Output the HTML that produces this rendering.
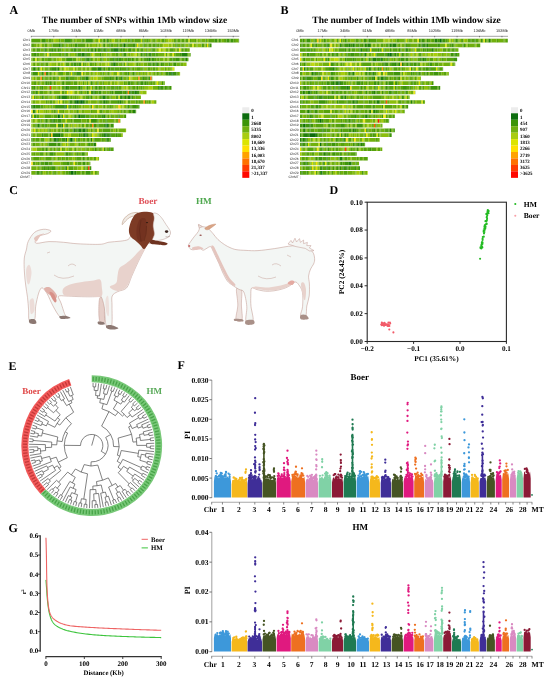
<!DOCTYPE html>
<html><head><meta charset="utf-8"><style>
html,body{margin:0;padding:0;background:#fff;width:550px;height:683px;overflow:hidden}
svg{display:block} text{text-rendering:geometricPrecision}
</style></head><body>
<svg width="550" height="683" viewBox="0 0 550 683">
<defs><filter id="hb" x="-2%" y="-2%" width="104%" height="104%"><feGaussianBlur stdDeviation="0.6 0.35"/></filter></defs>
<rect width="550" height="683" fill="#fff"/>
<text x="9.5" y="13.9" font-family="'Liberation Serif', 'Times New Roman', serif" font-weight="bold" font-size="12">A</text>
<text x="41.8" y="22.9" font-family="'Liberation Serif', 'Times New Roman', serif" font-weight="bold" font-size="9.5">The number of SNPs within 1Mb window size</text>
<line x1="31.3" y1="36.3" x2="239.33" y2="36.3" stroke="#9a9a9a" stroke-width="0.9"/>
<line x1="31.3" y1="35.9" x2="31.3" y2="37.3" stroke="#444" stroke-width="0.6"/>
<text x="31.3" y="31.9" font-family="'Liberation Sans', Arial, sans-serif" font-size="3.9" text-anchor="middle" fill="#222">0Mb</text>
<line x1="53.74" y1="35.9" x2="53.74" y2="37.3" stroke="#444" stroke-width="0.6"/>
<text x="53.74" y="31.9" font-family="'Liberation Sans', Arial, sans-serif" font-size="3.9" text-anchor="middle" fill="#222">17Mb</text>
<line x1="76.18" y1="35.9" x2="76.18" y2="37.3" stroke="#444" stroke-width="0.6"/>
<text x="76.18" y="31.9" font-family="'Liberation Sans', Arial, sans-serif" font-size="3.9" text-anchor="middle" fill="#222">34Mb</text>
<line x1="98.62" y1="35.9" x2="98.62" y2="37.3" stroke="#444" stroke-width="0.6"/>
<text x="98.62" y="31.9" font-family="'Liberation Sans', Arial, sans-serif" font-size="3.9" text-anchor="middle" fill="#222">51Mb</text>
<line x1="121.06" y1="35.9" x2="121.06" y2="37.3" stroke="#444" stroke-width="0.6"/>
<text x="121.06" y="31.9" font-family="'Liberation Sans', Arial, sans-serif" font-size="3.9" text-anchor="middle" fill="#222">68Mb</text>
<line x1="143.5" y1="35.9" x2="143.5" y2="37.3" stroke="#444" stroke-width="0.6"/>
<text x="143.5" y="31.9" font-family="'Liberation Sans', Arial, sans-serif" font-size="3.9" text-anchor="middle" fill="#222">85Mb</text>
<line x1="165.94" y1="35.9" x2="165.94" y2="37.3" stroke="#444" stroke-width="0.6"/>
<text x="165.94" y="31.9" font-family="'Liberation Sans', Arial, sans-serif" font-size="3.9" text-anchor="middle" fill="#222">102Mb</text>
<line x1="188.38" y1="35.9" x2="188.38" y2="37.3" stroke="#444" stroke-width="0.6"/>
<text x="188.38" y="31.9" font-family="'Liberation Sans', Arial, sans-serif" font-size="3.9" text-anchor="middle" fill="#222">119Mb</text>
<line x1="210.82" y1="35.9" x2="210.82" y2="37.3" stroke="#444" stroke-width="0.6"/>
<text x="210.82" y="31.9" font-family="'Liberation Sans', Arial, sans-serif" font-size="3.9" text-anchor="middle" fill="#222">136Mb</text>
<line x1="233.26" y1="35.9" x2="233.26" y2="37.3" stroke="#444" stroke-width="0.6"/>
<text x="233.26" y="31.9" font-family="'Liberation Sans', Arial, sans-serif" font-size="3.9" text-anchor="middle" fill="#222">153Mb</text>
<text x="30" y="41.4" font-family="'Liberation Sans', Arial, sans-serif" font-size="3.3" text-anchor="end" fill="#333">Chr1</text>
<text x="30" y="46.13" font-family="'Liberation Sans', Arial, sans-serif" font-size="3.3" text-anchor="end" fill="#333">Chr2</text>
<text x="30" y="50.85" font-family="'Liberation Sans', Arial, sans-serif" font-size="3.3" text-anchor="end" fill="#333">Chr3</text>
<text x="30" y="55.58" font-family="'Liberation Sans', Arial, sans-serif" font-size="3.3" text-anchor="end" fill="#333">Chr4</text>
<text x="30" y="60.3" font-family="'Liberation Sans', Arial, sans-serif" font-size="3.3" text-anchor="end" fill="#333">Chr5</text>
<text x="30" y="65.03" font-family="'Liberation Sans', Arial, sans-serif" font-size="3.3" text-anchor="end" fill="#333">Chr6</text>
<text x="30" y="69.75" font-family="'Liberation Sans', Arial, sans-serif" font-size="3.3" text-anchor="end" fill="#333">Chr7</text>
<text x="30" y="74.48" font-family="'Liberation Sans', Arial, sans-serif" font-size="3.3" text-anchor="end" fill="#333">Chr8</text>
<text x="30" y="79.2" font-family="'Liberation Sans', Arial, sans-serif" font-size="3.3" text-anchor="end" fill="#333">Chr9</text>
<text x="30" y="83.92" font-family="'Liberation Sans', Arial, sans-serif" font-size="3.3" text-anchor="end" fill="#333">Chr10</text>
<text x="30" y="88.65" font-family="'Liberation Sans', Arial, sans-serif" font-size="3.3" text-anchor="end" fill="#333">Chr11</text>
<text x="30" y="93.38" font-family="'Liberation Sans', Arial, sans-serif" font-size="3.3" text-anchor="end" fill="#333">Chr12</text>
<text x="30" y="98.1" font-family="'Liberation Sans', Arial, sans-serif" font-size="3.3" text-anchor="end" fill="#333">Chr13</text>
<text x="30" y="102.83" font-family="'Liberation Sans', Arial, sans-serif" font-size="3.3" text-anchor="end" fill="#333">Chr14</text>
<text x="30" y="107.55" font-family="'Liberation Sans', Arial, sans-serif" font-size="3.3" text-anchor="end" fill="#333">Chr15</text>
<text x="30" y="112.28" font-family="'Liberation Sans', Arial, sans-serif" font-size="3.3" text-anchor="end" fill="#333">Chr16</text>
<text x="30" y="117" font-family="'Liberation Sans', Arial, sans-serif" font-size="3.3" text-anchor="end" fill="#333">Chr17</text>
<text x="30" y="121.72" font-family="'Liberation Sans', Arial, sans-serif" font-size="3.3" text-anchor="end" fill="#333">Chr18</text>
<text x="30" y="126.45" font-family="'Liberation Sans', Arial, sans-serif" font-size="3.3" text-anchor="end" fill="#333">Chr19</text>
<text x="30" y="131.17" font-family="'Liberation Sans', Arial, sans-serif" font-size="3.3" text-anchor="end" fill="#333">Chr20</text>
<text x="30" y="135.9" font-family="'Liberation Sans', Arial, sans-serif" font-size="3.3" text-anchor="end" fill="#333">Chr21</text>
<text x="30" y="140.62" font-family="'Liberation Sans', Arial, sans-serif" font-size="3.3" text-anchor="end" fill="#333">Chr22</text>
<text x="30" y="145.35" font-family="'Liberation Sans', Arial, sans-serif" font-size="3.3" text-anchor="end" fill="#333">Chr23</text>
<text x="30" y="150.07" font-family="'Liberation Sans', Arial, sans-serif" font-size="3.3" text-anchor="end" fill="#333">Chr24</text>
<text x="30" y="154.8" font-family="'Liberation Sans', Arial, sans-serif" font-size="3.3" text-anchor="end" fill="#333">Chr25</text>
<text x="30" y="159.52" font-family="'Liberation Sans', Arial, sans-serif" font-size="3.3" text-anchor="end" fill="#333">Chr26</text>
<text x="30" y="164.25" font-family="'Liberation Sans', Arial, sans-serif" font-size="3.3" text-anchor="end" fill="#333">Chr27</text>
<text x="30" y="168.97" font-family="'Liberation Sans', Arial, sans-serif" font-size="3.3" text-anchor="end" fill="#333">Chr28</text>
<text x="30" y="173.7" font-family="'Liberation Sans', Arial, sans-serif" font-size="3.3" text-anchor="end" fill="#333">Chr29</text>
<text x="30" y="178.42" font-family="'Liberation Sans', Arial, sans-serif" font-size="3.3" text-anchor="end" fill="#333">ChrMT</text>
<rect x="31.3" y="175.72" width="0.6" height="3.4" fill="#ddd"/>
<g filter="url(#hb)">
<path fill="#0c6c0e" d="M123.7 43.53h1.36v3.6h-1.36zM117.1 48.25h1.36v3.6h-1.36zM171.22 71.88h1.36v3.6h-1.36zM76.18 100.22h2.68v3.6h-2.68zM80.14 100.22h2.68v3.6h-2.68zM64.3 104.95h1.36v3.6h-1.36zM57.7 114.4h1.36v3.6h-1.36zM78.82 114.4h1.36v3.6h-1.36zM106.54 123.85h1.36v3.6h-1.36zM73.54 128.57h1.36v3.6h-1.36zM59.02 133.3h1.36v3.6h-1.36zM84.1 133.3h1.36v3.6h-1.36zM105.22 133.3h1.36v3.6h-1.36zM56.38 138.03h1.36v3.6h-1.36zM65.62 138.03h1.36v3.6h-1.36zM70.9 138.03h1.36v3.6h-1.36zM70.9 171.1h2.68v3.6h-2.68z"/>
<path fill="#24800b" d="M106.54 38.8h1.36v3.6h-1.36zM238.54 38.8h0.57v3.6h-0.57zM59.02 43.53h1.36v3.6h-1.36zM44.5 48.25h1.36v3.6h-1.36zM73.54 48.25h1.36v3.6h-1.36zM94.66 48.25h1.36v3.6h-1.36zM101.26 48.25h1.36v3.6h-1.36zM105.22 48.25h1.36v3.6h-1.36zM113.14 48.25h4v3.6h-4zM121.06 48.25h1.36v3.6h-1.36zM81.46 52.98h2.68v3.6h-2.68zM85.42 52.98h1.36v3.6h-1.36zM146.14 52.98h1.36v3.6h-1.36zM150.1 52.98h1.36v3.6h-1.36zM181.78 52.98h5.32v3.6h-5.32zM85.42 57.7h1.36v3.6h-1.36zM88.06 57.7h1.36v3.6h-1.36zM113.14 57.7h1.36v3.6h-1.36zM117.1 57.7h1.36v3.6h-1.36zM148.78 57.7h1.36v3.6h-1.36zM185.74 57.7h1.36v3.6h-1.36zM113.14 62.43h2.68v3.6h-2.68zM155.38 62.43h1.36v3.6h-1.36zM33.94 67.15h1.36v3.6h-1.36zM55.06 67.15h1.36v3.6h-1.36zM57.7 67.15h1.36v3.6h-1.36zM97.3 67.15h4v3.6h-4zM80.14 71.88h1.36v3.6h-1.36zM168.58 71.88h1.36v3.6h-1.36zM172.54 71.88h1.36v3.6h-1.36zM68.26 76.6h1.36v3.6h-1.36zM85.42 76.6h2.68v3.6h-2.68zM115.78 76.6h1.36v3.6h-1.36zM121.06 76.6h1.36v3.6h-1.36zM65.62 86.05h1.36v3.6h-1.36zM78.82 86.05h1.36v3.6h-1.36zM159.34 86.05h1.36v3.6h-1.36zM93.34 90.77h1.36v3.6h-1.36zM126.34 90.77h1.36v3.6h-1.36zM130.3 90.77h1.36v3.6h-1.36zM134.26 90.77h2.68v3.6h-2.68zM59.02 95.5h1.36v3.6h-1.36zM61.66 95.5h5.32v3.6h-5.32zM102.58 95.5h2.68v3.6h-2.68zM121.06 95.5h1.36v3.6h-1.36zM125.02 95.5h1.36v3.6h-1.36zM127.66 95.5h2.68v3.6h-2.68zM74.86 100.22h1.36v3.6h-1.36zM82.78 100.22h1.36v3.6h-1.36zM103.9 100.22h1.36v3.6h-1.36zM119.74 100.22h1.36v3.6h-1.36zM31.3 104.95h1.36v3.6h-1.36zM33.94 104.95h1.36v3.6h-1.36zM68.26 104.95h1.36v3.6h-1.36zM32.62 109.67h1.36v3.6h-1.36zM132.94 109.67h2.68v3.6h-2.68zM31.3 114.4h1.36v3.6h-1.36zM59.02 114.4h1.36v3.6h-1.36zM77.5 114.4h1.36v3.6h-1.36zM84.1 114.4h1.36v3.6h-1.36zM103.9 114.4h1.36v3.6h-1.36zM118.42 114.4h1.36v3.6h-1.36zM52.42 119.12h1.36v3.6h-1.36zM37.9 123.85h1.36v3.6h-1.36zM61.66 123.85h1.36v3.6h-1.36zM105.22 123.85h1.36v3.6h-1.36zM76.18 128.57h1.36v3.6h-1.36zM78.82 128.57h2.68v3.6h-2.68zM82.78 128.57h2.68v3.6h-2.68zM52.42 133.3h6.64v3.6h-6.64zM85.42 133.3h1.36v3.6h-1.36zM103.9 133.3h1.36v3.6h-1.36zM106.54 133.3h1.36v3.6h-1.36zM109.18 133.3h1.36v3.6h-1.36zM53.74 138.03h2.68v3.6h-2.68zM69.58 138.03h1.36v3.6h-1.36zM90.7 138.03h1.36v3.6h-1.36zM106.54 138.03h1.36v3.6h-1.36zM93.34 142.75h2.68v3.6h-2.68zM109.18 147.47h1.36v3.6h-1.36zM113.14 147.47h0.44v3.6h-0.44zM65.62 166.37h1.36v3.6h-1.36zM74.86 171.1h1.36v3.6h-1.36z"/>
<path fill="#3c9408" d="M41.86 38.8h4v3.6h-4zM64.3 38.8h6.64v3.6h-6.64zM81.46 38.8h1.36v3.6h-1.36zM85.42 38.8h6.64v3.6h-6.64zM103.9 38.8h1.36v3.6h-1.36zM130.3 38.8h1.36v3.6h-1.36zM142.18 38.8h1.36v3.6h-1.36zM175.18 38.8h1.36v3.6h-1.36zM205.54 38.8h1.36v3.6h-1.36zM214.78 38.8h2.68v3.6h-2.68zM218.74 38.8h1.36v3.6h-1.36zM226.66 38.8h2.68v3.6h-2.68zM230.62 38.8h2.68v3.6h-2.68zM60.34 43.53h1.36v3.6h-1.36zM74.86 43.53h2.68v3.6h-2.68zM103.9 43.53h1.36v3.6h-1.36zM109.18 43.53h1.36v3.6h-1.36zM117.1 43.53h1.36v3.6h-1.36zM122.38 43.53h1.36v3.6h-1.36zM126.34 43.53h1.36v3.6h-1.36zM132.94 43.53h2.68v3.6h-2.68zM143.5 43.53h1.36v3.6h-1.36zM155.38 43.53h1.36v3.6h-1.36zM175.18 43.53h1.36v3.6h-1.36zM201.58 43.53h1.36v3.6h-1.36zM205.54 43.53h1.36v3.6h-1.36zM209.5 43.53h2.02v3.6h-2.02zM36.58 48.25h1.36v3.6h-1.36zM51.1 48.25h2.68v3.6h-2.68zM55.06 48.25h1.36v3.6h-1.36zM57.7 48.25h1.36v3.6h-1.36zM74.86 48.25h1.36v3.6h-1.36zM77.5 48.25h1.36v3.6h-1.36zM85.42 48.25h1.36v3.6h-1.36zM88.06 48.25h1.36v3.6h-1.36zM90.7 48.25h2.68v3.6h-2.68zM97.3 48.25h2.68v3.6h-2.68zM103.9 48.25h1.36v3.6h-1.36zM110.5 48.25h2.68v3.6h-2.68zM118.42 48.25h1.36v3.6h-1.36zM122.38 48.25h2.68v3.6h-2.68zM128.98 48.25h2.68v3.6h-2.68zM151.42 48.25h1.36v3.6h-1.36zM33.94 52.98h2.68v3.6h-2.68zM64.3 52.98h1.36v3.6h-1.36zM77.5 52.98h4v3.6h-4zM84.1 52.98h1.36v3.6h-1.36zM99.94 52.98h1.36v3.6h-1.36zM123.7 52.98h2.68v3.6h-2.68zM140.86 52.98h1.36v3.6h-1.36zM143.5 52.98h1.36v3.6h-1.36zM148.78 52.98h1.36v3.6h-1.36zM154.06 52.98h1.36v3.6h-1.36zM179.14 52.98h2.68v3.6h-2.68zM66.94 57.7h5.32v3.6h-5.32zM86.74 57.7h1.36v3.6h-1.36zM89.38 57.7h1.36v3.6h-1.36zM101.26 57.7h1.36v3.6h-1.36zM114.46 57.7h1.36v3.6h-1.36zM118.42 57.7h2.68v3.6h-2.68zM127.66 57.7h1.36v3.6h-1.36zM131.62 57.7h1.36v3.6h-1.36zM143.5 57.7h1.36v3.6h-1.36zM146.14 57.7h2.68v3.6h-2.68zM151.42 57.7h2.68v3.6h-2.68zM172.54 57.7h1.36v3.6h-1.36zM175.18 57.7h4v3.6h-4zM184.42 57.7h1.36v3.6h-1.36zM73.54 62.43h2.68v3.6h-2.68zM78.82 62.43h2.68v3.6h-2.68zM110.5 62.43h1.36v3.6h-1.36zM150.1 62.43h1.36v3.6h-1.36zM152.74 62.43h1.36v3.6h-1.36zM156.7 62.43h1.36v3.6h-1.36zM160.66 62.43h1.36v3.6h-1.36zM168.58 62.43h1.36v3.6h-1.36zM173.86 62.43h2.68v3.6h-2.68zM32.62 67.15h1.36v3.6h-1.36zM35.26 67.15h1.36v3.6h-1.36zM37.9 67.15h1.36v3.6h-1.36zM51.1 67.15h4v3.6h-4zM56.38 67.15h1.36v3.6h-1.36zM92.02 67.15h4v3.6h-4zM101.26 67.15h1.36v3.6h-1.36zM103.9 67.15h1.36v3.6h-1.36zM107.86 67.15h2.68v3.6h-2.68zM113.14 67.15h1.36v3.6h-1.36zM119.74 67.15h1.36v3.6h-1.36zM126.34 67.15h1.36v3.6h-1.36zM32.62 71.88h5.32v3.6h-5.32zM39.22 71.88h1.36v3.6h-1.36zM41.86 71.88h1.36v3.6h-1.36zM45.82 71.88h2.68v3.6h-2.68zM72.22 71.88h1.36v3.6h-1.36zM76.18 71.88h4v3.6h-4zM127.66 71.88h1.36v3.6h-1.36zM132.94 71.88h1.36v3.6h-1.36zM165.94 71.88h2.68v3.6h-2.68zM169.9 71.88h1.36v3.6h-1.36zM173.86 71.88h2.68v3.6h-2.68zM56.38 76.6h1.36v3.6h-1.36zM65.62 76.6h2.68v3.6h-2.68zM80.14 76.6h1.36v3.6h-1.36zM84.1 76.6h1.36v3.6h-1.36zM109.18 76.6h2.68v3.6h-2.68zM113.14 76.6h1.36v3.6h-1.36zM117.1 76.6h1.36v3.6h-1.36zM142.18 76.6h2.68v3.6h-2.68zM146.14 76.6h1.36v3.6h-1.36zM148.78 76.6h1.36v3.6h-1.36zM45.82 81.32h1.36v3.6h-1.36zM49.78 81.32h1.36v3.6h-1.36zM62.98 81.32h1.36v3.6h-1.36zM90.7 81.32h1.36v3.6h-1.36zM97.3 81.32h1.36v3.6h-1.36zM127.66 81.32h2.68v3.6h-2.68zM138.22 81.32h1.36v3.6h-1.36zM140.86 81.32h2.68v3.6h-2.68zM144.82 81.32h1.36v3.6h-1.36zM161.98 81.32h1.36v3.6h-1.36zM33.94 86.05h1.36v3.6h-1.36zM41.86 86.05h1.36v3.6h-1.36zM64.3 86.05h1.36v3.6h-1.36zM66.94 86.05h2.68v3.6h-2.68zM77.5 86.05h1.36v3.6h-1.36zM86.74 86.05h1.36v3.6h-1.36zM95.98 86.05h1.36v3.6h-1.36zM98.62 86.05h1.36v3.6h-1.36zM103.9 86.05h1.36v3.6h-1.36zM110.5 86.05h1.36v3.6h-1.36zM114.46 86.05h1.36v3.6h-1.36zM117.1 86.05h1.36v3.6h-1.36zM136.9 86.05h1.36v3.6h-1.36zM158.02 86.05h1.36v3.6h-1.36zM160.66 86.05h2.68v3.6h-2.68zM164.62 86.05h1.36v3.6h-1.36zM167.26 86.05h1.36v3.6h-1.36zM169.9 86.05h1.36v3.6h-1.36zM31.3 90.77h1.36v3.6h-1.36zM35.26 90.77h2.68v3.6h-2.68zM86.74 90.77h1.36v3.6h-1.36zM90.7 90.77h2.68v3.6h-2.68zM94.66 90.77h1.36v3.6h-1.36zM98.62 90.77h2.68v3.6h-2.68zM111.82 90.77h1.36v3.6h-1.36zM114.46 90.77h7.96v3.6h-7.96zM125.02 90.77h1.36v3.6h-1.36zM128.98 90.77h1.36v3.6h-1.36zM131.62 90.77h2.68v3.6h-2.68zM136.9 90.77h2.68v3.6h-2.68zM41.86 95.5h1.36v3.6h-1.36zM60.34 95.5h1.36v3.6h-1.36zM88.06 95.5h1.36v3.6h-1.36zM90.7 95.5h1.36v3.6h-1.36zM101.26 95.5h1.36v3.6h-1.36zM105.22 95.5h1.36v3.6h-1.36zM117.1 95.5h1.36v3.6h-1.36zM119.74 95.5h1.36v3.6h-1.36zM122.38 95.5h1.36v3.6h-1.36zM126.34 95.5h1.36v3.6h-1.36zM131.62 95.5h1.36v3.6h-1.36zM69.58 100.22h2.68v3.6h-2.68zM73.54 100.22h1.36v3.6h-1.36zM78.82 100.22h1.36v3.6h-1.36zM84.1 100.22h1.36v3.6h-1.36zM102.58 100.22h1.36v3.6h-1.36zM105.22 100.22h2.68v3.6h-2.68zM117.1 100.22h2.68v3.6h-2.68zM135.58 100.22h1.36v3.6h-1.36zM32.62 104.95h1.36v3.6h-1.36zM35.26 104.95h5.32v3.6h-5.32zM55.06 104.95h9.28v3.6h-9.28zM65.62 104.95h1.36v3.6h-1.36zM69.58 104.95h1.36v3.6h-1.36zM74.86 104.95h1.36v3.6h-1.36zM127.66 104.95h1.36v3.6h-1.36zM130.3 104.95h1.36v3.6h-1.36zM132.94 104.95h4v3.6h-4zM138.22 104.95h1.23v3.6h-1.23zM33.94 109.67h1.36v3.6h-1.36zM56.38 109.67h1.36v3.6h-1.36zM128.98 109.67h2.68v3.6h-2.68zM33.94 114.4h2.68v3.6h-2.68zM61.66 114.4h1.36v3.6h-1.36zM64.3 114.4h1.36v3.6h-1.36zM74.86 114.4h1.36v3.6h-1.36zM80.14 114.4h4v3.6h-4zM89.38 114.4h1.36v3.6h-1.36zM101.26 114.4h2.68v3.6h-2.68zM110.5 114.4h1.36v3.6h-1.36zM125.02 114.4h1.1v3.6h-1.1zM45.82 119.12h1.36v3.6h-1.36zM51.1 119.12h1.36v3.6h-1.36zM53.74 119.12h1.36v3.6h-1.36zM57.7 119.12h4v3.6h-4zM90.7 119.12h5.32v3.6h-5.32zM97.3 119.12h1.36v3.6h-1.36zM105.22 119.12h1.36v3.6h-1.36zM35.26 123.85h1.36v3.6h-1.36zM39.22 123.85h1.36v3.6h-1.36zM44.5 123.85h1.36v3.6h-1.36zM55.06 123.85h1.36v3.6h-1.36zM57.7 123.85h4v3.6h-4zM64.3 123.85h1.36v3.6h-1.36zM93.34 123.85h2.68v3.6h-2.68zM97.3 123.85h1.36v3.6h-1.36zM103.9 123.85h1.36v3.6h-1.36zM107.86 123.85h1.36v3.6h-1.36zM110.5 123.85h2.68v3.6h-2.68zM66.94 128.57h1.36v3.6h-1.36zM77.5 128.57h1.36v3.6h-1.36zM81.46 128.57h1.36v3.6h-1.36zM85.42 128.57h1.36v3.6h-1.36zM41.86 133.3h1.36v3.6h-1.36zM49.78 133.3h1.36v3.6h-1.36zM60.34 133.3h2.68v3.6h-2.68zM78.82 133.3h1.36v3.6h-1.36zM82.78 133.3h1.36v3.6h-1.36zM86.74 133.3h1.36v3.6h-1.36zM101.26 133.3h2.68v3.6h-2.68zM107.86 133.3h1.36v3.6h-1.36zM110.5 133.3h1.36v3.6h-1.36zM115.78 133.3h1.36v3.6h-1.36zM31.3 138.03h1.36v3.6h-1.36zM57.7 138.03h1.36v3.6h-1.36zM61.66 138.03h4v3.6h-4zM68.26 138.03h1.36v3.6h-1.36zM72.22 138.03h1.36v3.6h-1.36zM76.18 138.03h1.36v3.6h-1.36zM88.06 138.03h1.36v3.6h-1.36zM93.34 138.03h1.36v3.6h-1.36zM105.22 138.03h1.36v3.6h-1.36zM107.86 138.03h1.36v3.6h-1.36zM110.5 138.03h0.44v3.6h-0.44zM48.46 142.75h7.96v3.6h-7.96zM57.7 142.75h2.68v3.6h-2.68zM88.06 142.75h2.68v3.6h-2.68zM45.82 147.47h1.36v3.6h-1.36zM56.38 147.47h1.36v3.6h-1.36zM94.66 147.47h1.36v3.6h-1.36zM103.9 147.47h1.36v3.6h-1.36zM49.78 152.2h4v3.6h-4zM65.62 152.2h2.68v3.6h-2.68zM81.46 152.2h2.68v3.6h-2.68zM82.78 156.92h1.36v3.6h-1.36zM40.54 161.65h1.36v3.6h-1.36zM44.5 161.65h4v3.6h-4zM51.1 161.65h1.36v3.6h-1.36zM66.94 161.65h2.68v3.6h-2.68zM82.78 161.65h2.68v3.6h-2.68zM43.18 166.37h2.68v3.6h-2.68zM47.14 166.37h2.68v3.6h-2.68zM51.1 166.37h4v3.6h-4zM64.3 166.37h1.36v3.6h-1.36zM89.38 166.37h1.89v3.6h-1.89zM36.58 171.1h2.68v3.6h-2.68zM40.54 171.1h1.36v3.6h-1.36zM52.42 171.1h1.36v3.6h-1.36zM68.26 171.1h2.68v3.6h-2.68zM73.54 171.1h1.36v3.6h-1.36zM85.42 171.1h5.32v3.6h-5.32z"/>
<path fill="#56a20c" d="M31.3 38.8h9.28v3.6h-9.28zM48.46 38.8h2.68v3.6h-2.68zM59.02 38.8h1.36v3.6h-1.36zM70.9 38.8h1.36v3.6h-1.36zM73.54 38.8h1.36v3.6h-1.36zM82.78 38.8h1.36v3.6h-1.36zM92.02 38.8h1.36v3.6h-1.36zM102.58 38.8h1.36v3.6h-1.36zM107.86 38.8h1.36v3.6h-1.36zM117.1 38.8h1.36v3.6h-1.36zM119.74 38.8h1.36v3.6h-1.36zM127.66 38.8h1.36v3.6h-1.36zM131.62 38.8h1.36v3.6h-1.36zM134.26 38.8h6.64v3.6h-6.64zM143.5 38.8h1.36v3.6h-1.36zM146.14 38.8h2.68v3.6h-2.68zM151.42 38.8h1.36v3.6h-1.36zM154.06 38.8h1.36v3.6h-1.36zM161.98 38.8h2.68v3.6h-2.68zM173.86 38.8h1.36v3.6h-1.36zM177.82 38.8h2.68v3.6h-2.68zM181.78 38.8h2.68v3.6h-2.68zM185.74 38.8h2.68v3.6h-2.68zM189.7 38.8h1.36v3.6h-1.36zM194.98 38.8h1.36v3.6h-1.36zM200.26 38.8h1.36v3.6h-1.36zM208.18 38.8h6.64v3.6h-6.64zM220.06 38.8h1.36v3.6h-1.36zM224.02 38.8h2.68v3.6h-2.68zM229.3 38.8h1.36v3.6h-1.36zM233.26 38.8h2.68v3.6h-2.68zM31.3 43.53h2.68v3.6h-2.68zM44.5 43.53h2.68v3.6h-2.68zM52.42 43.53h6.64v3.6h-6.64zM61.66 43.53h1.36v3.6h-1.36zM64.3 43.53h1.36v3.6h-1.36zM70.9 43.53h1.36v3.6h-1.36zM77.5 43.53h7.96v3.6h-7.96zM86.74 43.53h1.36v3.6h-1.36zM102.58 43.53h1.36v3.6h-1.36zM106.54 43.53h1.36v3.6h-1.36zM110.5 43.53h2.68v3.6h-2.68zM119.74 43.53h2.68v3.6h-2.68zM125.02 43.53h1.36v3.6h-1.36zM127.66 43.53h5.32v3.6h-5.32zM146.14 43.53h1.36v3.6h-1.36zM148.78 43.53h2.68v3.6h-2.68zM152.74 43.53h2.68v3.6h-2.68zM158.02 43.53h1.36v3.6h-1.36zM172.54 43.53h1.36v3.6h-1.36zM176.5 43.53h1.36v3.6h-1.36zM180.46 43.53h1.36v3.6h-1.36zM183.1 43.53h1.36v3.6h-1.36zM188.38 43.53h1.36v3.6h-1.36zM202.9 43.53h1.36v3.6h-1.36zM208.18 43.53h1.36v3.6h-1.36zM32.62 48.25h2.68v3.6h-2.68zM37.9 48.25h2.68v3.6h-2.68zM43.18 48.25h1.36v3.6h-1.36zM45.82 48.25h1.36v3.6h-1.36zM48.46 48.25h2.68v3.6h-2.68zM53.74 48.25h1.36v3.6h-1.36zM56.38 48.25h1.36v3.6h-1.36zM59.02 48.25h2.68v3.6h-2.68zM64.3 48.25h1.36v3.6h-1.36zM68.26 48.25h1.36v3.6h-1.36zM70.9 48.25h2.68v3.6h-2.68zM76.18 48.25h1.36v3.6h-1.36zM78.82 48.25h2.68v3.6h-2.68zM84.1 48.25h1.36v3.6h-1.36zM89.38 48.25h1.36v3.6h-1.36zM93.34 48.25h1.36v3.6h-1.36zM99.94 48.25h1.36v3.6h-1.36zM102.58 48.25h1.36v3.6h-1.36zM106.54 48.25h1.36v3.6h-1.36zM109.18 48.25h1.36v3.6h-1.36zM119.74 48.25h1.36v3.6h-1.36zM127.66 48.25h1.36v3.6h-1.36zM132.94 48.25h2.68v3.6h-2.68zM136.9 48.25h2.68v3.6h-2.68zM140.86 48.25h2.68v3.6h-2.68zM146.14 48.25h1.36v3.6h-1.36zM152.74 48.25h2.68v3.6h-2.68zM169.9 48.25h4v3.6h-4zM181.78 48.25h1.36v3.6h-1.36zM184.42 48.25h2.68v3.6h-2.68zM31.3 52.98h2.68v3.6h-2.68zM36.58 52.98h2.68v3.6h-2.68zM43.18 52.98h1.36v3.6h-1.36zM49.78 52.98h1.36v3.6h-1.36zM59.02 52.98h2.68v3.6h-2.68zM65.62 52.98h2.68v3.6h-2.68zM76.18 52.98h1.36v3.6h-1.36zM86.74 52.98h4v3.6h-4zM115.78 52.98h2.68v3.6h-2.68zM122.38 52.98h1.36v3.6h-1.36zM142.18 52.98h1.36v3.6h-1.36zM147.46 52.98h1.36v3.6h-1.36zM151.42 52.98h2.68v3.6h-2.68zM155.38 52.98h2.68v3.6h-2.68zM165.94 52.98h1.36v3.6h-1.36zM175.18 52.98h4v3.6h-4zM187.06 52.98h1.36v3.6h-1.36zM189.7 52.98h0.96v3.6h-0.96zM32.62 57.7h2.68v3.6h-2.68zM36.58 57.7h1.36v3.6h-1.36zM41.86 57.7h2.68v3.6h-2.68zM47.14 57.7h4v3.6h-4zM52.42 57.7h1.36v3.6h-1.36zM65.62 57.7h1.36v3.6h-1.36zM72.22 57.7h4v3.6h-4zM80.14 57.7h1.36v3.6h-1.36zM84.1 57.7h1.36v3.6h-1.36zM90.7 57.7h1.36v3.6h-1.36zM99.94 57.7h1.36v3.6h-1.36zM109.18 57.7h4v3.6h-4zM115.78 57.7h1.36v3.6h-1.36zM121.06 57.7h2.68v3.6h-2.68zM125.02 57.7h2.68v3.6h-2.68zM128.98 57.7h2.68v3.6h-2.68zM132.94 57.7h1.36v3.6h-1.36zM135.58 57.7h2.68v3.6h-2.68zM140.86 57.7h1.36v3.6h-1.36zM144.82 57.7h1.36v3.6h-1.36zM150.1 57.7h1.36v3.6h-1.36zM154.06 57.7h2.68v3.6h-2.68zM158.02 57.7h1.36v3.6h-1.36zM169.9 57.7h2.68v3.6h-2.68zM173.86 57.7h1.36v3.6h-1.36zM179.14 57.7h1.36v3.6h-1.36zM181.78 57.7h2.68v3.6h-2.68zM187.06 57.7h1.36v3.6h-1.36zM33.94 62.43h1.36v3.6h-1.36zM39.22 62.43h1.36v3.6h-1.36zM43.18 62.43h1.36v3.6h-1.36zM45.82 62.43h2.68v3.6h-2.68zM65.62 62.43h4v3.6h-4zM70.9 62.43h2.68v3.6h-2.68zM76.18 62.43h2.68v3.6h-2.68zM82.78 62.43h1.36v3.6h-1.36zM89.38 62.43h2.68v3.6h-2.68zM94.66 62.43h1.36v3.6h-1.36zM111.82 62.43h1.36v3.6h-1.36zM115.78 62.43h2.68v3.6h-2.68zM121.06 62.43h1.36v3.6h-1.36zM123.7 62.43h1.36v3.6h-1.36zM126.34 62.43h1.36v3.6h-1.36zM136.9 62.43h1.36v3.6h-1.36zM147.46 62.43h2.68v3.6h-2.68zM151.42 62.43h1.36v3.6h-1.36zM154.06 62.43h1.36v3.6h-1.36zM158.02 62.43h1.36v3.6h-1.36zM161.98 62.43h2.68v3.6h-2.68zM172.54 62.43h1.36v3.6h-1.36zM179.14 62.43h1.36v3.6h-1.36zM31.3 67.15h1.36v3.6h-1.36zM39.22 67.15h1.36v3.6h-1.36zM47.14 67.15h1.36v3.6h-1.36zM49.78 67.15h1.36v3.6h-1.36zM95.98 67.15h1.36v3.6h-1.36zM102.58 67.15h1.36v3.6h-1.36zM110.5 67.15h2.68v3.6h-2.68zM114.46 67.15h5.32v3.6h-5.32zM121.06 67.15h5.32v3.6h-5.32zM127.66 67.15h1.36v3.6h-1.36zM130.3 67.15h1.36v3.6h-1.36zM132.94 67.15h1.36v3.6h-1.36zM136.9 67.15h4v3.6h-4zM142.18 67.15h1.36v3.6h-1.36zM147.46 67.15h2.68v3.6h-2.68zM152.74 67.15h2.68v3.6h-2.68zM164.62 67.15h1.36v3.6h-1.36zM31.3 71.88h1.36v3.6h-1.36zM43.18 71.88h1.36v3.6h-1.36zM49.78 71.88h1.36v3.6h-1.36zM59.02 71.88h4v3.6h-4zM65.62 71.88h4v3.6h-4zM73.54 71.88h1.36v3.6h-1.36zM102.58 71.88h1.36v3.6h-1.36zM105.22 71.88h1.36v3.6h-1.36zM107.86 71.88h1.36v3.6h-1.36zM122.38 71.88h1.36v3.6h-1.36zM125.02 71.88h2.68v3.6h-2.68zM130.3 71.88h1.36v3.6h-1.36zM134.26 71.88h1.36v3.6h-1.36zM146.14 71.88h1.36v3.6h-1.36zM154.06 71.88h1.36v3.6h-1.36zM156.7 71.88h1.36v3.6h-1.36zM159.34 71.88h1.36v3.6h-1.36zM163.3 71.88h1.36v3.6h-1.36zM176.5 71.88h1.36v3.6h-1.36zM41.86 76.6h1.36v3.6h-1.36zM44.5 76.6h1.36v3.6h-1.36zM47.14 76.6h1.36v3.6h-1.36zM49.78 76.6h1.36v3.6h-1.36zM52.42 76.6h2.68v3.6h-2.68zM69.58 76.6h5.32v3.6h-5.32zM81.46 76.6h2.68v3.6h-2.68zM88.06 76.6h1.36v3.6h-1.36zM103.9 76.6h5.32v3.6h-5.32zM111.82 76.6h1.36v3.6h-1.36zM118.42 76.6h2.68v3.6h-2.68zM122.38 76.6h1.36v3.6h-1.36zM126.34 76.6h1.36v3.6h-1.36zM144.82 76.6h1.36v3.6h-1.36zM147.46 76.6h1.36v3.6h-1.36zM151.42 76.6h0.83v3.6h-0.83zM33.94 81.32h2.68v3.6h-2.68zM39.22 81.32h1.36v3.6h-1.36zM44.5 81.32h1.36v3.6h-1.36zM47.14 81.32h2.68v3.6h-2.68zM51.1 81.32h1.36v3.6h-1.36zM53.74 81.32h1.36v3.6h-1.36zM61.66 81.32h1.36v3.6h-1.36zM65.62 81.32h5.32v3.6h-5.32zM73.54 81.32h4v3.6h-4zM82.78 81.32h1.36v3.6h-1.36zM86.74 81.32h1.36v3.6h-1.36zM93.34 81.32h1.36v3.6h-1.36zM102.58 81.32h1.36v3.6h-1.36zM123.7 81.32h1.36v3.6h-1.36zM130.3 81.32h2.68v3.6h-2.68zM134.26 81.32h1.36v3.6h-1.36zM136.9 81.32h1.36v3.6h-1.36zM139.54 81.32h1.36v3.6h-1.36zM143.5 81.32h1.36v3.6h-1.36zM146.14 81.32h2.68v3.6h-2.68zM150.1 81.32h2.68v3.6h-2.68zM154.06 81.32h1.36v3.6h-1.36zM159.34 81.32h1.36v3.6h-1.36zM31.3 86.05h2.68v3.6h-2.68zM36.58 86.05h1.36v3.6h-1.36zM39.22 86.05h2.68v3.6h-2.68zM48.46 86.05h1.36v3.6h-1.36zM61.66 86.05h2.68v3.6h-2.68zM69.58 86.05h7.96v3.6h-7.96zM80.14 86.05h2.68v3.6h-2.68zM92.02 86.05h1.36v3.6h-1.36zM94.66 86.05h1.36v3.6h-1.36zM97.3 86.05h1.36v3.6h-1.36zM99.94 86.05h2.68v3.6h-2.68zM106.54 86.05h1.36v3.6h-1.36zM111.82 86.05h2.68v3.6h-2.68zM118.42 86.05h2.68v3.6h-2.68zM130.3 86.05h1.36v3.6h-1.36zM132.94 86.05h2.68v3.6h-2.68zM140.86 86.05h1.36v3.6h-1.36zM163.3 86.05h1.36v3.6h-1.36zM165.94 86.05h1.36v3.6h-1.36zM168.58 86.05h1.36v3.6h-1.36zM171.22 86.05h0.3v3.6h-0.3zM32.62 90.77h1.36v3.6h-1.36zM39.22 90.77h4v3.6h-4zM49.78 90.77h1.36v3.6h-1.36zM61.66 90.77h2.68v3.6h-2.68zM80.14 90.77h2.68v3.6h-2.68zM88.06 90.77h1.36v3.6h-1.36zM95.98 90.77h2.68v3.6h-2.68zM102.58 90.77h1.36v3.6h-1.36zM106.54 90.77h1.36v3.6h-1.36zM109.18 90.77h2.68v3.6h-2.68zM122.38 90.77h2.68v3.6h-2.68zM33.94 95.5h1.36v3.6h-1.36zM43.18 95.5h1.36v3.6h-1.36zM47.14 95.5h1.36v3.6h-1.36zM56.38 95.5h2.68v3.6h-2.68zM66.94 95.5h2.68v3.6h-2.68zM70.9 95.5h1.36v3.6h-1.36zM74.86 95.5h1.36v3.6h-1.36zM85.42 95.5h2.68v3.6h-2.68zM89.38 95.5h1.36v3.6h-1.36zM99.94 95.5h1.36v3.6h-1.36zM106.54 95.5h2.68v3.6h-2.68zM110.5 95.5h1.36v3.6h-1.36zM115.78 95.5h1.36v3.6h-1.36zM123.7 95.5h1.36v3.6h-1.36zM130.3 95.5h1.36v3.6h-1.36zM135.58 95.5h1.36v3.6h-1.36zM45.82 100.22h1.36v3.6h-1.36zM49.78 100.22h2.68v3.6h-2.68zM62.98 100.22h1.36v3.6h-1.36zM68.26 100.22h1.36v3.6h-1.36zM72.22 100.22h1.36v3.6h-1.36zM85.42 100.22h2.68v3.6h-2.68zM97.3 100.22h1.36v3.6h-1.36zM99.94 100.22h2.68v3.6h-2.68zM107.86 100.22h1.36v3.6h-1.36zM110.5 100.22h6.64v3.6h-6.64zM121.06 100.22h2.68v3.6h-2.68zM127.66 100.22h2.68v3.6h-2.68zM138.22 100.22h2.68v3.6h-2.68zM144.82 100.22h1.36v3.6h-1.36zM148.78 100.22h1.36v3.6h-1.36zM40.54 104.95h2.68v3.6h-2.68zM51.1 104.95h1.36v3.6h-1.36zM72.22 104.95h2.68v3.6h-2.68zM76.18 104.95h2.68v3.6h-2.68zM90.7 104.95h1.36v3.6h-1.36zM103.9 104.95h1.36v3.6h-1.36zM106.54 104.95h1.36v3.6h-1.36zM109.18 104.95h2.68v3.6h-2.68zM126.34 104.95h1.36v3.6h-1.36zM131.62 104.95h1.36v3.6h-1.36zM136.9 104.95h1.36v3.6h-1.36zM53.74 109.67h1.36v3.6h-1.36zM62.98 109.67h1.36v3.6h-1.36zM76.18 109.67h2.68v3.6h-2.68zM90.7 109.67h1.36v3.6h-1.36zM99.94 109.67h2.68v3.6h-2.68zM121.06 109.67h1.36v3.6h-1.36zM123.7 109.67h1.36v3.6h-1.36zM126.34 109.67h1.36v3.6h-1.36zM131.62 109.67h1.36v3.6h-1.36zM135.58 109.67h0.57v3.6h-0.57zM36.58 114.4h2.68v3.6h-2.68zM44.5 114.4h6.64v3.6h-6.64zM53.74 114.4h4v3.6h-4zM60.34 114.4h1.36v3.6h-1.36zM73.54 114.4h1.36v3.6h-1.36zM76.18 114.4h1.36v3.6h-1.36zM85.42 114.4h4v3.6h-4zM94.66 114.4h1.36v3.6h-1.36zM97.3 114.4h4v3.6h-4zM105.22 114.4h1.36v3.6h-1.36zM107.86 114.4h1.36v3.6h-1.36zM114.46 114.4h1.36v3.6h-1.36zM117.1 114.4h1.36v3.6h-1.36zM123.7 114.4h1.36v3.6h-1.36zM40.54 119.12h1.36v3.6h-1.36zM44.5 119.12h1.36v3.6h-1.36zM47.14 119.12h1.36v3.6h-1.36zM49.78 119.12h1.36v3.6h-1.36zM55.06 119.12h2.68v3.6h-2.68zM70.9 119.12h1.36v3.6h-1.36zM73.54 119.12h7.96v3.6h-7.96zM86.74 119.12h2.68v3.6h-2.68zM95.98 119.12h1.36v3.6h-1.36zM102.58 119.12h1.36v3.6h-1.36zM106.54 119.12h1.36v3.6h-1.36zM113.14 119.12h1.36v3.6h-1.36zM117.1 119.12h1.36v3.6h-1.36zM36.58 123.85h1.36v3.6h-1.36zM41.86 123.85h2.68v3.6h-2.68zM45.82 123.85h1.36v3.6h-1.36zM49.78 123.85h5.32v3.6h-5.32zM65.62 123.85h2.68v3.6h-2.68zM72.22 123.85h1.36v3.6h-1.36zM81.46 123.85h2.68v3.6h-2.68zM85.42 123.85h2.68v3.6h-2.68zM89.38 123.85h2.68v3.6h-2.68zM98.62 123.85h5.32v3.6h-5.32zM113.14 123.85h0.7v3.6h-0.7zM48.46 128.57h1.36v3.6h-1.36zM59.02 128.57h1.36v3.6h-1.36zM61.66 128.57h1.36v3.6h-1.36zM64.3 128.57h2.68v3.6h-2.68zM68.26 128.57h1.36v3.6h-1.36zM72.22 128.57h1.36v3.6h-1.36zM74.86 128.57h1.36v3.6h-1.36zM86.74 128.57h1.36v3.6h-1.36zM90.7 128.57h1.36v3.6h-1.36zM93.34 128.57h1.36v3.6h-1.36zM98.62 128.57h1.36v3.6h-1.36zM102.58 128.57h7.96v3.6h-7.96zM115.78 128.57h1.36v3.6h-1.36zM31.3 133.3h1.36v3.6h-1.36zM36.58 133.3h1.36v3.6h-1.36zM43.18 133.3h5.32v3.6h-5.32zM80.14 133.3h2.68v3.6h-2.68zM89.38 133.3h1.36v3.6h-1.36zM97.3 133.3h1.36v3.6h-1.36zM99.94 133.3h1.36v3.6h-1.36zM111.82 133.3h4v3.6h-4zM117.1 133.3h4v3.6h-4zM32.62 138.03h1.36v3.6h-1.36zM35.26 138.03h4v3.6h-4zM40.54 138.03h4v3.6h-4zM49.78 138.03h1.36v3.6h-1.36zM52.42 138.03h1.36v3.6h-1.36zM59.02 138.03h2.68v3.6h-2.68zM73.54 138.03h1.36v3.6h-1.36zM77.5 138.03h2.68v3.6h-2.68zM82.78 138.03h2.68v3.6h-2.68zM86.74 138.03h1.36v3.6h-1.36zM94.66 138.03h5.32v3.6h-5.32zM101.26 138.03h2.68v3.6h-2.68zM109.18 138.03h1.36v3.6h-1.36zM32.62 142.75h2.68v3.6h-2.68zM39.22 142.75h1.36v3.6h-1.36zM47.14 142.75h1.36v3.6h-1.36zM56.38 142.75h1.36v3.6h-1.36zM60.34 142.75h1.36v3.6h-1.36zM68.26 142.75h1.36v3.6h-1.36zM78.82 142.75h1.36v3.6h-1.36zM90.7 142.75h2.68v3.6h-2.68zM41.86 147.47h2.68v3.6h-2.68zM47.14 147.47h1.36v3.6h-1.36zM51.1 147.47h1.36v3.6h-1.36zM53.74 147.47h1.36v3.6h-1.36zM59.02 147.47h1.36v3.6h-1.36zM61.66 147.47h1.36v3.6h-1.36zM74.86 147.47h1.36v3.6h-1.36zM85.42 147.47h1.36v3.6h-1.36zM97.3 147.47h1.36v3.6h-1.36zM101.26 147.47h1.36v3.6h-1.36zM106.54 147.47h1.36v3.6h-1.36zM110.5 147.47h2.68v3.6h-2.68zM33.94 152.2h1.36v3.6h-1.36zM39.22 152.2h4v3.6h-4zM45.82 152.2h1.36v3.6h-1.36zM48.46 152.2h1.36v3.6h-1.36zM53.74 152.2h1.36v3.6h-1.36zM64.3 152.2h1.36v3.6h-1.36zM68.26 152.2h2.68v3.6h-2.68zM72.22 152.2h1.36v3.6h-1.36zM76.18 152.2h2.68v3.6h-2.68zM80.14 152.2h1.36v3.6h-1.36zM84.1 152.2h1.36v3.6h-1.36zM31.3 156.92h1.36v3.6h-1.36zM33.94 156.92h5.32v3.6h-5.32zM43.18 156.92h1.36v3.6h-1.36zM45.82 156.92h5.32v3.6h-5.32zM52.42 156.92h1.36v3.6h-1.36zM57.7 156.92h1.36v3.6h-1.36zM61.66 156.92h1.36v3.6h-1.36zM65.62 156.92h2.68v3.6h-2.68zM76.18 156.92h5.32v3.6h-5.32zM84.1 156.92h1.36v3.6h-1.36zM86.74 156.92h2.68v3.6h-2.68zM93.34 156.92h2.68v3.6h-2.68zM32.62 161.65h2.68v3.6h-2.68zM37.9 161.65h1.36v3.6h-1.36zM41.86 161.65h2.68v3.6h-2.68zM48.46 161.65h2.68v3.6h-2.68zM62.98 161.65h4v3.6h-4zM72.22 161.65h1.36v3.6h-1.36zM77.5 161.65h4v3.6h-4zM86.74 161.65h1.36v3.6h-1.36zM89.38 161.65h0.96v3.6h-0.96zM39.22 166.37h1.36v3.6h-1.36zM41.86 166.37h1.36v3.6h-1.36zM45.82 166.37h1.36v3.6h-1.36zM49.78 166.37h1.36v3.6h-1.36zM56.38 166.37h1.36v3.6h-1.36zM60.34 166.37h1.36v3.6h-1.36zM68.26 166.37h5.32v3.6h-5.32zM84.1 166.37h1.36v3.6h-1.36zM86.74 166.37h1.36v3.6h-1.36zM35.26 171.1h1.36v3.6h-1.36zM39.22 171.1h1.36v3.6h-1.36zM47.14 171.1h1.36v3.6h-1.36zM55.06 171.1h1.36v3.6h-1.36zM65.62 171.1h2.68v3.6h-2.68zM76.18 171.1h4v3.6h-4zM81.46 171.1h2.68v3.6h-2.68zM94.66 171.1h1.36v3.6h-1.36zM97.3 171.1h1.36v3.6h-1.36z"/>
<path fill="#70b010" d="M40.54 38.8h1.36v3.6h-1.36zM45.82 38.8h2.68v3.6h-2.68zM51.1 38.8h2.68v3.6h-2.68zM60.34 38.8h4v3.6h-4zM72.22 38.8h1.36v3.6h-1.36zM76.18 38.8h5.32v3.6h-5.32zM84.1 38.8h1.36v3.6h-1.36zM93.34 38.8h1.36v3.6h-1.36zM95.98 38.8h2.68v3.6h-2.68zM99.94 38.8h2.68v3.6h-2.68zM105.22 38.8h1.36v3.6h-1.36zM109.18 38.8h2.68v3.6h-2.68zM114.46 38.8h2.68v3.6h-2.68zM118.42 38.8h1.36v3.6h-1.36zM125.02 38.8h2.68v3.6h-2.68zM128.98 38.8h1.36v3.6h-1.36zM132.94 38.8h1.36v3.6h-1.36zM144.82 38.8h1.36v3.6h-1.36zM148.78 38.8h1.36v3.6h-1.36zM152.74 38.8h1.36v3.6h-1.36zM155.38 38.8h1.36v3.6h-1.36zM158.02 38.8h2.68v3.6h-2.68zM164.62 38.8h1.36v3.6h-1.36zM176.5 38.8h1.36v3.6h-1.36zM180.46 38.8h1.36v3.6h-1.36zM184.42 38.8h1.36v3.6h-1.36zM191.02 38.8h4v3.6h-4zM197.62 38.8h1.36v3.6h-1.36zM201.58 38.8h4v3.6h-4zM217.42 38.8h1.36v3.6h-1.36zM221.38 38.8h2.68v3.6h-2.68zM235.9 38.8h2.68v3.6h-2.68zM33.94 43.53h2.68v3.6h-2.68zM37.9 43.53h1.36v3.6h-1.36zM41.86 43.53h2.68v3.6h-2.68zM48.46 43.53h1.36v3.6h-1.36zM51.1 43.53h1.36v3.6h-1.36zM62.98 43.53h1.36v3.6h-1.36zM65.62 43.53h1.36v3.6h-1.36zM68.26 43.53h2.68v3.6h-2.68zM72.22 43.53h2.68v3.6h-2.68zM89.38 43.53h2.68v3.6h-2.68zM95.98 43.53h1.36v3.6h-1.36zM98.62 43.53h1.36v3.6h-1.36zM107.86 43.53h1.36v3.6h-1.36zM113.14 43.53h4v3.6h-4zM118.42 43.53h1.36v3.6h-1.36zM135.58 43.53h1.36v3.6h-1.36zM138.22 43.53h1.36v3.6h-1.36zM142.18 43.53h1.36v3.6h-1.36zM144.82 43.53h1.36v3.6h-1.36zM147.46 43.53h1.36v3.6h-1.36zM151.42 43.53h1.36v3.6h-1.36zM156.7 43.53h1.36v3.6h-1.36zM159.34 43.53h2.68v3.6h-2.68zM177.82 43.53h2.68v3.6h-2.68zM181.78 43.53h1.36v3.6h-1.36zM184.42 43.53h1.36v3.6h-1.36zM189.7 43.53h2.68v3.6h-2.68zM193.66 43.53h1.36v3.6h-1.36zM196.3 43.53h1.36v3.6h-1.36zM31.3 48.25h1.36v3.6h-1.36zM35.26 48.25h1.36v3.6h-1.36zM40.54 48.25h2.68v3.6h-2.68zM47.14 48.25h1.36v3.6h-1.36zM61.66 48.25h1.36v3.6h-1.36zM65.62 48.25h2.68v3.6h-2.68zM69.58 48.25h1.36v3.6h-1.36zM81.46 48.25h2.68v3.6h-2.68zM86.74 48.25h1.36v3.6h-1.36zM95.98 48.25h1.36v3.6h-1.36zM107.86 48.25h1.36v3.6h-1.36zM125.02 48.25h2.68v3.6h-2.68zM131.62 48.25h1.36v3.6h-1.36zM139.54 48.25h1.36v3.6h-1.36zM143.5 48.25h1.36v3.6h-1.36zM147.46 48.25h1.36v3.6h-1.36zM150.1 48.25h1.36v3.6h-1.36zM155.38 48.25h1.36v3.6h-1.36zM165.94 48.25h2.68v3.6h-2.68zM173.86 48.25h1.36v3.6h-1.36zM176.5 48.25h2.68v3.6h-2.68zM180.46 48.25h1.36v3.6h-1.36zM183.1 48.25h1.36v3.6h-1.36zM187.06 48.25h2.68v3.6h-2.68zM39.22 52.98h4v3.6h-4zM45.82 52.98h1.36v3.6h-1.36zM48.46 52.98h1.36v3.6h-1.36zM51.1 52.98h7.96v3.6h-7.96zM61.66 52.98h2.68v3.6h-2.68zM69.58 52.98h1.36v3.6h-1.36zM74.86 52.98h1.36v3.6h-1.36zM94.66 52.98h5.32v3.6h-5.32zM101.26 52.98h2.68v3.6h-2.68zM106.54 52.98h1.36v3.6h-1.36zM109.18 52.98h1.36v3.6h-1.36zM111.82 52.98h4v3.6h-4zM118.42 52.98h1.36v3.6h-1.36zM121.06 52.98h1.36v3.6h-1.36zM126.34 52.98h1.36v3.6h-1.36zM128.98 52.98h1.36v3.6h-1.36zM136.9 52.98h1.36v3.6h-1.36zM139.54 52.98h1.36v3.6h-1.36zM144.82 52.98h1.36v3.6h-1.36zM158.02 52.98h6.64v3.6h-6.64zM169.9 52.98h2.68v3.6h-2.68zM173.86 52.98h1.36v3.6h-1.36zM188.38 52.98h1.36v3.6h-1.36zM31.3 57.7h1.36v3.6h-1.36zM39.22 57.7h1.36v3.6h-1.36zM44.5 57.7h2.68v3.6h-2.68zM51.1 57.7h1.36v3.6h-1.36zM53.74 57.7h2.68v3.6h-2.68zM61.66 57.7h4v3.6h-4zM77.5 57.7h1.36v3.6h-1.36zM81.46 57.7h2.68v3.6h-2.68zM92.02 57.7h1.36v3.6h-1.36zM94.66 57.7h2.68v3.6h-2.68zM102.58 57.7h1.36v3.6h-1.36zM106.54 57.7h2.68v3.6h-2.68zM123.7 57.7h1.36v3.6h-1.36zM134.26 57.7h1.36v3.6h-1.36zM138.22 57.7h1.36v3.6h-1.36zM142.18 57.7h1.36v3.6h-1.36zM156.7 57.7h1.36v3.6h-1.36zM159.34 57.7h4v3.6h-4zM164.62 57.7h2.68v3.6h-2.68zM168.58 57.7h1.36v3.6h-1.36zM180.46 57.7h1.36v3.6h-1.36zM32.62 62.43h1.36v3.6h-1.36zM36.58 62.43h2.68v3.6h-2.68zM40.54 62.43h2.68v3.6h-2.68zM44.5 62.43h1.36v3.6h-1.36zM55.06 62.43h1.36v3.6h-1.36zM57.7 62.43h2.68v3.6h-2.68zM64.3 62.43h1.36v3.6h-1.36zM84.1 62.43h2.68v3.6h-2.68zM92.02 62.43h2.68v3.6h-2.68zM97.3 62.43h1.36v3.6h-1.36zM99.94 62.43h1.36v3.6h-1.36zM109.18 62.43h1.36v3.6h-1.36zM118.42 62.43h2.68v3.6h-2.68zM122.38 62.43h1.36v3.6h-1.36zM127.66 62.43h1.36v3.6h-1.36zM135.58 62.43h1.36v3.6h-1.36zM138.22 62.43h2.68v3.6h-2.68zM143.5 62.43h4v3.6h-4zM159.34 62.43h1.36v3.6h-1.36zM164.62 62.43h4v3.6h-4zM169.9 62.43h2.68v3.6h-2.68zM176.5 62.43h2.68v3.6h-2.68zM180.46 62.43h2.68v3.6h-2.68zM36.58 67.15h1.36v3.6h-1.36zM41.86 67.15h1.36v3.6h-1.36zM44.5 67.15h2.68v3.6h-2.68zM48.46 67.15h1.36v3.6h-1.36zM59.02 67.15h1.36v3.6h-1.36zM61.66 67.15h1.36v3.6h-1.36zM74.86 67.15h1.36v3.6h-1.36zM77.5 67.15h4v3.6h-4zM82.78 67.15h2.68v3.6h-2.68zM86.74 67.15h2.68v3.6h-2.68zM90.7 67.15h1.36v3.6h-1.36zM105.22 67.15h2.68v3.6h-2.68zM128.98 67.15h1.36v3.6h-1.36zM131.62 67.15h1.36v3.6h-1.36zM134.26 67.15h2.68v3.6h-2.68zM140.86 67.15h1.36v3.6h-1.36zM143.5 67.15h1.36v3.6h-1.36zM146.14 67.15h1.36v3.6h-1.36zM150.1 67.15h2.68v3.6h-2.68zM155.38 67.15h2.68v3.6h-2.68zM159.34 67.15h1.36v3.6h-1.36zM167.26 67.15h2.68v3.6h-2.68zM171.22 67.15h1.36v3.6h-1.36zM40.54 71.88h1.36v3.6h-1.36zM48.46 71.88h1.36v3.6h-1.36zM51.1 71.88h1.36v3.6h-1.36zM53.74 71.88h1.36v3.6h-1.36zM57.7 71.88h1.36v3.6h-1.36zM69.58 71.88h1.36v3.6h-1.36zM74.86 71.88h1.36v3.6h-1.36zM82.78 71.88h1.36v3.6h-1.36zM85.42 71.88h4v3.6h-4zM90.7 71.88h1.36v3.6h-1.36zM93.34 71.88h1.36v3.6h-1.36zM99.94 71.88h2.68v3.6h-2.68zM106.54 71.88h1.36v3.6h-1.36zM109.18 71.88h1.36v3.6h-1.36zM113.14 71.88h4v3.6h-4zM119.74 71.88h2.68v3.6h-2.68zM123.7 71.88h1.36v3.6h-1.36zM131.62 71.88h1.36v3.6h-1.36zM135.58 71.88h1.36v3.6h-1.36zM138.22 71.88h2.68v3.6h-2.68zM142.18 71.88h2.68v3.6h-2.68zM151.42 71.88h1.36v3.6h-1.36zM155.38 71.88h1.36v3.6h-1.36zM158.02 71.88h1.36v3.6h-1.36zM160.66 71.88h1.36v3.6h-1.36zM164.62 71.88h1.36v3.6h-1.36zM177.82 71.88h1.36v3.6h-1.36zM31.3 76.6h1.36v3.6h-1.36zM33.94 76.6h1.36v3.6h-1.36zM36.58 76.6h4v3.6h-4zM43.18 76.6h1.36v3.6h-1.36zM45.82 76.6h1.36v3.6h-1.36zM48.46 76.6h1.36v3.6h-1.36zM51.1 76.6h1.36v3.6h-1.36zM55.06 76.6h1.36v3.6h-1.36zM57.7 76.6h1.36v3.6h-1.36zM60.34 76.6h5.32v3.6h-5.32zM74.86 76.6h2.68v3.6h-2.68zM89.38 76.6h1.36v3.6h-1.36zM101.26 76.6h2.68v3.6h-2.68zM114.46 76.6h1.36v3.6h-1.36zM123.7 76.6h2.68v3.6h-2.68zM127.66 76.6h1.36v3.6h-1.36zM136.9 76.6h1.36v3.6h-1.36zM139.54 76.6h2.68v3.6h-2.68zM31.3 81.32h2.68v3.6h-2.68zM37.9 81.32h1.36v3.6h-1.36zM41.86 81.32h2.68v3.6h-2.68zM52.42 81.32h1.36v3.6h-1.36zM55.06 81.32h1.36v3.6h-1.36zM60.34 81.32h1.36v3.6h-1.36zM64.3 81.32h1.36v3.6h-1.36zM70.9 81.32h2.68v3.6h-2.68zM78.82 81.32h1.36v3.6h-1.36zM89.38 81.32h1.36v3.6h-1.36zM92.02 81.32h1.36v3.6h-1.36zM95.98 81.32h1.36v3.6h-1.36zM99.94 81.32h2.68v3.6h-2.68zM107.86 81.32h2.68v3.6h-2.68zM111.82 81.32h2.68v3.6h-2.68zM118.42 81.32h1.36v3.6h-1.36zM125.02 81.32h2.68v3.6h-2.68zM132.94 81.32h1.36v3.6h-1.36zM135.58 81.32h1.36v3.6h-1.36zM148.78 81.32h1.36v3.6h-1.36zM152.74 81.32h1.36v3.6h-1.36zM163.3 81.32h1.49v3.6h-1.49zM35.26 86.05h1.36v3.6h-1.36zM43.18 86.05h4v3.6h-4zM51.1 86.05h1.36v3.6h-1.36zM56.38 86.05h1.36v3.6h-1.36zM59.02 86.05h1.36v3.6h-1.36zM85.42 86.05h1.36v3.6h-1.36zM88.06 86.05h2.68v3.6h-2.68zM93.34 86.05h1.36v3.6h-1.36zM102.58 86.05h1.36v3.6h-1.36zM105.22 86.05h1.36v3.6h-1.36zM107.86 86.05h2.68v3.6h-2.68zM115.78 86.05h1.36v3.6h-1.36zM122.38 86.05h1.36v3.6h-1.36zM128.98 86.05h1.36v3.6h-1.36zM131.62 86.05h1.36v3.6h-1.36zM135.58 86.05h1.36v3.6h-1.36zM138.22 86.05h2.68v3.6h-2.68zM142.18 86.05h2.68v3.6h-2.68zM152.74 86.05h5.32v3.6h-5.32zM33.94 90.77h1.36v3.6h-1.36zM43.18 90.77h4v3.6h-4zM48.46 90.77h1.36v3.6h-1.36zM51.1 90.77h1.36v3.6h-1.36zM53.74 90.77h6.64v3.6h-6.64zM64.3 90.77h2.68v3.6h-2.68zM74.86 90.77h2.68v3.6h-2.68zM78.82 90.77h1.36v3.6h-1.36zM84.1 90.77h2.68v3.6h-2.68zM101.26 90.77h1.36v3.6h-1.36zM103.9 90.77h2.68v3.6h-2.68zM107.86 90.77h1.36v3.6h-1.36zM113.14 90.77h1.36v3.6h-1.36zM31.3 95.5h1.36v3.6h-1.36zM35.26 95.5h2.68v3.6h-2.68zM39.22 95.5h2.68v3.6h-2.68zM44.5 95.5h2.68v3.6h-2.68zM48.46 95.5h1.36v3.6h-1.36zM51.1 95.5h1.36v3.6h-1.36zM55.06 95.5h1.36v3.6h-1.36zM69.58 95.5h1.36v3.6h-1.36zM72.22 95.5h2.68v3.6h-2.68zM76.18 95.5h2.68v3.6h-2.68zM82.78 95.5h2.68v3.6h-2.68zM93.34 95.5h1.36v3.6h-1.36zM95.98 95.5h1.36v3.6h-1.36zM98.62 95.5h1.36v3.6h-1.36zM109.18 95.5h1.36v3.6h-1.36zM132.94 95.5h2.68v3.6h-2.68zM136.9 95.5h4v3.6h-4zM32.62 100.22h2.68v3.6h-2.68zM47.14 100.22h2.68v3.6h-2.68zM52.42 100.22h2.68v3.6h-2.68zM56.38 100.22h1.36v3.6h-1.36zM59.02 100.22h1.36v3.6h-1.36zM64.3 100.22h2.68v3.6h-2.68zM90.7 100.22h5.32v3.6h-5.32zM98.62 100.22h1.36v3.6h-1.36zM109.18 100.22h1.36v3.6h-1.36zM123.7 100.22h1.36v3.6h-1.36zM130.3 100.22h5.32v3.6h-5.32zM136.9 100.22h1.36v3.6h-1.36zM140.86 100.22h2.68v3.6h-2.68zM146.14 100.22h2.68v3.6h-2.68zM150.1 100.22h1.36v3.6h-1.36zM154.06 100.22h2.28v3.6h-2.28zM43.18 104.95h2.68v3.6h-2.68zM47.14 104.95h2.68v3.6h-2.68zM52.42 104.95h2.68v3.6h-2.68zM70.9 104.95h1.36v3.6h-1.36zM78.82 104.95h2.68v3.6h-2.68zM82.78 104.95h1.36v3.6h-1.36zM89.38 104.95h1.36v3.6h-1.36zM93.34 104.95h1.36v3.6h-1.36zM95.98 104.95h2.68v3.6h-2.68zM102.58 104.95h1.36v3.6h-1.36zM107.86 104.95h1.36v3.6h-1.36zM111.82 104.95h1.36v3.6h-1.36zM114.46 104.95h1.36v3.6h-1.36zM125.02 104.95h1.36v3.6h-1.36zM128.98 104.95h1.36v3.6h-1.36zM35.26 109.67h1.36v3.6h-1.36zM37.9 109.67h1.36v3.6h-1.36zM45.82 109.67h1.36v3.6h-1.36zM51.1 109.67h2.68v3.6h-2.68zM55.06 109.67h1.36v3.6h-1.36zM59.02 109.67h4v3.6h-4zM69.58 109.67h1.36v3.6h-1.36zM73.54 109.67h1.36v3.6h-1.36zM81.46 109.67h2.68v3.6h-2.68zM92.02 109.67h5.32v3.6h-5.32zM102.58 109.67h1.36v3.6h-1.36zM105.22 109.67h4v3.6h-4zM117.1 109.67h2.68v3.6h-2.68zM122.38 109.67h1.36v3.6h-1.36zM125.02 109.67h1.36v3.6h-1.36zM127.66 109.67h1.36v3.6h-1.36zM43.18 114.4h1.36v3.6h-1.36zM51.1 114.4h2.68v3.6h-2.68zM65.62 114.4h2.68v3.6h-2.68zM72.22 114.4h1.36v3.6h-1.36zM90.7 114.4h4v3.6h-4zM95.98 114.4h1.36v3.6h-1.36zM106.54 114.4h1.36v3.6h-1.36zM111.82 114.4h2.68v3.6h-2.68zM115.78 114.4h1.36v3.6h-1.36zM119.74 114.4h4v3.6h-4zM32.62 119.12h1.36v3.6h-1.36zM37.9 119.12h2.68v3.6h-2.68zM43.18 119.12h1.36v3.6h-1.36zM48.46 119.12h1.36v3.6h-1.36zM61.66 119.12h4v3.6h-4zM66.94 119.12h4v3.6h-4zM72.22 119.12h1.36v3.6h-1.36zM81.46 119.12h5.32v3.6h-5.32zM99.94 119.12h2.68v3.6h-2.68zM103.9 119.12h1.36v3.6h-1.36zM107.86 119.12h5.32v3.6h-5.32zM115.78 119.12h1.36v3.6h-1.36zM32.62 123.85h2.68v3.6h-2.68zM40.54 123.85h1.36v3.6h-1.36zM47.14 123.85h2.68v3.6h-2.68zM69.58 123.85h1.36v3.6h-1.36zM76.18 123.85h1.36v3.6h-1.36zM78.82 123.85h1.36v3.6h-1.36zM88.06 123.85h1.36v3.6h-1.36zM95.98 123.85h1.36v3.6h-1.36zM109.18 123.85h1.36v3.6h-1.36zM35.26 128.57h2.68v3.6h-2.68zM47.14 128.57h1.36v3.6h-1.36zM49.78 128.57h1.36v3.6h-1.36zM53.74 128.57h2.68v3.6h-2.68zM57.7 128.57h1.36v3.6h-1.36zM60.34 128.57h1.36v3.6h-1.36zM69.58 128.57h2.68v3.6h-2.68zM94.66 128.57h2.68v3.6h-2.68zM99.94 128.57h2.68v3.6h-2.68zM110.5 128.57h2.68v3.6h-2.68zM118.42 128.57h6.64v3.6h-6.64zM32.62 133.3h2.68v3.6h-2.68zM37.9 133.3h4v3.6h-4zM48.46 133.3h1.36v3.6h-1.36zM62.98 133.3h1.36v3.6h-1.36zM70.9 133.3h7.96v3.6h-7.96zM88.06 133.3h1.36v3.6h-1.36zM90.7 133.3h1.36v3.6h-1.36zM98.62 133.3h1.36v3.6h-1.36zM122.38 133.3h0.57v3.6h-0.57zM33.94 138.03h1.36v3.6h-1.36zM39.22 138.03h1.36v3.6h-1.36zM48.46 138.03h1.36v3.6h-1.36zM51.1 138.03h1.36v3.6h-1.36zM80.14 138.03h2.68v3.6h-2.68zM85.42 138.03h1.36v3.6h-1.36zM89.38 138.03h1.36v3.6h-1.36zM99.94 138.03h1.36v3.6h-1.36zM103.9 138.03h1.36v3.6h-1.36zM31.3 142.75h1.36v3.6h-1.36zM35.26 142.75h4v3.6h-4zM41.86 142.75h1.36v3.6h-1.36zM44.5 142.75h1.36v3.6h-1.36zM65.62 142.75h1.36v3.6h-1.36zM69.58 142.75h5.32v3.6h-5.32zM77.5 142.75h1.36v3.6h-1.36zM80.14 142.75h5.32v3.6h-5.32zM86.74 142.75h1.36v3.6h-1.36zM36.58 147.47h5.32v3.6h-5.32zM44.5 147.47h1.36v3.6h-1.36zM49.78 147.47h1.36v3.6h-1.36zM52.42 147.47h1.36v3.6h-1.36zM57.7 147.47h1.36v3.6h-1.36zM62.98 147.47h2.68v3.6h-2.68zM68.26 147.47h4v3.6h-4zM73.54 147.47h1.36v3.6h-1.36zM77.5 147.47h1.36v3.6h-1.36zM80.14 147.47h1.36v3.6h-1.36zM84.1 147.47h1.36v3.6h-1.36zM86.74 147.47h2.68v3.6h-2.68zM92.02 147.47h2.68v3.6h-2.68zM95.98 147.47h1.36v3.6h-1.36zM98.62 147.47h2.68v3.6h-2.68zM105.22 147.47h1.36v3.6h-1.36zM107.86 147.47h1.36v3.6h-1.36zM31.3 152.2h2.68v3.6h-2.68zM35.26 152.2h4v3.6h-4zM43.18 152.2h1.36v3.6h-1.36zM47.14 152.2h1.36v3.6h-1.36zM55.06 152.2h1.36v3.6h-1.36zM70.9 152.2h1.36v3.6h-1.36zM74.86 152.2h1.36v3.6h-1.36zM78.82 152.2h1.36v3.6h-1.36zM85.42 152.2h1.36v3.6h-1.36zM32.62 156.92h1.36v3.6h-1.36zM39.22 156.92h2.68v3.6h-2.68zM44.5 156.92h1.36v3.6h-1.36zM51.1 156.92h1.36v3.6h-1.36zM53.74 156.92h1.36v3.6h-1.36zM56.38 156.92h1.36v3.6h-1.36zM59.02 156.92h2.68v3.6h-2.68zM62.98 156.92h2.68v3.6h-2.68zM68.26 156.92h4v3.6h-4zM74.86 156.92h1.36v3.6h-1.36zM81.46 156.92h1.36v3.6h-1.36zM85.42 156.92h1.36v3.6h-1.36zM89.38 156.92h2.68v3.6h-2.68zM35.26 161.65h2.68v3.6h-2.68zM39.22 161.65h1.36v3.6h-1.36zM52.42 161.65h1.36v3.6h-1.36zM60.34 161.65h2.68v3.6h-2.68zM69.58 161.65h2.68v3.6h-2.68zM74.86 161.65h2.68v3.6h-2.68zM81.46 161.65h1.36v3.6h-1.36zM85.42 161.65h1.36v3.6h-1.36zM88.06 161.65h1.36v3.6h-1.36zM31.3 166.37h5.32v3.6h-5.32zM37.9 166.37h1.36v3.6h-1.36zM40.54 166.37h1.36v3.6h-1.36zM55.06 166.37h1.36v3.6h-1.36zM59.02 166.37h1.36v3.6h-1.36zM61.66 166.37h2.68v3.6h-2.68zM73.54 166.37h4v3.6h-4zM85.42 166.37h1.36v3.6h-1.36zM31.3 171.1h4v3.6h-4zM41.86 171.1h1.36v3.6h-1.36zM45.82 171.1h1.36v3.6h-1.36zM48.46 171.1h2.68v3.6h-2.68zM53.74 171.1h1.36v3.6h-1.36zM56.38 171.1h1.36v3.6h-1.36zM60.34 171.1h1.36v3.6h-1.36zM62.98 171.1h2.68v3.6h-2.68zM80.14 171.1h1.36v3.6h-1.36zM84.1 171.1h1.36v3.6h-1.36zM90.7 171.1h2.68v3.6h-2.68zM95.98 171.1h1.36v3.6h-1.36z"/>
<path fill="#8cbe10" d="M55.06 38.8h4v3.6h-4zM74.86 38.8h1.36v3.6h-1.36zM94.66 38.8h1.36v3.6h-1.36zM121.06 38.8h4v3.6h-4zM150.1 38.8h1.36v3.6h-1.36zM156.7 38.8h1.36v3.6h-1.36zM160.66 38.8h1.36v3.6h-1.36zM165.94 38.8h2.68v3.6h-2.68zM171.22 38.8h2.68v3.6h-2.68zM196.3 38.8h1.36v3.6h-1.36zM198.94 38.8h1.36v3.6h-1.36zM206.86 38.8h1.36v3.6h-1.36zM36.58 43.53h1.36v3.6h-1.36zM39.22 43.53h1.36v3.6h-1.36zM47.14 43.53h1.36v3.6h-1.36zM49.78 43.53h1.36v3.6h-1.36zM66.94 43.53h1.36v3.6h-1.36zM85.42 43.53h1.36v3.6h-1.36zM88.06 43.53h1.36v3.6h-1.36zM92.02 43.53h4v3.6h-4zM97.3 43.53h1.36v3.6h-1.36zM101.26 43.53h1.36v3.6h-1.36zM105.22 43.53h1.36v3.6h-1.36zM139.54 43.53h2.68v3.6h-2.68zM161.98 43.53h1.36v3.6h-1.36zM168.58 43.53h2.68v3.6h-2.68zM173.86 43.53h1.36v3.6h-1.36zM185.74 43.53h2.68v3.6h-2.68zM194.98 43.53h1.36v3.6h-1.36zM197.62 43.53h4v3.6h-4zM204.22 43.53h1.36v3.6h-1.36zM62.98 48.25h1.36v3.6h-1.36zM144.82 48.25h1.36v3.6h-1.36zM148.78 48.25h1.36v3.6h-1.36zM156.7 48.25h1.36v3.6h-1.36zM160.66 48.25h1.36v3.6h-1.36zM163.3 48.25h1.36v3.6h-1.36zM168.58 48.25h1.36v3.6h-1.36zM175.18 48.25h1.36v3.6h-1.36zM44.5 52.98h1.36v3.6h-1.36zM68.26 52.98h1.36v3.6h-1.36zM70.9 52.98h4v3.6h-4zM90.7 52.98h1.36v3.6h-1.36zM93.34 52.98h1.36v3.6h-1.36zM103.9 52.98h2.68v3.6h-2.68zM107.86 52.98h1.36v3.6h-1.36zM110.5 52.98h1.36v3.6h-1.36zM119.74 52.98h1.36v3.6h-1.36zM127.66 52.98h1.36v3.6h-1.36zM130.3 52.98h2.68v3.6h-2.68zM134.26 52.98h1.36v3.6h-1.36zM138.22 52.98h1.36v3.6h-1.36zM168.58 52.98h1.36v3.6h-1.36zM37.9 57.7h1.36v3.6h-1.36zM40.54 57.7h1.36v3.6h-1.36zM56.38 57.7h2.68v3.6h-2.68zM93.34 57.7h1.36v3.6h-1.36zM97.3 57.7h2.68v3.6h-2.68zM103.9 57.7h2.68v3.6h-2.68zM139.54 57.7h1.36v3.6h-1.36zM163.3 57.7h1.36v3.6h-1.36zM167.26 57.7h1.36v3.6h-1.36zM31.3 62.43h1.36v3.6h-1.36zM35.26 62.43h1.36v3.6h-1.36zM48.46 62.43h1.36v3.6h-1.36zM51.1 62.43h4v3.6h-4zM60.34 62.43h2.68v3.6h-2.68zM69.58 62.43h1.36v3.6h-1.36zM86.74 62.43h1.36v3.6h-1.36zM95.98 62.43h1.36v3.6h-1.36zM98.62 62.43h1.36v3.6h-1.36zM101.26 62.43h4v3.6h-4zM106.54 62.43h1.36v3.6h-1.36zM128.98 62.43h4v3.6h-4zM134.26 62.43h1.36v3.6h-1.36zM140.86 62.43h2.68v3.6h-2.68zM183.1 62.43h3.47v3.6h-3.47zM43.18 67.15h1.36v3.6h-1.36zM60.34 67.15h1.36v3.6h-1.36zM62.98 67.15h1.36v3.6h-1.36zM68.26 67.15h5.32v3.6h-5.32zM76.18 67.15h1.36v3.6h-1.36zM81.46 67.15h1.36v3.6h-1.36zM85.42 67.15h1.36v3.6h-1.36zM89.38 67.15h1.36v3.6h-1.36zM144.82 67.15h1.36v3.6h-1.36zM160.66 67.15h4v3.6h-4zM165.94 67.15h1.36v3.6h-1.36zM169.9 67.15h1.36v3.6h-1.36zM52.42 71.88h1.36v3.6h-1.36zM56.38 71.88h1.36v3.6h-1.36zM62.98 71.88h2.68v3.6h-2.68zM84.1 71.88h1.36v3.6h-1.36zM89.38 71.88h1.36v3.6h-1.36zM92.02 71.88h1.36v3.6h-1.36zM94.66 71.88h1.36v3.6h-1.36zM97.3 71.88h2.68v3.6h-2.68zM103.9 71.88h1.36v3.6h-1.36zM110.5 71.88h1.36v3.6h-1.36zM118.42 71.88h1.36v3.6h-1.36zM128.98 71.88h1.36v3.6h-1.36zM136.9 71.88h1.36v3.6h-1.36zM140.86 71.88h1.36v3.6h-1.36zM144.82 71.88h1.36v3.6h-1.36zM148.78 71.88h2.68v3.6h-2.68zM152.74 71.88h1.36v3.6h-1.36zM161.98 71.88h1.36v3.6h-1.36zM179.14 71.88h0.96v3.6h-0.96zM35.26 76.6h1.36v3.6h-1.36zM77.5 76.6h2.68v3.6h-2.68zM92.02 76.6h1.36v3.6h-1.36zM97.3 76.6h4v3.6h-4zM130.3 76.6h1.36v3.6h-1.36zM132.94 76.6h4v3.6h-4zM36.58 81.32h1.36v3.6h-1.36zM40.54 81.32h1.36v3.6h-1.36zM56.38 81.32h4v3.6h-4zM77.5 81.32h1.36v3.6h-1.36zM80.14 81.32h2.68v3.6h-2.68zM84.1 81.32h2.68v3.6h-2.68zM94.66 81.32h1.36v3.6h-1.36zM98.62 81.32h1.36v3.6h-1.36zM103.9 81.32h4v3.6h-4zM114.46 81.32h2.68v3.6h-2.68zM119.74 81.32h4v3.6h-4zM155.38 81.32h1.36v3.6h-1.36zM158.02 81.32h1.36v3.6h-1.36zM160.66 81.32h1.36v3.6h-1.36zM37.9 86.05h1.36v3.6h-1.36zM47.14 86.05h1.36v3.6h-1.36zM52.42 86.05h4v3.6h-4zM57.7 86.05h1.36v3.6h-1.36zM82.78 86.05h2.68v3.6h-2.68zM121.06 86.05h1.36v3.6h-1.36zM125.02 86.05h1.36v3.6h-1.36zM127.66 86.05h1.36v3.6h-1.36zM144.82 86.05h4v3.6h-4zM47.14 90.77h1.36v3.6h-1.36zM52.42 90.77h1.36v3.6h-1.36zM68.26 90.77h1.36v3.6h-1.36zM73.54 90.77h1.36v3.6h-1.36zM82.78 90.77h1.36v3.6h-1.36zM139.54 90.77h1.36v3.6h-1.36zM142.18 90.77h4v3.6h-4zM37.9 95.5h1.36v3.6h-1.36zM49.78 95.5h1.36v3.6h-1.36zM52.42 95.5h1.36v3.6h-1.36zM78.82 95.5h1.36v3.6h-1.36zM81.46 95.5h1.36v3.6h-1.36zM92.02 95.5h1.36v3.6h-1.36zM94.66 95.5h1.36v3.6h-1.36zM97.3 95.5h1.36v3.6h-1.36zM111.82 95.5h4v3.6h-4zM31.3 100.22h1.36v3.6h-1.36zM35.26 100.22h4v3.6h-4zM40.54 100.22h5.32v3.6h-5.32zM61.66 100.22h1.36v3.6h-1.36zM66.94 100.22h1.36v3.6h-1.36zM88.06 100.22h2.68v3.6h-2.68zM95.98 100.22h1.36v3.6h-1.36zM125.02 100.22h1.36v3.6h-1.36zM45.82 104.95h1.36v3.6h-1.36zM49.78 104.95h1.36v3.6h-1.36zM81.46 104.95h1.36v3.6h-1.36zM84.1 104.95h5.32v3.6h-5.32zM94.66 104.95h1.36v3.6h-1.36zM98.62 104.95h4v3.6h-4zM105.22 104.95h1.36v3.6h-1.36zM113.14 104.95h1.36v3.6h-1.36zM117.1 104.95h1.36v3.6h-1.36zM121.06 104.95h1.36v3.6h-1.36zM123.7 104.95h1.36v3.6h-1.36zM43.18 109.67h2.68v3.6h-2.68zM47.14 109.67h2.68v3.6h-2.68zM64.3 109.67h4v3.6h-4zM70.9 109.67h2.68v3.6h-2.68zM74.86 109.67h1.36v3.6h-1.36zM80.14 109.67h1.36v3.6h-1.36zM84.1 109.67h6.64v3.6h-6.64zM98.62 109.67h1.36v3.6h-1.36zM103.9 109.67h1.36v3.6h-1.36zM109.18 109.67h2.68v3.6h-2.68zM113.14 109.67h4v3.6h-4zM119.74 109.67h1.36v3.6h-1.36zM39.22 114.4h4v3.6h-4zM68.26 114.4h1.36v3.6h-1.36zM70.9 114.4h1.36v3.6h-1.36zM109.18 114.4h1.36v3.6h-1.36zM31.3 119.12h1.36v3.6h-1.36zM33.94 119.12h1.36v3.6h-1.36zM36.58 119.12h1.36v3.6h-1.36zM41.86 119.12h1.36v3.6h-1.36zM98.62 119.12h1.36v3.6h-1.36zM114.46 119.12h1.36v3.6h-1.36zM119.74 119.12h0.7v3.6h-0.7zM31.3 123.85h1.36v3.6h-1.36zM68.26 123.85h1.36v3.6h-1.36zM73.54 123.85h1.36v3.6h-1.36zM77.5 123.85h1.36v3.6h-1.36zM80.14 123.85h1.36v3.6h-1.36zM32.62 128.57h1.36v3.6h-1.36zM39.22 128.57h2.68v3.6h-2.68zM43.18 128.57h2.68v3.6h-2.68zM51.1 128.57h2.68v3.6h-2.68zM56.38 128.57h1.36v3.6h-1.36zM62.98 128.57h1.36v3.6h-1.36zM88.06 128.57h2.68v3.6h-2.68zM92.02 128.57h1.36v3.6h-1.36zM113.14 128.57h2.68v3.6h-2.68zM117.1 128.57h1.36v3.6h-1.36zM125.02 128.57h1.1v3.6h-1.1zM35.26 133.3h1.36v3.6h-1.36zM64.3 133.3h4v3.6h-4zM93.34 133.3h1.36v3.6h-1.36zM121.06 133.3h1.36v3.6h-1.36zM44.5 138.03h1.36v3.6h-1.36zM47.14 138.03h1.36v3.6h-1.36zM40.54 142.75h1.36v3.6h-1.36zM43.18 142.75h1.36v3.6h-1.36zM45.82 142.75h1.36v3.6h-1.36zM61.66 142.75h1.36v3.6h-1.36zM76.18 142.75h1.36v3.6h-1.36zM85.42 142.75h1.36v3.6h-1.36zM31.3 147.47h1.36v3.6h-1.36zM48.46 147.47h1.36v3.6h-1.36zM55.06 147.47h1.36v3.6h-1.36zM66.94 147.47h1.36v3.6h-1.36zM76.18 147.47h1.36v3.6h-1.36zM78.82 147.47h1.36v3.6h-1.36zM81.46 147.47h2.68v3.6h-2.68zM89.38 147.47h2.68v3.6h-2.68zM44.5 152.2h1.36v3.6h-1.36zM56.38 152.2h7.96v3.6h-7.96zM73.54 152.2h1.36v3.6h-1.36zM86.74 152.2h1.23v3.6h-1.23zM41.86 156.92h1.36v3.6h-1.36zM55.06 156.92h1.36v3.6h-1.36zM72.22 156.92h2.68v3.6h-2.68zM92.02 156.92h1.36v3.6h-1.36zM97.3 156.92h1.76v3.6h-1.76zM53.74 161.65h6.64v3.6h-6.64zM36.58 166.37h1.36v3.6h-1.36zM57.7 166.37h1.36v3.6h-1.36zM77.5 166.37h4v3.6h-4zM82.78 166.37h1.36v3.6h-1.36zM43.18 171.1h2.68v3.6h-2.68zM51.1 171.1h1.36v3.6h-1.36zM57.7 171.1h2.68v3.6h-2.68zM61.66 171.1h1.36v3.6h-1.36zM98.62 171.1h0.44v3.6h-0.44z"/>
<path fill="#a8cc10" d="M53.74 38.8h1.36v3.6h-1.36zM111.82 38.8h2.68v3.6h-2.68zM168.58 38.8h2.68v3.6h-2.68zM40.54 43.53h1.36v3.6h-1.36zM99.94 43.53h1.36v3.6h-1.36zM163.3 43.53h5.32v3.6h-5.32zM171.22 43.53h1.36v3.6h-1.36zM135.58 48.25h1.36v3.6h-1.36zM158.02 48.25h1.36v3.6h-1.36zM161.98 48.25h1.36v3.6h-1.36zM164.62 48.25h1.36v3.6h-1.36zM132.94 52.98h1.36v3.6h-1.36zM167.26 52.98h1.36v3.6h-1.36zM59.02 57.7h2.68v3.6h-2.68zM76.18 57.7h1.36v3.6h-1.36zM78.82 57.7h1.36v3.6h-1.36zM49.78 62.43h1.36v3.6h-1.36zM56.38 62.43h1.36v3.6h-1.36zM88.06 62.43h1.36v3.6h-1.36zM105.22 62.43h1.36v3.6h-1.36zM132.94 62.43h1.36v3.6h-1.36zM65.62 67.15h2.68v3.6h-2.68zM158.02 67.15h1.36v3.6h-1.36zM173.86 67.15h0.57v3.6h-0.57zM55.06 71.88h1.36v3.6h-1.36zM95.98 71.88h1.36v3.6h-1.36zM111.82 71.88h1.36v3.6h-1.36zM147.46 71.88h1.36v3.6h-1.36zM32.62 76.6h1.36v3.6h-1.36zM90.7 76.6h1.36v3.6h-1.36zM93.34 76.6h2.68v3.6h-2.68zM131.62 76.6h1.36v3.6h-1.36zM88.06 81.32h1.36v3.6h-1.36zM110.5 81.32h1.36v3.6h-1.36zM117.1 81.32h1.36v3.6h-1.36zM60.34 86.05h1.36v3.6h-1.36zM123.7 86.05h1.36v3.6h-1.36zM126.34 86.05h1.36v3.6h-1.36zM148.78 86.05h4v3.6h-4zM37.9 90.77h1.36v3.6h-1.36zM72.22 90.77h1.36v3.6h-1.36zM77.5 90.77h1.36v3.6h-1.36zM140.86 90.77h1.36v3.6h-1.36zM146.14 90.77h0.44v3.6h-0.44zM53.74 95.5h1.36v3.6h-1.36zM80.14 95.5h1.36v3.6h-1.36zM39.22 100.22h1.36v3.6h-1.36zM55.06 100.22h1.36v3.6h-1.36zM126.34 100.22h1.36v3.6h-1.36zM151.42 100.22h2.68v3.6h-2.68zM115.78 104.95h1.36v3.6h-1.36zM122.38 104.95h1.36v3.6h-1.36zM39.22 109.67h4v3.6h-4zM49.78 109.67h1.36v3.6h-1.36zM68.26 109.67h1.36v3.6h-1.36zM78.82 109.67h1.36v3.6h-1.36zM111.82 109.67h1.36v3.6h-1.36zM69.58 114.4h1.36v3.6h-1.36zM35.26 119.12h1.36v3.6h-1.36zM70.9 123.85h1.36v3.6h-1.36zM74.86 123.85h1.36v3.6h-1.36zM84.1 123.85h1.36v3.6h-1.36zM31.3 128.57h1.36v3.6h-1.36zM37.9 128.57h1.36v3.6h-1.36zM41.86 128.57h1.36v3.6h-1.36zM45.82 128.57h1.36v3.6h-1.36zM68.26 133.3h2.68v3.6h-2.68zM94.66 133.3h2.68v3.6h-2.68zM45.82 138.03h1.36v3.6h-1.36zM92.02 138.03h1.36v3.6h-1.36zM62.98 142.75h2.68v3.6h-2.68zM74.86 142.75h1.36v3.6h-1.36zM32.62 147.47h4v3.6h-4zM65.62 147.47h1.36v3.6h-1.36zM72.22 147.47h1.36v3.6h-1.36z"/>
<path fill="#c2d808" d="M140.86 38.8h1.36v3.6h-1.36zM188.38 38.8h1.36v3.6h-1.36zM92.02 52.98h1.36v3.6h-1.36zM135.58 52.98h1.36v3.6h-1.36zM164.62 52.98h1.36v3.6h-1.36zM62.98 62.43h1.36v3.6h-1.36zM81.46 62.43h1.36v3.6h-1.36zM107.86 62.43h1.36v3.6h-1.36zM125.02 62.43h1.36v3.6h-1.36zM64.3 67.15h1.36v3.6h-1.36zM73.54 67.15h1.36v3.6h-1.36zM59.02 76.6h1.36v3.6h-1.36zM95.98 76.6h1.36v3.6h-1.36zM90.7 86.05h1.36v3.6h-1.36zM60.34 90.77h1.36v3.6h-1.36zM69.58 90.77h1.36v3.6h-1.36zM118.42 95.5h1.36v3.6h-1.36zM119.74 104.95h1.36v3.6h-1.36zM65.62 119.12h1.36v3.6h-1.36zM89.38 119.12h1.36v3.6h-1.36zM66.94 138.03h1.36v3.6h-1.36zM74.86 138.03h1.36v3.6h-1.36zM66.94 142.75h1.36v3.6h-1.36zM60.34 147.47h1.36v3.6h-1.36zM102.58 147.47h1.36v3.6h-1.36zM95.98 156.92h1.36v3.6h-1.36zM66.94 166.37h1.36v3.6h-1.36zM81.46 166.37h1.36v3.6h-1.36zM93.34 171.1h1.36v3.6h-1.36z"/>
<path fill="#dce400" d="M98.62 38.8h1.36v3.6h-1.36zM192.34 43.53h1.36v3.6h-1.36zM159.34 48.25h1.36v3.6h-1.36zM172.54 52.98h1.36v3.6h-1.36zM35.26 57.7h1.36v3.6h-1.36zM40.54 67.15h1.36v3.6h-1.36zM172.54 67.15h1.36v3.6h-1.36zM37.9 71.88h1.36v3.6h-1.36zM70.9 71.88h1.36v3.6h-1.36zM117.1 71.88h1.36v3.6h-1.36zM156.7 81.32h1.36v3.6h-1.36zM70.9 90.77h1.36v3.6h-1.36zM89.38 90.77h1.36v3.6h-1.36zM57.7 100.22h1.36v3.6h-1.36zM60.34 100.22h1.36v3.6h-1.36zM66.94 104.95h1.36v3.6h-1.36zM97.3 109.67h1.36v3.6h-1.36zM32.62 114.4h1.36v3.6h-1.36zM56.38 123.85h1.36v3.6h-1.36zM33.94 128.57h1.36v3.6h-1.36zM92.02 133.3h1.36v3.6h-1.36zM95.98 142.75h0.44v3.6h-0.44z"/>
<path fill="#eee200" d="M136.9 43.53h1.36v3.6h-1.36zM206.86 43.53h1.36v3.6h-1.36zM179.14 48.25h1.36v3.6h-1.36zM47.14 52.98h1.36v3.6h-1.36zM81.46 71.88h1.36v3.6h-1.36zM128.98 76.6h1.36v3.6h-1.36zM66.94 90.77h1.36v3.6h-1.36zM32.62 95.5h1.36v3.6h-1.36zM31.3 109.67h1.36v3.6h-1.36zM36.58 109.67h1.36v3.6h-1.36zM57.7 109.67h1.36v3.6h-1.36zM62.98 114.4h1.36v3.6h-1.36zM62.98 123.85h1.36v3.6h-1.36zM97.3 128.57h1.36v3.6h-1.36zM73.54 161.65h1.36v3.6h-1.36z"/>
<path fill="#ffe000" d="M92.02 104.95h1.36v3.6h-1.36zM31.3 161.65h1.36v3.6h-1.36z"/>
<path fill="#ffc100" d="M118.42 104.95h1.36v3.6h-1.36zM51.1 133.3h1.36v3.6h-1.36z"/>
<path fill="#ff8a00" d="M40.54 76.6h1.36v3.6h-1.36zM138.22 76.6h1.36v3.6h-1.36zM127.66 90.77h1.36v3.6h-1.36zM143.5 100.22h1.36v3.6h-1.36zM92.02 123.85h1.36v3.6h-1.36z"/>
<path fill="#ff7200" d="M44.5 71.88h1.36v3.6h-1.36zM150.1 76.6h1.36v3.6h-1.36zM118.42 119.12h1.36v3.6h-1.36z"/>
<path fill="#ff3c00" d="M49.78 86.05h1.36v3.6h-1.36zM88.06 166.37h1.36v3.6h-1.36z"/>
</g>
<rect x="242.3" y="107.3" width="7" height="6.2" fill="#ececec"/>
<rect x="242.3" y="113.3" width="7" height="6.5" fill="#0c6c0e"/>
<rect x="242.3" y="119.75" width="7" height="6.5" fill="#3c9408"/>
<rect x="242.3" y="126.2" width="7" height="6.5" fill="#70b010"/>
<rect x="242.3" y="132.65" width="7" height="6.5" fill="#a8cc10"/>
<rect x="242.3" y="139.1" width="7" height="6.5" fill="#dce400"/>
<rect x="242.3" y="145.55" width="7" height="6.5" fill="#ffe000"/>
<rect x="242.3" y="152" width="7" height="6.5" fill="#ffa200"/>
<rect x="242.3" y="158.45" width="7" height="6.5" fill="#ff7200"/>
<rect x="242.3" y="164.9" width="7" height="6.5" fill="#ff3c00"/>
<rect x="242.3" y="171.35" width="7" height="6.5" fill="#ff0800"/>
<text x="251.3" y="112.4" font-family="'Liberation Serif', 'Times New Roman', serif" font-weight="bold" font-size="4.9">0</text>
<text x="251.3" y="118.7" font-family="'Liberation Serif', 'Times New Roman', serif" font-weight="bold" font-size="4.9">1</text>
<text x="251.3" y="125" font-family="'Liberation Serif', 'Times New Roman', serif" font-weight="bold" font-size="4.9">2668</text>
<text x="251.3" y="131.3" font-family="'Liberation Serif', 'Times New Roman', serif" font-weight="bold" font-size="4.9">5335</text>
<text x="251.3" y="137.6" font-family="'Liberation Serif', 'Times New Roman', serif" font-weight="bold" font-size="4.9">8002</text>
<text x="251.3" y="143.9" font-family="'Liberation Serif', 'Times New Roman', serif" font-weight="bold" font-size="4.9">10,669</text>
<text x="251.3" y="150.2" font-family="'Liberation Serif', 'Times New Roman', serif" font-weight="bold" font-size="4.9">13,336</text>
<text x="251.3" y="156.5" font-family="'Liberation Serif', 'Times New Roman', serif" font-weight="bold" font-size="4.9">16,003</text>
<text x="251.3" y="162.8" font-family="'Liberation Serif', 'Times New Roman', serif" font-weight="bold" font-size="4.9">18,670</text>
<text x="251.3" y="169.1" font-family="'Liberation Serif', 'Times New Roman', serif" font-weight="bold" font-size="4.9">21,337</text>
<text x="251.3" y="175.4" font-family="'Liberation Serif', 'Times New Roman', serif" font-weight="bold" font-size="4.9">&gt;21,337</text>
<text x="280.6" y="13.9" font-family="'Liberation Serif', 'Times New Roman', serif" font-weight="bold" font-size="12">B</text>
<text x="312.3" y="22.9" font-family="'Liberation Serif', 'Times New Roman', serif" font-weight="bold" font-size="9.5">The number of Indels within 1Mb window size</text>
<line x1="300" y1="36.3" x2="508.03" y2="36.3" stroke="#9a9a9a" stroke-width="0.9"/>
<line x1="300" y1="35.9" x2="300" y2="37.3" stroke="#444" stroke-width="0.6"/>
<text x="300" y="31.9" font-family="'Liberation Sans', Arial, sans-serif" font-size="3.9" text-anchor="middle" fill="#222">0Mb</text>
<line x1="322.44" y1="35.9" x2="322.44" y2="37.3" stroke="#444" stroke-width="0.6"/>
<text x="322.44" y="31.9" font-family="'Liberation Sans', Arial, sans-serif" font-size="3.9" text-anchor="middle" fill="#222">17Mb</text>
<line x1="344.88" y1="35.9" x2="344.88" y2="37.3" stroke="#444" stroke-width="0.6"/>
<text x="344.88" y="31.9" font-family="'Liberation Sans', Arial, sans-serif" font-size="3.9" text-anchor="middle" fill="#222">34Mb</text>
<line x1="367.32" y1="35.9" x2="367.32" y2="37.3" stroke="#444" stroke-width="0.6"/>
<text x="367.32" y="31.9" font-family="'Liberation Sans', Arial, sans-serif" font-size="3.9" text-anchor="middle" fill="#222">51Mb</text>
<line x1="389.76" y1="35.9" x2="389.76" y2="37.3" stroke="#444" stroke-width="0.6"/>
<text x="389.76" y="31.9" font-family="'Liberation Sans', Arial, sans-serif" font-size="3.9" text-anchor="middle" fill="#222">68Mb</text>
<line x1="412.2" y1="35.9" x2="412.2" y2="37.3" stroke="#444" stroke-width="0.6"/>
<text x="412.2" y="31.9" font-family="'Liberation Sans', Arial, sans-serif" font-size="3.9" text-anchor="middle" fill="#222">85Mb</text>
<line x1="434.64" y1="35.9" x2="434.64" y2="37.3" stroke="#444" stroke-width="0.6"/>
<text x="434.64" y="31.9" font-family="'Liberation Sans', Arial, sans-serif" font-size="3.9" text-anchor="middle" fill="#222">102Mb</text>
<line x1="457.08" y1="35.9" x2="457.08" y2="37.3" stroke="#444" stroke-width="0.6"/>
<text x="457.08" y="31.9" font-family="'Liberation Sans', Arial, sans-serif" font-size="3.9" text-anchor="middle" fill="#222">119Mb</text>
<line x1="479.52" y1="35.9" x2="479.52" y2="37.3" stroke="#444" stroke-width="0.6"/>
<text x="479.52" y="31.9" font-family="'Liberation Sans', Arial, sans-serif" font-size="3.9" text-anchor="middle" fill="#222">136Mb</text>
<line x1="501.96" y1="35.9" x2="501.96" y2="37.3" stroke="#444" stroke-width="0.6"/>
<text x="501.96" y="31.9" font-family="'Liberation Sans', Arial, sans-serif" font-size="3.9" text-anchor="middle" fill="#222">153Mb</text>
<text x="298.7" y="41.4" font-family="'Liberation Sans', Arial, sans-serif" font-size="3.3" text-anchor="end" fill="#333">Chr1</text>
<text x="298.7" y="46.13" font-family="'Liberation Sans', Arial, sans-serif" font-size="3.3" text-anchor="end" fill="#333">Chr2</text>
<text x="298.7" y="50.85" font-family="'Liberation Sans', Arial, sans-serif" font-size="3.3" text-anchor="end" fill="#333">Chr3</text>
<text x="298.7" y="55.58" font-family="'Liberation Sans', Arial, sans-serif" font-size="3.3" text-anchor="end" fill="#333">Chr4</text>
<text x="298.7" y="60.3" font-family="'Liberation Sans', Arial, sans-serif" font-size="3.3" text-anchor="end" fill="#333">Chr5</text>
<text x="298.7" y="65.03" font-family="'Liberation Sans', Arial, sans-serif" font-size="3.3" text-anchor="end" fill="#333">Chr6</text>
<text x="298.7" y="69.75" font-family="'Liberation Sans', Arial, sans-serif" font-size="3.3" text-anchor="end" fill="#333">Chr7</text>
<text x="298.7" y="74.48" font-family="'Liberation Sans', Arial, sans-serif" font-size="3.3" text-anchor="end" fill="#333">Chr8</text>
<text x="298.7" y="79.2" font-family="'Liberation Sans', Arial, sans-serif" font-size="3.3" text-anchor="end" fill="#333">Chr9</text>
<text x="298.7" y="83.92" font-family="'Liberation Sans', Arial, sans-serif" font-size="3.3" text-anchor="end" fill="#333">Chr10</text>
<text x="298.7" y="88.65" font-family="'Liberation Sans', Arial, sans-serif" font-size="3.3" text-anchor="end" fill="#333">Chr11</text>
<text x="298.7" y="93.38" font-family="'Liberation Sans', Arial, sans-serif" font-size="3.3" text-anchor="end" fill="#333">Chr12</text>
<text x="298.7" y="98.1" font-family="'Liberation Sans', Arial, sans-serif" font-size="3.3" text-anchor="end" fill="#333">Chr13</text>
<text x="298.7" y="102.83" font-family="'Liberation Sans', Arial, sans-serif" font-size="3.3" text-anchor="end" fill="#333">Chr14</text>
<text x="298.7" y="107.55" font-family="'Liberation Sans', Arial, sans-serif" font-size="3.3" text-anchor="end" fill="#333">Chr15</text>
<text x="298.7" y="112.28" font-family="'Liberation Sans', Arial, sans-serif" font-size="3.3" text-anchor="end" fill="#333">Chr16</text>
<text x="298.7" y="117" font-family="'Liberation Sans', Arial, sans-serif" font-size="3.3" text-anchor="end" fill="#333">Chr17</text>
<text x="298.7" y="121.72" font-family="'Liberation Sans', Arial, sans-serif" font-size="3.3" text-anchor="end" fill="#333">Chr18</text>
<text x="298.7" y="126.45" font-family="'Liberation Sans', Arial, sans-serif" font-size="3.3" text-anchor="end" fill="#333">Chr19</text>
<text x="298.7" y="131.17" font-family="'Liberation Sans', Arial, sans-serif" font-size="3.3" text-anchor="end" fill="#333">Chr20</text>
<text x="298.7" y="135.9" font-family="'Liberation Sans', Arial, sans-serif" font-size="3.3" text-anchor="end" fill="#333">Chr21</text>
<text x="298.7" y="140.62" font-family="'Liberation Sans', Arial, sans-serif" font-size="3.3" text-anchor="end" fill="#333">Chr22</text>
<text x="298.7" y="145.35" font-family="'Liberation Sans', Arial, sans-serif" font-size="3.3" text-anchor="end" fill="#333">Chr23</text>
<text x="298.7" y="150.07" font-family="'Liberation Sans', Arial, sans-serif" font-size="3.3" text-anchor="end" fill="#333">Chr24</text>
<text x="298.7" y="154.8" font-family="'Liberation Sans', Arial, sans-serif" font-size="3.3" text-anchor="end" fill="#333">Chr25</text>
<text x="298.7" y="159.52" font-family="'Liberation Sans', Arial, sans-serif" font-size="3.3" text-anchor="end" fill="#333">Chr26</text>
<text x="298.7" y="164.25" font-family="'Liberation Sans', Arial, sans-serif" font-size="3.3" text-anchor="end" fill="#333">Chr27</text>
<text x="298.7" y="168.97" font-family="'Liberation Sans', Arial, sans-serif" font-size="3.3" text-anchor="end" fill="#333">Chr28</text>
<text x="298.7" y="173.7" font-family="'Liberation Sans', Arial, sans-serif" font-size="3.3" text-anchor="end" fill="#333">Chr29</text>
<text x="298.7" y="178.42" font-family="'Liberation Sans', Arial, sans-serif" font-size="3.3" text-anchor="end" fill="#333">ChrMT</text>
<rect x="300" y="175.72" width="0.6" height="3.4" fill="#ddd"/>
<g filter="url(#hb)">
<path fill="#0c6c0e" d="M439.92 38.8h1.36v3.6h-1.36zM389.76 52.98h1.36v3.6h-1.36zM380.52 57.7h1.36v3.6h-1.36zM338.28 81.32h1.36v3.6h-1.36zM319.8 119.12h1.36v3.6h-1.36zM303.96 123.85h1.36v3.6h-1.36zM309.24 133.3h6.64v3.6h-6.64zM319.8 142.75h1.36v3.6h-1.36zM321.12 171.1h1.36v3.6h-1.36z"/>
<path fill="#24800b" d="M434.64 38.8h2.68v3.6h-2.68zM441.24 38.8h1.36v3.6h-1.36zM488.76 38.8h1.36v3.6h-1.36zM326.4 43.53h1.36v3.6h-1.36zM339.6 43.53h1.36v3.6h-1.36zM348.84 43.53h1.36v3.6h-1.36zM352.8 43.53h1.36v3.6h-1.36zM364.68 43.53h1.36v3.6h-1.36zM367.32 43.53h2.68v3.6h-2.68zM389.76 43.53h1.36v3.6h-1.36zM392.4 43.53h4v3.6h-4zM421.44 43.53h1.36v3.6h-1.36zM424.08 43.53h1.36v3.6h-1.36zM426.72 43.53h1.36v3.6h-1.36zM360.72 48.25h1.36v3.6h-1.36zM367.32 48.25h1.36v3.6h-1.36zM405.6 48.25h1.36v3.6h-1.36zM432 48.25h1.36v3.6h-1.36zM364.68 52.98h1.36v3.6h-1.36zM387.12 52.98h2.68v3.6h-2.68zM391.08 52.98h1.36v3.6h-1.36zM395.04 52.98h1.36v3.6h-1.36zM454.44 52.98h1.36v3.6h-1.36zM372.6 57.7h4v3.6h-4zM420.12 57.7h1.36v3.6h-1.36zM422.76 57.7h1.36v3.6h-1.36zM384.48 62.43h1.36v3.6h-1.36zM395.04 62.43h1.36v3.6h-1.36zM399 62.43h1.36v3.6h-1.36zM401.64 62.43h1.36v3.6h-1.36zM301.32 67.15h1.36v3.6h-1.36zM303.96 67.15h1.36v3.6h-1.36zM333 67.15h1.36v3.6h-1.36zM368.64 67.15h1.36v3.6h-1.36zM429.36 67.15h1.36v3.6h-1.36zM311.88 71.88h1.36v3.6h-1.36zM314.52 71.88h1.36v3.6h-1.36zM352.8 71.88h1.36v3.6h-1.36zM372.6 71.88h1.36v3.6h-1.36zM305.28 76.6h1.36v3.6h-1.36zM373.92 76.6h1.36v3.6h-1.36zM380.52 76.6h2.68v3.6h-2.68zM384.48 76.6h1.36v3.6h-1.36zM333 81.32h1.36v3.6h-1.36zM335.64 81.32h2.68v3.6h-2.68zM339.6 81.32h1.36v3.6h-1.36zM338.28 86.05h1.36v3.6h-1.36zM346.2 86.05h2.68v3.6h-2.68zM438.6 86.05h1.36v3.6h-1.36zM302.64 90.77h1.36v3.6h-1.36zM307.92 90.77h2.68v3.6h-2.68zM373.92 90.77h1.36v3.6h-1.36zM317.16 95.5h1.36v3.6h-1.36zM321.12 95.5h1.36v3.6h-1.36zM344.88 95.5h1.36v3.6h-1.36zM352.8 100.22h1.36v3.6h-1.36zM355.44 100.22h1.36v3.6h-1.36zM376.56 100.22h2.68v3.6h-2.68zM410.88 100.22h1.36v3.6h-1.36zM307.92 109.67h1.36v3.6h-1.36zM369.96 109.67h1.36v3.6h-1.36zM373.92 109.67h1.36v3.6h-1.36zM366 114.4h1.36v3.6h-1.36zM302.64 123.85h1.36v3.6h-1.36zM309.24 123.85h1.36v3.6h-1.36zM303.96 128.57h1.36v3.6h-1.36zM322.44 128.57h1.36v3.6h-1.36zM352.8 128.57h1.36v3.6h-1.36zM389.76 128.57h1.36v3.6h-1.36zM303.96 133.3h4v3.6h-4zM315.84 133.3h1.36v3.6h-1.36zM300 138.03h1.36v3.6h-1.36zM302.64 138.03h1.36v3.6h-1.36zM305.28 138.03h1.36v3.6h-1.36zM343.56 138.03h1.36v3.6h-1.36zM301.32 142.75h1.36v3.6h-1.36zM326.4 142.75h1.36v3.6h-1.36zM358.08 142.75h1.36v3.6h-1.36zM360.72 142.75h1.36v3.6h-1.36zM323.76 152.2h1.36v3.6h-1.36zM326.4 152.2h1.36v3.6h-1.36zM326.4 156.92h1.36v3.6h-1.36zM339.6 156.92h2.68v3.6h-2.68zM305.28 161.65h1.36v3.6h-1.36zM322.44 161.65h1.36v3.6h-1.36zM348.84 161.65h2.68v3.6h-2.68zM321.12 166.37h1.36v3.6h-1.36zM326.4 166.37h1.36v3.6h-1.36zM339.6 166.37h1.36v3.6h-1.36zM342.24 166.37h1.36v3.6h-1.36zM346.2 166.37h1.36v3.6h-1.36zM301.32 171.1h1.36v3.6h-1.36z"/>
<path fill="#3c9408" d="M302.64 38.8h1.36v3.6h-1.36zM306.6 38.8h4v3.6h-4zM314.52 38.8h1.36v3.6h-1.36zM323.76 38.8h1.36v3.6h-1.36zM344.88 38.8h1.36v3.6h-1.36zM363.36 38.8h2.68v3.6h-2.68zM368.64 38.8h1.36v3.6h-1.36zM418.8 38.8h1.36v3.6h-1.36zM421.44 38.8h2.68v3.6h-2.68zM426.72 38.8h1.36v3.6h-1.36zM437.28 38.8h2.68v3.6h-2.68zM442.56 38.8h2.68v3.6h-2.68zM455.76 38.8h1.36v3.6h-1.36zM470.28 38.8h1.36v3.6h-1.36zM474.24 38.8h1.36v3.6h-1.36zM480.84 38.8h1.36v3.6h-1.36zM484.8 38.8h1.36v3.6h-1.36zM301.32 43.53h1.36v3.6h-1.36zM313.2 43.53h1.36v3.6h-1.36zM315.84 43.53h1.36v3.6h-1.36zM327.72 43.53h1.36v3.6h-1.36zM342.24 43.53h1.36v3.6h-1.36zM344.88 43.53h4v3.6h-4zM350.16 43.53h2.68v3.6h-2.68zM354.12 43.53h1.36v3.6h-1.36zM358.08 43.53h1.36v3.6h-1.36zM362.04 43.53h1.36v3.6h-1.36zM366 43.53h1.36v3.6h-1.36zM369.96 43.53h1.36v3.6h-1.36zM387.12 43.53h1.36v3.6h-1.36zM391.08 43.53h1.36v3.6h-1.36zM405.6 43.53h1.36v3.6h-1.36zM418.8 43.53h1.36v3.6h-1.36zM422.76 43.53h1.36v3.6h-1.36zM425.4 43.53h1.36v3.6h-1.36zM437.28 43.53h2.68v3.6h-2.68zM451.8 43.53h1.36v3.6h-1.36zM463.68 43.53h1.36v3.6h-1.36zM305.28 48.25h1.36v3.6h-1.36zM310.56 48.25h1.36v3.6h-1.36zM344.88 48.25h1.36v3.6h-1.36zM348.84 48.25h1.36v3.6h-1.36zM359.4 48.25h1.36v3.6h-1.36zM366 48.25h1.36v3.6h-1.36zM377.88 48.25h1.36v3.6h-1.36zM384.48 48.25h1.36v3.6h-1.36zM389.76 48.25h1.36v3.6h-1.36zM399 48.25h1.36v3.6h-1.36zM406.92 48.25h1.36v3.6h-1.36zM422.76 48.25h1.36v3.6h-1.36zM426.72 48.25h1.36v3.6h-1.36zM433.32 48.25h1.36v3.6h-1.36zM449.16 48.25h1.36v3.6h-1.36zM453.12 48.25h1.36v3.6h-1.36zM306.6 52.98h2.68v3.6h-2.68zM331.68 52.98h1.36v3.6h-1.36zM334.32 52.98h1.36v3.6h-1.36zM336.96 52.98h1.36v3.6h-1.36zM346.2 52.98h1.36v3.6h-1.36zM350.16 52.98h4v3.6h-4zM359.4 52.98h1.36v3.6h-1.36zM363.36 52.98h1.36v3.6h-1.36zM376.56 52.98h1.36v3.6h-1.36zM384.48 52.98h1.36v3.6h-1.36zM392.4 52.98h1.36v3.6h-1.36zM401.64 52.98h1.36v3.6h-1.36zM450.48 52.98h2.68v3.6h-2.68zM455.76 52.98h1.36v3.6h-1.36zM303.96 57.7h1.36v3.6h-1.36zM327.72 57.7h1.36v3.6h-1.36zM344.88 57.7h1.36v3.6h-1.36zM352.8 57.7h1.36v3.6h-1.36zM362.04 57.7h1.36v3.6h-1.36zM368.64 57.7h1.36v3.6h-1.36zM371.28 57.7h1.36v3.6h-1.36zM376.56 57.7h4v3.6h-4zM381.84 57.7h1.36v3.6h-1.36zM387.12 57.7h1.36v3.6h-1.36zM400.32 57.7h4v3.6h-4zM405.6 57.7h2.68v3.6h-2.68zM421.44 57.7h1.36v3.6h-1.36zM424.08 57.7h2.68v3.6h-2.68zM453.12 57.7h4v3.6h-4zM303.96 62.43h1.36v3.6h-1.36zM330.36 62.43h2.68v3.6h-2.68zM334.32 62.43h1.36v3.6h-1.36zM383.16 62.43h1.36v3.6h-1.36zM385.8 62.43h2.68v3.6h-2.68zM391.08 62.43h4v3.6h-4zM396.36 62.43h1.36v3.6h-1.36zM404.28 62.43h1.36v3.6h-1.36zM406.92 62.43h1.36v3.6h-1.36zM409.56 62.43h1.36v3.6h-1.36zM413.52 62.43h2.68v3.6h-2.68zM417.48 62.43h1.36v3.6h-1.36zM429.36 62.43h2.68v3.6h-2.68zM306.6 67.15h1.36v3.6h-1.36zM329.04 67.15h4v3.6h-4zM334.32 67.15h1.36v3.6h-1.36zM369.96 67.15h1.36v3.6h-1.36zM375.24 67.15h1.36v3.6h-1.36zM377.88 67.15h1.36v3.6h-1.36zM383.16 67.15h1.36v3.6h-1.36zM410.88 67.15h1.36v3.6h-1.36zM425.4 67.15h2.68v3.6h-2.68zM442.56 67.15h0.57v3.6h-0.57zM313.2 71.88h1.36v3.6h-1.36zM318.48 71.88h1.36v3.6h-1.36zM330.36 71.88h2.68v3.6h-2.68zM348.84 71.88h1.36v3.6h-1.36zM351.48 71.88h1.36v3.6h-1.36zM366 71.88h1.36v3.6h-1.36zM368.64 71.88h1.36v3.6h-1.36zM371.28 71.88h1.36v3.6h-1.36zM393.72 71.88h6.64v3.6h-6.64zM410.88 71.88h1.36v3.6h-1.36zM416.16 71.88h1.36v3.6h-1.36zM418.8 71.88h1.36v3.6h-1.36zM424.08 71.88h1.36v3.6h-1.36zM426.72 71.88h1.36v3.6h-1.36zM433.32 71.88h5.32v3.6h-5.32zM302.64 76.6h1.36v3.6h-1.36zM306.6 76.6h5.32v3.6h-5.32zM317.16 76.6h4v3.6h-4zM322.44 76.6h1.36v3.6h-1.36zM330.36 76.6h2.68v3.6h-2.68zM356.76 76.6h1.36v3.6h-1.36zM367.32 76.6h1.36v3.6h-1.36zM371.28 76.6h2.68v3.6h-2.68zM377.88 76.6h1.36v3.6h-1.36zM383.16 76.6h1.36v3.6h-1.36zM396.36 76.6h1.36v3.6h-1.36zM399 76.6h1.36v3.6h-1.36zM326.4 81.32h2.68v3.6h-2.68zM330.36 81.32h2.68v3.6h-2.68zM334.32 81.32h1.36v3.6h-1.36zM340.92 81.32h2.68v3.6h-2.68zM356.76 81.32h4v3.6h-4zM362.04 81.32h1.36v3.6h-1.36zM373.92 81.32h2.68v3.6h-2.68zM377.88 81.32h1.36v3.6h-1.36zM385.8 81.32h1.36v3.6h-1.36zM388.44 81.32h5.32v3.6h-5.32zM395.04 81.32h2.68v3.6h-2.68zM412.2 81.32h1.36v3.6h-1.36zM421.44 81.32h1.36v3.6h-1.36zM432 81.32h1.36v3.6h-1.36zM303.96 86.05h2.68v3.6h-2.68zM325.08 86.05h1.36v3.6h-1.36zM330.36 86.05h1.36v3.6h-1.36zM334.32 86.05h1.36v3.6h-1.36zM340.92 86.05h5.32v3.6h-5.32zM348.84 86.05h1.36v3.6h-1.36zM360.72 86.05h1.36v3.6h-1.36zM375.24 86.05h1.36v3.6h-1.36zM385.8 86.05h1.36v3.6h-1.36zM388.44 86.05h1.36v3.6h-1.36zM395.04 86.05h1.36v3.6h-1.36zM402.96 86.05h4v3.6h-4zM409.56 86.05h1.36v3.6h-1.36zM430.68 86.05h6.64v3.6h-6.64zM303.96 90.77h1.36v3.6h-1.36zM310.56 90.77h1.36v3.6h-1.36zM315.84 90.77h1.36v3.6h-1.36zM331.68 90.77h1.36v3.6h-1.36zM334.32 90.77h1.36v3.6h-1.36zM338.28 90.77h1.36v3.6h-1.36zM366 90.77h1.36v3.6h-1.36zM371.28 90.77h2.68v3.6h-2.68zM376.56 90.77h1.36v3.6h-1.36zM381.84 90.77h1.36v3.6h-1.36zM388.44 90.77h2.68v3.6h-2.68zM392.4 90.77h1.36v3.6h-1.36zM405.6 90.77h1.36v3.6h-1.36zM313.2 95.5h1.36v3.6h-1.36zM318.48 95.5h2.68v3.6h-2.68zM322.44 95.5h1.36v3.6h-1.36zM327.72 95.5h1.36v3.6h-1.36zM333 95.5h1.36v3.6h-1.36zM340.92 95.5h2.68v3.6h-2.68zM401.64 95.5h1.36v3.6h-1.36zM301.32 100.22h1.36v3.6h-1.36zM318.48 100.22h6.64v3.6h-6.64zM336.96 100.22h1.36v3.6h-1.36zM347.52 100.22h1.36v3.6h-1.36zM351.48 100.22h1.36v3.6h-1.36zM354.12 100.22h1.36v3.6h-1.36zM356.76 100.22h1.36v3.6h-1.36zM368.64 100.22h1.36v3.6h-1.36zM373.92 100.22h1.36v3.6h-1.36zM379.2 100.22h1.36v3.6h-1.36zM413.52 100.22h1.36v3.6h-1.36zM313.2 104.95h1.36v3.6h-1.36zM315.84 104.95h2.68v3.6h-2.68zM372.6 104.95h1.36v3.6h-1.36zM381.84 104.95h1.36v3.6h-1.36zM402.96 104.95h1.36v3.6h-1.36zM406.92 104.95h1.23v3.6h-1.23zM306.6 109.67h1.36v3.6h-1.36zM309.24 109.67h1.36v3.6h-1.36zM314.52 109.67h2.68v3.6h-2.68zM368.64 109.67h1.36v3.6h-1.36zM372.6 109.67h1.36v3.6h-1.36zM375.24 109.67h2.68v3.6h-2.68zM309.24 114.4h2.68v3.6h-2.68zM330.36 114.4h1.36v3.6h-1.36zM354.12 114.4h2.68v3.6h-2.68zM364.68 114.4h1.36v3.6h-1.36zM367.32 114.4h1.36v3.6h-1.36zM381.84 114.4h1.36v3.6h-1.36zM309.24 119.12h1.36v3.6h-1.36zM317.16 119.12h2.68v3.6h-2.68zM321.12 119.12h2.68v3.6h-2.68zM346.2 119.12h1.36v3.6h-1.36zM348.84 119.12h1.36v3.6h-1.36zM351.48 119.12h1.36v3.6h-1.36zM354.12 119.12h1.36v3.6h-1.36zM388.44 119.12h0.7v3.6h-0.7zM300 123.85h2.68v3.6h-2.68zM305.28 123.85h4v3.6h-4zM310.56 123.85h2.68v3.6h-2.68zM329.04 123.85h1.36v3.6h-1.36zM340.92 123.85h4v3.6h-4zM356.76 123.85h5.32v3.6h-5.32zM375.24 123.85h1.36v3.6h-1.36zM302.64 128.57h1.36v3.6h-1.36zM309.24 128.57h1.36v3.6h-1.36zM321.12 128.57h1.36v3.6h-1.36zM325.08 128.57h1.36v3.6h-1.36zM338.28 128.57h1.36v3.6h-1.36zM340.92 128.57h1.36v3.6h-1.36zM348.84 128.57h2.68v3.6h-2.68zM354.12 128.57h2.68v3.6h-2.68zM367.32 128.57h1.36v3.6h-1.36zM373.92 128.57h1.36v3.6h-1.36zM384.48 128.57h1.36v3.6h-1.36zM387.12 128.57h1.36v3.6h-1.36zM393.72 128.57h1.1v3.6h-1.1zM300 133.3h1.36v3.6h-1.36zM302.64 133.3h1.36v3.6h-1.36zM307.92 133.3h1.36v3.6h-1.36zM317.16 133.3h1.36v3.6h-1.36zM340.92 133.3h1.36v3.6h-1.36zM344.88 133.3h1.36v3.6h-1.36zM372.6 133.3h1.36v3.6h-1.36zM389.76 133.3h1.89v3.6h-1.89zM301.32 138.03h1.36v3.6h-1.36zM303.96 138.03h1.36v3.6h-1.36zM335.64 138.03h1.36v3.6h-1.36zM338.28 138.03h1.36v3.6h-1.36zM342.24 138.03h1.36v3.6h-1.36zM302.64 142.75h2.68v3.6h-2.68zM306.6 142.75h1.36v3.6h-1.36zM331.68 142.75h4v3.6h-4zM352.8 142.75h1.36v3.6h-1.36zM355.44 142.75h1.36v3.6h-1.36zM359.4 142.75h1.36v3.6h-1.36zM362.04 142.75h2.68v3.6h-2.68zM321.12 147.47h1.36v3.6h-1.36zM327.72 147.47h1.36v3.6h-1.36zM356.76 147.47h1.36v3.6h-1.36zM369.96 147.47h1.36v3.6h-1.36zM305.28 152.2h1.36v3.6h-1.36zM322.44 152.2h1.36v3.6h-1.36zM325.08 152.2h1.36v3.6h-1.36zM329.04 152.2h1.36v3.6h-1.36zM333 152.2h2.68v3.6h-2.68zM339.6 152.2h1.36v3.6h-1.36zM347.52 152.2h1.36v3.6h-1.36zM354.12 152.2h1.36v3.6h-1.36zM315.84 156.92h1.36v3.6h-1.36zM318.48 156.92h4v3.6h-4zM301.32 161.65h1.36v3.6h-1.36zM303.96 161.65h1.36v3.6h-1.36zM306.6 161.65h1.36v3.6h-1.36zM326.4 161.65h1.36v3.6h-1.36zM340.92 161.65h1.36v3.6h-1.36zM344.88 161.65h4v3.6h-4zM355.44 161.65h1.36v3.6h-1.36zM309.24 166.37h1.36v3.6h-1.36zM319.8 166.37h1.36v3.6h-1.36zM329.04 166.37h1.36v3.6h-1.36zM333 166.37h1.36v3.6h-1.36zM336.96 166.37h1.36v3.6h-1.36zM343.56 166.37h2.68v3.6h-2.68zM348.84 166.37h1.36v3.6h-1.36zM354.12 166.37h2.68v3.6h-2.68zM358.08 166.37h1.89v3.6h-1.89zM306.6 171.1h1.36v3.6h-1.36zM319.8 171.1h1.36v3.6h-1.36zM362.04 171.1h1.36v3.6h-1.36z"/>
<path fill="#56a20c" d="M300 38.8h2.68v3.6h-2.68zM305.28 38.8h1.36v3.6h-1.36zM313.2 38.8h1.36v3.6h-1.36zM318.48 38.8h1.36v3.6h-1.36zM325.08 38.8h1.36v3.6h-1.36zM330.36 38.8h1.36v3.6h-1.36zM336.96 38.8h1.36v3.6h-1.36zM340.92 38.8h1.36v3.6h-1.36zM346.2 38.8h1.36v3.6h-1.36zM355.44 38.8h2.68v3.6h-2.68zM359.4 38.8h1.36v3.6h-1.36zM367.32 38.8h1.36v3.6h-1.36zM369.96 38.8h6.64v3.6h-6.64zM396.36 38.8h2.68v3.6h-2.68zM404.28 38.8h1.36v3.6h-1.36zM420.12 38.8h1.36v3.6h-1.36zM424.08 38.8h1.36v3.6h-1.36zM428.04 38.8h2.68v3.6h-2.68zM432 38.8h2.68v3.6h-2.68zM445.2 38.8h2.68v3.6h-2.68zM450.48 38.8h1.36v3.6h-1.36zM454.44 38.8h1.36v3.6h-1.36zM457.08 38.8h1.36v3.6h-1.36zM461.04 38.8h2.68v3.6h-2.68zM467.64 38.8h2.68v3.6h-2.68zM471.6 38.8h2.68v3.6h-2.68zM475.56 38.8h2.68v3.6h-2.68zM482.16 38.8h1.36v3.6h-1.36zM487.44 38.8h1.36v3.6h-1.36zM490.08 38.8h1.36v3.6h-1.36zM496.68 38.8h1.36v3.6h-1.36zM503.28 38.8h1.36v3.6h-1.36zM505.92 38.8h1.89v3.6h-1.89zM300 43.53h1.36v3.6h-1.36zM302.64 43.53h2.68v3.6h-2.68zM306.6 43.53h2.68v3.6h-2.68zM311.88 43.53h1.36v3.6h-1.36zM314.52 43.53h1.36v3.6h-1.36zM321.12 43.53h1.36v3.6h-1.36zM323.76 43.53h2.68v3.6h-2.68zM340.92 43.53h1.36v3.6h-1.36zM343.56 43.53h1.36v3.6h-1.36zM355.44 43.53h2.68v3.6h-2.68zM359.4 43.53h2.68v3.6h-2.68zM363.36 43.53h1.36v3.6h-1.36zM376.56 43.53h1.36v3.6h-1.36zM380.52 43.53h2.68v3.6h-2.68zM385.8 43.53h1.36v3.6h-1.36zM388.44 43.53h1.36v3.6h-1.36zM396.36 43.53h1.36v3.6h-1.36zM399 43.53h1.36v3.6h-1.36zM404.28 43.53h1.36v3.6h-1.36zM406.92 43.53h4v3.6h-4zM417.48 43.53h1.36v3.6h-1.36zM420.12 43.53h1.36v3.6h-1.36zM428.04 43.53h9.28v3.6h-9.28zM449.16 43.53h2.68v3.6h-2.68zM453.12 43.53h1.36v3.6h-1.36zM462.36 43.53h1.36v3.6h-1.36zM467.64 43.53h1.36v3.6h-1.36zM474.24 43.53h1.36v3.6h-1.36zM476.88 43.53h3.34v3.6h-3.34zM300 48.25h5.32v3.6h-5.32zM306.6 48.25h4v3.6h-4zM313.2 48.25h2.68v3.6h-2.68zM327.72 48.25h1.36v3.6h-1.36zM338.28 48.25h6.64v3.6h-6.64zM347.52 48.25h1.36v3.6h-1.36zM351.48 48.25h4v3.6h-4zM358.08 48.25h1.36v3.6h-1.36zM362.04 48.25h4v3.6h-4zM368.64 48.25h1.36v3.6h-1.36zM371.28 48.25h6.64v3.6h-6.64zM379.2 48.25h2.68v3.6h-2.68zM383.16 48.25h1.36v3.6h-1.36zM392.4 48.25h5.32v3.6h-5.32zM400.32 48.25h1.36v3.6h-1.36zM404.28 48.25h1.36v3.6h-1.36zM408.24 48.25h2.68v3.6h-2.68zM412.2 48.25h1.36v3.6h-1.36zM416.16 48.25h4v3.6h-4zM424.08 48.25h2.68v3.6h-2.68zM428.04 48.25h4v3.6h-4zM435.96 48.25h1.36v3.6h-1.36zM442.56 48.25h4v3.6h-4zM447.84 48.25h1.36v3.6h-1.36zM451.8 48.25h1.36v3.6h-1.36zM454.44 48.25h1.36v3.6h-1.36zM302.64 52.98h1.36v3.6h-1.36zM309.24 52.98h6.64v3.6h-6.64zM319.8 52.98h2.68v3.6h-2.68zM327.72 52.98h2.68v3.6h-2.68zM333 52.98h1.36v3.6h-1.36zM335.64 52.98h1.36v3.6h-1.36zM342.24 52.98h1.36v3.6h-1.36zM347.52 52.98h2.68v3.6h-2.68zM354.12 52.98h5.32v3.6h-5.32zM360.72 52.98h1.36v3.6h-1.36zM375.24 52.98h1.36v3.6h-1.36zM377.88 52.98h6.64v3.6h-6.64zM385.8 52.98h1.36v3.6h-1.36zM393.72 52.98h1.36v3.6h-1.36zM396.36 52.98h2.68v3.6h-2.68zM400.32 52.98h1.36v3.6h-1.36zM402.96 52.98h1.36v3.6h-1.36zM405.6 52.98h1.36v3.6h-1.36zM408.24 52.98h1.36v3.6h-1.36zM418.8 52.98h2.68v3.6h-2.68zM453.12 52.98h1.36v3.6h-1.36zM457.08 52.98h2.28v3.6h-2.28zM302.64 57.7h1.36v3.6h-1.36zM310.56 57.7h1.36v3.6h-1.36zM315.84 57.7h1.36v3.6h-1.36zM325.08 57.7h2.68v3.6h-2.68zM346.2 57.7h6.64v3.6h-6.64zM354.12 57.7h2.68v3.6h-2.68zM360.72 57.7h1.36v3.6h-1.36zM363.36 57.7h1.36v3.6h-1.36zM383.16 57.7h2.68v3.6h-2.68zM388.44 57.7h1.36v3.6h-1.36zM393.72 57.7h1.36v3.6h-1.36zM396.36 57.7h1.36v3.6h-1.36zM399 57.7h1.36v3.6h-1.36zM404.28 57.7h1.36v3.6h-1.36zM409.56 57.7h1.36v3.6h-1.36zM412.2 57.7h1.36v3.6h-1.36zM417.48 57.7h2.68v3.6h-2.68zM429.36 57.7h4v3.6h-4zM437.28 57.7h1.36v3.6h-1.36zM441.24 57.7h2.68v3.6h-2.68zM446.52 57.7h6.64v3.6h-6.64zM300 62.43h1.36v3.6h-1.36zM305.28 62.43h1.36v3.6h-1.36zM333 62.43h1.36v3.6h-1.36zM336.96 62.43h1.36v3.6h-1.36zM340.92 62.43h1.36v3.6h-1.36zM362.04 62.43h9.28v3.6h-9.28zM372.6 62.43h1.36v3.6h-1.36zM381.84 62.43h1.36v3.6h-1.36zM389.76 62.43h1.36v3.6h-1.36zM397.68 62.43h1.36v3.6h-1.36zM402.96 62.43h1.36v3.6h-1.36zM405.6 62.43h1.36v3.6h-1.36zM408.24 62.43h1.36v3.6h-1.36zM410.88 62.43h2.68v3.6h-2.68zM416.16 62.43h1.36v3.6h-1.36zM418.8 62.43h1.36v3.6h-1.36zM428.04 62.43h1.36v3.6h-1.36zM434.64 62.43h4v3.6h-4zM449.16 62.43h1.36v3.6h-1.36zM453.12 62.43h1.36v3.6h-1.36zM300 67.15h1.36v3.6h-1.36zM305.28 67.15h1.36v3.6h-1.36zM309.24 67.15h4v3.6h-4zM325.08 67.15h4v3.6h-4zM335.64 67.15h1.36v3.6h-1.36zM338.28 67.15h1.36v3.6h-1.36zM346.2 67.15h1.36v3.6h-1.36zM354.12 67.15h1.36v3.6h-1.36zM366 67.15h2.68v3.6h-2.68zM373.92 67.15h1.36v3.6h-1.36zM379.2 67.15h2.68v3.6h-2.68zM385.8 67.15h1.36v3.6h-1.36zM393.72 67.15h4v3.6h-4zM399 67.15h1.36v3.6h-1.36zM401.64 67.15h1.36v3.6h-1.36zM413.52 67.15h1.36v3.6h-1.36zM418.8 67.15h2.68v3.6h-2.68zM422.76 67.15h2.68v3.6h-2.68zM428.04 67.15h1.36v3.6h-1.36zM430.68 67.15h5.32v3.6h-5.32zM437.28 67.15h1.36v3.6h-1.36zM439.92 67.15h2.68v3.6h-2.68zM300 71.88h2.68v3.6h-2.68zM310.56 71.88h1.36v3.6h-1.36zM315.84 71.88h2.68v3.6h-2.68zM333 71.88h2.68v3.6h-2.68zM347.52 71.88h1.36v3.6h-1.36zM350.16 71.88h1.36v3.6h-1.36zM364.68 71.88h1.36v3.6h-1.36zM367.32 71.88h1.36v3.6h-1.36zM369.96 71.88h1.36v3.6h-1.36zM373.92 71.88h2.68v3.6h-2.68zM380.52 71.88h2.68v3.6h-2.68zM387.12 71.88h6.64v3.6h-6.64zM401.64 71.88h1.36v3.6h-1.36zM412.2 71.88h2.68v3.6h-2.68zM417.48 71.88h1.36v3.6h-1.36zM420.12 71.88h1.36v3.6h-1.36zM425.4 71.88h1.36v3.6h-1.36zM429.36 71.88h4v3.6h-4zM438.6 71.88h2.68v3.6h-2.68zM443.88 71.88h2.68v3.6h-2.68zM300 76.6h1.36v3.6h-1.36zM303.96 76.6h1.36v3.6h-1.36zM311.88 76.6h1.36v3.6h-1.36zM326.4 76.6h1.36v3.6h-1.36zM329.04 76.6h1.36v3.6h-1.36zM333 76.6h1.36v3.6h-1.36zM335.64 76.6h2.68v3.6h-2.68zM347.52 76.6h1.36v3.6h-1.36zM350.16 76.6h2.68v3.6h-2.68zM359.4 76.6h1.36v3.6h-1.36zM362.04 76.6h1.36v3.6h-1.36zM368.64 76.6h2.68v3.6h-2.68zM379.2 76.6h1.36v3.6h-1.36zM385.8 76.6h2.68v3.6h-2.68zM389.76 76.6h1.36v3.6h-1.36zM393.72 76.6h2.68v3.6h-2.68zM397.68 76.6h1.36v3.6h-1.36zM409.56 76.6h1.36v3.6h-1.36zM412.2 76.6h1.36v3.6h-1.36zM414.84 76.6h1.36v3.6h-1.36zM301.32 81.32h1.36v3.6h-1.36zM303.96 81.32h1.36v3.6h-1.36zM306.6 81.32h1.36v3.6h-1.36zM309.24 81.32h2.68v3.6h-2.68zM314.52 81.32h1.36v3.6h-1.36zM317.16 81.32h1.36v3.6h-1.36zM321.12 81.32h2.68v3.6h-2.68zM325.08 81.32h1.36v3.6h-1.36zM329.04 81.32h1.36v3.6h-1.36zM343.56 81.32h2.68v3.6h-2.68zM350.16 81.32h1.36v3.6h-1.36zM355.44 81.32h1.36v3.6h-1.36zM360.72 81.32h1.36v3.6h-1.36zM366 81.32h1.36v3.6h-1.36zM368.64 81.32h1.36v3.6h-1.36zM376.56 81.32h1.36v3.6h-1.36zM380.52 81.32h1.36v3.6h-1.36zM387.12 81.32h1.36v3.6h-1.36zM408.24 81.32h1.36v3.6h-1.36zM410.88 81.32h1.36v3.6h-1.36zM413.52 81.32h2.68v3.6h-2.68zM428.04 81.32h1.36v3.6h-1.36zM300 86.05h1.36v3.6h-1.36zM302.64 86.05h1.36v3.6h-1.36zM306.6 86.05h2.68v3.6h-2.68zM322.44 86.05h2.68v3.6h-2.68zM327.72 86.05h2.68v3.6h-2.68zM333 86.05h1.36v3.6h-1.36zM339.6 86.05h1.36v3.6h-1.36zM351.48 86.05h1.36v3.6h-1.36zM359.4 86.05h1.36v3.6h-1.36zM363.36 86.05h2.68v3.6h-2.68zM373.92 86.05h1.36v3.6h-1.36zM376.56 86.05h1.36v3.6h-1.36zM380.52 86.05h1.36v3.6h-1.36zM384.48 86.05h1.36v3.6h-1.36zM387.12 86.05h1.36v3.6h-1.36zM389.76 86.05h4v3.6h-4zM396.36 86.05h1.36v3.6h-1.36zM400.32 86.05h2.68v3.6h-2.68zM406.92 86.05h2.68v3.6h-2.68zM413.52 86.05h1.36v3.6h-1.36zM418.8 86.05h2.68v3.6h-2.68zM422.76 86.05h1.36v3.6h-1.36zM429.36 86.05h1.36v3.6h-1.36zM437.28 86.05h1.36v3.6h-1.36zM439.92 86.05h0.3v3.6h-0.3zM300 90.77h2.68v3.6h-2.68zM305.28 90.77h2.68v3.6h-2.68zM313.2 90.77h2.68v3.6h-2.68zM317.16 90.77h1.36v3.6h-1.36zM325.08 90.77h1.36v3.6h-1.36zM330.36 90.77h1.36v3.6h-1.36zM333 90.77h1.36v3.6h-1.36zM335.64 90.77h2.68v3.6h-2.68zM339.6 90.77h2.68v3.6h-2.68zM343.56 90.77h2.68v3.6h-2.68zM347.52 90.77h1.36v3.6h-1.36zM350.16 90.77h1.36v3.6h-1.36zM358.08 90.77h4v3.6h-4zM363.36 90.77h1.36v3.6h-1.36zM368.64 90.77h1.36v3.6h-1.36zM375.24 90.77h1.36v3.6h-1.36zM377.88 90.77h2.68v3.6h-2.68zM384.48 90.77h1.36v3.6h-1.36zM391.08 90.77h1.36v3.6h-1.36zM395.04 90.77h2.68v3.6h-2.68zM400.32 90.77h1.36v3.6h-1.36zM404.28 90.77h1.36v3.6h-1.36zM406.92 90.77h1.36v3.6h-1.36zM414.84 90.77h0.44v3.6h-0.44zM303.96 95.5h1.36v3.6h-1.36zM307.92 95.5h5.32v3.6h-5.32zM314.52 95.5h1.36v3.6h-1.36zM323.76 95.5h4v3.6h-4zM329.04 95.5h4v3.6h-4zM336.96 95.5h1.36v3.6h-1.36zM343.56 95.5h1.36v3.6h-1.36zM350.16 95.5h2.68v3.6h-2.68zM356.76 95.5h2.68v3.6h-2.68zM362.04 95.5h1.36v3.6h-1.36zM372.6 95.5h9.28v3.6h-9.28zM396.36 95.5h1.36v3.6h-1.36zM402.96 95.5h1.36v3.6h-1.36zM406.92 95.5h1.36v3.6h-1.36zM300 100.22h1.36v3.6h-1.36zM302.64 100.22h1.36v3.6h-1.36zM305.28 100.22h2.68v3.6h-2.68zM325.08 100.22h2.68v3.6h-2.68zM334.32 100.22h1.36v3.6h-1.36zM338.28 100.22h6.64v3.6h-6.64zM346.2 100.22h1.36v3.6h-1.36zM348.84 100.22h2.68v3.6h-2.68zM363.36 100.22h1.36v3.6h-1.36zM369.96 100.22h2.68v3.6h-2.68zM375.24 100.22h1.36v3.6h-1.36zM384.48 100.22h1.36v3.6h-1.36zM399 100.22h2.68v3.6h-2.68zM404.28 100.22h1.36v3.6h-1.36zM406.92 100.22h2.68v3.6h-2.68zM420.12 100.22h1.36v3.6h-1.36zM422.76 100.22h1.36v3.6h-1.36zM300 104.95h1.36v3.6h-1.36zM310.56 104.95h2.68v3.6h-2.68zM318.48 104.95h2.68v3.6h-2.68zM352.8 104.95h2.68v3.6h-2.68zM356.76 104.95h6.64v3.6h-6.64zM366 104.95h5.32v3.6h-5.32zM373.92 104.95h1.36v3.6h-1.36zM384.48 104.95h7.96v3.6h-7.96zM395.04 104.95h1.36v3.6h-1.36zM401.64 104.95h1.36v3.6h-1.36zM405.6 104.95h1.36v3.6h-1.36zM300 109.67h5.32v3.6h-5.32zM310.56 109.67h1.36v3.6h-1.36zM313.2 109.67h1.36v3.6h-1.36zM317.16 109.67h1.36v3.6h-1.36zM323.76 109.67h6.64v3.6h-6.64zM331.68 109.67h1.36v3.6h-1.36zM334.32 109.67h2.68v3.6h-2.68zM338.28 109.67h1.36v3.6h-1.36zM342.24 109.67h1.36v3.6h-1.36zM346.2 109.67h1.36v3.6h-1.36zM352.8 109.67h1.36v3.6h-1.36zM355.44 109.67h2.68v3.6h-2.68zM359.4 109.67h1.36v3.6h-1.36zM364.68 109.67h2.68v3.6h-2.68zM377.88 109.67h1.36v3.6h-1.36zM404.28 109.67h0.57v3.6h-0.57zM300 114.4h2.68v3.6h-2.68zM306.6 114.4h1.36v3.6h-1.36zM311.88 114.4h1.36v3.6h-1.36zM314.52 114.4h1.36v3.6h-1.36zM335.64 114.4h1.36v3.6h-1.36zM347.52 114.4h1.36v3.6h-1.36zM350.16 114.4h4v3.6h-4zM359.4 114.4h1.36v3.6h-1.36zM362.04 114.4h2.68v3.6h-2.68zM368.64 114.4h1.36v3.6h-1.36zM371.28 114.4h1.36v3.6h-1.36zM373.92 114.4h1.36v3.6h-1.36zM385.8 114.4h1.36v3.6h-1.36zM388.44 114.4h2.68v3.6h-2.68zM392.4 114.4h2.42v3.6h-2.42zM301.32 119.12h1.36v3.6h-1.36zM303.96 119.12h1.36v3.6h-1.36zM307.92 119.12h1.36v3.6h-1.36zM310.56 119.12h1.36v3.6h-1.36zM315.84 119.12h1.36v3.6h-1.36zM325.08 119.12h4v3.6h-4zM331.68 119.12h2.68v3.6h-2.68zM340.92 119.12h1.36v3.6h-1.36zM344.88 119.12h1.36v3.6h-1.36zM347.52 119.12h1.36v3.6h-1.36zM350.16 119.12h1.36v3.6h-1.36zM358.08 119.12h1.36v3.6h-1.36zM385.8 119.12h2.68v3.6h-2.68zM315.84 123.85h7.96v3.6h-7.96zM327.72 123.85h1.36v3.6h-1.36zM330.36 123.85h1.36v3.6h-1.36zM333 123.85h1.36v3.6h-1.36zM335.64 123.85h5.32v3.6h-5.32zM346.2 123.85h1.36v3.6h-1.36zM348.84 123.85h1.36v3.6h-1.36zM352.8 123.85h2.68v3.6h-2.68zM362.04 123.85h1.36v3.6h-1.36zM380.52 123.85h1.36v3.6h-1.36zM300 128.57h1.36v3.6h-1.36zM305.28 128.57h1.36v3.6h-1.36zM307.92 128.57h1.36v3.6h-1.36zM310.56 128.57h4v3.6h-4zM317.16 128.57h4v3.6h-4zM323.76 128.57h1.36v3.6h-1.36zM326.4 128.57h4v3.6h-4zM342.24 128.57h6.64v3.6h-6.64zM351.48 128.57h1.36v3.6h-1.36zM356.76 128.57h1.36v3.6h-1.36zM359.4 128.57h1.36v3.6h-1.36zM366 128.57h1.36v3.6h-1.36zM371.28 128.57h2.68v3.6h-2.68zM376.56 128.57h2.68v3.6h-2.68zM380.52 128.57h1.36v3.6h-1.36zM385.8 128.57h1.36v3.6h-1.36zM388.44 128.57h1.36v3.6h-1.36zM392.4 128.57h1.36v3.6h-1.36zM301.32 133.3h1.36v3.6h-1.36zM318.48 133.3h4v3.6h-4zM330.36 133.3h1.36v3.6h-1.36zM333 133.3h1.36v3.6h-1.36zM336.96 133.3h2.68v3.6h-2.68zM343.56 133.3h1.36v3.6h-1.36zM346.2 133.3h2.68v3.6h-2.68zM363.36 133.3h1.36v3.6h-1.36zM369.96 133.3h2.68v3.6h-2.68zM373.92 133.3h2.68v3.6h-2.68zM377.88 133.3h1.36v3.6h-1.36zM388.44 133.3h1.36v3.6h-1.36zM306.6 138.03h1.36v3.6h-1.36zM310.56 138.03h1.36v3.6h-1.36zM321.12 138.03h1.36v3.6h-1.36zM323.76 138.03h1.36v3.6h-1.36zM326.4 138.03h1.36v3.6h-1.36zM336.96 138.03h1.36v3.6h-1.36zM339.6 138.03h1.36v3.6h-1.36zM348.84 138.03h2.68v3.6h-2.68zM375.24 138.03h2.68v3.6h-2.68zM379.2 138.03h0.44v3.6h-0.44zM300 142.75h1.36v3.6h-1.36zM305.28 142.75h1.36v3.6h-1.36zM309.24 142.75h1.36v3.6h-1.36zM321.12 142.75h1.36v3.6h-1.36zM323.76 142.75h2.68v3.6h-2.68zM327.72 142.75h4v3.6h-4zM335.64 142.75h2.68v3.6h-2.68zM340.92 142.75h4v3.6h-4zM348.84 142.75h1.36v3.6h-1.36zM354.12 142.75h1.36v3.6h-1.36zM356.76 142.75h1.36v3.6h-1.36zM364.68 142.75h0.44v3.6h-0.44zM301.32 147.47h1.36v3.6h-1.36zM307.92 147.47h5.32v3.6h-5.32zM314.52 147.47h1.36v3.6h-1.36zM319.8 147.47h1.36v3.6h-1.36zM322.44 147.47h1.36v3.6h-1.36zM325.08 147.47h1.36v3.6h-1.36zM333 147.47h1.36v3.6h-1.36zM335.64 147.47h2.68v3.6h-2.68zM350.16 147.47h2.68v3.6h-2.68zM354.12 147.47h1.36v3.6h-1.36zM363.36 147.47h2.68v3.6h-2.68zM367.32 147.47h2.68v3.6h-2.68zM371.28 147.47h5.32v3.6h-5.32zM377.88 147.47h2.68v3.6h-2.68zM306.6 152.2h2.68v3.6h-2.68zM311.88 152.2h2.68v3.6h-2.68zM318.48 152.2h4v3.6h-4zM327.72 152.2h1.36v3.6h-1.36zM331.68 152.2h1.36v3.6h-1.36zM335.64 152.2h4v3.6h-4zM340.92 152.2h1.36v3.6h-1.36zM343.56 152.2h1.36v3.6h-1.36zM346.2 152.2h1.36v3.6h-1.36zM350.16 152.2h4v3.6h-4zM355.44 152.2h1.23v3.6h-1.23zM301.32 156.92h2.68v3.6h-2.68zM305.28 156.92h2.68v3.6h-2.68zM314.52 156.92h1.36v3.6h-1.36zM317.16 156.92h1.36v3.6h-1.36zM322.44 156.92h4v3.6h-4zM329.04 156.92h1.36v3.6h-1.36zM338.28 156.92h1.36v3.6h-1.36zM342.24 156.92h1.36v3.6h-1.36zM344.88 156.92h2.68v3.6h-2.68zM356.76 156.92h1.36v3.6h-1.36zM359.4 156.92h2.68v3.6h-2.68zM363.36 156.92h4.4v3.6h-4.4zM302.64 161.65h1.36v3.6h-1.36zM309.24 161.65h1.36v3.6h-1.36zM318.48 161.65h1.36v3.6h-1.36zM323.76 161.65h1.36v3.6h-1.36zM327.72 161.65h1.36v3.6h-1.36zM334.32 161.65h1.36v3.6h-1.36zM339.6 161.65h1.36v3.6h-1.36zM342.24 161.65h2.68v3.6h-2.68zM351.48 161.65h1.36v3.6h-1.36zM302.64 166.37h1.36v3.6h-1.36zM305.28 166.37h4v3.6h-4zM310.56 166.37h1.36v3.6h-1.36zM322.44 166.37h4v3.6h-4zM327.72 166.37h1.36v3.6h-1.36zM330.36 166.37h1.36v3.6h-1.36zM335.64 166.37h1.36v3.6h-1.36zM338.28 166.37h1.36v3.6h-1.36zM347.52 166.37h1.36v3.6h-1.36zM350.16 166.37h4v3.6h-4zM300 171.1h1.36v3.6h-1.36zM302.64 171.1h4v3.6h-4zM315.84 171.1h1.36v3.6h-1.36zM318.48 171.1h1.36v3.6h-1.36zM322.44 171.1h4v3.6h-4zM327.72 171.1h1.36v3.6h-1.36zM331.68 171.1h1.36v3.6h-1.36zM339.6 171.1h1.36v3.6h-1.36zM343.56 171.1h4v3.6h-4z"/>
<path fill="#70b010" d="M303.96 38.8h1.36v3.6h-1.36zM310.56 38.8h1.36v3.6h-1.36zM315.84 38.8h1.36v3.6h-1.36zM321.12 38.8h2.68v3.6h-2.68zM326.4 38.8h2.68v3.6h-2.68zM331.68 38.8h2.68v3.6h-2.68zM338.28 38.8h1.36v3.6h-1.36zM342.24 38.8h2.68v3.6h-2.68zM347.52 38.8h2.68v3.6h-2.68zM354.12 38.8h1.36v3.6h-1.36zM358.08 38.8h1.36v3.6h-1.36zM360.72 38.8h1.36v3.6h-1.36zM366 38.8h1.36v3.6h-1.36zM376.56 38.8h6.64v3.6h-6.64zM391.08 38.8h1.36v3.6h-1.36zM395.04 38.8h1.36v3.6h-1.36zM399 38.8h5.32v3.6h-5.32zM408.24 38.8h4v3.6h-4zM413.52 38.8h4v3.6h-4zM425.4 38.8h1.36v3.6h-1.36zM430.68 38.8h1.36v3.6h-1.36zM447.84 38.8h1.36v3.6h-1.36zM453.12 38.8h1.36v3.6h-1.36zM458.4 38.8h1.36v3.6h-1.36zM478.2 38.8h1.36v3.6h-1.36zM486.12 38.8h1.36v3.6h-1.36zM491.4 38.8h5.32v3.6h-5.32zM498 38.8h5.32v3.6h-5.32zM504.6 38.8h1.36v3.6h-1.36zM305.28 43.53h1.36v3.6h-1.36zM309.24 43.53h1.36v3.6h-1.36zM317.16 43.53h4v3.6h-4zM322.44 43.53h1.36v3.6h-1.36zM329.04 43.53h1.36v3.6h-1.36zM333 43.53h1.36v3.6h-1.36zM335.64 43.53h1.36v3.6h-1.36zM338.28 43.53h1.36v3.6h-1.36zM372.6 43.53h2.68v3.6h-2.68zM377.88 43.53h1.36v3.6h-1.36zM383.16 43.53h2.68v3.6h-2.68zM397.68 43.53h1.36v3.6h-1.36zM401.64 43.53h2.68v3.6h-2.68zM410.88 43.53h6.64v3.6h-6.64zM439.92 43.53h5.32v3.6h-5.32zM446.52 43.53h2.68v3.6h-2.68zM454.44 43.53h1.36v3.6h-1.36zM457.08 43.53h5.32v3.6h-5.32zM465 43.53h1.36v3.6h-1.36zM468.96 43.53h5.32v3.6h-5.32zM311.88 48.25h1.36v3.6h-1.36zM317.16 48.25h1.36v3.6h-1.36zM321.12 48.25h1.36v3.6h-1.36zM325.08 48.25h2.68v3.6h-2.68zM334.32 48.25h2.68v3.6h-2.68zM346.2 48.25h1.36v3.6h-1.36zM350.16 48.25h1.36v3.6h-1.36zM355.44 48.25h2.68v3.6h-2.68zM385.8 48.25h4v3.6h-4zM391.08 48.25h1.36v3.6h-1.36zM397.68 48.25h1.36v3.6h-1.36zM401.64 48.25h2.68v3.6h-2.68zM413.52 48.25h1.36v3.6h-1.36zM420.12 48.25h2.68v3.6h-2.68zM434.64 48.25h1.36v3.6h-1.36zM437.28 48.25h2.68v3.6h-2.68zM446.52 48.25h1.36v3.6h-1.36zM450.48 48.25h1.36v3.6h-1.36zM455.76 48.25h2.68v3.6h-2.68zM301.32 52.98h1.36v3.6h-1.36zM303.96 52.98h2.68v3.6h-2.68zM317.16 52.98h2.68v3.6h-2.68zM323.76 52.98h2.68v3.6h-2.68zM330.36 52.98h1.36v3.6h-1.36zM338.28 52.98h1.36v3.6h-1.36zM340.92 52.98h1.36v3.6h-1.36zM344.88 52.98h1.36v3.6h-1.36zM362.04 52.98h1.36v3.6h-1.36zM366 52.98h1.36v3.6h-1.36zM368.64 52.98h2.68v3.6h-2.68zM404.28 52.98h1.36v3.6h-1.36zM406.92 52.98h1.36v3.6h-1.36zM413.52 52.98h1.36v3.6h-1.36zM417.48 52.98h1.36v3.6h-1.36zM421.44 52.98h1.36v3.6h-1.36zM425.4 52.98h1.36v3.6h-1.36zM441.24 52.98h2.68v3.6h-2.68zM446.52 52.98h1.36v3.6h-1.36zM449.16 52.98h1.36v3.6h-1.36zM301.32 57.7h1.36v3.6h-1.36zM305.28 57.7h5.32v3.6h-5.32zM311.88 57.7h2.68v3.6h-2.68zM321.12 57.7h2.68v3.6h-2.68zM339.6 57.7h2.68v3.6h-2.68zM356.76 57.7h4v3.6h-4zM364.68 57.7h1.36v3.6h-1.36zM367.32 57.7h1.36v3.6h-1.36zM369.96 57.7h1.36v3.6h-1.36zM385.8 57.7h1.36v3.6h-1.36zM391.08 57.7h2.68v3.6h-2.68zM397.68 57.7h1.36v3.6h-1.36zM408.24 57.7h1.36v3.6h-1.36zM413.52 57.7h1.36v3.6h-1.36zM416.16 57.7h1.36v3.6h-1.36zM426.72 57.7h2.68v3.6h-2.68zM435.96 57.7h1.36v3.6h-1.36zM439.92 57.7h1.36v3.6h-1.36zM443.88 57.7h2.68v3.6h-2.68zM301.32 62.43h2.68v3.6h-2.68zM322.44 62.43h6.64v3.6h-6.64zM335.64 62.43h1.36v3.6h-1.36zM339.6 62.43h1.36v3.6h-1.36zM342.24 62.43h2.68v3.6h-2.68zM354.12 62.43h1.36v3.6h-1.36zM356.76 62.43h2.68v3.6h-2.68zM360.72 62.43h1.36v3.6h-1.36zM373.92 62.43h1.36v3.6h-1.36zM377.88 62.43h4v3.6h-4zM388.44 62.43h1.36v3.6h-1.36zM422.76 62.43h1.36v3.6h-1.36zM425.4 62.43h2.68v3.6h-2.68zM432 62.43h2.68v3.6h-2.68zM438.6 62.43h4v3.6h-4zM443.88 62.43h5.32v3.6h-5.32zM454.44 62.43h0.83v3.6h-0.83zM307.92 67.15h1.36v3.6h-1.36zM314.52 67.15h1.36v3.6h-1.36zM317.16 67.15h4v3.6h-4zM336.96 67.15h1.36v3.6h-1.36zM347.52 67.15h1.36v3.6h-1.36zM350.16 67.15h1.36v3.6h-1.36zM356.76 67.15h1.36v3.6h-1.36zM363.36 67.15h1.36v3.6h-1.36zM371.28 67.15h1.36v3.6h-1.36zM376.56 67.15h1.36v3.6h-1.36zM384.48 67.15h1.36v3.6h-1.36zM387.12 67.15h2.68v3.6h-2.68zM392.4 67.15h1.36v3.6h-1.36zM397.68 67.15h1.36v3.6h-1.36zM400.32 67.15h1.36v3.6h-1.36zM402.96 67.15h2.68v3.6h-2.68zM408.24 67.15h1.36v3.6h-1.36zM412.2 67.15h1.36v3.6h-1.36zM414.84 67.15h1.36v3.6h-1.36zM417.48 67.15h1.36v3.6h-1.36zM421.44 67.15h1.36v3.6h-1.36zM438.6 67.15h1.36v3.6h-1.36zM305.28 71.88h4v3.6h-4zM319.8 71.88h2.68v3.6h-2.68zM326.4 71.88h1.36v3.6h-1.36zM335.64 71.88h2.68v3.6h-2.68zM354.12 71.88h1.36v3.6h-1.36zM360.72 71.88h1.36v3.6h-1.36zM384.48 71.88h1.36v3.6h-1.36zM406.92 71.88h4v3.6h-4zM414.84 71.88h1.36v3.6h-1.36zM421.44 71.88h2.68v3.6h-2.68zM428.04 71.88h1.36v3.6h-1.36zM441.24 71.88h2.68v3.6h-2.68zM447.84 71.88h0.96v3.6h-0.96zM301.32 76.6h1.36v3.6h-1.36zM313.2 76.6h4v3.6h-4zM323.76 76.6h1.36v3.6h-1.36zM334.32 76.6h1.36v3.6h-1.36zM344.88 76.6h2.68v3.6h-2.68zM348.84 76.6h1.36v3.6h-1.36zM352.8 76.6h4v3.6h-4zM358.08 76.6h1.36v3.6h-1.36zM364.68 76.6h2.68v3.6h-2.68zM376.56 76.6h1.36v3.6h-1.36zM388.44 76.6h1.36v3.6h-1.36zM391.08 76.6h2.68v3.6h-2.68zM401.64 76.6h2.68v3.6h-2.68zM405.6 76.6h1.36v3.6h-1.36zM408.24 76.6h1.36v3.6h-1.36zM410.88 76.6h1.36v3.6h-1.36zM416.16 76.6h1.36v3.6h-1.36zM420.12 76.6h0.83v3.6h-0.83zM302.64 81.32h1.36v3.6h-1.36zM305.28 81.32h1.36v3.6h-1.36zM307.92 81.32h1.36v3.6h-1.36zM311.88 81.32h2.68v3.6h-2.68zM315.84 81.32h1.36v3.6h-1.36zM318.48 81.32h2.68v3.6h-2.68zM323.76 81.32h1.36v3.6h-1.36zM346.2 81.32h2.68v3.6h-2.68zM352.8 81.32h2.68v3.6h-2.68zM363.36 81.32h2.68v3.6h-2.68zM367.32 81.32h1.36v3.6h-1.36zM369.96 81.32h4v3.6h-4zM379.2 81.32h1.36v3.6h-1.36zM381.84 81.32h1.36v3.6h-1.36zM384.48 81.32h1.36v3.6h-1.36zM397.68 81.32h1.36v3.6h-1.36zM400.32 81.32h1.36v3.6h-1.36zM402.96 81.32h5.32v3.6h-5.32zM409.56 81.32h1.36v3.6h-1.36zM416.16 81.32h2.68v3.6h-2.68zM420.12 81.32h1.36v3.6h-1.36zM422.76 81.32h1.36v3.6h-1.36zM425.4 81.32h2.68v3.6h-2.68zM429.36 81.32h1.36v3.6h-1.36zM433.32 81.32h0.17v3.6h-0.17zM301.32 86.05h1.36v3.6h-1.36zM309.24 86.05h2.68v3.6h-2.68zM315.84 86.05h1.36v3.6h-1.36zM321.12 86.05h1.36v3.6h-1.36zM326.4 86.05h1.36v3.6h-1.36zM335.64 86.05h2.68v3.6h-2.68zM352.8 86.05h6.64v3.6h-6.64zM362.04 86.05h1.36v3.6h-1.36zM368.64 86.05h4v3.6h-4zM381.84 86.05h1.36v3.6h-1.36zM397.68 86.05h2.68v3.6h-2.68zM410.88 86.05h2.68v3.6h-2.68zM416.16 86.05h1.36v3.6h-1.36zM421.44 86.05h1.36v3.6h-1.36zM428.04 86.05h1.36v3.6h-1.36zM311.88 90.77h1.36v3.6h-1.36zM318.48 90.77h1.36v3.6h-1.36zM322.44 90.77h1.36v3.6h-1.36zM327.72 90.77h2.68v3.6h-2.68zM342.24 90.77h1.36v3.6h-1.36zM346.2 90.77h1.36v3.6h-1.36zM348.84 90.77h1.36v3.6h-1.36zM351.48 90.77h2.68v3.6h-2.68zM356.76 90.77h1.36v3.6h-1.36zM364.68 90.77h1.36v3.6h-1.36zM367.32 90.77h1.36v3.6h-1.36zM369.96 90.77h1.36v3.6h-1.36zM383.16 90.77h1.36v3.6h-1.36zM385.8 90.77h2.68v3.6h-2.68zM393.72 90.77h1.36v3.6h-1.36zM397.68 90.77h2.68v3.6h-2.68zM401.64 90.77h2.68v3.6h-2.68zM410.88 90.77h2.68v3.6h-2.68zM300 95.5h1.36v3.6h-1.36zM305.28 95.5h1.36v3.6h-1.36zM315.84 95.5h1.36v3.6h-1.36zM335.64 95.5h1.36v3.6h-1.36zM339.6 95.5h1.36v3.6h-1.36zM346.2 95.5h2.68v3.6h-2.68zM352.8 95.5h1.36v3.6h-1.36zM355.44 95.5h1.36v3.6h-1.36zM359.4 95.5h2.68v3.6h-2.68zM366 95.5h1.36v3.6h-1.36zM369.96 95.5h2.68v3.6h-2.68zM381.84 95.5h2.68v3.6h-2.68zM387.12 95.5h2.68v3.6h-2.68zM397.68 95.5h1.36v3.6h-1.36zM408.24 95.5h1.36v3.6h-1.36zM303.96 100.22h1.36v3.6h-1.36zM307.92 100.22h2.68v3.6h-2.68zM313.2 100.22h5.32v3.6h-5.32zM327.72 100.22h1.36v3.6h-1.36zM331.68 100.22h2.68v3.6h-2.68zM344.88 100.22h1.36v3.6h-1.36zM358.08 100.22h5.32v3.6h-5.32zM364.68 100.22h4v3.6h-4zM372.6 100.22h1.36v3.6h-1.36zM380.52 100.22h4v3.6h-4zM387.12 100.22h2.68v3.6h-2.68zM397.68 100.22h1.36v3.6h-1.36zM401.64 100.22h2.68v3.6h-2.68zM405.6 100.22h1.36v3.6h-1.36zM409.56 100.22h1.36v3.6h-1.36zM412.2 100.22h1.36v3.6h-1.36zM416.16 100.22h4v3.6h-4zM424.08 100.22h0.96v3.6h-0.96zM301.32 104.95h5.32v3.6h-5.32zM307.92 104.95h2.68v3.6h-2.68zM314.52 104.95h1.36v3.6h-1.36zM322.44 104.95h1.36v3.6h-1.36zM330.36 104.95h1.36v3.6h-1.36zM346.2 104.95h1.36v3.6h-1.36zM350.16 104.95h1.36v3.6h-1.36zM355.44 104.95h1.36v3.6h-1.36zM363.36 104.95h2.68v3.6h-2.68zM371.28 104.95h1.36v3.6h-1.36zM375.24 104.95h6.64v3.6h-6.64zM392.4 104.95h2.68v3.6h-2.68zM397.68 104.95h1.36v3.6h-1.36zM404.28 104.95h1.36v3.6h-1.36zM305.28 109.67h1.36v3.6h-1.36zM311.88 109.67h1.36v3.6h-1.36zM318.48 109.67h5.32v3.6h-5.32zM333 109.67h1.36v3.6h-1.36zM336.96 109.67h1.36v3.6h-1.36zM339.6 109.67h2.68v3.6h-2.68zM348.84 109.67h1.36v3.6h-1.36zM354.12 109.67h1.36v3.6h-1.36zM358.08 109.67h1.36v3.6h-1.36zM360.72 109.67h4v3.6h-4zM367.32 109.67h1.36v3.6h-1.36zM379.2 109.67h4v3.6h-4zM384.48 109.67h1.36v3.6h-1.36zM387.12 109.67h1.36v3.6h-1.36zM396.36 109.67h1.36v3.6h-1.36zM400.32 109.67h1.36v3.6h-1.36zM402.96 109.67h1.36v3.6h-1.36zM303.96 114.4h2.68v3.6h-2.68zM307.92 114.4h1.36v3.6h-1.36zM313.2 114.4h1.36v3.6h-1.36zM315.84 114.4h2.68v3.6h-2.68zM323.76 114.4h6.64v3.6h-6.64zM331.68 114.4h4v3.6h-4zM343.56 114.4h2.68v3.6h-2.68zM348.84 114.4h1.36v3.6h-1.36zM356.76 114.4h2.68v3.6h-2.68zM360.72 114.4h1.36v3.6h-1.36zM369.96 114.4h1.36v3.6h-1.36zM372.6 114.4h1.36v3.6h-1.36zM375.24 114.4h2.68v3.6h-2.68zM379.2 114.4h2.68v3.6h-2.68zM387.12 114.4h1.36v3.6h-1.36zM391.08 114.4h1.36v3.6h-1.36zM302.64 119.12h1.36v3.6h-1.36zM305.28 119.12h2.68v3.6h-2.68zM314.52 119.12h1.36v3.6h-1.36zM323.76 119.12h1.36v3.6h-1.36zM335.64 119.12h5.32v3.6h-5.32zM342.24 119.12h2.68v3.6h-2.68zM352.8 119.12h1.36v3.6h-1.36zM355.44 119.12h1.36v3.6h-1.36zM359.4 119.12h2.68v3.6h-2.68zM366 119.12h4v3.6h-4zM372.6 119.12h2.68v3.6h-2.68zM383.16 119.12h2.68v3.6h-2.68zM313.2 123.85h2.68v3.6h-2.68zM325.08 123.85h1.36v3.6h-1.36zM331.68 123.85h1.36v3.6h-1.36zM334.32 123.85h1.36v3.6h-1.36zM344.88 123.85h1.36v3.6h-1.36zM351.48 123.85h1.36v3.6h-1.36zM364.68 123.85h1.36v3.6h-1.36zM371.28 123.85h2.68v3.6h-2.68zM376.56 123.85h1.36v3.6h-1.36zM301.32 128.57h1.36v3.6h-1.36zM306.6 128.57h1.36v3.6h-1.36zM314.52 128.57h2.68v3.6h-2.68zM331.68 128.57h1.36v3.6h-1.36zM334.32 128.57h4v3.6h-4zM339.6 128.57h1.36v3.6h-1.36zM358.08 128.57h1.36v3.6h-1.36zM360.72 128.57h4v3.6h-4zM368.64 128.57h2.68v3.6h-2.68zM375.24 128.57h1.36v3.6h-1.36zM379.2 128.57h1.36v3.6h-1.36zM381.84 128.57h2.68v3.6h-2.68zM391.08 128.57h1.36v3.6h-1.36zM322.44 133.3h4v3.6h-4zM331.68 133.3h1.36v3.6h-1.36zM334.32 133.3h1.36v3.6h-1.36zM342.24 133.3h1.36v3.6h-1.36zM352.8 133.3h1.36v3.6h-1.36zM356.76 133.3h1.36v3.6h-1.36zM359.4 133.3h4v3.6h-4zM364.68 133.3h1.36v3.6h-1.36zM380.52 133.3h1.36v3.6h-1.36zM315.84 138.03h1.36v3.6h-1.36zM319.8 138.03h1.36v3.6h-1.36zM322.44 138.03h1.36v3.6h-1.36zM325.08 138.03h1.36v3.6h-1.36zM327.72 138.03h1.36v3.6h-1.36zM330.36 138.03h2.68v3.6h-2.68zM334.32 138.03h1.36v3.6h-1.36zM340.92 138.03h1.36v3.6h-1.36zM344.88 138.03h1.36v3.6h-1.36zM347.52 138.03h1.36v3.6h-1.36zM352.8 138.03h1.36v3.6h-1.36zM359.4 138.03h2.68v3.6h-2.68zM364.68 138.03h4v3.6h-4zM369.96 138.03h5.32v3.6h-5.32zM377.88 138.03h1.36v3.6h-1.36zM310.56 142.75h7.96v3.6h-7.96zM322.44 142.75h1.36v3.6h-1.36zM338.28 142.75h2.68v3.6h-2.68zM344.88 142.75h4v3.6h-4zM350.16 142.75h2.68v3.6h-2.68zM302.64 147.47h2.68v3.6h-2.68zM306.6 147.47h1.36v3.6h-1.36zM313.2 147.47h1.36v3.6h-1.36zM318.48 147.47h1.36v3.6h-1.36zM326.4 147.47h1.36v3.6h-1.36zM329.04 147.47h2.68v3.6h-2.68zM334.32 147.47h1.36v3.6h-1.36zM338.28 147.47h2.68v3.6h-2.68zM342.24 147.47h1.36v3.6h-1.36zM346.2 147.47h1.36v3.6h-1.36zM352.8 147.47h1.36v3.6h-1.36zM355.44 147.47h1.36v3.6h-1.36zM358.08 147.47h1.36v3.6h-1.36zM360.72 147.47h2.68v3.6h-2.68zM366 147.47h1.36v3.6h-1.36zM380.52 147.47h1.76v3.6h-1.76zM301.32 152.2h4v3.6h-4zM309.24 152.2h2.68v3.6h-2.68zM330.36 152.2h1.36v3.6h-1.36zM344.88 152.2h1.36v3.6h-1.36zM348.84 152.2h1.36v3.6h-1.36zM303.96 156.92h1.36v3.6h-1.36zM309.24 156.92h1.36v3.6h-1.36zM313.2 156.92h1.36v3.6h-1.36zM327.72 156.92h1.36v3.6h-1.36zM334.32 156.92h1.36v3.6h-1.36zM336.96 156.92h1.36v3.6h-1.36zM343.56 156.92h1.36v3.6h-1.36zM347.52 156.92h2.68v3.6h-2.68zM351.48 156.92h5.32v3.6h-5.32zM358.08 156.92h1.36v3.6h-1.36zM362.04 156.92h1.36v3.6h-1.36zM300 161.65h1.36v3.6h-1.36zM307.92 161.65h1.36v3.6h-1.36zM313.2 161.65h1.36v3.6h-1.36zM319.8 161.65h1.36v3.6h-1.36zM329.04 161.65h1.36v3.6h-1.36zM331.68 161.65h2.68v3.6h-2.68zM336.96 161.65h1.36v3.6h-1.36zM352.8 161.65h2.68v3.6h-2.68zM356.76 161.65h2.28v3.6h-2.28zM301.32 166.37h1.36v3.6h-1.36zM303.96 166.37h1.36v3.6h-1.36zM331.68 166.37h1.36v3.6h-1.36zM334.32 166.37h1.36v3.6h-1.36zM340.92 166.37h1.36v3.6h-1.36zM356.76 166.37h1.36v3.6h-1.36zM307.92 171.1h1.36v3.6h-1.36zM310.56 171.1h1.36v3.6h-1.36zM313.2 171.1h1.36v3.6h-1.36zM326.4 171.1h1.36v3.6h-1.36zM330.36 171.1h1.36v3.6h-1.36zM336.96 171.1h2.68v3.6h-2.68zM340.92 171.1h2.68v3.6h-2.68zM347.52 171.1h5.32v3.6h-5.32zM354.12 171.1h1.36v3.6h-1.36zM363.36 171.1h1.36v3.6h-1.36zM366 171.1h1.36v3.6h-1.36z"/>
<path fill="#8cbe10" d="M311.88 38.8h1.36v3.6h-1.36zM329.04 38.8h1.36v3.6h-1.36zM334.32 38.8h1.36v3.6h-1.36zM350.16 38.8h4v3.6h-4zM362.04 38.8h1.36v3.6h-1.36zM384.48 38.8h1.36v3.6h-1.36zM387.12 38.8h1.36v3.6h-1.36zM389.76 38.8h1.36v3.6h-1.36zM392.4 38.8h2.68v3.6h-2.68zM406.92 38.8h1.36v3.6h-1.36zM412.2 38.8h1.36v3.6h-1.36zM459.72 38.8h1.36v3.6h-1.36zM465 38.8h2.68v3.6h-2.68zM479.52 38.8h1.36v3.6h-1.36zM331.68 43.53h1.36v3.6h-1.36zM336.96 43.53h1.36v3.6h-1.36zM371.28 43.53h1.36v3.6h-1.36zM375.24 43.53h1.36v3.6h-1.36zM379.2 43.53h1.36v3.6h-1.36zM400.32 43.53h1.36v3.6h-1.36zM455.76 43.53h1.36v3.6h-1.36zM466.32 43.53h1.36v3.6h-1.36zM475.56 43.53h1.36v3.6h-1.36zM315.84 48.25h1.36v3.6h-1.36zM318.48 48.25h2.68v3.6h-2.68zM322.44 48.25h1.36v3.6h-1.36zM330.36 48.25h1.36v3.6h-1.36zM333 48.25h1.36v3.6h-1.36zM336.96 48.25h1.36v3.6h-1.36zM410.88 48.25h1.36v3.6h-1.36zM439.92 48.25h2.68v3.6h-2.68zM315.84 52.98h1.36v3.6h-1.36zM322.44 52.98h1.36v3.6h-1.36zM326.4 52.98h1.36v3.6h-1.36zM339.6 52.98h1.36v3.6h-1.36zM343.56 52.98h1.36v3.6h-1.36zM367.32 52.98h1.36v3.6h-1.36zM371.28 52.98h2.68v3.6h-2.68zM409.56 52.98h1.36v3.6h-1.36zM412.2 52.98h1.36v3.6h-1.36zM414.84 52.98h1.36v3.6h-1.36zM422.76 52.98h2.68v3.6h-2.68zM426.72 52.98h1.36v3.6h-1.36zM430.68 52.98h2.68v3.6h-2.68zM437.28 52.98h4v3.6h-4zM443.88 52.98h2.68v3.6h-2.68zM447.84 52.98h1.36v3.6h-1.36zM317.16 57.7h4v3.6h-4zM329.04 57.7h1.36v3.6h-1.36zM338.28 57.7h1.36v3.6h-1.36zM342.24 57.7h2.68v3.6h-2.68zM389.76 57.7h1.36v3.6h-1.36zM395.04 57.7h1.36v3.6h-1.36zM410.88 57.7h1.36v3.6h-1.36zM414.84 57.7h1.36v3.6h-1.36zM433.32 57.7h2.68v3.6h-2.68zM438.6 57.7h1.36v3.6h-1.36zM306.6 62.43h4v3.6h-4zM314.52 62.43h1.36v3.6h-1.36zM318.48 62.43h4v3.6h-4zM338.28 62.43h1.36v3.6h-1.36zM347.52 62.43h1.36v3.6h-1.36zM351.48 62.43h2.68v3.6h-2.68zM371.28 62.43h1.36v3.6h-1.36zM375.24 62.43h2.68v3.6h-2.68zM421.44 62.43h1.36v3.6h-1.36zM424.08 62.43h1.36v3.6h-1.36zM442.56 62.43h1.36v3.6h-1.36zM451.8 62.43h1.36v3.6h-1.36zM313.2 67.15h1.36v3.6h-1.36zM315.84 67.15h1.36v3.6h-1.36zM322.44 67.15h2.68v3.6h-2.68zM340.92 67.15h2.68v3.6h-2.68zM344.88 67.15h1.36v3.6h-1.36zM348.84 67.15h1.36v3.6h-1.36zM351.48 67.15h1.36v3.6h-1.36zM355.44 67.15h1.36v3.6h-1.36zM358.08 67.15h2.68v3.6h-2.68zM362.04 67.15h1.36v3.6h-1.36zM372.6 67.15h1.36v3.6h-1.36zM391.08 67.15h1.36v3.6h-1.36zM405.6 67.15h2.68v3.6h-2.68zM303.96 71.88h1.36v3.6h-1.36zM309.24 71.88h1.36v3.6h-1.36zM323.76 71.88h2.68v3.6h-2.68zM327.72 71.88h2.68v3.6h-2.68zM338.28 71.88h2.68v3.6h-2.68zM344.88 71.88h2.68v3.6h-2.68zM358.08 71.88h1.36v3.6h-1.36zM363.36 71.88h1.36v3.6h-1.36zM376.56 71.88h1.36v3.6h-1.36zM400.32 71.88h1.36v3.6h-1.36zM404.28 71.88h2.68v3.6h-2.68zM446.52 71.88h1.36v3.6h-1.36zM325.08 76.6h1.36v3.6h-1.36zM338.28 76.6h1.36v3.6h-1.36zM342.24 76.6h2.68v3.6h-2.68zM360.72 76.6h1.36v3.6h-1.36zM363.36 76.6h1.36v3.6h-1.36zM404.28 76.6h1.36v3.6h-1.36zM406.92 76.6h1.36v3.6h-1.36zM413.52 76.6h1.36v3.6h-1.36zM348.84 81.32h1.36v3.6h-1.36zM351.48 81.32h1.36v3.6h-1.36zM383.16 81.32h1.36v3.6h-1.36zM399 81.32h1.36v3.6h-1.36zM424.08 81.32h1.36v3.6h-1.36zM430.68 81.32h1.36v3.6h-1.36zM311.88 86.05h1.36v3.6h-1.36zM314.52 86.05h1.36v3.6h-1.36zM318.48 86.05h1.36v3.6h-1.36zM331.68 86.05h1.36v3.6h-1.36zM367.32 86.05h1.36v3.6h-1.36zM372.6 86.05h1.36v3.6h-1.36zM379.2 86.05h1.36v3.6h-1.36zM383.16 86.05h1.36v3.6h-1.36zM424.08 86.05h4v3.6h-4zM319.8 90.77h2.68v3.6h-2.68zM323.76 90.77h1.36v3.6h-1.36zM354.12 90.77h2.68v3.6h-2.68zM362.04 90.77h1.36v3.6h-1.36zM380.52 90.77h1.36v3.6h-1.36zM408.24 90.77h2.68v3.6h-2.68zM306.6 95.5h1.36v3.6h-1.36zM348.84 95.5h1.36v3.6h-1.36zM354.12 95.5h1.36v3.6h-1.36zM363.36 95.5h2.68v3.6h-2.68zM367.32 95.5h2.68v3.6h-2.68zM385.8 95.5h1.36v3.6h-1.36zM389.76 95.5h2.68v3.6h-2.68zM393.72 95.5h2.68v3.6h-2.68zM400.32 95.5h1.36v3.6h-1.36zM404.28 95.5h1.36v3.6h-1.36zM310.56 100.22h2.68v3.6h-2.68zM329.04 100.22h2.68v3.6h-2.68zM335.64 100.22h1.36v3.6h-1.36zM389.76 100.22h6.64v3.6h-6.64zM414.84 100.22h1.36v3.6h-1.36zM306.6 104.95h1.36v3.6h-1.36zM321.12 104.95h1.36v3.6h-1.36zM323.76 104.95h2.68v3.6h-2.68zM327.72 104.95h2.68v3.6h-2.68zM331.68 104.95h2.68v3.6h-2.68zM335.64 104.95h6.64v3.6h-6.64zM347.52 104.95h1.36v3.6h-1.36zM396.36 104.95h1.36v3.6h-1.36zM399 104.95h1.36v3.6h-1.36zM343.56 109.67h1.36v3.6h-1.36zM351.48 109.67h1.36v3.6h-1.36zM383.16 109.67h1.36v3.6h-1.36zM388.44 109.67h4v3.6h-4zM393.72 109.67h1.36v3.6h-1.36zM397.68 109.67h2.68v3.6h-2.68zM401.64 109.67h1.36v3.6h-1.36zM302.64 114.4h1.36v3.6h-1.36zM318.48 114.4h2.68v3.6h-2.68zM336.96 114.4h1.36v3.6h-1.36zM342.24 114.4h1.36v3.6h-1.36zM346.2 114.4h1.36v3.6h-1.36zM377.88 114.4h1.36v3.6h-1.36zM300 119.12h1.36v3.6h-1.36zM311.88 119.12h2.68v3.6h-2.68zM329.04 119.12h2.68v3.6h-2.68zM334.32 119.12h1.36v3.6h-1.36zM356.76 119.12h1.36v3.6h-1.36zM362.04 119.12h1.36v3.6h-1.36zM364.68 119.12h1.36v3.6h-1.36zM369.96 119.12h2.68v3.6h-2.68zM376.56 119.12h1.36v3.6h-1.36zM379.2 119.12h2.68v3.6h-2.68zM323.76 123.85h1.36v3.6h-1.36zM326.4 123.85h1.36v3.6h-1.36zM347.52 123.85h1.36v3.6h-1.36zM350.16 123.85h1.36v3.6h-1.36zM355.44 123.85h1.36v3.6h-1.36zM363.36 123.85h1.36v3.6h-1.36zM366 123.85h1.36v3.6h-1.36zM368.64 123.85h2.68v3.6h-2.68zM377.88 123.85h2.68v3.6h-2.68zM381.84 123.85h0.7v3.6h-0.7zM330.36 128.57h1.36v3.6h-1.36zM333 128.57h1.36v3.6h-1.36zM326.4 133.3h4v3.6h-4zM335.64 133.3h1.36v3.6h-1.36zM350.16 133.3h2.68v3.6h-2.68zM354.12 133.3h2.68v3.6h-2.68zM358.08 133.3h1.36v3.6h-1.36zM367.32 133.3h2.68v3.6h-2.68zM379.2 133.3h1.36v3.6h-1.36zM381.84 133.3h6.64v3.6h-6.64zM307.92 138.03h2.68v3.6h-2.68zM311.88 138.03h1.36v3.6h-1.36zM314.52 138.03h1.36v3.6h-1.36zM317.16 138.03h1.36v3.6h-1.36zM329.04 138.03h1.36v3.6h-1.36zM351.48 138.03h1.36v3.6h-1.36zM355.44 138.03h4v3.6h-4zM363.36 138.03h1.36v3.6h-1.36zM368.64 138.03h1.36v3.6h-1.36zM305.28 147.47h1.36v3.6h-1.36zM315.84 147.47h1.36v3.6h-1.36zM323.76 147.47h1.36v3.6h-1.36zM331.68 147.47h1.36v3.6h-1.36zM340.92 147.47h1.36v3.6h-1.36zM343.56 147.47h1.36v3.6h-1.36zM348.84 147.47h1.36v3.6h-1.36zM359.4 147.47h1.36v3.6h-1.36zM376.56 147.47h1.36v3.6h-1.36zM314.52 152.2h4v3.6h-4zM342.24 152.2h1.36v3.6h-1.36zM300 156.92h1.36v3.6h-1.36zM307.92 156.92h1.36v3.6h-1.36zM310.56 156.92h2.68v3.6h-2.68zM330.36 156.92h4v3.6h-4zM335.64 156.92h1.36v3.6h-1.36zM350.16 156.92h1.36v3.6h-1.36zM310.56 161.65h1.36v3.6h-1.36zM314.52 161.65h1.36v3.6h-1.36zM321.12 161.65h1.36v3.6h-1.36zM330.36 161.65h1.36v3.6h-1.36zM335.64 161.65h1.36v3.6h-1.36zM338.28 161.65h1.36v3.6h-1.36zM300 166.37h1.36v3.6h-1.36zM313.2 166.37h2.68v3.6h-2.68zM317.16 166.37h2.68v3.6h-2.68zM309.24 171.1h1.36v3.6h-1.36zM311.88 171.1h1.36v3.6h-1.36zM317.16 171.1h1.36v3.6h-1.36zM329.04 171.1h1.36v3.6h-1.36zM333 171.1h2.68v3.6h-2.68zM352.8 171.1h1.36v3.6h-1.36zM355.44 171.1h1.36v3.6h-1.36zM359.4 171.1h2.68v3.6h-2.68zM364.68 171.1h1.36v3.6h-1.36z"/>
<path fill="#a8cc10" d="M335.64 38.8h1.36v3.6h-1.36zM383.16 38.8h1.36v3.6h-1.36zM385.8 38.8h1.36v3.6h-1.36zM388.44 38.8h1.36v3.6h-1.36zM451.8 38.8h1.36v3.6h-1.36zM463.68 38.8h1.36v3.6h-1.36zM334.32 43.53h1.36v3.6h-1.36zM323.76 48.25h1.36v3.6h-1.36zM410.88 52.98h1.36v3.6h-1.36zM416.16 52.98h1.36v3.6h-1.36zM428.04 52.98h2.68v3.6h-2.68zM433.32 52.98h4v3.6h-4zM314.52 57.7h1.36v3.6h-1.36zM330.36 57.7h4v3.6h-4zM366 57.7h1.36v3.6h-1.36zM310.56 62.43h1.36v3.6h-1.36zM315.84 62.43h2.68v3.6h-2.68zM344.88 62.43h1.36v3.6h-1.36zM348.84 62.43h1.36v3.6h-1.36zM355.44 62.43h1.36v3.6h-1.36zM420.12 62.43h1.36v3.6h-1.36zM321.12 67.15h1.36v3.6h-1.36zM339.6 67.15h1.36v3.6h-1.36zM343.56 67.15h1.36v3.6h-1.36zM360.72 67.15h1.36v3.6h-1.36zM389.76 67.15h1.36v3.6h-1.36zM302.64 71.88h1.36v3.6h-1.36zM340.92 71.88h4v3.6h-4zM355.44 71.88h2.68v3.6h-2.68zM359.4 71.88h1.36v3.6h-1.36zM362.04 71.88h1.36v3.6h-1.36zM339.6 76.6h2.68v3.6h-2.68zM417.48 76.6h2.68v3.6h-2.68zM300 81.32h1.36v3.6h-1.36zM401.64 81.32h1.36v3.6h-1.36zM319.8 86.05h1.36v3.6h-1.36zM366 86.05h1.36v3.6h-1.36zM414.84 86.05h1.36v3.6h-1.36zM417.48 86.05h1.36v3.6h-1.36zM301.32 95.5h2.68v3.6h-2.68zM384.48 95.5h1.36v3.6h-1.36zM392.4 95.5h1.36v3.6h-1.36zM399 95.5h1.36v3.6h-1.36zM396.36 100.22h1.36v3.6h-1.36zM326.4 104.95h1.36v3.6h-1.36zM334.32 104.95h1.36v3.6h-1.36zM343.56 104.95h2.68v3.6h-2.68zM348.84 104.95h1.36v3.6h-1.36zM351.48 104.95h1.36v3.6h-1.36zM347.52 109.67h1.36v3.6h-1.36zM350.16 109.67h1.36v3.6h-1.36zM392.4 109.67h1.36v3.6h-1.36zM322.44 114.4h1.36v3.6h-1.36zM338.28 114.4h4v3.6h-4zM375.24 119.12h1.36v3.6h-1.36zM381.84 119.12h1.36v3.6h-1.36zM367.32 123.85h1.36v3.6h-1.36zM348.84 133.3h1.36v3.6h-1.36zM313.2 138.03h1.36v3.6h-1.36zM318.48 138.03h1.36v3.6h-1.36zM333 138.03h1.36v3.6h-1.36zM347.52 147.47h1.36v3.6h-1.36zM300 152.2h1.36v3.6h-1.36zM317.16 161.65h1.36v3.6h-1.36zM335.64 171.1h1.36v3.6h-1.36zM356.76 171.1h2.68v3.6h-2.68z"/>
<path fill="#c2d808" d="M319.8 38.8h1.36v3.6h-1.36zM405.6 38.8h1.36v3.6h-1.36zM449.16 38.8h1.36v3.6h-1.36zM300 52.98h1.36v3.6h-1.36zM399 52.98h1.36v3.6h-1.36zM334.32 57.7h4v3.6h-4zM311.88 62.43h2.68v3.6h-2.68zM346.2 62.43h1.36v3.6h-1.36zM359.4 62.43h1.36v3.6h-1.36zM364.68 67.15h1.36v3.6h-1.36zM322.44 71.88h1.36v3.6h-1.36zM377.88 71.88h1.36v3.6h-1.36zM385.8 71.88h1.36v3.6h-1.36zM402.96 71.88h1.36v3.6h-1.36zM400.32 76.6h1.36v3.6h-1.36zM393.72 81.32h1.36v3.6h-1.36zM313.2 86.05h1.36v3.6h-1.36zM393.72 86.05h1.36v3.6h-1.36zM326.4 90.77h1.36v3.6h-1.36zM334.32 95.5h1.36v3.6h-1.36zM338.28 95.5h1.36v3.6h-1.36zM405.6 95.5h1.36v3.6h-1.36zM342.24 104.95h1.36v3.6h-1.36zM400.32 104.95h1.36v3.6h-1.36zM344.88 109.67h1.36v3.6h-1.36zM321.12 114.4h1.36v3.6h-1.36zM339.6 133.3h1.36v3.6h-1.36zM362.04 138.03h1.36v3.6h-1.36zM318.48 142.75h1.36v3.6h-1.36zM367.32 171.1h0.44v3.6h-0.44z"/>
<path fill="#dce400" d="M339.6 38.8h1.36v3.6h-1.36zM483.48 38.8h1.36v3.6h-1.36zM310.56 43.53h1.36v3.6h-1.36zM445.2 43.53h1.36v3.6h-1.36zM331.68 48.25h1.36v3.6h-1.36zM381.84 48.25h1.36v3.6h-1.36zM414.84 48.25h1.36v3.6h-1.36zM373.92 52.98h1.36v3.6h-1.36zM350.16 62.43h1.36v3.6h-1.36zM450.48 62.43h1.36v3.6h-1.36zM352.8 67.15h1.36v3.6h-1.36zM416.16 67.15h1.36v3.6h-1.36zM435.96 67.15h1.36v3.6h-1.36zM379.2 71.88h1.36v3.6h-1.36zM327.72 76.6h1.36v3.6h-1.36zM375.24 76.6h1.36v3.6h-1.36zM418.8 81.32h1.36v3.6h-1.36zM317.16 86.05h1.36v3.6h-1.36zM377.88 86.05h1.36v3.6h-1.36zM421.44 100.22h1.36v3.6h-1.36zM383.16 104.95h1.36v3.6h-1.36zM330.36 109.67h1.36v3.6h-1.36zM371.28 109.67h1.36v3.6h-1.36zM385.8 109.67h1.36v3.6h-1.36zM395.04 109.67h1.36v3.6h-1.36zM384.48 114.4h1.36v3.6h-1.36zM376.56 133.3h1.36v3.6h-1.36zM307.92 142.75h1.36v3.6h-1.36zM300 147.47h1.36v3.6h-1.36zM311.88 161.65h1.36v3.6h-1.36zM325.08 161.65h1.36v3.6h-1.36zM315.84 166.37h1.36v3.6h-1.36zM314.52 171.1h1.36v3.6h-1.36z"/>
<path fill="#eee200" d="M417.48 38.8h1.36v3.6h-1.36zM330.36 43.53h1.36v3.6h-1.36zM329.04 48.25h1.36v3.6h-1.36zM369.96 48.25h1.36v3.6h-1.36zM300 57.7h1.36v3.6h-1.36zM323.76 57.7h1.36v3.6h-1.36zM302.64 67.15h1.36v3.6h-1.36zM409.56 67.15h1.36v3.6h-1.36zM383.16 71.88h1.36v3.6h-1.36zM350.16 86.05h1.36v3.6h-1.36zM413.52 90.77h1.36v3.6h-1.36zM383.16 114.4h1.36v3.6h-1.36zM363.36 119.12h1.36v3.6h-1.36zM364.68 128.57h1.36v3.6h-1.36zM366 133.3h1.36v3.6h-1.36zM317.16 147.47h1.36v3.6h-1.36zM315.84 161.65h1.36v3.6h-1.36zM311.88 166.37h1.36v3.6h-1.36z"/>
<path fill="#ffe000" d="M329.04 62.43h1.36v3.6h-1.36zM321.12 76.6h1.36v3.6h-1.36zM346.2 138.03h1.36v3.6h-1.36zM354.12 138.03h1.36v3.6h-1.36z"/>
<path fill="#ffc100" d="M317.16 38.8h1.36v3.6h-1.36zM400.32 62.43h1.36v3.6h-1.36z"/>
<path fill="#ffa200" d="M381.84 67.15h1.36v3.6h-1.36z"/>
<path fill="#ff5700" d="M385.8 100.22h1.36v3.6h-1.36zM373.92 123.85h1.36v3.6h-1.36z"/>
<path fill="#ff3c00" d="M344.88 147.47h1.36v3.6h-1.36z"/>
<path fill="#ff0800" d="M377.88 119.12h1.36v3.6h-1.36z"/>
</g>
<rect x="511" y="107.3" width="7" height="6.2" fill="#ececec"/>
<rect x="511" y="113.3" width="7" height="6.5" fill="#0c6c0e"/>
<rect x="511" y="119.75" width="7" height="6.5" fill="#3c9408"/>
<rect x="511" y="126.2" width="7" height="6.5" fill="#70b010"/>
<rect x="511" y="132.65" width="7" height="6.5" fill="#a8cc10"/>
<rect x="511" y="139.1" width="7" height="6.5" fill="#dce400"/>
<rect x="511" y="145.55" width="7" height="6.5" fill="#ffe000"/>
<rect x="511" y="152" width="7" height="6.5" fill="#ffa200"/>
<rect x="511" y="158.45" width="7" height="6.5" fill="#ff7200"/>
<rect x="511" y="164.9" width="7" height="6.5" fill="#ff3c00"/>
<rect x="511" y="171.35" width="7" height="6.5" fill="#ff0800"/>
<text x="520" y="112.4" font-family="'Liberation Serif', 'Times New Roman', serif" font-weight="bold" font-size="4.9">0</text>
<text x="520" y="118.7" font-family="'Liberation Serif', 'Times New Roman', serif" font-weight="bold" font-size="4.9">1</text>
<text x="520" y="125" font-family="'Liberation Serif', 'Times New Roman', serif" font-weight="bold" font-size="4.9">454</text>
<text x="520" y="131.3" font-family="'Liberation Serif', 'Times New Roman', serif" font-weight="bold" font-size="4.9">907</text>
<text x="520" y="137.6" font-family="'Liberation Serif', 'Times New Roman', serif" font-weight="bold" font-size="4.9">1360</text>
<text x="520" y="143.9" font-family="'Liberation Serif', 'Times New Roman', serif" font-weight="bold" font-size="4.9">1813</text>
<text x="520" y="150.2" font-family="'Liberation Serif', 'Times New Roman', serif" font-weight="bold" font-size="4.9">2266</text>
<text x="520" y="156.5" font-family="'Liberation Serif', 'Times New Roman', serif" font-weight="bold" font-size="4.9">2719</text>
<text x="520" y="162.8" font-family="'Liberation Serif', 'Times New Roman', serif" font-weight="bold" font-size="4.9">3172</text>
<text x="520" y="169.1" font-family="'Liberation Serif', 'Times New Roman', serif" font-weight="bold" font-size="4.9">3625</text>
<text x="520" y="175.4" font-family="'Liberation Serif', 'Times New Roman', serif" font-weight="bold" font-size="4.9">&gt;3625</text>
<text x="9.2" y="193.7" font-family="'Liberation Serif', 'Times New Roman', serif" font-weight="bold" font-size="12">C</text>
<path d="M99.8 298.0C100.8 295.7 103.8 295.7 104.6 298.0C105.4 300.3 104.5 307.9 104.4 312.0C104.3 316.1 104.9 320.8 104.2 322.5C103.5 324.2 100.9 323.8 100.0 322.0C99.1 320.2 98.8 316.0 98.8 312.0C98.8 308.0 98.8 300.3 99.8 298.0Z" fill="#e6cfc9" stroke="#c09890" stroke-width="0.5" stroke-linejoin="round"/>
<path d="M98.2 321.6C99.1 321.3 102.8 321.8 103.8 322.3C104.8 322.8 105.3 324.3 104.4 324.6C103.5 324.9 99.4 324.7 98.4 324.2C97.4 323.7 97.3 321.9 98.2 321.6Z" fill="#8c7872"/>
<path d="M36.7 243.3C39.0 243.5 44.5 241.8 49.0 241.6C53.5 241.4 58.8 241.9 63.6 242.3C68.4 242.7 71.9 243.5 78.0 243.8C84.1 244.1 94.8 244.6 100.0 244.3C105.2 244.0 105.7 242.7 109.0 242.2C112.3 241.7 116.8 241.6 120.0 241.2C123.2 240.8 126.0 240.5 128.0 239.6C130.0 238.7 129.8 235.6 132.0 235.5C134.2 235.4 138.2 237.8 141.0 239.0C143.8 240.2 147.8 241.1 148.5 242.5C149.2 243.9 147.2 244.1 145.5 247.3C143.8 250.5 140.5 257.0 138.2 261.8C135.9 266.6 133.5 272.0 131.6 276.4C129.7 280.8 128.8 285.5 126.5 288.0C124.2 290.5 120.2 290.3 117.8 291.6C115.4 292.9 113.2 293.6 112.2 296.0C111.2 298.4 112.1 301.0 112.0 306.0C111.9 311.0 112.6 322.5 111.6 325.8C110.6 329.1 107.4 328.9 106.2 325.8C105.0 322.7 105.0 311.8 104.2 307.0C103.4 302.2 102.2 298.7 101.3 297.0C100.4 295.3 100.9 296.6 99.0 296.6C97.1 296.6 93.5 296.8 90.0 296.8C86.5 296.8 82.0 296.7 78.0 296.6C74.0 296.5 69.2 296.0 66.0 296.0C62.8 296.0 59.3 295.2 58.5 296.4C57.7 297.6 60.0 300.1 61.0 303.0C62.0 305.9 63.7 311.4 64.5 313.6C65.3 315.9 66.8 316.0 66.0 316.5C65.2 317.0 62.2 318.6 60.0 316.8C57.8 315.1 55.1 309.8 53.0 306.0C50.9 302.2 48.9 296.8 47.3 294.0C45.7 291.2 44.6 290.0 43.6 289.0C42.6 288.0 42.2 287.2 41.3 288.0C40.4 288.8 39.3 290.9 38.4 294.0C37.5 297.1 36.3 302.1 35.7 306.4C35.1 310.7 35.7 317.3 34.6 319.6C33.5 321.9 30.2 321.8 29.2 320.2C28.2 318.6 28.9 313.8 28.6 310.0C28.3 306.2 28.0 301.3 27.5 297.3C27.0 293.3 26.3 290.2 25.8 286.0C25.3 281.8 24.6 276.7 24.4 272.0C24.1 267.3 23.9 261.8 24.3 258.0C24.7 254.2 25.9 251.8 26.5 249.1C27.1 246.3 26.9 244.3 28.2 241.5C29.5 238.7 32.0 234.4 34.5 232.4C37.0 230.4 40.6 229.6 43.3 229.3C46.0 229.0 50.1 230.1 50.8 230.8C51.5 231.5 49.5 232.7 47.6 233.6C45.7 234.5 41.2 234.9 39.2 236.0C37.2 237.1 35.9 239.0 35.5 240.2C35.1 241.4 34.5 243.1 36.7 243.3Z" fill="#f3f6f4" stroke="#c09890" stroke-width="0.55" stroke-linejoin="round"/>
<path d="M63.0 289.0C63.9 287.2 66.8 285.7 70.0 284.5C73.2 283.3 78.3 282.6 82.0 282.0C85.7 281.4 89.0 281.2 92.0 280.8C95.0 280.4 98.4 278.6 100.0 279.6C101.6 280.6 101.6 284.2 101.8 287.0C102.0 289.8 103.4 294.6 101.4 296.2C99.4 297.8 94.2 296.4 90.0 296.4C85.8 296.4 80.2 296.4 76.0 296.2C71.8 296.0 66.7 296.6 64.5 295.4C62.3 294.2 62.1 290.8 63.0 289.0Z" fill="#e8d2cc"/>
<path d="M145.8 247.0C146.1 245.1 141.7 248.8 139.6 250.5C137.5 252.2 135.8 254.8 133.5 257.0C131.2 259.2 128.3 261.7 126.0 263.5C123.7 265.3 120.9 265.9 119.5 268.0C118.1 270.1 118.0 273.5 117.5 276.0C117.0 278.5 117.5 281.2 116.2 283.0C114.9 284.8 109.6 285.7 109.8 287.0C110.0 288.3 114.8 290.9 117.5 291.0C120.2 291.1 123.7 290.0 126.0 287.6C128.3 285.2 129.4 280.9 131.4 276.6C133.4 272.3 135.6 266.9 138.0 262.0C140.4 257.1 145.5 248.9 145.8 247.0Z" fill="#e8d2cc"/>
<path d="M44.0 288.5C44.2 287.4 47.0 286.8 48.5 287.0C50.0 287.2 51.6 288.6 53.0 290.0C54.4 291.4 56.6 294.1 57.0 295.5C57.4 296.9 56.3 298.4 55.5 298.5C54.7 298.6 53.3 296.8 52.0 296.0C50.7 295.2 48.8 294.8 47.5 293.5C46.2 292.2 43.8 289.6 44.0 288.5Z" fill="#e0b2aa"/>
<path d="M49.5 292.0C49.8 291.3 52.3 292.2 53.5 293.5C54.7 294.8 56.2 298.5 56.5 300.0C56.8 301.5 55.8 302.9 55.0 302.5C54.2 302.1 52.4 299.2 51.5 297.5C50.6 295.8 49.2 292.7 49.5 292.0Z" fill="#d89088"/>
<path d="M26.5 268.0C27.1 266.2 28.7 264.3 29.5 265.0C30.3 265.7 31.4 269.2 31.5 272.0C31.6 274.8 30.6 280.0 30.0 282.0C29.4 284.0 28.4 285.0 27.8 284.0C27.2 283.0 26.4 278.7 26.2 276.0C26.0 273.3 25.9 269.8 26.5 268.0Z" fill="#ecdcd8"/>
<path d="M34.0 238.5C34.1 237.5 35.5 236.4 37.2 235.6C38.9 234.8 43.5 233.3 44.0 233.5C44.5 233.7 41.2 235.2 40.0 236.5C38.8 237.8 37.5 241.2 36.5 241.5C35.5 241.8 33.9 239.5 34.0 238.5Z" fill="#e4c4bc"/>
<path d="M30.0 300.0C30.6 298.8 32.8 297.3 33.5 299.0C34.2 300.7 34.9 307.5 34.5 310.0C34.1 312.5 31.8 314.7 31.0 314.0C30.2 313.3 30.0 308.3 29.8 306.0C29.6 303.7 29.4 301.2 30.0 300.0Z" fill="#ecdcd8"/>
<path d="M105.5 300.0C105.8 297.3 107.4 295.0 108.0 296.0C108.6 297.0 108.9 302.7 109.0 306.0C109.1 309.3 109.1 315.0 108.6 316.0C108.1 317.0 106.7 314.7 106.2 312.0C105.7 309.3 105.2 302.7 105.5 300.0Z" fill="#eee2de"/>
<path d="M54 275 Q62 281 74 276 M68 266 Q72 262 76 266 M47 253 L50 252" fill="none" stroke="#c09890" stroke-width="0.45"/>
<path d="M29.4 319.6C30.2 319.0 33.7 318.9 34.8 319.6C35.9 320.3 37.0 323.0 36.2 323.6C35.4 324.2 30.9 323.9 29.8 323.2C28.7 322.5 28.6 320.2 29.4 319.6Z" fill="#8c7872"/>
<path d="M59.6 316.3C60.6 315.9 64.6 315.6 66.4 315.9C68.2 316.2 70.8 317.5 70.4 318.0C70.0 318.5 65.7 318.9 64.0 319.0C62.3 319.1 60.9 318.8 60.2 318.4C59.5 317.9 58.6 316.7 59.6 316.3Z" fill="#8c7872"/>
<path d="M106.4 325.4C107.2 324.9 109.8 324.7 111.8 325.2C113.8 325.7 118.4 327.5 118.4 328.2C118.4 328.9 113.9 329.6 112.0 329.6C110.1 329.6 107.7 328.9 106.8 328.2C105.9 327.5 105.6 325.9 106.4 325.4Z" fill="#8c7872"/>
<path d="M138.4 215.6C137.4 216.2 133.8 215.8 132.0 216.4C130.2 217.0 128.9 218.0 127.6 219.0C126.3 220.0 125.1 221.7 124.2 222.6C123.3 223.5 122.4 225.0 122.2 224.6C122.0 224.2 122.5 221.6 123.2 220.2C123.9 218.8 125.2 217.2 126.6 216.0C128.0 214.8 129.6 213.8 131.5 213.2C133.4 212.6 136.7 212.2 137.8 212.6C139.0 213.0 139.4 215.0 138.4 215.6Z" fill="#f1ebe5" stroke="#bb9a84" stroke-width="0.6" stroke-linejoin="round"/>
<path d="M137.5 213.0C139.7 212.2 144.3 211.7 147.0 211.8C149.7 211.9 152.3 212.4 153.6 213.4C154.9 214.4 154.6 216.2 154.6 218.0C154.6 219.8 153.4 222.1 153.4 224.5C153.4 226.9 154.8 230.2 154.8 232.5C154.8 234.8 154.6 236.8 153.6 238.6C152.6 240.3 150.3 241.6 149.0 243.0C147.7 244.4 146.9 246.2 146.0 247.2C145.1 248.2 144.5 249.3 143.6 249.0C142.7 248.7 141.8 246.7 140.6 245.4C139.4 244.1 138.0 242.8 136.4 241.4C134.8 240.0 132.2 238.7 131.0 237.0C129.8 235.3 129.0 233.3 128.9 231.0C128.8 228.7 129.6 225.4 130.4 223.0C131.2 220.6 132.4 218.2 133.6 216.5C134.8 214.8 135.3 213.8 137.5 213.0Z" fill="#7d3b25"/>
<path d="M140.5 219.0C141.7 218.2 143.9 217.5 145.0 218.5C146.1 219.5 146.6 222.6 146.8 225.0C147.0 227.4 146.6 230.5 146.0 233.0C145.4 235.5 144.5 238.5 143.5 240.0C142.5 241.5 141.1 242.3 140.0 242.0C138.9 241.7 137.6 240.0 137.0 238.0C136.4 236.0 136.3 232.5 136.5 230.0C136.7 227.5 137.3 224.8 138.0 223.0C138.7 221.2 139.3 219.8 140.5 219.0Z" fill="#733220"/>
<path d="M141 220 Q138 230 141 241 M146.5 226 Q147 234 144 241" fill="none" stroke="#5a2616" stroke-width="0.5"/>
<path d="M153.4 213.2C154.0 212.6 156.5 213.2 158.0 214.2C159.5 215.2 161.2 217.3 162.5 219.0C163.8 220.7 164.8 222.8 166.0 224.5C167.2 226.2 168.6 228.1 169.4 229.5C170.2 230.9 170.7 231.8 170.6 233.0C170.5 234.2 169.8 235.5 169.0 236.4C168.2 237.3 167.0 238.0 165.5 238.6C164.0 239.2 161.8 239.9 160.0 240.2C158.2 240.5 156.2 240.7 155.0 240.6C153.8 240.5 152.7 240.5 152.6 239.4C152.5 238.3 154.3 236.2 154.4 234.0C154.5 231.8 153.2 228.7 153.2 226.0C153.2 223.3 154.2 220.1 154.2 218.0C154.2 215.9 152.8 213.8 153.4 213.2Z" fill="#f6f8f6" stroke="#b89890" stroke-width="0.5" stroke-linejoin="round"/>
<path d="M151.5 240.0C152.7 239.6 155.2 240.5 157.0 240.8C158.8 241.1 160.7 241.4 162.5 241.8C164.3 242.2 167.2 242.8 167.6 243.4C168.0 244.0 166.4 245.0 165.0 245.2C163.6 245.4 160.8 245.0 159.0 244.8C157.2 244.6 155.6 244.4 154.0 244.2C152.4 244.0 150.0 244.1 149.6 243.4C149.2 242.7 150.3 240.4 151.5 240.0Z" fill="#6e3320"/>
<path d="M165.5 236.8 Q168 237.4 170 236.2" fill="none" stroke="#8a6a62" stroke-width="0.45"/>
<ellipse cx="166.6" cy="231.6" rx="1.7" ry="1.3" fill="#3b2620"/>
<ellipse cx="147" cy="222.6" rx="1.1" ry="0.7" fill="#2f1a12"/>
<path d="M236.5 289.0C237.1 286.5 240.8 287.3 241.6 290.0C242.4 292.7 241.3 300.1 241.4 305.0C241.5 309.9 242.9 317.2 242.0 319.6C241.1 322.0 236.7 321.8 236.0 319.4C235.3 317.0 237.7 310.1 237.8 305.0C237.9 299.9 235.9 291.5 236.5 289.0Z" fill="#eee3df" stroke="#c09890" stroke-width="0.5" stroke-linejoin="round"/>
<path d="M234.6 318.8C235.8 318.5 240.8 318.8 242.2 319.2C243.6 319.6 244.2 321.1 243.0 321.4C241.8 321.7 236.2 321.4 234.8 321.0C233.4 320.6 233.4 319.1 234.6 318.8Z" fill="#a99088"/>
<path d="M188.4 245.6C188.4 244.4 189.6 243.2 190.6 241.6C191.6 240.0 193.3 237.9 194.6 236.2C195.9 234.5 197.6 232.8 198.4 231.4C199.2 230.0 199.4 228.7 199.4 227.6C199.4 226.5 198.1 225.0 198.6 224.8C199.1 224.6 201.4 226.2 202.6 226.6C203.8 227.0 205.1 226.9 206.0 227.2C206.9 227.5 207.0 227.3 208.2 228.4C209.4 229.5 211.4 231.7 213.0 233.6C214.6 235.5 216.1 237.8 218.0 239.6C219.9 241.4 222.5 243.3 224.5 244.6C226.5 245.9 228.1 246.8 230.0 247.6C231.9 248.4 233.3 249.1 236.0 249.6C238.7 250.1 242.3 250.2 246.0 250.4C249.7 250.6 253.2 250.9 258.0 250.6C262.8 250.3 268.7 249.4 274.5 248.6C280.3 247.8 287.6 246.1 292.7 245.8C297.8 245.5 301.7 245.6 305.0 246.6C308.3 247.6 311.0 250.0 312.6 252.0C314.2 254.0 314.4 256.6 314.6 258.6C314.8 260.6 314.3 262.3 313.6 264.0C312.9 265.7 311.4 267.0 310.6 269.0C309.8 271.0 308.8 273.5 308.6 276.0C308.4 278.5 309.3 280.7 309.4 284.0C309.5 287.3 309.6 292.3 309.2 296.0C308.8 299.7 307.4 302.7 306.8 306.0C306.2 309.3 306.8 314.0 305.8 315.6C304.8 317.2 301.1 316.9 300.6 315.4C300.1 313.9 302.3 310.3 302.6 306.4C302.9 302.5 303.1 295.6 302.4 292.0C301.7 288.4 299.7 286.2 298.5 284.5C297.3 282.8 296.4 281.8 295.0 282.0C293.6 282.2 291.9 284.5 290.0 285.6C288.1 286.7 286.3 287.7 283.6 288.6C280.9 289.5 277.0 290.4 274.0 290.8C271.0 291.2 268.3 291.4 265.5 291.2C262.7 291.0 259.3 290.1 257.0 289.6C254.7 289.1 252.6 286.9 251.6 288.0C250.6 289.1 250.9 292.9 250.8 296.0C250.7 299.1 250.6 302.3 251.0 306.4C251.4 310.5 253.8 318.0 253.0 320.4C252.2 322.8 247.0 323.1 246.0 320.8C245.0 318.5 247.2 311.2 246.8 306.4C246.4 301.6 245.1 294.8 243.8 292.0C242.5 289.2 240.8 290.5 239.0 289.4C237.2 288.3 234.9 287.0 233.0 285.6C231.1 284.2 229.1 283.2 227.3 280.9C225.6 278.6 223.9 274.9 222.5 272.0C221.1 269.1 220.2 266.3 219.0 263.6C217.8 260.9 216.5 258.3 215.4 256.0C214.3 253.7 213.4 251.6 212.6 250.0C211.8 248.4 211.5 246.8 210.4 246.6C209.3 246.4 207.2 248.2 206.0 248.8C204.8 249.4 204.2 250.3 203.0 250.2C201.8 250.1 200.5 248.1 199.0 248.0C197.5 247.9 195.4 249.6 194.0 249.8C192.6 250.0 191.3 249.7 190.4 249.0C189.5 248.3 188.4 246.8 188.4 245.6Z" fill="#f3f6f4" stroke="#c09890" stroke-width="0.55" stroke-linejoin="round"/>
<path d="M211.2 246.6C211.3 247.7 212.8 249.7 214.0 252.4C215.2 255.1 216.9 259.4 218.4 262.6C219.9 265.8 221.3 268.5 222.8 271.4C224.3 274.3 225.9 277.8 227.6 280.2C229.3 282.6 231.7 284.9 233.0 285.6C234.3 286.3 236.0 285.9 235.4 284.6C234.8 283.3 231.3 280.5 229.6 278.0C227.9 275.5 226.5 272.3 225.0 269.4C223.5 266.5 222.0 263.4 220.6 260.4C219.2 257.4 217.6 253.8 216.4 251.4C215.2 249.0 214.3 246.8 213.4 246.0C212.5 245.2 211.1 245.5 211.2 246.6Z" fill="#e4c4bd"/>
<path d="M252.0 288.0C252.7 288.5 257.0 289.2 260.0 289.6C263.0 290.0 266.2 290.8 270.0 290.6C273.8 290.4 279.3 289.4 283.0 288.4C286.7 287.4 290.1 285.6 292.0 284.6C293.9 283.6 295.3 282.6 294.6 282.4C293.9 282.2 290.8 282.8 288.0 283.4C285.2 284.0 281.7 285.3 278.0 286.0C274.3 286.7 269.7 287.5 266.0 287.6C262.3 287.7 258.3 286.5 256.0 286.6C253.7 286.7 251.3 287.5 252.0 288.0Z" fill="#e8d2cc"/>
<path d="M287.6 283.6C287.4 282.9 289.9 280.9 291.0 280.6C292.1 280.3 294.3 280.9 294.5 281.6C294.7 282.3 293.5 284.7 292.4 285.0C291.2 285.3 287.8 284.3 287.6 283.6Z" fill="#e4aaa2"/>
<path d="M301.0 284.0C301.2 281.8 303.2 281.8 304.0 282.8C304.8 283.8 305.8 287.1 306.0 290.0C306.2 292.9 305.5 299.0 305.0 300.0C304.5 301.0 303.7 298.7 303.0 296.0C302.3 293.3 300.8 286.2 301.0 284.0Z" fill="#e8d2cc"/>
<path d="M192.0 247.8C192.7 247.2 196.1 246.1 198.0 246.2C199.9 246.3 203.3 247.9 203.5 248.4C203.7 248.9 200.6 249.1 199.0 249.4C197.4 249.7 195.2 250.3 194.0 250.0C192.8 249.7 191.3 248.4 192.0 247.8Z" fill="#e6c6c0"/>
<path d="M258 276 Q266 281 276 277 M272 265 Q276 262 281 266 M287 255 L291 257" fill="none" stroke="#c09890" stroke-width="0.45"/>
<path d="M288 244 L291 240.4 L292.5 243 L295 238.2 L296.5 242 L299.5 238.6 L300.4 242.4 L303.6 240 L303.6 243.6 L307.4 242.4 L306.8 245.6 L311 245.6 L309.4 248 L314 250.6 L309.6 251 L305.2 248.4 L296 246.6 Z" fill="#f5f6f4" stroke="#c09890" stroke-width="0.5" stroke-linejoin="round"/>
<path d="M245.8 320.4C247.0 319.6 251.8 319.4 253.2 320.0C254.6 320.6 255.2 323.2 254.0 324.0C252.8 324.8 247.6 325.2 246.2 324.6C244.8 324.0 244.6 321.2 245.8 320.4Z" fill="#a99088"/>
<path d="M300.8 315.0C301.7 314.3 304.7 314.3 306.0 315.0C307.3 315.7 309.3 318.3 308.4 319.0C307.5 319.7 302.1 319.9 300.8 319.2C299.5 318.5 299.9 315.7 300.8 315.0Z" fill="#a99088"/>
<path d="M204.8 228.6C205.0 227.9 207.2 226.4 209.0 225.6C210.8 224.8 215.3 223.7 215.8 224.0C216.3 224.3 213.2 226.4 211.8 227.4C210.4 228.4 208.8 229.6 207.6 229.8C206.4 230.0 204.6 229.3 204.8 228.6Z" fill="#d9a586" stroke="#c48a6e" stroke-width="0.4" stroke-linejoin="round"/>
<path d="M199.2 228 L198.4 224.4 L202.4 226.8 Z" fill="#efe6e2" stroke="#c09890" stroke-width="0.45" stroke-linejoin="round"/>
<ellipse cx="200.6" cy="235.2" rx="1.2" ry="0.8" fill="#9b5a55"/>
<ellipse cx="189.2" cy="246" rx="1.1" ry="1" fill="#c86a6a"/>
<text x="138.4" y="203.6" font-family="'Liberation Serif', 'Times New Roman', serif" font-weight="bold" font-size="9.3" fill="#e0525a">Boer</text>
<text x="195.9" y="203.9" font-family="'Liberation Serif', 'Times New Roman', serif" font-weight="bold" font-size="9.2" fill="#4fa84f">HM</text>
<text x="329.4" y="194" font-family="'Liberation Serif', 'Times New Roman', serif" font-weight="bold" font-size="12">D</text>
<rect x="367.2" y="202.2" width="139.2" height="139.3" fill="none" stroke="#2a2a2a" stroke-width="1.1"/>
<line x1="364.6" y1="341.5" x2="367.2" y2="341.5" stroke="#2a2a2a" stroke-width="1"/>
<text x="362.8" y="343.9" font-family="'Liberation Serif', 'Times New Roman', serif" font-weight="bold" font-size="7.2" text-anchor="end">0.00</text>
<line x1="364.6" y1="313.64" x2="367.2" y2="313.64" stroke="#2a2a2a" stroke-width="1"/>
<text x="362.8" y="316.04" font-family="'Liberation Serif', 'Times New Roman', serif" font-weight="bold" font-size="7.2" text-anchor="end">0.02</text>
<line x1="364.6" y1="285.78" x2="367.2" y2="285.78" stroke="#2a2a2a" stroke-width="1"/>
<text x="362.8" y="288.18" font-family="'Liberation Serif', 'Times New Roman', serif" font-weight="bold" font-size="7.2" text-anchor="end">0.04</text>
<line x1="364.6" y1="257.92" x2="367.2" y2="257.92" stroke="#2a2a2a" stroke-width="1"/>
<text x="362.8" y="260.32" font-family="'Liberation Serif', 'Times New Roman', serif" font-weight="bold" font-size="7.2" text-anchor="end">0.06</text>
<line x1="364.6" y1="230.06" x2="367.2" y2="230.06" stroke="#2a2a2a" stroke-width="1"/>
<text x="362.8" y="232.46" font-family="'Liberation Serif', 'Times New Roman', serif" font-weight="bold" font-size="7.2" text-anchor="end">0.08</text>
<line x1="364.6" y1="202.2" x2="367.2" y2="202.2" stroke="#2a2a2a" stroke-width="1"/>
<text x="362.8" y="204.6" font-family="'Liberation Serif', 'Times New Roman', serif" font-weight="bold" font-size="7.2" text-anchor="end">0.10</text>
<line x1="367.2" y1="341.5" x2="367.2" y2="343.9" stroke="#2a2a2a" stroke-width="1"/>
<text x="367.2" y="351.3" font-family="'Liberation Serif', 'Times New Roman', serif" font-weight="bold" font-size="7.2" text-anchor="middle">−0.2</text>
<line x1="413.6" y1="341.5" x2="413.6" y2="343.9" stroke="#2a2a2a" stroke-width="1"/>
<text x="413.6" y="351.3" font-family="'Liberation Serif', 'Times New Roman', serif" font-weight="bold" font-size="7.2" text-anchor="middle">−0.1</text>
<line x1="460" y1="341.5" x2="460" y2="343.9" stroke="#2a2a2a" stroke-width="1"/>
<text x="460" y="351.3" font-family="'Liberation Serif', 'Times New Roman', serif" font-weight="bold" font-size="7.2" text-anchor="middle">0.0</text>
<line x1="506.4" y1="341.5" x2="506.4" y2="343.9" stroke="#2a2a2a" stroke-width="1"/>
<text x="506.4" y="351.3" font-family="'Liberation Serif', 'Times New Roman', serif" font-weight="bold" font-size="7.2" text-anchor="middle">0.1</text>
<text x="436.5" y="361.2" font-family="'Liberation Serif', 'Times New Roman', serif" font-weight="bold" font-size="7.4" text-anchor="middle">PC1 (35.61%)</text>
<text x="0" y="0" font-family="'Liberation Serif', 'Times New Roman', serif" font-weight="bold" font-size="7.4" text-anchor="middle" transform="translate(344.3 272) rotate(-90)">PC2 (24.42%)</text>
<path fill="#22bb22" d="M481.53 239.9a1.05 1.05 0 1 0 2.1 0a1.05 1.05 0 1 0-2.1 0M487.49 213.31a1.05 1.05 0 1 0 2.1 0a1.05 1.05 0 1 0-2.1 0M483.27 228.37a1.05 1.05 0 1 0 2.1 0a1.05 1.05 0 1 0-2.1 0M480.52 245.63a1.05 1.05 0 1 0 2.1 0a1.05 1.05 0 1 0-2.1 0M481.07 242.38a1.05 1.05 0 1 0 2.1 0a1.05 1.05 0 1 0-2.1 0M483.38 232.07a1.05 1.05 0 1 0 2.1 0a1.05 1.05 0 1 0-2.1 0M483.41 226.42a1.05 1.05 0 1 0 2.1 0a1.05 1.05 0 1 0-2.1 0M481.72 237.06a1.05 1.05 0 1 0 2.1 0a1.05 1.05 0 1 0-2.1 0M481.58 242.95a1.05 1.05 0 1 0 2.1 0a1.05 1.05 0 1 0-2.1 0M481.31 247.41a1.05 1.05 0 1 0 2.1 0a1.05 1.05 0 1 0-2.1 0M487.21 210.66a1.05 1.05 0 1 0 2.1 0a1.05 1.05 0 1 0-2.1 0M486.24 215.2a1.05 1.05 0 1 0 2.1 0a1.05 1.05 0 1 0-2.1 0M482.95 233.48a1.05 1.05 0 1 0 2.1 0a1.05 1.05 0 1 0-2.1 0M483.31 229.68a1.05 1.05 0 1 0 2.1 0a1.05 1.05 0 1 0-2.1 0M487.22 211.77a1.05 1.05 0 1 0 2.1 0a1.05 1.05 0 1 0-2.1 0M484.51 226.89a1.05 1.05 0 1 0 2.1 0a1.05 1.05 0 1 0-2.1 0M486.34 212.86a1.05 1.05 0 1 0 2.1 0a1.05 1.05 0 1 0-2.1 0M481.03 246.92a1.05 1.05 0 1 0 2.1 0a1.05 1.05 0 1 0-2.1 0M480.28 245.92a1.05 1.05 0 1 0 2.1 0a1.05 1.05 0 1 0-2.1 0M481.55 239.29a1.05 1.05 0 1 0 2.1 0a1.05 1.05 0 1 0-2.1 0M485.69 223.92a1.05 1.05 0 1 0 2.1 0a1.05 1.05 0 1 0-2.1 0M486.34 212.89a1.05 1.05 0 1 0 2.1 0a1.05 1.05 0 1 0-2.1 0M480.93 243.66a1.05 1.05 0 1 0 2.1 0a1.05 1.05 0 1 0-2.1 0M487.22 211.75a1.05 1.05 0 1 0 2.1 0a1.05 1.05 0 1 0-2.1 0M484.27 228.62a1.05 1.05 0 1 0 2.1 0a1.05 1.05 0 1 0-2.1 0M479.44 247.89a1.05 1.05 0 1 0 2.1 0a1.05 1.05 0 1 0-2.1 0M486.76 210.46a1.05 1.05 0 1 0 2.1 0a1.05 1.05 0 1 0-2.1 0M484.41 221.14a1.05 1.05 0 1 0 2.1 0a1.05 1.05 0 1 0-2.1 0M486.37 213.44a1.05 1.05 0 1 0 2.1 0a1.05 1.05 0 1 0-2.1 0M485.99 214.07a1.05 1.05 0 1 0 2.1 0a1.05 1.05 0 1 0-2.1 0M484.07 228.33a1.05 1.05 0 1 0 2.1 0a1.05 1.05 0 1 0-2.1 0M487.05 211.85a1.05 1.05 0 1 0 2.1 0a1.05 1.05 0 1 0-2.1 0M485.43 221.52a1.05 1.05 0 1 0 2.1 0a1.05 1.05 0 1 0-2.1 0M486.46 211.21a1.05 1.05 0 1 0 2.1 0a1.05 1.05 0 1 0-2.1 0M481.51 238.75a1.05 1.05 0 1 0 2.1 0a1.05 1.05 0 1 0-2.1 0M485.62 217.28a1.05 1.05 0 1 0 2.1 0a1.05 1.05 0 1 0-2.1 0M485.61 217.36a1.05 1.05 0 1 0 2.1 0a1.05 1.05 0 1 0-2.1 0M481.6 238.88a1.05 1.05 0 1 0 2.1 0a1.05 1.05 0 1 0-2.1 0M485.85 217.71a1.05 1.05 0 1 0 2.1 0a1.05 1.05 0 1 0-2.1 0M485.58 213.72a1.05 1.05 0 1 0 2.1 0a1.05 1.05 0 1 0-2.1 0M485.85 216.63a1.05 1.05 0 1 0 2.1 0a1.05 1.05 0 1 0-2.1 0M482.81 230.5a1.05 1.05 0 1 0 2.1 0a1.05 1.05 0 1 0-2.1 0M479.4 247.23a1.05 1.05 0 1 0 2.1 0a1.05 1.05 0 1 0-2.1 0M485.17 214.03a1.05 1.05 0 1 0 2.1 0a1.05 1.05 0 1 0-2.1 0M484.71 224.22a1.05 1.05 0 1 0 2.1 0a1.05 1.05 0 1 0-2.1 0M483.74 228.98a1.05 1.05 0 1 0 2.1 0a1.05 1.05 0 1 0-2.1 0M486.74 210.12a1.05 1.05 0 1 0 2.1 0a1.05 1.05 0 1 0-2.1 0M482.55 231.71a1.05 1.05 0 1 0 2.1 0a1.05 1.05 0 1 0-2.1 0M482.64 230.18a1.05 1.05 0 1 0 2.1 0a1.05 1.05 0 1 0-2.1 0M480.72 242.98a1.05 1.05 0 1 0 2.1 0a1.05 1.05 0 1 0-2.1 0M482.73 236.65a1.05 1.05 0 1 0 2.1 0a1.05 1.05 0 1 0-2.1 0M487.7 211.04a1.05 1.05 0 1 0 2.1 0a1.05 1.05 0 1 0-2.1 0M484.85 224.29a1.05 1.05 0 1 0 2.1 0a1.05 1.05 0 1 0-2.1 0M483.41 226.25a1.05 1.05 0 1 0 2.1 0a1.05 1.05 0 1 0-2.1 0M483.78 225.04a1.05 1.05 0 1 0 2.1 0a1.05 1.05 0 1 0-2.1 0M480.23 245.11a1.05 1.05 0 1 0 2.1 0a1.05 1.05 0 1 0-2.1 0M484.43 226.18a1.05 1.05 0 1 0 2.1 0a1.05 1.05 0 1 0-2.1 0M481.37 242.3a1.05 1.05 0 1 0 2.1 0a1.05 1.05 0 1 0-2.1 0M483.6 230a1.05 1.05 0 1 0 2.1 0a1.05 1.05 0 1 0-2.1 0M481 241.99a1.05 1.05 0 1 0 2.1 0a1.05 1.05 0 1 0-2.1 0M481.34 243.9a1.05 1.05 0 1 0 2.1 0a1.05 1.05 0 1 0-2.1 0M480.89 242.94a1.05 1.05 0 1 0 2.1 0a1.05 1.05 0 1 0-2.1 0M481.09 242.41a1.05 1.05 0 1 0 2.1 0a1.05 1.05 0 1 0-2.1 0M485.83 220.32a1.05 1.05 0 1 0 2.1 0a1.05 1.05 0 1 0-2.1 0M479.05 258.7a1.05 1.05 0 1 0 2.1 0a1.05 1.05 0 1 0-2.1 0M486.95 210.3a1.05 1.05 0 1 0 2.1 0a1.05 1.05 0 1 0-2.1 0M480.25 248.4a1.05 1.05 0 1 0 2.1 0a1.05 1.05 0 1 0-2.1 0M486.05 218.9a1.05 1.05 0 1 0 2.1 0a1.05 1.05 0 1 0-2.1 0"/>
<path fill="#f25a68" d="M385.59 324.2a1.05 1.05 0 1 0 2.1 0a1.05 1.05 0 1 0-2.1 0M384.72 324.68a1.05 1.05 0 1 0 2.1 0a1.05 1.05 0 1 0-2.1 0M383.39 323.52a1.05 1.05 0 1 0 2.1 0a1.05 1.05 0 1 0-2.1 0M387.26 325.25a1.05 1.05 0 1 0 2.1 0a1.05 1.05 0 1 0-2.1 0M381.27 323.98a1.05 1.05 0 1 0 2.1 0a1.05 1.05 0 1 0-2.1 0M381.61 322.93a1.05 1.05 0 1 0 2.1 0a1.05 1.05 0 1 0-2.1 0M382.26 323.95a1.05 1.05 0 1 0 2.1 0a1.05 1.05 0 1 0-2.1 0M382.39 325.25a1.05 1.05 0 1 0 2.1 0a1.05 1.05 0 1 0-2.1 0M387.66 326a1.05 1.05 0 1 0 2.1 0a1.05 1.05 0 1 0-2.1 0M388.02 325.26a1.05 1.05 0 1 0 2.1 0a1.05 1.05 0 1 0-2.1 0M386.55 325.92a1.05 1.05 0 1 0 2.1 0a1.05 1.05 0 1 0-2.1 0M387.32 324.69a1.05 1.05 0 1 0 2.1 0a1.05 1.05 0 1 0-2.1 0M382.15 324.81a1.05 1.05 0 1 0 2.1 0a1.05 1.05 0 1 0-2.1 0M382.72 324.45a1.05 1.05 0 1 0 2.1 0a1.05 1.05 0 1 0-2.1 0M383.01 325.86a1.05 1.05 0 1 0 2.1 0a1.05 1.05 0 1 0-2.1 0M388.87 322.67a1.05 1.05 0 1 0 2.1 0a1.05 1.05 0 1 0-2.1 0M385.49 324.58a1.05 1.05 0 1 0 2.1 0a1.05 1.05 0 1 0-2.1 0M384.52 325.01a1.05 1.05 0 1 0 2.1 0a1.05 1.05 0 1 0-2.1 0M383.12 325.38a1.05 1.05 0 1 0 2.1 0a1.05 1.05 0 1 0-2.1 0M382.04 323.72a1.05 1.05 0 1 0 2.1 0a1.05 1.05 0 1 0-2.1 0M381.71 324.88a1.05 1.05 0 1 0 2.1 0a1.05 1.05 0 1 0-2.1 0M383.67 323.31a1.05 1.05 0 1 0 2.1 0a1.05 1.05 0 1 0-2.1 0M382.28 323.77a1.05 1.05 0 1 0 2.1 0a1.05 1.05 0 1 0-2.1 0M384.22 324.08a1.05 1.05 0 1 0 2.1 0a1.05 1.05 0 1 0-2.1 0M387.36 322.58a1.05 1.05 0 1 0 2.1 0a1.05 1.05 0 1 0-2.1 0M380.78 322.53a1.05 1.05 0 1 0 2.1 0a1.05 1.05 0 1 0-2.1 0M382.89 324.68a1.05 1.05 0 1 0 2.1 0a1.05 1.05 0 1 0-2.1 0M387.53 324.94a1.05 1.05 0 1 0 2.1 0a1.05 1.05 0 1 0-2.1 0M381.67 324.94a1.05 1.05 0 1 0 2.1 0a1.05 1.05 0 1 0-2.1 0M384.19 324.09a1.05 1.05 0 1 0 2.1 0a1.05 1.05 0 1 0-2.1 0M388.33 326.04a1.05 1.05 0 1 0 2.1 0a1.05 1.05 0 1 0-2.1 0M383.48 322.9a1.05 1.05 0 1 0 2.1 0a1.05 1.05 0 1 0-2.1 0M383.71 323.19a1.05 1.05 0 1 0 2.1 0a1.05 1.05 0 1 0-2.1 0M380.77 323.7a1.05 1.05 0 1 0 2.1 0a1.05 1.05 0 1 0-2.1 0M386.69 324.43a1.05 1.05 0 1 0 2.1 0a1.05 1.05 0 1 0-2.1 0M380.71 325.32a1.05 1.05 0 1 0 2.1 0a1.05 1.05 0 1 0-2.1 0M381.13 323.43a1.05 1.05 0 1 0 2.1 0a1.05 1.05 0 1 0-2.1 0M383.04 324.36a1.05 1.05 0 1 0 2.1 0a1.05 1.05 0 1 0-2.1 0M382.86 324.27a1.05 1.05 0 1 0 2.1 0a1.05 1.05 0 1 0-2.1 0M382.95 324.73a1.05 1.05 0 1 0 2.1 0a1.05 1.05 0 1 0-2.1 0M388.25 329.5a1.05 1.05 0 1 0 2.1 0a1.05 1.05 0 1 0-2.1 0M392.35 332.4a1.05 1.05 0 1 0 2.1 0a1.05 1.05 0 1 0-2.1 0M380.15 324.5a1.05 1.05 0 1 0 2.1 0a1.05 1.05 0 1 0-2.1 0M389.15 323.4a1.05 1.05 0 1 0 2.1 0a1.05 1.05 0 1 0-2.1 0"/>
<circle cx="515.3" cy="204" r="1.05" fill="#22bb22"/>
<text x="523.8" y="206.6" font-family="'Liberation Serif', 'Times New Roman', serif" font-weight="bold" font-size="7.6">HM</text>
<circle cx="515.3" cy="215.8" r="1.05" fill="#f8a0a8"/>
<text x="523.8" y="218.4" font-family="'Liberation Serif', 'Times New Roman', serif" font-weight="bold" font-size="7.6">Boer</text>
<text x="8.6" y="369.5" font-family="'Liberation Serif', 'Times New Roman', serif" font-weight="bold" font-size="12">E</text>
<text x="22.3" y="393.7" font-family="'Liberation Serif', 'Times New Roman', serif" font-weight="bold" font-size="9" fill="#e04848">Boer</text>
<text x="146.6" y="393.7" font-family="'Liberation Serif', 'Times New Roman', serif" font-weight="bold" font-size="9" fill="#5aaa5a">HM</text>
<path fill="#f25a5a" d="M40.55 493.97A70.4 70.4 0 0 1 69.13 378.92L71.37 385.55A63.4 63.4 0 0 0 45.64 489.16Z"/>
<path fill="#78c878" d="M91.7 375.2A70.4 70.4 0 1 1 40.55 493.97L45.64 489.16A63.4 63.4 0 1 0 91.7 382.2Z"/>
<path stroke="#c43838" stroke-width="1.3" d="M43.71 489L40.6 491.82M41.83 486.82L38.59 489.5M40.05 484.56L36.69 487.09M38.37 482.23L34.9 484.6M36.79 479.82L33.22 482.04M35.32 477.34L31.66 479.4M33.97 474.8L30.22 476.7M32.72 472.21L28.9 473.94M31.6 469.56L27.7 471.11M30.59 466.86L26.63 468.24M29.71 464.12L25.68 465.33M28.95 461.35L24.87 462.37M28.31 458.54L24.19 459.38M27.79 455.71L23.65 456.37M27.41 452.86L23.23 453.33M27.15 449.99L22.96 450.28M27.02 447.12L22.82 447.22M27.01 444.24L22.82 444.15M27.14 441.36L22.95 441.09M27.39 438.5L23.22 438.04M27.77 435.64L23.62 435M28.28 432.81L24.16 431.98M28.91 430L24.83 428.99M29.66 427.23L25.64 426.03M30.54 424.48L26.57 423.11M31.54 421.79L27.64 420.24M32.66 419.13L28.83 417.42M33.9 416.53L30.14 414.65M35.25 413.99L31.58 411.94M36.71 411.51L33.14 409.3M38.28 409.1L34.81 406.73M39.95 406.76L36.59 404.24M41.73 404.5L38.49 401.83M43.61 402.32L40.49 399.51M45.58 400.22L42.59 397.28M47.65 398.22L44.79 395.14M49.8 396.3L47.08 393.1M52.03 394.49L49.45 391.17M54.34 392.77L51.92 389.35M56.73 391.17L54.46 387.63M59.18 389.66L57.07 386.03M61.7 388.27L59.76 384.55M64.28 387L62.5 383.19M66.92 385.84L65.31 381.96M69.6 384.79L68.16 380.84"/>
<path stroke="#48a448" stroke-width="1.3" d="M93.14 380.92L93.23 376.72M96.01 381.04L96.29 376.85M98.87 381.3L99.34 377.12M101.72 381.68L102.37 377.53M104.55 382.19L105.39 378.07M107.36 382.82L108.37 378.75M110.13 383.58L111.33 379.55M112.87 384.46L114.24 380.49M115.56 385.46L117.11 381.56M118.21 386.58L119.93 382.75M120.8 387.82L122.69 384.06M123.34 389.17L125.4 385.5M125.82 390.63L128.03 387.06M128.23 392.2L130.6 388.73M130.56 393.87L133.09 390.51M132.82 395.65L135.49 392.41M135 397.53L137.81 394.41M137.09 399.5L140.04 396.5M139.1 401.56L142.17 398.7M141.01 403.71L144.21 400.99M142.82 405.94L146.14 403.37M144.53 408.25L147.96 405.83M146.14 410.63L149.67 408.36M147.64 413.09L151.27 410.98M149.03 415.6L152.75 413.66M150.3 418.18L154.11 416.4M151.46 420.81L155.34 419.2M152.5 423.49L156.45 422.05M153.43 426.21L157.43 424.95M154.23 428.97L158.29 427.89M154.9 431.77L159.01 430.87M155.46 434.59L159.59 433.87M155.88 437.43L160.05 436.9M156.18 440.29L160.37 439.95M156.35 443.16L160.55 443M156.4 446.04L160.6 446.06M156.32 448.91L160.51 449.12M156.1 451.78L160.29 452.18M155.77 454.63L159.93 455.22M155.3 457.47L159.43 458.24M154.71 460.28L158.8 461.23M154 463.07L158.04 464.2M153.16 465.82L157.15 467.13M152.2 468.53L156.13 470.02M151.12 471.19L154.98 472.85M149.93 473.81L153.71 475.64M148.62 476.37L152.31 478.36M147.19 478.86L150.8 481.02M145.66 481.3L149.17 483.61M144.02 483.66L147.42 486.13M142.28 485.94L145.56 488.56M140.44 488.15L143.6 490.91M138.5 490.27L141.54 493.17M136.47 492.31L139.38 495.34M134.35 494.25L137.12 497.41M132.15 496.1L134.77 499.38M129.86 497.85L132.34 501.24M127.51 499.49L129.83 502.99M125.08 501.03L127.24 504.62M122.58 502.45L124.59 506.15M120.02 503.77L121.86 507.55M117.41 504.97L119.08 508.83M114.75 506.05L116.25 509.98M112.04 507.02L113.36 511.01M109.29 507.86L110.44 511.9M106.51 508.58L107.47 512.67M103.7 509.18L104.48 513.31M100.86 509.65L101.46 513.81M98.01 509.99L98.42 514.17M95.14 510.21L95.36 514.4M92.27 510.3L92.3 514.5M89.39 510.26L89.24 514.46M86.52 510.09L86.19 514.28M83.66 509.8L83.14 513.97M80.82 509.38L80.11 513.52M78 508.83L77.11 512.94M75.2 508.16L74.13 512.22M72.44 507.37L71.19 511.38M69.71 506.45L68.29 510.4M67.03 505.41L65.43 509.3M64.4 504.26L62.63 508.07M61.82 502.99L59.88 506.71M59.3 501.6L57.2 505.24M56.84 500.11L54.58 503.65M54.46 498.51L52.04 501.94M52.14 496.8L49.58 500.12M49.91 494.99L47.2 498.2M47.76 493.09L44.9 496.17M45.69 491.09L42.7 494.04"/>
<path fill="none" stroke="#4c4c4c" stroke-width="0.7" d="M48.62 484.56L45.27 487.59M46.93 482.6L43.45 485.48M48.62 484.56A58.08 58.08 0 0 1 46.93 482.6M50.42 481.3L47.77 483.59M48.13 478.47L41.72 483.3M50.42 481.3A54.58 54.58 0 0 1 48.13 478.47M42.37 476.34L38.57 478.71M41.05 474.12L37.15 476.31M42.37 476.34A58.13 58.13 0 0 1 41.05 474.12M43.97 473.89L41.69 475.24M42.19 470.65L35.84 473.86M43.97 473.89A55.49 55.49 0 0 1 42.19 470.65M48.45 469.32L43.05 472.28M46.74 465.89L34.64 471.34M48.45 469.32A49.33 49.33 0 0 1 46.74 465.89M55.64 470.36L40.1 481.04M52.56 465.13L47.56 467.62M55.64 470.36A43.74 43.74 0 0 1 52.56 465.13M60.74 470.62L49.25 479.9M57.4 465.8L54.01 467.8M60.74 470.62A39.8 39.8 0 0 1 57.4 465.8M35.46 462.41L31.72 463.52M34.77 459.89L30.98 460.84M35.46 462.41A58.7 58.7 0 0 1 34.77 459.89M40.52 463.41L32.58 466.17M39.45 459.96L35.1 461.15M40.52 463.41A54.19 54.19 0 0 1 39.45 459.96M42.34 460.95L39.95 461.69M41.05 455.94L30.37 458.12M42.34 460.95A51.69 51.69 0 0 1 41.05 455.94M51.34 461.69L33.55 468.78M49.62 456.41L41.63 458.46M51.34 461.69A43.44 43.44 0 0 1 49.62 456.41M61.04 466.85L58.98 468.27M56.24 457.17L50.4 459.08M61.04 466.85A37.3 37.3 0 0 1 56.24 457.17M33.95 452.12L29.5 452.62M33.72 449.54L29.24 449.85M33.95 452.12A58.12 58.12 0 0 1 33.72 449.54M37.95 450.46L33.82 450.83M37.75 446.87L29.12 447.07M37.95 450.46A53.97 53.97 0 0 1 37.75 446.87M40.86 453.64L29.87 455.38M40.31 448.52L37.82 448.66M40.86 453.64A51.47 51.47 0 0 1 40.31 448.52M45.66 450.54L40.52 451.09M45.4 444.63L29.11 444.28M45.66 450.54A46.31 46.31 0 0 1 45.4 444.63M32.92 441.74L29.23 441.5M33.15 439.13L29.48 438.73M32.92 441.74A58.91 58.91 0 0 1 33.15 439.13M51.65 447.32L45.44 447.59M51.77 442.09L33.02 440.44M51.65 447.32A40.09 40.09 0 0 1 51.77 442.09M34.18 434L30.34 433.23M34.75 431.45L30.95 430.51M34.18 434A58.68 58.68 0 0 1 34.75 431.45M37.71 437.19L29.85 435.97M38.39 433.61L34.45 432.72M37.71 437.19A54.64 54.64 0 0 1 38.39 433.61M35.95 429.09L31.68 427.82M36.74 426.62L32.53 425.17M35.95 429.09A58.15 58.15 0 0 1 36.74 426.62M41.61 436.08L38.02 435.39M43.15 430.04L36.33 427.85M41.61 436.08A50.98 50.98 0 0 1 43.15 430.04M56.76 444.82L51.62 444.7M57.82 436.99L42.29 433.03M56.76 444.82A34.95 34.95 0 0 1 57.82 436.99M38.09 421.57L34.58 419.99M39.21 419.21L35.77 417.48M38.09 421.57A58.75 58.75 0 0 1 39.21 419.21M41.18 425.6L33.49 422.56M42.62 422.27L38.63 420.38M41.18 425.6A54.34 54.34 0 0 1 42.62 422.27M46.34 425.87L41.87 423.93M48.53 421.43L37.08 415.02M46.34 425.87A49.47 49.47 0 0 1 48.53 421.43M43.06 412.37L40.01 410.29M44.58 410.24L41.63 408.02M43.06 412.37A58.91 58.91 0 0 1 44.58 410.24M44.79 416.52L38.49 412.62M46.84 413.46L43.81 411.29M44.79 416.52A55.19 55.19 0 0 1 46.84 413.46M46.71 408.59L43.35 405.83M48.4 406.63L45.17 403.72M46.71 408.59A58.25 58.25 0 0 1 48.4 406.63M49.64 404.22L47.08 401.69M51.52 402.39L49.08 399.75M49.64 404.22A59 59 0 0 1 51.52 402.39M54.07 401.34L51.16 397.9M56.08 399.71L53.32 396.15M54.07 401.34A58.1 58.1 0 0 1 56.08 399.71M53.42 406.22L50.57 403.29M57.07 402.97L55.07 400.51M53.42 406.22A54.92 54.92 0 0 1 57.07 402.97M53.56 412.78L47.54 407.6M58.27 407.99L55.21 404.56M53.56 412.78A50.32 50.32 0 0 1 58.27 407.99M55 421.12L45.79 414.98M60.26 414.66L55.83 410.31M55 421.12A44.11 44.11 0 0 1 60.26 414.66M54.82 427.31L47.38 423.62M59.76 419.62L57.48 417.77M54.82 427.31A41.17 41.17 0 0 1 59.76 419.62M57.75 397.59L55.55 394.49M59.92 396.13L57.86 392.93M57.75 397.59A58.8 58.8 0 0 1 59.92 396.13M61.44 400.72L58.82 396.85M64.5 398.8L60.24 391.48M61.44 400.72A54.13 54.13 0 0 1 64.5 398.8M66.68 392.12L65.17 388.9M69.08 391.06L67.72 387.77M66.68 392.12A59.05 59.05 0 0 1 69.08 391.06M69.91 396.19L67.87 391.57M73.25 394.84L70.32 386.77M69.91 396.19A54.01 54.01 0 0 1 73.25 394.84M68.67 401.58L62.68 390.13M73.18 399.5L71.57 395.49M68.67 401.58A49.68 49.68 0 0 1 73.18 399.5M66.64 405.62L62.95 399.74M71.94 402.75L70.9 400.48M66.64 405.62A47.18 47.18 0 0 1 71.94 402.75M59.77 425.07L57.07 423.33M73.64 412.21L69.25 404.1M59.77 425.07A37.96 37.96 0 0 1 73.64 412.21M62.14 441.56L57.07 440.87M71.41 423.72L65.89 417.76M62.14 441.56A29.84 29.84 0 0 1 71.41 423.72M67.29 457.71L58.29 462.18M67.53 433.03L65.23 431.84M67.29 457.71A27.25 27.25 0 0 1 67.53 433.03M93.01 386.84L93.09 383.02M95.61 386.96L95.87 383.14M93.01 386.84A58.77 58.77 0 0 1 95.61 386.96M94.16 390.35L94.31 386.88M97.83 390.64L98.64 383.39M94.16 390.35A55.3 55.3 0 0 1 97.83 390.64M95.6 395.52L96 390.46M99.48 395.98L101.4 383.76M95.6 395.52A50.23 50.23 0 0 1 99.48 395.98M103.25 388.6L104.13 384.25M105.77 389.17L106.85 384.86M103.25 388.6A58.16 58.16 0 0 1 105.77 389.17M103.45 393.6L104.52 388.87M106.88 394.5L109.53 385.59M103.45 393.6A53.31 53.31 0 0 1 106.88 394.5M97.25 398.2L97.55 395.71M103.76 399.42L105.17 394.02M97.25 398.2A47.73 47.73 0 0 1 103.76 399.42M110.71 390.68L112.18 386.44M113.13 391.58L114.79 387.41M110.71 390.68A58.12 58.12 0 0 1 113.13 391.58M99.77 402.71L100.53 398.7M106.89 404.69L111.93 391.12M99.77 402.71A43.64 43.64 0 0 1 106.89 404.69M118.05 393.28L119.86 389.69M120.35 394.5L122.32 391M118.05 393.28A58.58 58.58 0 0 1 120.35 394.5M114.21 395.48L117.35 388.5M117.5 397.09L119.21 393.88M114.21 395.48A54.95 54.95 0 0 1 117.5 397.09M122.64 395.75L124.71 392.41M124.83 397.17L127.04 393.93M122.64 395.75A58.68 58.68 0 0 1 124.83 397.17M121.33 400.14L123.74 396.45M124.3 402.21L129.3 395.55M121.33 400.14A54.27 54.27 0 0 1 124.3 402.21M113.97 400.14L115.87 396.25M120.74 404.14L122.83 401.15M113.97 400.14A50.62 50.62 0 0 1 120.74 404.14M128.83 400.5L131.49 397.27M130.79 402.2L133.6 399.09M128.83 400.5A58.41 58.41 0 0 1 130.79 402.2M132.6 404.06L135.62 400.99M134.41 405.92L137.56 402.99M132.6 404.06A58.3 58.3 0 0 1 134.41 405.92M136.22 407.78L139.41 405.07M137.85 409.79L141.16 407.23M136.22 407.78A58.42 58.42 0 0 1 137.85 409.79M131.26 407.17L133.52 404.98M134.52 410.83L137.05 408.78M131.26 407.17A55.16 55.16 0 0 1 134.52 410.83M128.65 412.77L132.93 408.96M132.06 417.06L142.82 409.46M128.65 412.77A49.43 49.43 0 0 1 132.06 417.06M121.18 411.38L129.82 401.34M127.08 417.52L130.42 414.87M121.18 411.38A45.17 45.17 0 0 1 127.08 417.52M113.39 408.86L117.43 402.01M122.47 416.04L124.27 414.31M113.39 408.86A42.67 42.67 0 0 1 122.47 416.04M101.9 408.85L103.37 403.55M115.36 415.69L118.17 412.14M101.9 408.85A38.14 38.14 0 0 1 115.36 415.69M142.49 416.08L145.82 414.14M143.75 418.36L147.17 416.58M142.49 416.08A58.74 58.74 0 0 1 143.75 418.36M137.74 416.03L144.37 411.77M139.6 419.16L143.13 417.21M137.74 416.03A54.72 54.72 0 0 1 139.6 419.16M147.25 425.4L150.53 424.21M148.09 427.89L151.42 426.84M147.25 425.4A59.11 59.11 0 0 1 148.09 427.89M141.67 424.87L149.52 421.61M142.94 428.25L147.69 426.64M141.67 424.87A54.1 54.1 0 0 1 142.94 428.25M136.62 424.58L148.4 419.07M138.11 428.14L142.33 426.55M136.62 424.58A49.59 49.59 0 0 1 138.11 428.14M129.43 423.1L138.7 417.58M132.18 428.54L137.4 426.35M129.43 423.1A43.93 43.93 0 0 1 132.18 428.54M148.7 433.13L152.85 432.22M149.2 435.67L153.39 434.95M148.7 433.13A58.35 58.35 0 0 1 149.2 435.67M143.26 431.89L152.2 429.51M144.06 435.35L148.96 434.39M143.26 431.89A53.35 53.35 0 0 1 144.06 435.35M150.22 438.15L153.8 437.7M150.5 440.76L154.09 440.46M150.22 438.15A59 59 0 0 1 150.5 440.76M139.47 434.59L143.69 433.62M140.45 440.49L150.37 439.45M139.47 434.59A49.02 49.02 0 0 1 140.45 440.49M150.36 445.99L154.3 446.02M150.28 448.6L154.22 448.8M150.36 445.99A58.66 58.66 0 0 1 150.28 448.6M146.6 443.53L154.26 443.24M146.61 447.19L150.34 447.3M146.6 443.53A54.94 54.94 0 0 1 146.61 447.19M136.16 438.18L140.05 437.53M136.77 445.4L146.64 445.36M136.16 438.18A45.07 45.07 0 0 1 136.77 445.4M128.67 426.9L130.9 425.78M132.98 442.09L136.61 441.78M128.67 426.9A41.43 41.43 0 0 1 132.98 442.09M148.77 456.25L153.24 457.08M148.24 458.77L152.67 459.81M148.77 456.25A58.05 58.05 0 0 1 148.24 458.77M145.93 453.24L153.69 454.34M145.3 456.84L148.52 457.51M145.93 453.24A54.77 54.77 0 0 1 145.3 456.84M147.6 461.27L151.98 462.5M146.85 463.74L151.17 465.16M147.6 461.27A58.05 58.05 0 0 1 146.85 463.74M141.31 454.29L145.65 455.05M139.88 460.27L147.24 462.51M141.31 454.29A50.36 50.36 0 0 1 139.88 460.27M138.81 450.12L154.01 451.58M137.73 456.6L140.68 457.3M138.81 450.12A47.33 47.33 0 0 1 137.73 456.6M146.82 466.49L150.24 467.78M145.83 468.91L149.19 470.36M146.82 466.49A58.94 58.94 0 0 1 145.83 468.91M142.06 465.97L146.34 467.71M140.59 469.28L148.04 472.89M142.06 465.97A54.33 54.33 0 0 1 140.59 469.28M142.85 473.25L146.77 475.37M141.58 475.5L145.39 477.78M142.85 473.25A58.15 58.15 0 0 1 141.58 475.5M139.42 480.31L142.32 482.42M137.83 482.39L140.64 484.63M139.42 480.31A59.01 59.01 0 0 1 137.83 482.39M134.68 478.35L138.64 481.36M132.4 481.14L138.86 486.77M134.68 478.35A54.03 54.03 0 0 1 132.4 481.14M134.68 474.03L143.91 480.14M131.63 478.18L133.57 479.76M134.68 474.03A51.53 51.53 0 0 1 131.63 478.18M129.44 467.1L142.23 474.38M126.68 471.34L133.21 476.14M129.44 467.1A43.44 43.44 0 0 1 126.68 471.34M132.16 487.81L135.02 490.79M130.25 489.57L132.97 492.67M132.16 487.81A58.47 58.47 0 0 1 130.25 489.57M130.36 482.51L136.98 488.82M127.82 485L131.21 488.7M130.36 482.51A53.45 53.45 0 0 1 127.82 485M123.55 466.29L128.13 469.26M118.29 472.73L129.11 483.77M123.55 466.29A37.98 37.98 0 0 1 118.29 472.73M122.76 459.39L141.35 467.64M118 467.12L121.1 469.65M122.76 459.39A33.98 33.98 0 0 1 118 467.12M121.26 450.52L138.38 453.38M117.22 461.31L120.64 463.41M121.26 450.52A29.96 29.96 0 0 1 117.22 461.31M118.12 438.1L131.56 434.29M117.42 455.23L119.76 456.11M118.12 438.1A27.46 27.46 0 0 1 117.42 455.23M101.62 426.08L108.98 411.6M113.57 446.5L119.14 446.72M101.62 426.08A21.89 21.89 0 0 1 113.57 446.5M128.22 491.2L130.83 494.46M126.16 492.77L128.63 496.15M128.22 491.2A58.42 58.42 0 0 1 126.16 492.77M125.06 489.21L127.2 492M122.09 491.33L126.34 497.74M125.06 489.21A54.91 54.91 0 0 1 122.09 491.33M119.64 497.05L121.58 500.61M117.33 498.24L119.11 501.88M119.64 497.05A58.55 58.55 0 0 1 117.33 498.24M119.36 491.54L123.99 499.23M116.24 493.28L118.49 497.66M119.36 491.54A53.63 53.63 0 0 1 116.24 493.28M120.18 485.51L123.59 490.3M115.58 488.42L117.82 492.44M120.18 485.51A49.03 49.03 0 0 1 115.58 488.42M115.01 499.42L116.58 503.04M112.6 500.41L114 504.09M115.01 499.42A58.65 58.65 0 0 1 112.6 500.41M115.66 483.46L117.92 487.03M108.59 487.1L113.81 499.93M115.66 483.46A44.81 44.81 0 0 1 108.59 487.1M107.58 501.78L108.72 505.84M105.06 502.43L106.03 506.54M107.58 501.78A58.38 58.38 0 0 1 105.06 502.43M108.44 496.14L111.38 505.03M105.03 497.14L106.32 502.12M108.44 496.14A53.24 53.24 0 0 1 105.03 497.14M105.39 492.07L106.74 496.67M100.68 493.2L103.31 507.11M105.39 492.07A48.44 48.44 0 0 1 100.68 493.2M97.46 504.41L97.8 507.9M94.84 504.61L95.03 508.11M97.46 504.41A59.09 59.09 0 0 1 94.84 504.61M95.86 500.62L96.15 504.53M92.18 500.77L92.25 508.2M95.86 500.62A55.17 55.17 0 0 1 92.18 500.77M98.54 493.43L100.56 507.57M93.73 493.87L94.02 500.73M98.54 493.43A48.32 48.32 0 0 1 93.73 493.87M95.75 489.47L96.14 493.71M90.13 489.63L89.47 508.16M95.75 489.47A44.06 44.06 0 0 1 90.13 489.63M101.19 484.97L103.05 492.69M92.84 486.08L92.94 489.64M101.19 484.97A40.5 40.5 0 0 1 92.84 486.08M108.31 477.87L112.21 485.44M96.49 481.58L97.04 485.74M108.31 477.87A36.29 36.29 0 0 1 96.49 481.58M86.98 504.42L86.69 508M84.37 504.16L83.92 507.72M86.98 504.42A59.01 59.01 0 0 1 84.37 504.16M81.85 503.31L81.17 507.31M79.3 502.82L78.44 506.78M81.85 503.31A58.55 58.55 0 0 1 79.3 502.82M86.17 499.42L85.67 504.31M81.42 498.72L80.57 503.08M86.17 499.42A54.1 54.1 0 0 1 81.42 498.72M76.79 502.15L75.74 506.13M74.29 501.43L73.06 505.36M76.79 502.15A58.48 58.48 0 0 1 74.29 501.43M71.88 500.47L70.43 504.47M69.46 499.53L67.83 503.47M71.88 500.47A58.34 58.34 0 0 1 69.46 499.53M71.81 497.04L70.66 500.01M68.43 495.6L65.29 502.35M71.81 497.04A55.15 55.15 0 0 1 68.43 495.6M77.58 494.7L75.53 501.8M71.7 492.61L70.11 496.34M77.58 494.7A51.09 51.09 0 0 1 71.7 492.61M76.11 489.52L74.61 493.74M70.18 486.94L62.79 501.12M76.11 489.52A46.61 46.61 0 0 1 70.18 486.94M62.57 495.96L60.35 499.79M60.36 494.61L57.98 498.34M62.57 495.96A58.18 58.18 0 0 1 60.36 494.61M74.95 484.08L73.1 488.33M69.88 481.45L61.46 495.3M74.95 484.08A41.97 41.97 0 0 1 69.88 481.45M57.92 493.59L55.67 496.79M55.82 492.04L53.43 495.14M57.92 493.59A58.69 58.69 0 0 1 55.82 492.04M53.88 490.3L51.27 493.39M51.93 488.58L49.18 491.55M53.88 490.3A58.56 58.56 0 0 1 51.93 488.58M59.11 489.78L56.86 492.83M55.32 486.71L52.89 489.45M59.11 489.78A54.9 54.9 0 0 1 55.32 486.71M60.68 483.96L57.18 488.28M56.61 480.29L47.18 489.61M60.68 483.96A49.34 49.34 0 0 1 56.61 480.29M75.25 477.3L72.37 482.85M67.74 472.08L58.59 482.18M75.25 477.3A35.71 35.71 0 0 1 67.74 472.08M87.53 473.81L83.79 499.12M75.43 469.02L71.33 474.93M87.53 473.81A28.52 28.52 0 0 1 75.43 469.02M97.81 465.09L102.56 480.23M84.18 464.6L81.2 472.12M97.81 465.09A20.43 20.43 0 0 1 84.18 464.6M105.72 437.39L110.59 434.54M91.11 461.84L90.95 466.02M105.72 437.39A16.25 16.25 0 0 1 91.11 461.84M80.54 445.5L64.45 445.34M101.28 451.33L105.65 453.94M80.54 445.5A11.16 11.16 0 1 1 101.28 451.33M91.7 445.6L94.72 434.85"/>
<text x="177.4" y="369.3" font-family="'Liberation Serif', 'Times New Roman', serif" font-weight="bold" font-size="12">F</text>
<line x1="211.8" y1="380" x2="211.8" y2="498.1" stroke="#a8a8a8" stroke-width="1.1"/>
<line x1="209.4" y1="497.7" x2="211.8" y2="497.7" stroke="#555" stroke-width="0.8"/>
<text x="208.6" y="500.1" font-family="'Liberation Serif', 'Times New Roman', serif" font-weight="bold" font-size="7.6" text-anchor="end">0.000</text>
<line x1="209.4" y1="478.1" x2="211.8" y2="478.1" stroke="#555" stroke-width="0.8"/>
<text x="208.6" y="480.5" font-family="'Liberation Serif', 'Times New Roman', serif" font-weight="bold" font-size="7.6" text-anchor="end">0.005</text>
<line x1="209.4" y1="458.5" x2="211.8" y2="458.5" stroke="#555" stroke-width="0.8"/>
<text x="208.6" y="460.9" font-family="'Liberation Serif', 'Times New Roman', serif" font-weight="bold" font-size="7.6" text-anchor="end">0.010</text>
<line x1="209.4" y1="438.9" x2="211.8" y2="438.9" stroke="#555" stroke-width="0.8"/>
<text x="208.6" y="441.3" font-family="'Liberation Serif', 'Times New Roman', serif" font-weight="bold" font-size="7.6" text-anchor="end">0.015</text>
<line x1="209.4" y1="419.3" x2="211.8" y2="419.3" stroke="#555" stroke-width="0.8"/>
<text x="208.6" y="421.7" font-family="'Liberation Serif', 'Times New Roman', serif" font-weight="bold" font-size="7.6" text-anchor="end">0.020</text>
<line x1="209.4" y1="399.7" x2="211.8" y2="399.7" stroke="#555" stroke-width="0.8"/>
<text x="208.6" y="402.1" font-family="'Liberation Serif', 'Times New Roman', serif" font-weight="bold" font-size="7.6" text-anchor="end">0.025</text>
<line x1="209.4" y1="380.1" x2="211.8" y2="380.1" stroke="#555" stroke-width="0.8"/>
<text x="208.6" y="382.5" font-family="'Liberation Serif', 'Times New Roman', serif" font-weight="bold" font-size="7.6" text-anchor="end">0.030</text>
<line x1="211.3" y1="502.3" x2="532.2" y2="502.3" stroke="#a8a8a8" stroke-width="1.1"/>
<line x1="211.7" y1="502.3" x2="211.7" y2="504.5" stroke="#555" stroke-width="0.7"/>
<line x1="222.45" y1="502.3" x2="222.45" y2="504.5" stroke="#555" stroke-width="0.7"/>
<line x1="239.45" y1="502.3" x2="239.45" y2="504.5" stroke="#555" stroke-width="0.7"/>
<line x1="254.8" y1="502.3" x2="254.8" y2="504.5" stroke="#555" stroke-width="0.7"/>
<line x1="269.25" y1="502.3" x2="269.25" y2="504.5" stroke="#555" stroke-width="0.7"/>
<line x1="283.7" y1="502.3" x2="283.7" y2="504.5" stroke="#555" stroke-width="0.7"/>
<line x1="298.1" y1="502.3" x2="298.1" y2="504.5" stroke="#555" stroke-width="0.7"/>
<line x1="311.75" y1="502.3" x2="311.75" y2="504.5" stroke="#555" stroke-width="0.7"/>
<line x1="325" y1="502.3" x2="325" y2="504.5" stroke="#555" stroke-width="0.7"/>
<line x1="337.5" y1="502.3" x2="337.5" y2="504.5" stroke="#555" stroke-width="0.7"/>
<line x1="349.8" y1="502.3" x2="349.8" y2="504.5" stroke="#555" stroke-width="0.7"/>
<line x1="362.8" y1="502.3" x2="362.8" y2="504.5" stroke="#555" stroke-width="0.7"/>
<line x1="374.8" y1="502.3" x2="374.8" y2="504.5" stroke="#555" stroke-width="0.7"/>
<line x1="385.85" y1="502.3" x2="385.85" y2="504.5" stroke="#555" stroke-width="0.7"/>
<line x1="397.3" y1="502.3" x2="397.3" y2="504.5" stroke="#555" stroke-width="0.7"/>
<line x1="408.6" y1="502.3" x2="408.6" y2="504.5" stroke="#555" stroke-width="0.7"/>
<line x1="419.1" y1="502.3" x2="419.1" y2="504.5" stroke="#555" stroke-width="0.7"/>
<line x1="429" y1="502.3" x2="429" y2="504.5" stroke="#555" stroke-width="0.7"/>
<line x1="438.3" y1="502.3" x2="438.3" y2="504.5" stroke="#555" stroke-width="0.7"/>
<line x1="447.3" y1="502.3" x2="447.3" y2="504.5" stroke="#555" stroke-width="0.7"/>
<line x1="456.5" y1="502.3" x2="456.5" y2="504.5" stroke="#555" stroke-width="0.7"/>
<line x1="465.85" y1="502.3" x2="465.85" y2="504.5" stroke="#555" stroke-width="0.7"/>
<line x1="474.75" y1="502.3" x2="474.75" y2="504.5" stroke="#555" stroke-width="0.7"/>
<line x1="482.9" y1="502.3" x2="482.9" y2="504.5" stroke="#555" stroke-width="0.7"/>
<line x1="490.8" y1="502.3" x2="490.8" y2="504.5" stroke="#555" stroke-width="0.7"/>
<line x1="498.7" y1="502.3" x2="498.7" y2="504.5" stroke="#555" stroke-width="0.7"/>
<line x1="505.65" y1="502.3" x2="505.65" y2="504.5" stroke="#555" stroke-width="0.7"/>
<line x1="513" y1="502.3" x2="513" y2="504.5" stroke="#555" stroke-width="0.7"/>
<line x1="519.8" y1="502.3" x2="519.8" y2="504.5" stroke="#555" stroke-width="0.7"/>
<line x1="527.1" y1="502.3" x2="527.1" y2="504.5" stroke="#555" stroke-width="0.7"/>
<line x1="532" y1="502.3" x2="532" y2="504.5" stroke="#555" stroke-width="0.7"/>
<text x="350.4" y="379.5" font-family="'Liberation Serif', 'Times New Roman', serif" font-weight="bold" font-size="9">Boer</text>
<text x="0" y="0" font-family="'Liberation Serif', 'Times New Roman', serif" font-weight="bold" font-size="8" text-anchor="middle" transform="translate(190.1 435) rotate(-90)">PI</text>
<polygon fill="#3d98da" points="213.9,497.5 213.9,481.53 214.53,476.16 215.17,477.42 215.8,476.75 216.43,475.6 217.07,475.59 217.7,477.92 218.33,477.67 218.97,478.14 219.6,476.97 220.23,478.21 220.87,476.92 221.5,476.34 222.13,477.46 222.77,476.25 223.4,476.51 224.03,478.22 224.67,476.61 225.3,477.51 225.93,477.04 226.57,477.44 227.2,476.2 227.83,476.97 228.47,477.82 229.1,476.65 229.73,475.94 230.37,477.37 231,481.53 231,497.5"/>
<path fill="#3d98da" d="M219.61 472.92a1.15 1.15 0 1 0 2.3 0a1.15 1.15 0 1 0-2.3 0M228.49 474.6a1.15 1.15 0 1 0 2.3 0a1.15 1.15 0 1 0-2.3 0M227.38 473.53a1.15 1.15 0 1 0 2.3 0a1.15 1.15 0 1 0-2.3 0M219.46 477.09a1.15 1.15 0 1 0 2.3 0a1.15 1.15 0 1 0-2.3 0M223.62 475.24a1.15 1.15 0 1 0 2.3 0a1.15 1.15 0 1 0-2.3 0M219.21 476.71a1.15 1.15 0 1 0 2.3 0a1.15 1.15 0 1 0-2.3 0M219.89 475.69a1.15 1.15 0 1 0 2.3 0a1.15 1.15 0 1 0-2.3 0M217.82 476.47a1.15 1.15 0 1 0 2.3 0a1.15 1.15 0 1 0-2.3 0M220.66 473.43a1.15 1.15 0 1 0 2.3 0a1.15 1.15 0 1 0-2.3 0M222.6 476.5a1.15 1.15 0 1 0 2.3 0a1.15 1.15 0 1 0-2.3 0M217.95 475.76a1.15 1.15 0 1 0 2.3 0a1.15 1.15 0 1 0-2.3 0M216.85 476.79a1.15 1.15 0 1 0 2.3 0a1.15 1.15 0 1 0-2.3 0M221.51 477.1a1.15 1.15 0 1 0 2.3 0a1.15 1.15 0 1 0-2.3 0M221.05 476.18a1.15 1.15 0 1 0 2.3 0a1.15 1.15 0 1 0-2.3 0M224.44 474.16a1.15 1.15 0 1 0 2.3 0a1.15 1.15 0 1 0-2.3 0M224.19 474.5a1.15 1.15 0 1 0 2.3 0a1.15 1.15 0 1 0-2.3 0M219.39 474.63a1.15 1.15 0 1 0 2.3 0a1.15 1.15 0 1 0-2.3 0M218.88 475.16a1.15 1.15 0 1 0 2.3 0a1.15 1.15 0 1 0-2.3 0M218.67 475.81a1.15 1.15 0 1 0 2.3 0a1.15 1.15 0 1 0-2.3 0M214.68 476.65a1.15 1.15 0 1 0 2.3 0a1.15 1.15 0 1 0-2.3 0M228.42 476.69a1.15 1.15 0 1 0 2.3 0a1.15 1.15 0 1 0-2.3 0M224.19 474.73a1.15 1.15 0 1 0 2.3 0a1.15 1.15 0 1 0-2.3 0M214.85 471.04a1.15 1.15 0 1 0 2.3 0a1.15 1.15 0 1 0-2.3 0M215.59 473.47a1.15 1.15 0 1 0 2.3 0a1.15 1.15 0 1 0-2.3 0M214.66 476.12a1.15 1.15 0 1 0 2.3 0a1.15 1.15 0 1 0-2.3 0M214.72 476.11a1.15 1.15 0 1 0 2.3 0a1.15 1.15 0 1 0-2.3 0M224.85 471.83a1.15 1.15 0 1 0 2.3 0a1.15 1.15 0 1 0-2.3 0M224.74 476.1a1.15 1.15 0 1 0 2.3 0a1.15 1.15 0 1 0-2.3 0M224.45 476.07a1.15 1.15 0 1 0 2.3 0a1.15 1.15 0 1 0-2.3 0M224.92 472.23a1.15 1.15 0 1 0 2.3 0a1.15 1.15 0 1 0-2.3 0"/>
<polygon fill="#f5b81c" points="231.6,497.5 231.6,484.47 232.23,480.49 232.86,480.08 233.48,481.17 234.11,479.54 234.74,479.75 235.37,480.03 236,480.64 236.62,479.74 237.25,479.98 237.88,480.19 238.51,479.57 239.14,480.26 239.76,480.92 240.39,480.46 241.02,481.34 241.65,481.35 242.28,480.03 242.9,479.89 243.53,479.42 244.16,479.72 244.79,480.48 245.42,481.6 246.04,480.62 246.67,479.53 247.3,484.47 247.3,497.5"/>
<path fill="#f5b81c" d="M238.1 479.75a1.15 1.15 0 1 0 2.3 0a1.15 1.15 0 1 0-2.3 0M234.44 480.65a1.15 1.15 0 1 0 2.3 0a1.15 1.15 0 1 0-2.3 0M232.46 477.67a1.15 1.15 0 1 0 2.3 0a1.15 1.15 0 1 0-2.3 0M240.22 480.73a1.15 1.15 0 1 0 2.3 0a1.15 1.15 0 1 0-2.3 0M237.12 480.9a1.15 1.15 0 1 0 2.3 0a1.15 1.15 0 1 0-2.3 0M234.32 478.52a1.15 1.15 0 1 0 2.3 0a1.15 1.15 0 1 0-2.3 0M240.37 479.66a1.15 1.15 0 1 0 2.3 0a1.15 1.15 0 1 0-2.3 0M235.21 478.9a1.15 1.15 0 1 0 2.3 0a1.15 1.15 0 1 0-2.3 0M244.55 479.83a1.15 1.15 0 1 0 2.3 0a1.15 1.15 0 1 0-2.3 0M232.41 480.89a1.15 1.15 0 1 0 2.3 0a1.15 1.15 0 1 0-2.3 0M232.59 477.29a1.15 1.15 0 1 0 2.3 0a1.15 1.15 0 1 0-2.3 0M238.86 477.97a1.15 1.15 0 1 0 2.3 0a1.15 1.15 0 1 0-2.3 0M233.78 480.43a1.15 1.15 0 1 0 2.3 0a1.15 1.15 0 1 0-2.3 0M240.93 477.65a1.15 1.15 0 1 0 2.3 0a1.15 1.15 0 1 0-2.3 0M236.12 480.88a1.15 1.15 0 1 0 2.3 0a1.15 1.15 0 1 0-2.3 0M243.29 480.33a1.15 1.15 0 1 0 2.3 0a1.15 1.15 0 1 0-2.3 0M241.6 480.7a1.15 1.15 0 1 0 2.3 0a1.15 1.15 0 1 0-2.3 0M240.97 477.95a1.15 1.15 0 1 0 2.3 0a1.15 1.15 0 1 0-2.3 0M241.41 480.11a1.15 1.15 0 1 0 2.3 0a1.15 1.15 0 1 0-2.3 0M241.41 480.74a1.15 1.15 0 1 0 2.3 0a1.15 1.15 0 1 0-2.3 0M244.85 469.48a1.15 1.15 0 1 0 2.3 0a1.15 1.15 0 1 0-2.3 0M245.15 479.02a1.15 1.15 0 1 0 2.3 0a1.15 1.15 0 1 0-2.3 0M244.79 479.81a1.15 1.15 0 1 0 2.3 0a1.15 1.15 0 1 0-2.3 0M244.49 471.86a1.15 1.15 0 1 0 2.3 0a1.15 1.15 0 1 0-2.3 0M244.69 479.45a1.15 1.15 0 1 0 2.3 0a1.15 1.15 0 1 0-2.3 0M244.3 472.81a1.15 1.15 0 1 0 2.3 0a1.15 1.15 0 1 0-2.3 0"/>
<polygon fill="#3f2e98" points="247.6,497.5 247.6,483 248.23,477.67 248.85,479.81 249.48,479.47 250.1,477.78 250.73,477.73 251.36,479.2 251.98,479.29 252.61,478.88 253.23,478.58 253.86,479.8 254.49,477.76 255.11,478.59 255.74,477.93 256.37,479.43 256.99,477.41 257.62,478 258.24,479.12 258.87,477.46 259.5,478.14 260.12,477.75 260.75,479.94 261.37,479.91 262,483 262,497.5"/>
<path fill="#3f2e98" d="M251.23 477.48a1.15 1.15 0 1 0 2.3 0a1.15 1.15 0 1 0-2.3 0M249.39 474.91a1.15 1.15 0 1 0 2.3 0a1.15 1.15 0 1 0-2.3 0M253.68 475.83a1.15 1.15 0 1 0 2.3 0a1.15 1.15 0 1 0-2.3 0M248.37 477.65a1.15 1.15 0 1 0 2.3 0a1.15 1.15 0 1 0-2.3 0M248.22 475.49a1.15 1.15 0 1 0 2.3 0a1.15 1.15 0 1 0-2.3 0M252.98 479a1.15 1.15 0 1 0 2.3 0a1.15 1.15 0 1 0-2.3 0M248.4 477.37a1.15 1.15 0 1 0 2.3 0a1.15 1.15 0 1 0-2.3 0M248.39 478.74a1.15 1.15 0 1 0 2.3 0a1.15 1.15 0 1 0-2.3 0M252.86 477.57a1.15 1.15 0 1 0 2.3 0a1.15 1.15 0 1 0-2.3 0M254.68 476.97a1.15 1.15 0 1 0 2.3 0a1.15 1.15 0 1 0-2.3 0M252.07 476.98a1.15 1.15 0 1 0 2.3 0a1.15 1.15 0 1 0-2.3 0M249.4 478.46a1.15 1.15 0 1 0 2.3 0a1.15 1.15 0 1 0-2.3 0M257.35 478.82a1.15 1.15 0 1 0 2.3 0a1.15 1.15 0 1 0-2.3 0M250.22 478.56a1.15 1.15 0 1 0 2.3 0a1.15 1.15 0 1 0-2.3 0M253.4 479.08a1.15 1.15 0 1 0 2.3 0a1.15 1.15 0 1 0-2.3 0M247.83 477.73a1.15 1.15 0 1 0 2.3 0a1.15 1.15 0 1 0-2.3 0M249.47 476.66a1.15 1.15 0 1 0 2.3 0a1.15 1.15 0 1 0-2.3 0M257.31 477.18a1.15 1.15 0 1 0 2.3 0a1.15 1.15 0 1 0-2.3 0M254.05 398.13a1.15 1.15 0 1 0 2.3 0a1.15 1.15 0 1 0-2.3 0M254 439.5a1.15 1.15 0 1 0 2.3 0a1.15 1.15 0 1 0-2.3 0M254.03 465.88a1.15 1.15 0 1 0 2.3 0a1.15 1.15 0 1 0-2.3 0M253.87 467.03a1.15 1.15 0 1 0 2.3 0a1.15 1.15 0 1 0-2.3 0M253.94 449.6a1.15 1.15 0 1 0 2.3 0a1.15 1.15 0 1 0-2.3 0M253.9 425.01a1.15 1.15 0 1 0 2.3 0a1.15 1.15 0 1 0-2.3 0M254.25 472.51a1.15 1.15 0 1 0 2.3 0a1.15 1.15 0 1 0-2.3 0M254.01 472.03a1.15 1.15 0 1 0 2.3 0a1.15 1.15 0 1 0-2.3 0M254.22 476.41a1.15 1.15 0 1 0 2.3 0a1.15 1.15 0 1 0-2.3 0M254.58 448.19a1.15 1.15 0 1 0 2.3 0a1.15 1.15 0 1 0-2.3 0M254.3 477.96a1.15 1.15 0 1 0 2.3 0a1.15 1.15 0 1 0-2.3 0M253.75 477.8a1.15 1.15 0 1 0 2.3 0a1.15 1.15 0 1 0-2.3 0M254.57 471.16a1.15 1.15 0 1 0 2.3 0a1.15 1.15 0 1 0-2.3 0M254.01 446.09a1.15 1.15 0 1 0 2.3 0a1.15 1.15 0 1 0-2.3 0M253.98 460.76a1.15 1.15 0 1 0 2.3 0a1.15 1.15 0 1 0-2.3 0M254.13 423.22a1.15 1.15 0 1 0 2.3 0a1.15 1.15 0 1 0-2.3 0M254.17 477.96a1.15 1.15 0 1 0 2.3 0a1.15 1.15 0 1 0-2.3 0M254.3 462.2a1.15 1.15 0 1 0 2.3 0a1.15 1.15 0 1 0-2.3 0M254.5 442.03a1.15 1.15 0 1 0 2.3 0a1.15 1.15 0 1 0-2.3 0M253.99 477.07a1.15 1.15 0 1 0 2.3 0a1.15 1.15 0 1 0-2.3 0M253.84 457.45a1.15 1.15 0 1 0 2.3 0a1.15 1.15 0 1 0-2.3 0M253.81 412.75a1.15 1.15 0 1 0 2.3 0a1.15 1.15 0 1 0-2.3 0M254.08 468.55a1.15 1.15 0 1 0 2.3 0a1.15 1.15 0 1 0-2.3 0M253.98 464.37a1.15 1.15 0 1 0 2.3 0a1.15 1.15 0 1 0-2.3 0M254.08 434.86a1.15 1.15 0 1 0 2.3 0a1.15 1.15 0 1 0-2.3 0M253 464.16a1.15 1.15 0 1 0 2.3 0a1.15 1.15 0 1 0-2.3 0M254.14 471.35a1.15 1.15 0 1 0 2.3 0a1.15 1.15 0 1 0-2.3 0M258.35 464.38a1.15 1.15 0 1 0 2.3 0a1.15 1.15 0 1 0-2.3 0M258.56 469.56a1.15 1.15 0 1 0 2.3 0a1.15 1.15 0 1 0-2.3 0M258.43 467.09a1.15 1.15 0 1 0 2.3 0a1.15 1.15 0 1 0-2.3 0M258.3 467.89a1.15 1.15 0 1 0 2.3 0a1.15 1.15 0 1 0-2.3 0M258.06 474.59a1.15 1.15 0 1 0 2.3 0a1.15 1.15 0 1 0-2.3 0M258.4 470.13a1.15 1.15 0 1 0 2.3 0a1.15 1.15 0 1 0-2.3 0M249.85 470.26a1.15 1.15 0 1 0 2.3 0a1.15 1.15 0 1 0-2.3 0M249.53 477.86a1.15 1.15 0 1 0 2.3 0a1.15 1.15 0 1 0-2.3 0M249.88 478.06a1.15 1.15 0 1 0 2.3 0a1.15 1.15 0 1 0-2.3 0M250.46 475.19a1.15 1.15 0 1 0 2.3 0a1.15 1.15 0 1 0-2.3 0M249.82 473.2a1.15 1.15 0 1 0 2.3 0a1.15 1.15 0 1 0-2.3 0"/>
<polygon fill="#455423" points="262.5,497.5 262.5,483 263.14,479.83 263.79,478.33 264.43,478.48 265.07,478.27 265.71,478.57 266.36,478.53 267,477.68 267.64,478.82 268.29,478.59 268.93,478.16 269.57,479.81 270.21,478.87 270.86,479.78 271.5,479.68 272.14,480.05 272.79,479.48 273.43,479.47 274.07,478.64 274.71,478.5 275.36,477.8 276,483 276,497.5"/>
<path fill="#455423" d="M272.6 478.01a1.15 1.15 0 1 0 2.3 0a1.15 1.15 0 1 0-2.3 0M270.91 477.31a1.15 1.15 0 1 0 2.3 0a1.15 1.15 0 1 0-2.3 0M269.52 478.47a1.15 1.15 0 1 0 2.3 0a1.15 1.15 0 1 0-2.3 0M273.13 476.17a1.15 1.15 0 1 0 2.3 0a1.15 1.15 0 1 0-2.3 0M264.02 477.38a1.15 1.15 0 1 0 2.3 0a1.15 1.15 0 1 0-2.3 0M273.8 479.03a1.15 1.15 0 1 0 2.3 0a1.15 1.15 0 1 0-2.3 0M265.83 476.33a1.15 1.15 0 1 0 2.3 0a1.15 1.15 0 1 0-2.3 0M262.8 476.3a1.15 1.15 0 1 0 2.3 0a1.15 1.15 0 1 0-2.3 0M268.94 476.38a1.15 1.15 0 1 0 2.3 0a1.15 1.15 0 1 0-2.3 0M268.68 475.15a1.15 1.15 0 1 0 2.3 0a1.15 1.15 0 1 0-2.3 0M266.33 477.2a1.15 1.15 0 1 0 2.3 0a1.15 1.15 0 1 0-2.3 0M262.93 477.3a1.15 1.15 0 1 0 2.3 0a1.15 1.15 0 1 0-2.3 0M267.17 474.88a1.15 1.15 0 1 0 2.3 0a1.15 1.15 0 1 0-2.3 0M273.22 478.86a1.15 1.15 0 1 0 2.3 0a1.15 1.15 0 1 0-2.3 0M262.83 478.9a1.15 1.15 0 1 0 2.3 0a1.15 1.15 0 1 0-2.3 0M264.57 476.41a1.15 1.15 0 1 0 2.3 0a1.15 1.15 0 1 0-2.3 0M268.61 477.39a1.15 1.15 0 1 0 2.3 0a1.15 1.15 0 1 0-2.3 0M262.75 444a1.15 1.15 0 1 0 2.3 0a1.15 1.15 0 1 0-2.3 0M262.35 470.74a1.15 1.15 0 1 0 2.3 0a1.15 1.15 0 1 0-2.3 0M262.85 449.2a1.15 1.15 0 1 0 2.3 0a1.15 1.15 0 1 0-2.3 0M262.38 471.96a1.15 1.15 0 1 0 2.3 0a1.15 1.15 0 1 0-2.3 0M262.9 474.43a1.15 1.15 0 1 0 2.3 0a1.15 1.15 0 1 0-2.3 0M262.66 474.04a1.15 1.15 0 1 0 2.3 0a1.15 1.15 0 1 0-2.3 0M262.73 463.23a1.15 1.15 0 1 0 2.3 0a1.15 1.15 0 1 0-2.3 0M263.24 477.11a1.15 1.15 0 1 0 2.3 0a1.15 1.15 0 1 0-2.3 0M263.17 461.49a1.15 1.15 0 1 0 2.3 0a1.15 1.15 0 1 0-2.3 0M263.05 475.19a1.15 1.15 0 1 0 2.3 0a1.15 1.15 0 1 0-2.3 0M262.51 472.96a1.15 1.15 0 1 0 2.3 0a1.15 1.15 0 1 0-2.3 0M262.65 477.31a1.15 1.15 0 1 0 2.3 0a1.15 1.15 0 1 0-2.3 0M262.94 473.13a1.15 1.15 0 1 0 2.3 0a1.15 1.15 0 1 0-2.3 0M263.26 445.45a1.15 1.15 0 1 0 2.3 0a1.15 1.15 0 1 0-2.3 0M262.6 472.3a1.15 1.15 0 1 0 2.3 0a1.15 1.15 0 1 0-2.3 0M262.7 449.64a1.15 1.15 0 1 0 2.3 0a1.15 1.15 0 1 0-2.3 0M263.29 477.86a1.15 1.15 0 1 0 2.3 0a1.15 1.15 0 1 0-2.3 0M262.2 473.59a1.15 1.15 0 1 0 2.3 0a1.15 1.15 0 1 0-2.3 0M262.73 468.35a1.15 1.15 0 1 0 2.3 0a1.15 1.15 0 1 0-2.3 0M263.74 476.6a1.15 1.15 0 1 0 2.3 0a1.15 1.15 0 1 0-2.3 0M262.55 462.64a1.15 1.15 0 1 0 2.3 0a1.15 1.15 0 1 0-2.3 0M262.59 459.15a1.15 1.15 0 1 0 2.3 0a1.15 1.15 0 1 0-2.3 0M263.24 471.01a1.15 1.15 0 1 0 2.3 0a1.15 1.15 0 1 0-2.3 0M263.15 452.08a1.15 1.15 0 1 0 2.3 0a1.15 1.15 0 1 0-2.3 0M262.52 444.4a1.15 1.15 0 1 0 2.3 0a1.15 1.15 0 1 0-2.3 0M262.19 448.93a1.15 1.15 0 1 0 2.3 0a1.15 1.15 0 1 0-2.3 0M262.89 464.89a1.15 1.15 0 1 0 2.3 0a1.15 1.15 0 1 0-2.3 0M262.12 462.13a1.15 1.15 0 1 0 2.3 0a1.15 1.15 0 1 0-2.3 0M262.86 471.03a1.15 1.15 0 1 0 2.3 0a1.15 1.15 0 1 0-2.3 0M262.52 477.87a1.15 1.15 0 1 0 2.3 0a1.15 1.15 0 1 0-2.3 0M262.62 462.95a1.15 1.15 0 1 0 2.3 0a1.15 1.15 0 1 0-2.3 0M262.52 446.72a1.15 1.15 0 1 0 2.3 0a1.15 1.15 0 1 0-2.3 0M263.14 469.37a1.15 1.15 0 1 0 2.3 0a1.15 1.15 0 1 0-2.3 0M262.92 477.97a1.15 1.15 0 1 0 2.3 0a1.15 1.15 0 1 0-2.3 0M262.48 465.61a1.15 1.15 0 1 0 2.3 0a1.15 1.15 0 1 0-2.3 0M262.72 453.26a1.15 1.15 0 1 0 2.3 0a1.15 1.15 0 1 0-2.3 0M262.85 464.98a1.15 1.15 0 1 0 2.3 0a1.15 1.15 0 1 0-2.3 0M262.01 471.27a1.15 1.15 0 1 0 2.3 0a1.15 1.15 0 1 0-2.3 0M262.79 445.52a1.15 1.15 0 1 0 2.3 0a1.15 1.15 0 1 0-2.3 0M262.88 464.84a1.15 1.15 0 1 0 2.3 0a1.15 1.15 0 1 0-2.3 0M262.51 446.29a1.15 1.15 0 1 0 2.3 0a1.15 1.15 0 1 0-2.3 0M272.85 468.3a1.15 1.15 0 1 0 2.3 0a1.15 1.15 0 1 0-2.3 0M272.76 470.25a1.15 1.15 0 1 0 2.3 0a1.15 1.15 0 1 0-2.3 0M272.86 471.74a1.15 1.15 0 1 0 2.3 0a1.15 1.15 0 1 0-2.3 0M272.7 469.59a1.15 1.15 0 1 0 2.3 0a1.15 1.15 0 1 0-2.3 0"/>
<rect x="263.1" y="445.7" width="1.6" height="32.4" fill="#455423"/>
<polygon fill="#e0197f" points="276.6,497.5 276.6,481.53 277.25,476.05 277.89,477.97 278.54,475.93 279.18,476.79 279.83,478.08 280.47,475.81 281.12,477.11 281.76,477.97 282.41,477.77 283.05,475.7 283.7,477.77 284.35,475.93 284.99,475.87 285.64,478.03 286.28,476.98 286.93,475.92 287.57,476.82 288.22,475.68 288.86,477.15 289.51,476.4 290.15,477.65 290.8,481.53 290.8,497.5"/>
<path fill="#e0197f" d="M286.69 475.2a1.15 1.15 0 1 0 2.3 0a1.15 1.15 0 1 0-2.3 0M280.39 476.25a1.15 1.15 0 1 0 2.3 0a1.15 1.15 0 1 0-2.3 0M283.71 477a1.15 1.15 0 1 0 2.3 0a1.15 1.15 0 1 0-2.3 0M282.68 476.46a1.15 1.15 0 1 0 2.3 0a1.15 1.15 0 1 0-2.3 0M280.62 476.35a1.15 1.15 0 1 0 2.3 0a1.15 1.15 0 1 0-2.3 0M286.63 476.87a1.15 1.15 0 1 0 2.3 0a1.15 1.15 0 1 0-2.3 0M279.33 476.9a1.15 1.15 0 1 0 2.3 0a1.15 1.15 0 1 0-2.3 0M276.63 475.9a1.15 1.15 0 1 0 2.3 0a1.15 1.15 0 1 0-2.3 0M286.75 473.15a1.15 1.15 0 1 0 2.3 0a1.15 1.15 0 1 0-2.3 0M282.4 475.92a1.15 1.15 0 1 0 2.3 0a1.15 1.15 0 1 0-2.3 0M287.04 475.4a1.15 1.15 0 1 0 2.3 0a1.15 1.15 0 1 0-2.3 0M283.14 474.74a1.15 1.15 0 1 0 2.3 0a1.15 1.15 0 1 0-2.3 0M277.42 473.58a1.15 1.15 0 1 0 2.3 0a1.15 1.15 0 1 0-2.3 0M277.74 475.38a1.15 1.15 0 1 0 2.3 0a1.15 1.15 0 1 0-2.3 0M287.75 475.29a1.15 1.15 0 1 0 2.3 0a1.15 1.15 0 1 0-2.3 0M280.62 474.28a1.15 1.15 0 1 0 2.3 0a1.15 1.15 0 1 0-2.3 0M287.44 474.92a1.15 1.15 0 1 0 2.3 0a1.15 1.15 0 1 0-2.3 0M277.13 473.31a1.15 1.15 0 1 0 2.3 0a1.15 1.15 0 1 0-2.3 0M286.35 450.66a1.15 1.15 0 1 0 2.3 0a1.15 1.15 0 1 0-2.3 0M286.84 476.13a1.15 1.15 0 1 0 2.3 0a1.15 1.15 0 1 0-2.3 0M286.91 464.42a1.15 1.15 0 1 0 2.3 0a1.15 1.15 0 1 0-2.3 0M286.43 475.36a1.15 1.15 0 1 0 2.3 0a1.15 1.15 0 1 0-2.3 0M286.24 474.61a1.15 1.15 0 1 0 2.3 0a1.15 1.15 0 1 0-2.3 0M286.15 461.79a1.15 1.15 0 1 0 2.3 0a1.15 1.15 0 1 0-2.3 0M286.57 463.88a1.15 1.15 0 1 0 2.3 0a1.15 1.15 0 1 0-2.3 0M286.71 460.07a1.15 1.15 0 1 0 2.3 0a1.15 1.15 0 1 0-2.3 0M286.23 475.57a1.15 1.15 0 1 0 2.3 0a1.15 1.15 0 1 0-2.3 0M286.36 469.98a1.15 1.15 0 1 0 2.3 0a1.15 1.15 0 1 0-2.3 0M285.79 458.01a1.15 1.15 0 1 0 2.3 0a1.15 1.15 0 1 0-2.3 0M286.27 474.22a1.15 1.15 0 1 0 2.3 0a1.15 1.15 0 1 0-2.3 0M286.11 472.19a1.15 1.15 0 1 0 2.3 0a1.15 1.15 0 1 0-2.3 0M286.64 471.32a1.15 1.15 0 1 0 2.3 0a1.15 1.15 0 1 0-2.3 0M286.65 462.82a1.15 1.15 0 1 0 2.3 0a1.15 1.15 0 1 0-2.3 0M282.85 463.2a1.15 1.15 0 1 0 2.3 0a1.15 1.15 0 1 0-2.3 0M283.2 473.06a1.15 1.15 0 1 0 2.3 0a1.15 1.15 0 1 0-2.3 0M282.84 475.87a1.15 1.15 0 1 0 2.3 0a1.15 1.15 0 1 0-2.3 0M282.9 467.63a1.15 1.15 0 1 0 2.3 0a1.15 1.15 0 1 0-2.3 0M282.37 476.14a1.15 1.15 0 1 0 2.3 0a1.15 1.15 0 1 0-2.3 0M282.75 469.9a1.15 1.15 0 1 0 2.3 0a1.15 1.15 0 1 0-2.3 0M283.4 470.45a1.15 1.15 0 1 0 2.3 0a1.15 1.15 0 1 0-2.3 0"/>
<polygon fill="#ee7020" points="291.2,497.5 291.2,481.53 291.83,478.01 292.45,476.6 293.08,476.26 293.71,476.38 294.34,477.5 294.96,475.66 295.59,477.55 296.22,475.75 296.85,476.88 297.47,477.86 298.1,475.81 298.73,478.06 299.35,475.9 299.98,476.48 300.61,475.65 301.24,475.87 301.86,477.08 302.49,477.89 303.12,477.49 303.75,478.29 304.37,476.32 305,481.53 305,497.5"/>
<path fill="#ee7020" d="M293.17 476.64a1.15 1.15 0 1 0 2.3 0a1.15 1.15 0 1 0-2.3 0M295.84 474.52a1.15 1.15 0 1 0 2.3 0a1.15 1.15 0 1 0-2.3 0M296.29 475.52a1.15 1.15 0 1 0 2.3 0a1.15 1.15 0 1 0-2.3 0M292.15 476.29a1.15 1.15 0 1 0 2.3 0a1.15 1.15 0 1 0-2.3 0M293.49 474.2a1.15 1.15 0 1 0 2.3 0a1.15 1.15 0 1 0-2.3 0M291.26 474.92a1.15 1.15 0 1 0 2.3 0a1.15 1.15 0 1 0-2.3 0M299.29 475.52a1.15 1.15 0 1 0 2.3 0a1.15 1.15 0 1 0-2.3 0M291.57 476.62a1.15 1.15 0 1 0 2.3 0a1.15 1.15 0 1 0-2.3 0M293.86 476.56a1.15 1.15 0 1 0 2.3 0a1.15 1.15 0 1 0-2.3 0M294.16 472.67a1.15 1.15 0 1 0 2.3 0a1.15 1.15 0 1 0-2.3 0M300.39 473.23a1.15 1.15 0 1 0 2.3 0a1.15 1.15 0 1 0-2.3 0M299.47 476.25a1.15 1.15 0 1 0 2.3 0a1.15 1.15 0 1 0-2.3 0M302.16 475.62a1.15 1.15 0 1 0 2.3 0a1.15 1.15 0 1 0-2.3 0M293.24 474.26a1.15 1.15 0 1 0 2.3 0a1.15 1.15 0 1 0-2.3 0M294.11 473.68a1.15 1.15 0 1 0 2.3 0a1.15 1.15 0 1 0-2.3 0M299.79 476.48a1.15 1.15 0 1 0 2.3 0a1.15 1.15 0 1 0-2.3 0M296.47 474.35a1.15 1.15 0 1 0 2.3 0a1.15 1.15 0 1 0-2.3 0M294.85 466.73a1.15 1.15 0 1 0 2.3 0a1.15 1.15 0 1 0-2.3 0M294.75 471.94a1.15 1.15 0 1 0 2.3 0a1.15 1.15 0 1 0-2.3 0M294.65 473.53a1.15 1.15 0 1 0 2.3 0a1.15 1.15 0 1 0-2.3 0M294.53 471.6a1.15 1.15 0 1 0 2.3 0a1.15 1.15 0 1 0-2.3 0M295.14 474.18a1.15 1.15 0 1 0 2.3 0a1.15 1.15 0 1 0-2.3 0M300.85 468.3a1.15 1.15 0 1 0 2.3 0a1.15 1.15 0 1 0-2.3 0M301.19 475.15a1.15 1.15 0 1 0 2.3 0a1.15 1.15 0 1 0-2.3 0M300.52 476.06a1.15 1.15 0 1 0 2.3 0a1.15 1.15 0 1 0-2.3 0M301.26 473.64a1.15 1.15 0 1 0 2.3 0a1.15 1.15 0 1 0-2.3 0"/>
<polygon fill="#d98ac2" points="305.5,497.5 305.5,483 306.16,479.66 306.82,478.9 307.47,478.22 308.13,479.74 308.79,477.93 309.45,477.72 310.11,478.21 310.76,478 311.42,479.41 312.08,479.78 312.74,479.16 313.39,479.72 314.05,478.92 314.71,477.97 315.37,479.29 316.03,477.71 316.68,478.82 317.34,479.62 318,483 318,497.5"/>
<path fill="#d98ac2" d="M309.95 478.26a1.15 1.15 0 1 0 2.3 0a1.15 1.15 0 1 0-2.3 0M310.77 474.83a1.15 1.15 0 1 0 2.3 0a1.15 1.15 0 1 0-2.3 0M313.24 478.39a1.15 1.15 0 1 0 2.3 0a1.15 1.15 0 1 0-2.3 0M315.09 478.74a1.15 1.15 0 1 0 2.3 0a1.15 1.15 0 1 0-2.3 0M309.64 478.1a1.15 1.15 0 1 0 2.3 0a1.15 1.15 0 1 0-2.3 0M315.7 479.08a1.15 1.15 0 1 0 2.3 0a1.15 1.15 0 1 0-2.3 0M312.17 477.52a1.15 1.15 0 1 0 2.3 0a1.15 1.15 0 1 0-2.3 0M306.99 476.86a1.15 1.15 0 1 0 2.3 0a1.15 1.15 0 1 0-2.3 0M313.83 476.18a1.15 1.15 0 1 0 2.3 0a1.15 1.15 0 1 0-2.3 0M306.17 476.02a1.15 1.15 0 1 0 2.3 0a1.15 1.15 0 1 0-2.3 0M308.98 475.69a1.15 1.15 0 1 0 2.3 0a1.15 1.15 0 1 0-2.3 0M311.25 478.98a1.15 1.15 0 1 0 2.3 0a1.15 1.15 0 1 0-2.3 0M313.17 477.26a1.15 1.15 0 1 0 2.3 0a1.15 1.15 0 1 0-2.3 0M310.09 476.88a1.15 1.15 0 1 0 2.3 0a1.15 1.15 0 1 0-2.3 0M310.01 479.05a1.15 1.15 0 1 0 2.3 0a1.15 1.15 0 1 0-2.3 0M314.93 478.41a1.15 1.15 0 1 0 2.3 0a1.15 1.15 0 1 0-2.3 0M315.15 450.66a1.15 1.15 0 1 0 2.3 0a1.15 1.15 0 1 0-2.3 0M315.13 475.96a1.15 1.15 0 1 0 2.3 0a1.15 1.15 0 1 0-2.3 0M315.41 459.91a1.15 1.15 0 1 0 2.3 0a1.15 1.15 0 1 0-2.3 0M314.7 475.13a1.15 1.15 0 1 0 2.3 0a1.15 1.15 0 1 0-2.3 0M314.9 475.71a1.15 1.15 0 1 0 2.3 0a1.15 1.15 0 1 0-2.3 0M315.01 469.46a1.15 1.15 0 1 0 2.3 0a1.15 1.15 0 1 0-2.3 0M315.09 465.03a1.15 1.15 0 1 0 2.3 0a1.15 1.15 0 1 0-2.3 0M314.79 475.49a1.15 1.15 0 1 0 2.3 0a1.15 1.15 0 1 0-2.3 0M315.03 478.03a1.15 1.15 0 1 0 2.3 0a1.15 1.15 0 1 0-2.3 0M315.36 466.35a1.15 1.15 0 1 0 2.3 0a1.15 1.15 0 1 0-2.3 0M315.11 478.09a1.15 1.15 0 1 0 2.3 0a1.15 1.15 0 1 0-2.3 0M315.15 459.43a1.15 1.15 0 1 0 2.3 0a1.15 1.15 0 1 0-2.3 0M315.05 474.67a1.15 1.15 0 1 0 2.3 0a1.15 1.15 0 1 0-2.3 0M315.17 475.32a1.15 1.15 0 1 0 2.3 0a1.15 1.15 0 1 0-2.3 0M315.27 454.55a1.15 1.15 0 1 0 2.3 0a1.15 1.15 0 1 0-2.3 0"/>
<polygon fill="#80d2a6" points="318.6,497.5 318.6,481.82 319.24,477.64 319.88,476.71 320.52,478.07 321.16,477.57 321.8,476.62 322.44,476.96 323.08,478.4 323.72,478.42 324.36,476.36 325,476.57 325.64,476.73 326.28,477.99 326.92,476.33 327.56,476.94 328.2,478.21 328.84,478.16 329.48,476.81 330.12,475.75 330.76,476.91 331.4,481.82 331.4,497.5"/>
<path fill="#80d2a6" d="M326.18 477.16a1.15 1.15 0 1 0 2.3 0a1.15 1.15 0 1 0-2.3 0M325.38 476.35a1.15 1.15 0 1 0 2.3 0a1.15 1.15 0 1 0-2.3 0M318.78 475.86a1.15 1.15 0 1 0 2.3 0a1.15 1.15 0 1 0-2.3 0M323.93 473.53a1.15 1.15 0 1 0 2.3 0a1.15 1.15 0 1 0-2.3 0M326.13 476.81a1.15 1.15 0 1 0 2.3 0a1.15 1.15 0 1 0-2.3 0M325.42 477.01a1.15 1.15 0 1 0 2.3 0a1.15 1.15 0 1 0-2.3 0M325.51 475.42a1.15 1.15 0 1 0 2.3 0a1.15 1.15 0 1 0-2.3 0M325.09 477.29a1.15 1.15 0 1 0 2.3 0a1.15 1.15 0 1 0-2.3 0M326.13 475.75a1.15 1.15 0 1 0 2.3 0a1.15 1.15 0 1 0-2.3 0M326.47 477.55a1.15 1.15 0 1 0 2.3 0a1.15 1.15 0 1 0-2.3 0M326.37 473.28a1.15 1.15 0 1 0 2.3 0a1.15 1.15 0 1 0-2.3 0M324.78 477.35a1.15 1.15 0 1 0 2.3 0a1.15 1.15 0 1 0-2.3 0M328.43 475.66a1.15 1.15 0 1 0 2.3 0a1.15 1.15 0 1 0-2.3 0M321.45 475.31a1.15 1.15 0 1 0 2.3 0a1.15 1.15 0 1 0-2.3 0M327.73 477.42a1.15 1.15 0 1 0 2.3 0a1.15 1.15 0 1 0-2.3 0M324.49 475.25a1.15 1.15 0 1 0 2.3 0a1.15 1.15 0 1 0-2.3 0M321.05 459.28a1.15 1.15 0 1 0 2.3 0a1.15 1.15 0 1 0-2.3 0M321.05 461.74a1.15 1.15 0 1 0 2.3 0a1.15 1.15 0 1 0-2.3 0M320.88 467.27a1.15 1.15 0 1 0 2.3 0a1.15 1.15 0 1 0-2.3 0M325.15 472.22a1.15 1.15 0 1 0 2.3 0a1.15 1.15 0 1 0-2.3 0M325.27 474.66a1.15 1.15 0 1 0 2.3 0a1.15 1.15 0 1 0-2.3 0M325.42 474.81a1.15 1.15 0 1 0 2.3 0a1.15 1.15 0 1 0-2.3 0"/>
<polygon fill="#8b1a36" points="332,497.5 332,482.41 332.65,478.88 333.29,476.92 333.94,477.88 334.59,479.29 335.24,477.01 335.88,477.39 336.53,477.48 337.18,479.21 337.82,477.34 338.47,478.39 339.12,477.03 339.76,478.91 340.41,478.4 341.06,479.06 341.71,479.3 342.35,478.43 343,482.41 343,497.5"/>
<path fill="#8b1a36" d="M335.63 477.61a1.15 1.15 0 1 0 2.3 0a1.15 1.15 0 1 0-2.3 0M340.28 475.56a1.15 1.15 0 1 0 2.3 0a1.15 1.15 0 1 0-2.3 0M340.59 477.59a1.15 1.15 0 1 0 2.3 0a1.15 1.15 0 1 0-2.3 0M333.6 474.06a1.15 1.15 0 1 0 2.3 0a1.15 1.15 0 1 0-2.3 0M332.57 475.21a1.15 1.15 0 1 0 2.3 0a1.15 1.15 0 1 0-2.3 0M340.38 475.61a1.15 1.15 0 1 0 2.3 0a1.15 1.15 0 1 0-2.3 0M337.02 477.33a1.15 1.15 0 1 0 2.3 0a1.15 1.15 0 1 0-2.3 0M334.51 478.26a1.15 1.15 0 1 0 2.3 0a1.15 1.15 0 1 0-2.3 0M335.26 476.74a1.15 1.15 0 1 0 2.3 0a1.15 1.15 0 1 0-2.3 0M334.09 474.05a1.15 1.15 0 1 0 2.3 0a1.15 1.15 0 1 0-2.3 0M340.84 477.64a1.15 1.15 0 1 0 2.3 0a1.15 1.15 0 1 0-2.3 0M337.25 474.62a1.15 1.15 0 1 0 2.3 0a1.15 1.15 0 1 0-2.3 0M337.1 477.4a1.15 1.15 0 1 0 2.3 0a1.15 1.15 0 1 0-2.3 0M339.46 476.61a1.15 1.15 0 1 0 2.3 0a1.15 1.15 0 1 0-2.3 0M339.55 454.58a1.15 1.15 0 1 0 2.3 0a1.15 1.15 0 1 0-2.3 0M339.31 468.6a1.15 1.15 0 1 0 2.3 0a1.15 1.15 0 1 0-2.3 0M339.85 466.61a1.15 1.15 0 1 0 2.3 0a1.15 1.15 0 1 0-2.3 0M339.17 475.7a1.15 1.15 0 1 0 2.3 0a1.15 1.15 0 1 0-2.3 0M339.79 462.9a1.15 1.15 0 1 0 2.3 0a1.15 1.15 0 1 0-2.3 0M339.77 474.57a1.15 1.15 0 1 0 2.3 0a1.15 1.15 0 1 0-2.3 0M339.68 460.06a1.15 1.15 0 1 0 2.3 0a1.15 1.15 0 1 0-2.3 0M339.01 471.17a1.15 1.15 0 1 0 2.3 0a1.15 1.15 0 1 0-2.3 0M339.68 460.63a1.15 1.15 0 1 0 2.3 0a1.15 1.15 0 1 0-2.3 0"/>
<polygon fill="#1f7a52" points="343.6,497.5 343.6,481.53 344.25,476.75 344.91,476.78 345.56,475.52 346.21,476.6 346.86,478.01 347.52,477.97 348.17,475.98 348.82,476.71 349.47,476.62 350.13,476.99 350.78,478.23 351.43,475.87 352.08,477.14 352.74,476.89 353.39,476.97 354.04,477.89 354.69,475.39 355.35,475.4 356,481.53 356,497.5"/>
<path fill="#1f7a52" d="M344.02 476.08a1.15 1.15 0 1 0 2.3 0a1.15 1.15 0 1 0-2.3 0M353.66 475.63a1.15 1.15 0 1 0 2.3 0a1.15 1.15 0 1 0-2.3 0M353.05 476.27a1.15 1.15 0 1 0 2.3 0a1.15 1.15 0 1 0-2.3 0M348.6 473.64a1.15 1.15 0 1 0 2.3 0a1.15 1.15 0 1 0-2.3 0M350.3 476.41a1.15 1.15 0 1 0 2.3 0a1.15 1.15 0 1 0-2.3 0M348.2 474.88a1.15 1.15 0 1 0 2.3 0a1.15 1.15 0 1 0-2.3 0M347.62 476.8a1.15 1.15 0 1 0 2.3 0a1.15 1.15 0 1 0-2.3 0M345.79 474.19a1.15 1.15 0 1 0 2.3 0a1.15 1.15 0 1 0-2.3 0M345.64 476.84a1.15 1.15 0 1 0 2.3 0a1.15 1.15 0 1 0-2.3 0M346.44 472.55a1.15 1.15 0 1 0 2.3 0a1.15 1.15 0 1 0-2.3 0M353.76 475.64a1.15 1.15 0 1 0 2.3 0a1.15 1.15 0 1 0-2.3 0M345.72 475.82a1.15 1.15 0 1 0 2.3 0a1.15 1.15 0 1 0-2.3 0M352.63 475.12a1.15 1.15 0 1 0 2.3 0a1.15 1.15 0 1 0-2.3 0M352.82 473.3a1.15 1.15 0 1 0 2.3 0a1.15 1.15 0 1 0-2.3 0M351.92 473.28a1.15 1.15 0 1 0 2.3 0a1.15 1.15 0 1 0-2.3 0M348.78 476.89a1.15 1.15 0 1 0 2.3 0a1.15 1.15 0 1 0-2.3 0M351.35 419.69a1.15 1.15 0 1 0 2.3 0a1.15 1.15 0 1 0-2.3 0M351.39 441.84a1.15 1.15 0 1 0 2.3 0a1.15 1.15 0 1 0-2.3 0M351.33 427.98a1.15 1.15 0 1 0 2.3 0a1.15 1.15 0 1 0-2.3 0M351.5 427.94a1.15 1.15 0 1 0 2.3 0a1.15 1.15 0 1 0-2.3 0M351.4 473.08a1.15 1.15 0 1 0 2.3 0a1.15 1.15 0 1 0-2.3 0M351.46 457.48a1.15 1.15 0 1 0 2.3 0a1.15 1.15 0 1 0-2.3 0M351.74 453.9a1.15 1.15 0 1 0 2.3 0a1.15 1.15 0 1 0-2.3 0M351.44 467.45a1.15 1.15 0 1 0 2.3 0a1.15 1.15 0 1 0-2.3 0M351.29 456.82a1.15 1.15 0 1 0 2.3 0a1.15 1.15 0 1 0-2.3 0M351.06 468.87a1.15 1.15 0 1 0 2.3 0a1.15 1.15 0 1 0-2.3 0M351.2 474.21a1.15 1.15 0 1 0 2.3 0a1.15 1.15 0 1 0-2.3 0M351.05 450.98a1.15 1.15 0 1 0 2.3 0a1.15 1.15 0 1 0-2.3 0M351 435.83a1.15 1.15 0 1 0 2.3 0a1.15 1.15 0 1 0-2.3 0M351.32 475.65a1.15 1.15 0 1 0 2.3 0a1.15 1.15 0 1 0-2.3 0M351.53 437.49a1.15 1.15 0 1 0 2.3 0a1.15 1.15 0 1 0-2.3 0M351.25 437.82a1.15 1.15 0 1 0 2.3 0a1.15 1.15 0 1 0-2.3 0M351.39 451.94a1.15 1.15 0 1 0 2.3 0a1.15 1.15 0 1 0-2.3 0M351.41 464.88a1.15 1.15 0 1 0 2.3 0a1.15 1.15 0 1 0-2.3 0M350.76 451.21a1.15 1.15 0 1 0 2.3 0a1.15 1.15 0 1 0-2.3 0M350.94 467.55a1.15 1.15 0 1 0 2.3 0a1.15 1.15 0 1 0-2.3 0M351.22 474.58a1.15 1.15 0 1 0 2.3 0a1.15 1.15 0 1 0-2.3 0M351.67 454.25a1.15 1.15 0 1 0 2.3 0a1.15 1.15 0 1 0-2.3 0M351.85 444.59a1.15 1.15 0 1 0 2.3 0a1.15 1.15 0 1 0-2.3 0M351.08 470.39a1.15 1.15 0 1 0 2.3 0a1.15 1.15 0 1 0-2.3 0M351.05 436.52a1.15 1.15 0 1 0 2.3 0a1.15 1.15 0 1 0-2.3 0M351.17 435.47a1.15 1.15 0 1 0 2.3 0a1.15 1.15 0 1 0-2.3 0M351.6 468.08a1.15 1.15 0 1 0 2.3 0a1.15 1.15 0 1 0-2.3 0M351.03 471.38a1.15 1.15 0 1 0 2.3 0a1.15 1.15 0 1 0-2.3 0M351.58 444.97a1.15 1.15 0 1 0 2.3 0a1.15 1.15 0 1 0-2.3 0M350.96 440.65a1.15 1.15 0 1 0 2.3 0a1.15 1.15 0 1 0-2.3 0M351.39 472.25a1.15 1.15 0 1 0 2.3 0a1.15 1.15 0 1 0-2.3 0M351.1 457.98a1.15 1.15 0 1 0 2.3 0a1.15 1.15 0 1 0-2.3 0M351.54 452.42a1.15 1.15 0 1 0 2.3 0a1.15 1.15 0 1 0-2.3 0M351.51 429.54a1.15 1.15 0 1 0 2.3 0a1.15 1.15 0 1 0-2.3 0M351.45 424.25a1.15 1.15 0 1 0 2.3 0a1.15 1.15 0 1 0-2.3 0M351.39 471.89a1.15 1.15 0 1 0 2.3 0a1.15 1.15 0 1 0-2.3 0M351.32 467.58a1.15 1.15 0 1 0 2.3 0a1.15 1.15 0 1 0-2.3 0M351.23 475.48a1.15 1.15 0 1 0 2.3 0a1.15 1.15 0 1 0-2.3 0M352.05 474.06a1.15 1.15 0 1 0 2.3 0a1.15 1.15 0 1 0-2.3 0M351.43 428.76a1.15 1.15 0 1 0 2.3 0a1.15 1.15 0 1 0-2.3 0M351.35 471.67a1.15 1.15 0 1 0 2.3 0a1.15 1.15 0 1 0-2.3 0M351.27 475.94a1.15 1.15 0 1 0 2.3 0a1.15 1.15 0 1 0-2.3 0M351.51 427.97a1.15 1.15 0 1 0 2.3 0a1.15 1.15 0 1 0-2.3 0M351.14 462.88a1.15 1.15 0 1 0 2.3 0a1.15 1.15 0 1 0-2.3 0M351.46 472.19a1.15 1.15 0 1 0 2.3 0a1.15 1.15 0 1 0-2.3 0M351.4 450.12a1.15 1.15 0 1 0 2.3 0a1.15 1.15 0 1 0-2.3 0"/>
<rect x="351.7" y="433.8" width="1.6" height="42.34" fill="#1f7a52"/>
<polygon fill="#3d98da" points="356.6,497.5 356.6,480.94 357.25,476.85 357.91,477.21 358.56,476.84 359.21,475.78 359.86,476.43 360.52,477.48 361.17,477.2 361.82,476.71 362.47,476.54 363.13,476.6 363.78,475.82 364.43,475.54 365.08,474.95 365.74,476.4 366.39,474.66 367.04,476.4 367.69,476.27 368.35,476.29 369,480.94 369,497.5"/>
<path fill="#3d98da" d="M364.12 475.12a1.15 1.15 0 1 0 2.3 0a1.15 1.15 0 1 0-2.3 0M360.01 476.36a1.15 1.15 0 1 0 2.3 0a1.15 1.15 0 1 0-2.3 0M359.09 476.37a1.15 1.15 0 1 0 2.3 0a1.15 1.15 0 1 0-2.3 0M359.91 476.07a1.15 1.15 0 1 0 2.3 0a1.15 1.15 0 1 0-2.3 0M363.17 473.3a1.15 1.15 0 1 0 2.3 0a1.15 1.15 0 1 0-2.3 0M361.53 474.83a1.15 1.15 0 1 0 2.3 0a1.15 1.15 0 1 0-2.3 0M360.03 471.86a1.15 1.15 0 1 0 2.3 0a1.15 1.15 0 1 0-2.3 0M366.78 473.94a1.15 1.15 0 1 0 2.3 0a1.15 1.15 0 1 0-2.3 0M365.25 475.34a1.15 1.15 0 1 0 2.3 0a1.15 1.15 0 1 0-2.3 0M362.56 475.37a1.15 1.15 0 1 0 2.3 0a1.15 1.15 0 1 0-2.3 0M366.32 474.14a1.15 1.15 0 1 0 2.3 0a1.15 1.15 0 1 0-2.3 0M365.75 474.08a1.15 1.15 0 1 0 2.3 0a1.15 1.15 0 1 0-2.3 0M357.33 475.63a1.15 1.15 0 1 0 2.3 0a1.15 1.15 0 1 0-2.3 0M362.62 472.17a1.15 1.15 0 1 0 2.3 0a1.15 1.15 0 1 0-2.3 0M363.28 475.44a1.15 1.15 0 1 0 2.3 0a1.15 1.15 0 1 0-2.3 0M363.29 474a1.15 1.15 0 1 0 2.3 0a1.15 1.15 0 1 0-2.3 0M358.85 471.04a1.15 1.15 0 1 0 2.3 0a1.15 1.15 0 1 0-2.3 0M358.92 471.28a1.15 1.15 0 1 0 2.3 0a1.15 1.15 0 1 0-2.3 0M358.74 473.77a1.15 1.15 0 1 0 2.3 0a1.15 1.15 0 1 0-2.3 0M358.56 471.34a1.15 1.15 0 1 0 2.3 0a1.15 1.15 0 1 0-2.3 0"/>
<polygon fill="#f5b81c" points="369.6,497.5 369.6,483 370.25,478.19 370.9,478.87 371.55,478.96 372.2,479.23 372.85,477.97 373.5,479.06 374.15,479.72 374.8,479.5 375.45,479.67 376.1,477.6 376.75,479.32 377.4,479.43 378.05,478.26 378.7,479.23 379.35,477.85 380,483 380,497.5"/>
<path fill="#f5b81c" d="M374.4 477.66a1.15 1.15 0 1 0 2.3 0a1.15 1.15 0 1 0-2.3 0M372.61 477.82a1.15 1.15 0 1 0 2.3 0a1.15 1.15 0 1 0-2.3 0M375.39 479.02a1.15 1.15 0 1 0 2.3 0a1.15 1.15 0 1 0-2.3 0M371.39 476.56a1.15 1.15 0 1 0 2.3 0a1.15 1.15 0 1 0-2.3 0M375.4 477.21a1.15 1.15 0 1 0 2.3 0a1.15 1.15 0 1 0-2.3 0M371.65 478.62a1.15 1.15 0 1 0 2.3 0a1.15 1.15 0 1 0-2.3 0M373.93 478.5a1.15 1.15 0 1 0 2.3 0a1.15 1.15 0 1 0-2.3 0M375.66 476.18a1.15 1.15 0 1 0 2.3 0a1.15 1.15 0 1 0-2.3 0M375.49 476.93a1.15 1.15 0 1 0 2.3 0a1.15 1.15 0 1 0-2.3 0M376.95 477.31a1.15 1.15 0 1 0 2.3 0a1.15 1.15 0 1 0-2.3 0M371.82 478.58a1.15 1.15 0 1 0 2.3 0a1.15 1.15 0 1 0-2.3 0M370.29 476.99a1.15 1.15 0 1 0 2.3 0a1.15 1.15 0 1 0-2.3 0M375.88 477.02a1.15 1.15 0 1 0 2.3 0a1.15 1.15 0 1 0-2.3 0M370.55 432.24a1.15 1.15 0 1 0 2.3 0a1.15 1.15 0 1 0-2.3 0M370.86 477.3a1.15 1.15 0 1 0 2.3 0a1.15 1.15 0 1 0-2.3 0M370.81 471.86a1.15 1.15 0 1 0 2.3 0a1.15 1.15 0 1 0-2.3 0M370.6 464.36a1.15 1.15 0 1 0 2.3 0a1.15 1.15 0 1 0-2.3 0M370.33 478.08a1.15 1.15 0 1 0 2.3 0a1.15 1.15 0 1 0-2.3 0M370.7 472.54a1.15 1.15 0 1 0 2.3 0a1.15 1.15 0 1 0-2.3 0M370.9 471.65a1.15 1.15 0 1 0 2.3 0a1.15 1.15 0 1 0-2.3 0M370.74 439.8a1.15 1.15 0 1 0 2.3 0a1.15 1.15 0 1 0-2.3 0M370.61 467.12a1.15 1.15 0 1 0 2.3 0a1.15 1.15 0 1 0-2.3 0M370.41 458.47a1.15 1.15 0 1 0 2.3 0a1.15 1.15 0 1 0-2.3 0M370.59 477.2a1.15 1.15 0 1 0 2.3 0a1.15 1.15 0 1 0-2.3 0M370.91 477.39a1.15 1.15 0 1 0 2.3 0a1.15 1.15 0 1 0-2.3 0M370.83 439.17a1.15 1.15 0 1 0 2.3 0a1.15 1.15 0 1 0-2.3 0M370.6 476.59a1.15 1.15 0 1 0 2.3 0a1.15 1.15 0 1 0-2.3 0M371.04 471.51a1.15 1.15 0 1 0 2.3 0a1.15 1.15 0 1 0-2.3 0M370.67 452.58a1.15 1.15 0 1 0 2.3 0a1.15 1.15 0 1 0-2.3 0M370.94 456.5a1.15 1.15 0 1 0 2.3 0a1.15 1.15 0 1 0-2.3 0M370.86 444.85a1.15 1.15 0 1 0 2.3 0a1.15 1.15 0 1 0-2.3 0M370.42 467.65a1.15 1.15 0 1 0 2.3 0a1.15 1.15 0 1 0-2.3 0"/>
<polygon fill="#3f2e98" points="380.7,497.5 380.7,483 381.34,478.09 381.99,478.37 382.63,477.37 383.27,478.66 383.92,479.47 384.56,478.61 385.21,479.03 385.85,477.4 386.49,479.57 387.14,478.35 387.78,478.52 388.43,479.72 389.07,478.15 389.71,478.47 390.36,478.87 391,483 391,497.5"/>
<path fill="#3f2e98" d="M381.45 476.92a1.15 1.15 0 1 0 2.3 0a1.15 1.15 0 1 0-2.3 0M382.97 477.57a1.15 1.15 0 1 0 2.3 0a1.15 1.15 0 1 0-2.3 0M383.6 476.63a1.15 1.15 0 1 0 2.3 0a1.15 1.15 0 1 0-2.3 0M387.95 478.98a1.15 1.15 0 1 0 2.3 0a1.15 1.15 0 1 0-2.3 0M384.52 476.36a1.15 1.15 0 1 0 2.3 0a1.15 1.15 0 1 0-2.3 0M382.95 478.24a1.15 1.15 0 1 0 2.3 0a1.15 1.15 0 1 0-2.3 0M388.39 478.92a1.15 1.15 0 1 0 2.3 0a1.15 1.15 0 1 0-2.3 0M385.42 476.55a1.15 1.15 0 1 0 2.3 0a1.15 1.15 0 1 0-2.3 0M386.05 479.01a1.15 1.15 0 1 0 2.3 0a1.15 1.15 0 1 0-2.3 0M388.51 479.06a1.15 1.15 0 1 0 2.3 0a1.15 1.15 0 1 0-2.3 0M380.82 477.29a1.15 1.15 0 1 0 2.3 0a1.15 1.15 0 1 0-2.3 0M381.17 478.3a1.15 1.15 0 1 0 2.3 0a1.15 1.15 0 1 0-2.3 0M387.13 477.27a1.15 1.15 0 1 0 2.3 0a1.15 1.15 0 1 0-2.3 0M384.15 459.68a1.15 1.15 0 1 0 2.3 0a1.15 1.15 0 1 0-2.3 0M384.07 471.89a1.15 1.15 0 1 0 2.3 0a1.15 1.15 0 1 0-2.3 0M384.44 475.18a1.15 1.15 0 1 0 2.3 0a1.15 1.15 0 1 0-2.3 0M384.34 470.64a1.15 1.15 0 1 0 2.3 0a1.15 1.15 0 1 0-2.3 0M384.11 462.62a1.15 1.15 0 1 0 2.3 0a1.15 1.15 0 1 0-2.3 0M384.01 475.54a1.15 1.15 0 1 0 2.3 0a1.15 1.15 0 1 0-2.3 0"/>
<polygon fill="#455423" points="391.6,497.5 391.6,483 392.27,479.22 392.94,478.7 393.61,479.52 394.28,478.74 394.95,477.45 395.62,478.96 396.29,480.02 396.96,478.37 397.64,477.91 398.31,479.11 398.98,479.78 399.65,479.07 400.32,477.9 400.99,478.77 401.66,480 402.33,478.14 403,483 403,497.5"/>
<path fill="#455423" d="M396.61 477.88a1.15 1.15 0 1 0 2.3 0a1.15 1.15 0 1 0-2.3 0M393.3 478.01a1.15 1.15 0 1 0 2.3 0a1.15 1.15 0 1 0-2.3 0M393.96 477.38a1.15 1.15 0 1 0 2.3 0a1.15 1.15 0 1 0-2.3 0M392.86 474.78a1.15 1.15 0 1 0 2.3 0a1.15 1.15 0 1 0-2.3 0M399.24 476.4a1.15 1.15 0 1 0 2.3 0a1.15 1.15 0 1 0-2.3 0M393.81 475.07a1.15 1.15 0 1 0 2.3 0a1.15 1.15 0 1 0-2.3 0M400.6 478.91a1.15 1.15 0 1 0 2.3 0a1.15 1.15 0 1 0-2.3 0M393.82 478.87a1.15 1.15 0 1 0 2.3 0a1.15 1.15 0 1 0-2.3 0M394.21 476.04a1.15 1.15 0 1 0 2.3 0a1.15 1.15 0 1 0-2.3 0M400.7 477.41a1.15 1.15 0 1 0 2.3 0a1.15 1.15 0 1 0-2.3 0M395.41 476.32a1.15 1.15 0 1 0 2.3 0a1.15 1.15 0 1 0-2.3 0M399.56 477.5a1.15 1.15 0 1 0 2.3 0a1.15 1.15 0 1 0-2.3 0M396.06 477.97a1.15 1.15 0 1 0 2.3 0a1.15 1.15 0 1 0-2.3 0M395.59 477.83a1.15 1.15 0 1 0 2.3 0a1.15 1.15 0 1 0-2.3 0M399.65 467.52a1.15 1.15 0 1 0 2.3 0a1.15 1.15 0 1 0-2.3 0M399.23 477.96a1.15 1.15 0 1 0 2.3 0a1.15 1.15 0 1 0-2.3 0M400.24 468.86a1.15 1.15 0 1 0 2.3 0a1.15 1.15 0 1 0-2.3 0M399.71 475.92a1.15 1.15 0 1 0 2.3 0a1.15 1.15 0 1 0-2.3 0M399.81 471.65a1.15 1.15 0 1 0 2.3 0a1.15 1.15 0 1 0-2.3 0"/>
<polygon fill="#e0197f" points="403.6,497.5 403.6,481.53 404.27,477.9 404.93,476.98 405.6,478.17 406.27,475.95 406.93,476.72 407.6,478.2 408.27,475.56 408.93,475.51 409.6,477.45 410.27,476.06 410.93,478.07 411.6,476.32 412.27,477.35 412.93,478.22 413.6,481.53 413.6,497.5"/>
<path fill="#e0197f" d="M407.75 477.19a1.15 1.15 0 1 0 2.3 0a1.15 1.15 0 1 0-2.3 0M410.48 475.94a1.15 1.15 0 1 0 2.3 0a1.15 1.15 0 1 0-2.3 0M407.54 472.71a1.15 1.15 0 1 0 2.3 0a1.15 1.15 0 1 0-2.3 0M410.88 474.33a1.15 1.15 0 1 0 2.3 0a1.15 1.15 0 1 0-2.3 0M409.26 473.58a1.15 1.15 0 1 0 2.3 0a1.15 1.15 0 1 0-2.3 0M408.53 474.98a1.15 1.15 0 1 0 2.3 0a1.15 1.15 0 1 0-2.3 0M410.4 477a1.15 1.15 0 1 0 2.3 0a1.15 1.15 0 1 0-2.3 0M411.3 476.62a1.15 1.15 0 1 0 2.3 0a1.15 1.15 0 1 0-2.3 0M405.32 474.88a1.15 1.15 0 1 0 2.3 0a1.15 1.15 0 1 0-2.3 0M407.91 475.3a1.15 1.15 0 1 0 2.3 0a1.15 1.15 0 1 0-2.3 0M410.42 477.22a1.15 1.15 0 1 0 2.3 0a1.15 1.15 0 1 0-2.3 0M404.67 476.81a1.15 1.15 0 1 0 2.3 0a1.15 1.15 0 1 0-2.3 0M407.87 476.19a1.15 1.15 0 1 0 2.3 0a1.15 1.15 0 1 0-2.3 0M406.55 402.84a1.15 1.15 0 1 0 2.3 0a1.15 1.15 0 1 0-2.3 0M406.42 445.44a1.15 1.15 0 1 0 2.3 0a1.15 1.15 0 1 0-2.3 0M405.81 463.27a1.15 1.15 0 1 0 2.3 0a1.15 1.15 0 1 0-2.3 0M406.57 470.37a1.15 1.15 0 1 0 2.3 0a1.15 1.15 0 1 0-2.3 0M406.31 420.9a1.15 1.15 0 1 0 2.3 0a1.15 1.15 0 1 0-2.3 0M406.62 464.61a1.15 1.15 0 1 0 2.3 0a1.15 1.15 0 1 0-2.3 0M406.39 404.29a1.15 1.15 0 1 0 2.3 0a1.15 1.15 0 1 0-2.3 0M406.45 475.8a1.15 1.15 0 1 0 2.3 0a1.15 1.15 0 1 0-2.3 0M406.54 475.79a1.15 1.15 0 1 0 2.3 0a1.15 1.15 0 1 0-2.3 0M406.38 415.98a1.15 1.15 0 1 0 2.3 0a1.15 1.15 0 1 0-2.3 0M406.48 410.32a1.15 1.15 0 1 0 2.3 0a1.15 1.15 0 1 0-2.3 0M406.79 441.57a1.15 1.15 0 1 0 2.3 0a1.15 1.15 0 1 0-2.3 0M406.32 475.88a1.15 1.15 0 1 0 2.3 0a1.15 1.15 0 1 0-2.3 0M406.82 444.52a1.15 1.15 0 1 0 2.3 0a1.15 1.15 0 1 0-2.3 0M405.64 470.02a1.15 1.15 0 1 0 2.3 0a1.15 1.15 0 1 0-2.3 0M406.28 448.82a1.15 1.15 0 1 0 2.3 0a1.15 1.15 0 1 0-2.3 0M406.63 468.32a1.15 1.15 0 1 0 2.3 0a1.15 1.15 0 1 0-2.3 0M406.16 432.61a1.15 1.15 0 1 0 2.3 0a1.15 1.15 0 1 0-2.3 0M406.53 465.35a1.15 1.15 0 1 0 2.3 0a1.15 1.15 0 1 0-2.3 0M406.72 465.06a1.15 1.15 0 1 0 2.3 0a1.15 1.15 0 1 0-2.3 0M406.72 465.07a1.15 1.15 0 1 0 2.3 0a1.15 1.15 0 1 0-2.3 0"/>
<rect x="406.9" y="461.48" width="1.6" height="14.66" fill="#e0197f"/>
<polygon fill="#ee7020" points="414.2,497.5 414.2,481.53 414.85,478.16 415.51,475.34 416.16,477.24 416.81,475.87 417.47,477.69 418.12,476.14 418.77,477.29 419.43,477.72 420.08,477.76 420.73,477.77 421.39,475.55 422.04,476.92 422.69,477.34 423.35,475.84 424,481.53 424,497.5"/>
<path fill="#ee7020" d="M419.29 476.51a1.15 1.15 0 1 0 2.3 0a1.15 1.15 0 1 0-2.3 0M415.56 476.96a1.15 1.15 0 1 0 2.3 0a1.15 1.15 0 1 0-2.3 0M416.7 475.98a1.15 1.15 0 1 0 2.3 0a1.15 1.15 0 1 0-2.3 0M419.05 476.07a1.15 1.15 0 1 0 2.3 0a1.15 1.15 0 1 0-2.3 0M417.04 476.8a1.15 1.15 0 1 0 2.3 0a1.15 1.15 0 1 0-2.3 0M417.13 475.27a1.15 1.15 0 1 0 2.3 0a1.15 1.15 0 1 0-2.3 0M415.12 474.1a1.15 1.15 0 1 0 2.3 0a1.15 1.15 0 1 0-2.3 0M421.2 475.18a1.15 1.15 0 1 0 2.3 0a1.15 1.15 0 1 0-2.3 0M416.46 472.68a1.15 1.15 0 1 0 2.3 0a1.15 1.15 0 1 0-2.3 0M415.01 476.82a1.15 1.15 0 1 0 2.3 0a1.15 1.15 0 1 0-2.3 0M420.05 473.76a1.15 1.15 0 1 0 2.3 0a1.15 1.15 0 1 0-2.3 0M416.96 477.08a1.15 1.15 0 1 0 2.3 0a1.15 1.15 0 1 0-2.3 0M414.25 457.72a1.15 1.15 0 1 0 2.3 0a1.15 1.15 0 1 0-2.3 0M414.94 468.62a1.15 1.15 0 1 0 2.3 0a1.15 1.15 0 1 0-2.3 0M413.87 473.97a1.15 1.15 0 1 0 2.3 0a1.15 1.15 0 1 0-2.3 0M414.29 459.62a1.15 1.15 0 1 0 2.3 0a1.15 1.15 0 1 0-2.3 0M414.76 458.69a1.15 1.15 0 1 0 2.3 0a1.15 1.15 0 1 0-2.3 0M414.48 461.88a1.15 1.15 0 1 0 2.3 0a1.15 1.15 0 1 0-2.3 0M414.15 461.12a1.15 1.15 0 1 0 2.3 0a1.15 1.15 0 1 0-2.3 0M414.02 464.59a1.15 1.15 0 1 0 2.3 0a1.15 1.15 0 1 0-2.3 0M414.34 474.75a1.15 1.15 0 1 0 2.3 0a1.15 1.15 0 1 0-2.3 0"/>
<polygon fill="#d98ac2" points="424.6,497.5 424.6,483 425.28,478.48 425.95,479.44 426.63,479.66 427.31,477.58 427.98,477.95 428.66,479.7 429.34,477.5 430.02,477.6 430.69,479.16 431.37,477.64 432.05,479.69 432.72,479.38 433.4,483 433.4,497.5"/>
<path fill="#d98ac2" d="M428.03 477.94a1.15 1.15 0 1 0 2.3 0a1.15 1.15 0 1 0-2.3 0M426.49 478.64a1.15 1.15 0 1 0 2.3 0a1.15 1.15 0 1 0-2.3 0M425.66 477.77a1.15 1.15 0 1 0 2.3 0a1.15 1.15 0 1 0-2.3 0M427.85 478.97a1.15 1.15 0 1 0 2.3 0a1.15 1.15 0 1 0-2.3 0M429.44 478.96a1.15 1.15 0 1 0 2.3 0a1.15 1.15 0 1 0-2.3 0M425.41 475.46a1.15 1.15 0 1 0 2.3 0a1.15 1.15 0 1 0-2.3 0M427 478.88a1.15 1.15 0 1 0 2.3 0a1.15 1.15 0 1 0-2.3 0M427.12 478.78a1.15 1.15 0 1 0 2.3 0a1.15 1.15 0 1 0-2.3 0M425.26 474.88a1.15 1.15 0 1 0 2.3 0a1.15 1.15 0 1 0-2.3 0M425.03 476.31a1.15 1.15 0 1 0 2.3 0a1.15 1.15 0 1 0-2.3 0M427.51 478.6a1.15 1.15 0 1 0 2.3 0a1.15 1.15 0 1 0-2.3 0M424.05 445.96a1.15 1.15 0 1 0 2.3 0a1.15 1.15 0 1 0-2.3 0M424.04 453.21a1.15 1.15 0 1 0 2.3 0a1.15 1.15 0 1 0-2.3 0M424.01 469.37a1.15 1.15 0 1 0 2.3 0a1.15 1.15 0 1 0-2.3 0M423.9 466a1.15 1.15 0 1 0 2.3 0a1.15 1.15 0 1 0-2.3 0M423.74 472.29a1.15 1.15 0 1 0 2.3 0a1.15 1.15 0 1 0-2.3 0M429.85 464.38a1.15 1.15 0 1 0 2.3 0a1.15 1.15 0 1 0-2.3 0M429.49 476.84a1.15 1.15 0 1 0 2.3 0a1.15 1.15 0 1 0-2.3 0M430.15 475a1.15 1.15 0 1 0 2.3 0a1.15 1.15 0 1 0-2.3 0M429.88 477.74a1.15 1.15 0 1 0 2.3 0a1.15 1.15 0 1 0-2.3 0M429.67 472.65a1.15 1.15 0 1 0 2.3 0a1.15 1.15 0 1 0-2.3 0"/>
<polygon fill="#80d2a6" points="434,497.5 434,481.53 434.66,476.73 435.32,477.97 435.98,475.36 436.65,477.18 437.31,476.58 437.97,478.23 438.63,476.73 439.29,476.96 439.95,475.65 440.62,478.09 441.28,475.63 441.94,477.71 442.6,481.53 442.6,497.5"/>
<path fill="#80d2a6" d="M438.89 475a1.15 1.15 0 1 0 2.3 0a1.15 1.15 0 1 0-2.3 0M436.21 475.76a1.15 1.15 0 1 0 2.3 0a1.15 1.15 0 1 0-2.3 0M438.28 476.12a1.15 1.15 0 1 0 2.3 0a1.15 1.15 0 1 0-2.3 0M434.28 474.4a1.15 1.15 0 1 0 2.3 0a1.15 1.15 0 1 0-2.3 0M438.54 476.5a1.15 1.15 0 1 0 2.3 0a1.15 1.15 0 1 0-2.3 0M435.28 473.17a1.15 1.15 0 1 0 2.3 0a1.15 1.15 0 1 0-2.3 0M436.16 477.12a1.15 1.15 0 1 0 2.3 0a1.15 1.15 0 1 0-2.3 0M439.57 476.67a1.15 1.15 0 1 0 2.3 0a1.15 1.15 0 1 0-2.3 0M436.44 475.2a1.15 1.15 0 1 0 2.3 0a1.15 1.15 0 1 0-2.3 0M436.97 476.73a1.15 1.15 0 1 0 2.3 0a1.15 1.15 0 1 0-2.3 0M435.42 475.52a1.15 1.15 0 1 0 2.3 0a1.15 1.15 0 1 0-2.3 0M440.25 406.36a1.15 1.15 0 1 0 2.3 0a1.15 1.15 0 1 0-2.3 0M440.48 474.98a1.15 1.15 0 1 0 2.3 0a1.15 1.15 0 1 0-2.3 0M440.05 419.58a1.15 1.15 0 1 0 2.3 0a1.15 1.15 0 1 0-2.3 0M440.11 473.8a1.15 1.15 0 1 0 2.3 0a1.15 1.15 0 1 0-2.3 0M440.21 473.47a1.15 1.15 0 1 0 2.3 0a1.15 1.15 0 1 0-2.3 0M440.5 436.34a1.15 1.15 0 1 0 2.3 0a1.15 1.15 0 1 0-2.3 0M440.32 428.63a1.15 1.15 0 1 0 2.3 0a1.15 1.15 0 1 0-2.3 0M440.02 429.07a1.15 1.15 0 1 0 2.3 0a1.15 1.15 0 1 0-2.3 0M440.27 472.46a1.15 1.15 0 1 0 2.3 0a1.15 1.15 0 1 0-2.3 0M440.47 457.45a1.15 1.15 0 1 0 2.3 0a1.15 1.15 0 1 0-2.3 0M440.37 407.18a1.15 1.15 0 1 0 2.3 0a1.15 1.15 0 1 0-2.3 0M439.77 475.73a1.15 1.15 0 1 0 2.3 0a1.15 1.15 0 1 0-2.3 0M440.49 467.11a1.15 1.15 0 1 0 2.3 0a1.15 1.15 0 1 0-2.3 0M440.03 407.84a1.15 1.15 0 1 0 2.3 0a1.15 1.15 0 1 0-2.3 0M440.3 474.54a1.15 1.15 0 1 0 2.3 0a1.15 1.15 0 1 0-2.3 0M440.1 409.33a1.15 1.15 0 1 0 2.3 0a1.15 1.15 0 1 0-2.3 0M440.38 411.4a1.15 1.15 0 1 0 2.3 0a1.15 1.15 0 1 0-2.3 0M440.45 452.72a1.15 1.15 0 1 0 2.3 0a1.15 1.15 0 1 0-2.3 0M440.28 476.12a1.15 1.15 0 1 0 2.3 0a1.15 1.15 0 1 0-2.3 0M440.46 460.78a1.15 1.15 0 1 0 2.3 0a1.15 1.15 0 1 0-2.3 0M440.1 476.11a1.15 1.15 0 1 0 2.3 0a1.15 1.15 0 1 0-2.3 0M439.94 411.47a1.15 1.15 0 1 0 2.3 0a1.15 1.15 0 1 0-2.3 0M439.99 447.68a1.15 1.15 0 1 0 2.3 0a1.15 1.15 0 1 0-2.3 0M440.7 438.02a1.15 1.15 0 1 0 2.3 0a1.15 1.15 0 1 0-2.3 0M440.34 473.11a1.15 1.15 0 1 0 2.3 0a1.15 1.15 0 1 0-2.3 0M439.72 474.07a1.15 1.15 0 1 0 2.3 0a1.15 1.15 0 1 0-2.3 0M440.22 422.11a1.15 1.15 0 1 0 2.3 0a1.15 1.15 0 1 0-2.3 0M439.75 415.35a1.15 1.15 0 1 0 2.3 0a1.15 1.15 0 1 0-2.3 0M440.78 466.73a1.15 1.15 0 1 0 2.3 0a1.15 1.15 0 1 0-2.3 0M440.46 462.93a1.15 1.15 0 1 0 2.3 0a1.15 1.15 0 1 0-2.3 0M440.68 471.5a1.15 1.15 0 1 0 2.3 0a1.15 1.15 0 1 0-2.3 0M433.65 444.78a1.15 1.15 0 1 0 2.3 0a1.15 1.15 0 1 0-2.3 0M433.68 470.86a1.15 1.15 0 1 0 2.3 0a1.15 1.15 0 1 0-2.3 0M433.46 461.29a1.15 1.15 0 1 0 2.3 0a1.15 1.15 0 1 0-2.3 0M433.22 448.33a1.15 1.15 0 1 0 2.3 0a1.15 1.15 0 1 0-2.3 0M433.51 476a1.15 1.15 0 1 0 2.3 0a1.15 1.15 0 1 0-2.3 0M434 460.72a1.15 1.15 0 1 0 2.3 0a1.15 1.15 0 1 0-2.3 0M433.76 474.47a1.15 1.15 0 1 0 2.3 0a1.15 1.15 0 1 0-2.3 0M433.86 470.64a1.15 1.15 0 1 0 2.3 0a1.15 1.15 0 1 0-2.3 0M434.27 476.13a1.15 1.15 0 1 0 2.3 0a1.15 1.15 0 1 0-2.3 0"/>
<rect x="440.6" y="458.7" width="1.6" height="17.44" fill="#80d2a6"/>
<polygon fill="#8b1a36" points="443.2,497.5 443.2,481.53 443.88,476.45 444.57,476.03 445.25,476.6 445.93,476.8 446.62,476.93 447.3,475.62 447.98,475.32 448.67,477.14 449.35,477.67 450.03,475.5 450.72,477.43 451.4,481.53 451.4,497.5"/>
<path fill="#8b1a36" d="M444.51 475.04a1.15 1.15 0 1 0 2.3 0a1.15 1.15 0 1 0-2.3 0M445.02 477.18a1.15 1.15 0 1 0 2.3 0a1.15 1.15 0 1 0-2.3 0M443.18 476.43a1.15 1.15 0 1 0 2.3 0a1.15 1.15 0 1 0-2.3 0M445.92 475.83a1.15 1.15 0 1 0 2.3 0a1.15 1.15 0 1 0-2.3 0M445.78 475.53a1.15 1.15 0 1 0 2.3 0a1.15 1.15 0 1 0-2.3 0M443.86 474.73a1.15 1.15 0 1 0 2.3 0a1.15 1.15 0 1 0-2.3 0M447.82 475.83a1.15 1.15 0 1 0 2.3 0a1.15 1.15 0 1 0-2.3 0M445.93 477.01a1.15 1.15 0 1 0 2.3 0a1.15 1.15 0 1 0-2.3 0M443.25 476.64a1.15 1.15 0 1 0 2.3 0a1.15 1.15 0 1 0-2.3 0M445.72 477.04a1.15 1.15 0 1 0 2.3 0a1.15 1.15 0 1 0-2.3 0M448.25 438.9a1.15 1.15 0 1 0 2.3 0a1.15 1.15 0 1 0-2.3 0M447.85 471.4a1.15 1.15 0 1 0 2.3 0a1.15 1.15 0 1 0-2.3 0M448.76 467.86a1.15 1.15 0 1 0 2.3 0a1.15 1.15 0 1 0-2.3 0M448.33 465.87a1.15 1.15 0 1 0 2.3 0a1.15 1.15 0 1 0-2.3 0M448.07 474.99a1.15 1.15 0 1 0 2.3 0a1.15 1.15 0 1 0-2.3 0M447.71 465.15a1.15 1.15 0 1 0 2.3 0a1.15 1.15 0 1 0-2.3 0M448.48 469.52a1.15 1.15 0 1 0 2.3 0a1.15 1.15 0 1 0-2.3 0M448.19 459.52a1.15 1.15 0 1 0 2.3 0a1.15 1.15 0 1 0-2.3 0M448.4 444.14a1.15 1.15 0 1 0 2.3 0a1.15 1.15 0 1 0-2.3 0M447.96 467.64a1.15 1.15 0 1 0 2.3 0a1.15 1.15 0 1 0-2.3 0M448.55 472.32a1.15 1.15 0 1 0 2.3 0a1.15 1.15 0 1 0-2.3 0"/>
<polygon fill="#1f7a52" points="452,497.5 452,480.65 452.64,477.09 453.29,475.97 453.93,475.28 454.57,475.16 455.21,476.32 455.86,475.21 456.5,475.95 457.14,476.69 457.79,476.83 458.43,476.45 459.07,474.4 459.71,476.35 460.36,475.48 461,480.65 461,497.5"/>
<path fill="#1f7a52" d="M458.74 471.86a1.15 1.15 0 1 0 2.3 0a1.15 1.15 0 1 0-2.3 0M453.03 475.59a1.15 1.15 0 1 0 2.3 0a1.15 1.15 0 1 0-2.3 0M458.01 475.3a1.15 1.15 0 1 0 2.3 0a1.15 1.15 0 1 0-2.3 0M452.55 473.79a1.15 1.15 0 1 0 2.3 0a1.15 1.15 0 1 0-2.3 0M452.89 476a1.15 1.15 0 1 0 2.3 0a1.15 1.15 0 1 0-2.3 0M456.29 471.31a1.15 1.15 0 1 0 2.3 0a1.15 1.15 0 1 0-2.3 0M453.17 472.15a1.15 1.15 0 1 0 2.3 0a1.15 1.15 0 1 0-2.3 0M456.26 472.09a1.15 1.15 0 1 0 2.3 0a1.15 1.15 0 1 0-2.3 0M454.17 475.07a1.15 1.15 0 1 0 2.3 0a1.15 1.15 0 1 0-2.3 0M455.85 475.57a1.15 1.15 0 1 0 2.3 0a1.15 1.15 0 1 0-2.3 0M453.98 475.88a1.15 1.15 0 1 0 2.3 0a1.15 1.15 0 1 0-2.3 0M453.85 469.48a1.15 1.15 0 1 0 2.3 0a1.15 1.15 0 1 0-2.3 0M453.74 471.05a1.15 1.15 0 1 0 2.3 0a1.15 1.15 0 1 0-2.3 0M454.5 473.73a1.15 1.15 0 1 0 2.3 0a1.15 1.15 0 1 0-2.3 0M453.81 473.33a1.15 1.15 0 1 0 2.3 0a1.15 1.15 0 1 0-2.3 0"/>
<polygon fill="#3d98da" points="461.6,497.5 461.6,482.41 462.25,478.16 462.91,476.98 463.56,477.6 464.22,478.78 464.87,476.82 465.52,479.13 466.18,478.32 466.83,477.61 467.48,476.58 468.14,478.34 468.79,478.78 469.45,477.47 470.1,482.41 470.1,497.5"/>
<path fill="#3d98da" d="M463.44 476.69a1.15 1.15 0 1 0 2.3 0a1.15 1.15 0 1 0-2.3 0M466.13 476.43a1.15 1.15 0 1 0 2.3 0a1.15 1.15 0 1 0-2.3 0M467.2 477.96a1.15 1.15 0 1 0 2.3 0a1.15 1.15 0 1 0-2.3 0M466.91 478.24a1.15 1.15 0 1 0 2.3 0a1.15 1.15 0 1 0-2.3 0M463.6 474.72a1.15 1.15 0 1 0 2.3 0a1.15 1.15 0 1 0-2.3 0M464.91 474.33a1.15 1.15 0 1 0 2.3 0a1.15 1.15 0 1 0-2.3 0M465.5 475.16a1.15 1.15 0 1 0 2.3 0a1.15 1.15 0 1 0-2.3 0M462.97 476.8a1.15 1.15 0 1 0 2.3 0a1.15 1.15 0 1 0-2.3 0M464.56 477.62a1.15 1.15 0 1 0 2.3 0a1.15 1.15 0 1 0-2.3 0M464.45 475.96a1.15 1.15 0 1 0 2.3 0a1.15 1.15 0 1 0-2.3 0M467.5 476.57a1.15 1.15 0 1 0 2.3 0a1.15 1.15 0 1 0-2.3 0M463.15 419.3a1.15 1.15 0 1 0 2.3 0a1.15 1.15 0 1 0-2.3 0M462.69 476.74a1.15 1.15 0 1 0 2.3 0a1.15 1.15 0 1 0-2.3 0M462.87 473.45a1.15 1.15 0 1 0 2.3 0a1.15 1.15 0 1 0-2.3 0M463.46 466.03a1.15 1.15 0 1 0 2.3 0a1.15 1.15 0 1 0-2.3 0M462.95 465.95a1.15 1.15 0 1 0 2.3 0a1.15 1.15 0 1 0-2.3 0M463.24 432.5a1.15 1.15 0 1 0 2.3 0a1.15 1.15 0 1 0-2.3 0M462.87 476.42a1.15 1.15 0 1 0 2.3 0a1.15 1.15 0 1 0-2.3 0M463.22 474.39a1.15 1.15 0 1 0 2.3 0a1.15 1.15 0 1 0-2.3 0M463.56 469.37a1.15 1.15 0 1 0 2.3 0a1.15 1.15 0 1 0-2.3 0M463.26 477.1a1.15 1.15 0 1 0 2.3 0a1.15 1.15 0 1 0-2.3 0M463.41 477.22a1.15 1.15 0 1 0 2.3 0a1.15 1.15 0 1 0-2.3 0M462.97 469.66a1.15 1.15 0 1 0 2.3 0a1.15 1.15 0 1 0-2.3 0M463.15 476.88a1.15 1.15 0 1 0 2.3 0a1.15 1.15 0 1 0-2.3 0M463.06 453.24a1.15 1.15 0 1 0 2.3 0a1.15 1.15 0 1 0-2.3 0M463.38 477.22a1.15 1.15 0 1 0 2.3 0a1.15 1.15 0 1 0-2.3 0M463.36 464.03a1.15 1.15 0 1 0 2.3 0a1.15 1.15 0 1 0-2.3 0M463.36 440.18a1.15 1.15 0 1 0 2.3 0a1.15 1.15 0 1 0-2.3 0M467.85 444.39a1.15 1.15 0 1 0 2.3 0a1.15 1.15 0 1 0-2.3 0M467.73 457.52a1.15 1.15 0 1 0 2.3 0a1.15 1.15 0 1 0-2.3 0M467.91 462.29a1.15 1.15 0 1 0 2.3 0a1.15 1.15 0 1 0-2.3 0M467.32 447.4a1.15 1.15 0 1 0 2.3 0a1.15 1.15 0 1 0-2.3 0M467.84 452.3a1.15 1.15 0 1 0 2.3 0a1.15 1.15 0 1 0-2.3 0M467.76 458.1a1.15 1.15 0 1 0 2.3 0a1.15 1.15 0 1 0-2.3 0M467.86 471.52a1.15 1.15 0 1 0 2.3 0a1.15 1.15 0 1 0-2.3 0"/>
<polygon fill="#f5b81c" points="470.6,497.5 470.6,482.71 471.29,477.65 471.98,477.03 472.68,478.32 473.37,478.46 474.06,478.06 474.75,478.08 475.44,477.85 476.13,479.1 476.82,478.52 477.52,477.41 478.21,478.12 478.9,482.71 478.9,497.5"/>
<path fill="#f5b81c" d="M471.43 478.36a1.15 1.15 0 1 0 2.3 0a1.15 1.15 0 1 0-2.3 0M470.9 474.91a1.15 1.15 0 1 0 2.3 0a1.15 1.15 0 1 0-2.3 0M473.98 476.03a1.15 1.15 0 1 0 2.3 0a1.15 1.15 0 1 0-2.3 0M474.82 476.65a1.15 1.15 0 1 0 2.3 0a1.15 1.15 0 1 0-2.3 0M471.15 477.41a1.15 1.15 0 1 0 2.3 0a1.15 1.15 0 1 0-2.3 0M472.4 478.71a1.15 1.15 0 1 0 2.3 0a1.15 1.15 0 1 0-2.3 0M473.65 474.79a1.15 1.15 0 1 0 2.3 0a1.15 1.15 0 1 0-2.3 0M476.51 478.52a1.15 1.15 0 1 0 2.3 0a1.15 1.15 0 1 0-2.3 0M475.39 478.69a1.15 1.15 0 1 0 2.3 0a1.15 1.15 0 1 0-2.3 0M471.35 478.47a1.15 1.15 0 1 0 2.3 0a1.15 1.15 0 1 0-2.3 0"/>
<polygon fill="#3f2e98" points="479.6,497.5 479.6,481.53 480.33,478.22 481.07,477.67 481.8,478.07 482.53,476.18 483.27,475.7 484,476.69 484.73,478.1 485.47,477.6 486.2,481.53 486.2,497.5"/>
<path fill="#3f2e98" d="M483.97 475.58a1.15 1.15 0 1 0 2.3 0a1.15 1.15 0 1 0-2.3 0M480.23 475.2a1.15 1.15 0 1 0 2.3 0a1.15 1.15 0 1 0-2.3 0M480.61 474.91a1.15 1.15 0 1 0 2.3 0a1.15 1.15 0 1 0-2.3 0M481.58 474.92a1.15 1.15 0 1 0 2.3 0a1.15 1.15 0 1 0-2.3 0M483.17 475.56a1.15 1.15 0 1 0 2.3 0a1.15 1.15 0 1 0-2.3 0M480.19 475.75a1.15 1.15 0 1 0 2.3 0a1.15 1.15 0 1 0-2.3 0M482.07 476.77a1.15 1.15 0 1 0 2.3 0a1.15 1.15 0 1 0-2.3 0M483.35 474.55a1.15 1.15 0 1 0 2.3 0a1.15 1.15 0 1 0-2.3 0M481.25 396.96a1.15 1.15 0 1 0 2.3 0a1.15 1.15 0 1 0-2.3 0M481.47 474.92a1.15 1.15 0 1 0 2.3 0a1.15 1.15 0 1 0-2.3 0M481.49 448.72a1.15 1.15 0 1 0 2.3 0a1.15 1.15 0 1 0-2.3 0M480.97 455.07a1.15 1.15 0 1 0 2.3 0a1.15 1.15 0 1 0-2.3 0M481.25 475.98a1.15 1.15 0 1 0 2.3 0a1.15 1.15 0 1 0-2.3 0M481.71 424.91a1.15 1.15 0 1 0 2.3 0a1.15 1.15 0 1 0-2.3 0M480.67 443.75a1.15 1.15 0 1 0 2.3 0a1.15 1.15 0 1 0-2.3 0M481.08 414.67a1.15 1.15 0 1 0 2.3 0a1.15 1.15 0 1 0-2.3 0M481.83 454.16a1.15 1.15 0 1 0 2.3 0a1.15 1.15 0 1 0-2.3 0M481.34 471.78a1.15 1.15 0 1 0 2.3 0a1.15 1.15 0 1 0-2.3 0M481.55 475.8a1.15 1.15 0 1 0 2.3 0a1.15 1.15 0 1 0-2.3 0M481.58 431.38a1.15 1.15 0 1 0 2.3 0a1.15 1.15 0 1 0-2.3 0M481.69 398.26a1.15 1.15 0 1 0 2.3 0a1.15 1.15 0 1 0-2.3 0M481.52 425.62a1.15 1.15 0 1 0 2.3 0a1.15 1.15 0 1 0-2.3 0M481.14 406.16a1.15 1.15 0 1 0 2.3 0a1.15 1.15 0 1 0-2.3 0M481.44 460.63a1.15 1.15 0 1 0 2.3 0a1.15 1.15 0 1 0-2.3 0M480.58 474.28a1.15 1.15 0 1 0 2.3 0a1.15 1.15 0 1 0-2.3 0M481.45 421.98a1.15 1.15 0 1 0 2.3 0a1.15 1.15 0 1 0-2.3 0M481.01 466.15a1.15 1.15 0 1 0 2.3 0a1.15 1.15 0 1 0-2.3 0M481.43 470.31a1.15 1.15 0 1 0 2.3 0a1.15 1.15 0 1 0-2.3 0M481.19 473.32a1.15 1.15 0 1 0 2.3 0a1.15 1.15 0 1 0-2.3 0M481.63 463.39a1.15 1.15 0 1 0 2.3 0a1.15 1.15 0 1 0-2.3 0M480.79 466.18a1.15 1.15 0 1 0 2.3 0a1.15 1.15 0 1 0-2.3 0M481.12 471.13a1.15 1.15 0 1 0 2.3 0a1.15 1.15 0 1 0-2.3 0M481.89 437.54a1.15 1.15 0 1 0 2.3 0a1.15 1.15 0 1 0-2.3 0M481.26 452.61a1.15 1.15 0 1 0 2.3 0a1.15 1.15 0 1 0-2.3 0M480.47 422.07a1.15 1.15 0 1 0 2.3 0a1.15 1.15 0 1 0-2.3 0"/>
<rect x="481.6" y="452.38" width="1.6" height="23.76" fill="#3f2e98"/>
<polygon fill="#455423" points="486.7,497.5 486.7,481.53 487.38,477.28 488.07,476.83 488.75,478.2 489.43,475.63 490.12,475.37 490.8,476.03 491.48,475.62 492.17,477.78 492.85,477.23 493.53,477.87 494.22,478.14 494.9,481.53 494.9,497.5"/>
<path fill="#455423" d="M489.91 473.81a1.15 1.15 0 1 0 2.3 0a1.15 1.15 0 1 0-2.3 0M491.94 476.65a1.15 1.15 0 1 0 2.3 0a1.15 1.15 0 1 0-2.3 0M491.95 473.13a1.15 1.15 0 1 0 2.3 0a1.15 1.15 0 1 0-2.3 0M490.35 473.92a1.15 1.15 0 1 0 2.3 0a1.15 1.15 0 1 0-2.3 0M492.48 475.44a1.15 1.15 0 1 0 2.3 0a1.15 1.15 0 1 0-2.3 0M487.29 476.83a1.15 1.15 0 1 0 2.3 0a1.15 1.15 0 1 0-2.3 0M490.24 474.54a1.15 1.15 0 1 0 2.3 0a1.15 1.15 0 1 0-2.3 0M488.97 476.41a1.15 1.15 0 1 0 2.3 0a1.15 1.15 0 1 0-2.3 0M491.33 474.4a1.15 1.15 0 1 0 2.3 0a1.15 1.15 0 1 0-2.3 0M491.91 474.8a1.15 1.15 0 1 0 2.3 0a1.15 1.15 0 1 0-2.3 0M489.35 462.42a1.15 1.15 0 1 0 2.3 0a1.15 1.15 0 1 0-2.3 0M488.62 469.99a1.15 1.15 0 1 0 2.3 0a1.15 1.15 0 1 0-2.3 0M489.26 470.85a1.15 1.15 0 1 0 2.3 0a1.15 1.15 0 1 0-2.3 0M489.17 471.17a1.15 1.15 0 1 0 2.3 0a1.15 1.15 0 1 0-2.3 0M488.98 476.03a1.15 1.15 0 1 0 2.3 0a1.15 1.15 0 1 0-2.3 0M489.35 470.01a1.15 1.15 0 1 0 2.3 0a1.15 1.15 0 1 0-2.3 0"/>
<polygon fill="#e0197f" points="495.7,497.5 495.7,480.06 496.37,473.56 497.03,474.1 497.7,473.84 498.37,474.24 499.03,473.34 499.7,475.95 500.37,474.43 501.03,475.21 501.7,480.06 501.7,497.5"/>
<path fill="#e0197f" d="M499.4 471.5a1.15 1.15 0 1 0 2.3 0a1.15 1.15 0 1 0-2.3 0M496.74 473.21a1.15 1.15 0 1 0 2.3 0a1.15 1.15 0 1 0-2.3 0M498.31 473.12a1.15 1.15 0 1 0 2.3 0a1.15 1.15 0 1 0-2.3 0M497.05 475.26a1.15 1.15 0 1 0 2.3 0a1.15 1.15 0 1 0-2.3 0M498.41 472.12a1.15 1.15 0 1 0 2.3 0a1.15 1.15 0 1 0-2.3 0M497.07 475.27a1.15 1.15 0 1 0 2.3 0a1.15 1.15 0 1 0-2.3 0M495.79 472.23a1.15 1.15 0 1 0 2.3 0a1.15 1.15 0 1 0-2.3 0M498.65 460.46a1.15 1.15 0 1 0 2.3 0a1.15 1.15 0 1 0-2.3 0M498.3 467.01a1.15 1.15 0 1 0 2.3 0a1.15 1.15 0 1 0-2.3 0M499.04 463.4a1.15 1.15 0 1 0 2.3 0a1.15 1.15 0 1 0-2.3 0M498.14 468.06a1.15 1.15 0 1 0 2.3 0a1.15 1.15 0 1 0-2.3 0M498.61 466.61a1.15 1.15 0 1 0 2.3 0a1.15 1.15 0 1 0-2.3 0"/>
<polygon fill="#ee7020" points="502.2,497.5 502.2,479.47 502.89,472.88 503.58,472.85 504.27,475.16 504.96,475 505.65,474.59 506.34,474.93 507.03,475.04 507.72,472.74 508.41,473.78 509.1,479.47 509.1,497.5"/>
<path fill="#ee7020" d="M504.74 474.55a1.15 1.15 0 1 0 2.3 0a1.15 1.15 0 1 0-2.3 0M504.23 474.07a1.15 1.15 0 1 0 2.3 0a1.15 1.15 0 1 0-2.3 0M503.39 470.82a1.15 1.15 0 1 0 2.3 0a1.15 1.15 0 1 0-2.3 0M504.2 472.13a1.15 1.15 0 1 0 2.3 0a1.15 1.15 0 1 0-2.3 0M503.26 474.61a1.15 1.15 0 1 0 2.3 0a1.15 1.15 0 1 0-2.3 0M503.16 474.43a1.15 1.15 0 1 0 2.3 0a1.15 1.15 0 1 0-2.3 0M506.62 469.93a1.15 1.15 0 1 0 2.3 0a1.15 1.15 0 1 0-2.3 0M504.51 470.38a1.15 1.15 0 1 0 2.3 0a1.15 1.15 0 1 0-2.3 0M505.25 463.6a1.15 1.15 0 1 0 2.3 0a1.15 1.15 0 1 0-2.3 0M505.38 472.57a1.15 1.15 0 1 0 2.3 0a1.15 1.15 0 1 0-2.3 0M505.35 466.37a1.15 1.15 0 1 0 2.3 0a1.15 1.15 0 1 0-2.3 0M504.76 472.38a1.15 1.15 0 1 0 2.3 0a1.15 1.15 0 1 0-2.3 0M504.81 472.57a1.15 1.15 0 1 0 2.3 0a1.15 1.15 0 1 0-2.3 0"/>
<polygon fill="#d98ac2" points="509.9,497.5 509.9,480.65 510.59,474.1 511.28,474.39 511.97,476.83 512.66,477.19 513.34,475.59 514.03,474.43 514.72,474.98 515.41,474.5 516.1,480.65 516.1,497.5"/>
<path fill="#d98ac2" d="M511.39 475.1a1.15 1.15 0 1 0 2.3 0a1.15 1.15 0 1 0-2.3 0M512.74 472.71a1.15 1.15 0 1 0 2.3 0a1.15 1.15 0 1 0-2.3 0M513.21 475.67a1.15 1.15 0 1 0 2.3 0a1.15 1.15 0 1 0-2.3 0M511.05 476.08a1.15 1.15 0 1 0 2.3 0a1.15 1.15 0 1 0-2.3 0M510.63 474.7a1.15 1.15 0 1 0 2.3 0a1.15 1.15 0 1 0-2.3 0M513.11 471.59a1.15 1.15 0 1 0 2.3 0a1.15 1.15 0 1 0-2.3 0M513.12 473.58a1.15 1.15 0 1 0 2.3 0a1.15 1.15 0 1 0-2.3 0M512.13 475.73a1.15 1.15 0 1 0 2.3 0a1.15 1.15 0 1 0-2.3 0M510.85 464.38a1.15 1.15 0 1 0 2.3 0a1.15 1.15 0 1 0-2.3 0M511.05 469.43a1.15 1.15 0 1 0 2.3 0a1.15 1.15 0 1 0-2.3 0M511.02 473.96a1.15 1.15 0 1 0 2.3 0a1.15 1.15 0 1 0-2.3 0M511.46 472.44a1.15 1.15 0 1 0 2.3 0a1.15 1.15 0 1 0-2.3 0"/>
<polygon fill="#80d2a6" points="516.6,497.5 516.6,478.59 517.31,474.27 518.02,473.05 518.73,474.39 519.44,473.32 520.16,472.95 520.87,471.86 521.58,473.87 522.29,472.44 523,478.59 523,497.5"/>
<path fill="#80d2a6" d="M517.36 473.38a1.15 1.15 0 1 0 2.3 0a1.15 1.15 0 1 0-2.3 0M519.47 473.15a1.15 1.15 0 1 0 2.3 0a1.15 1.15 0 1 0-2.3 0M517.05 472.65a1.15 1.15 0 1 0 2.3 0a1.15 1.15 0 1 0-2.3 0M519.2 471.49a1.15 1.15 0 1 0 2.3 0a1.15 1.15 0 1 0-2.3 0M517.65 473.44a1.15 1.15 0 1 0 2.3 0a1.15 1.15 0 1 0-2.3 0M519.74 472.5a1.15 1.15 0 1 0 2.3 0a1.15 1.15 0 1 0-2.3 0M517.38 471.11a1.15 1.15 0 1 0 2.3 0a1.15 1.15 0 1 0-2.3 0M518.43 473.35a1.15 1.15 0 1 0 2.3 0a1.15 1.15 0 1 0-2.3 0"/>
<polygon fill="#8b1a36" points="523.5,497.5 523.5,478.59 524.15,471.49 524.81,471.94 525.46,474.28 526.12,473.81 526.77,473.79 527.43,472.94 528.08,471.65 528.74,472.86 529.39,474.51 530.05,471.42 530.7,478.59 530.7,497.5"/>
<path fill="#8b1a36" d="M525.69 470.33a1.15 1.15 0 1 0 2.3 0a1.15 1.15 0 1 0-2.3 0M526.65 472.54a1.15 1.15 0 1 0 2.3 0a1.15 1.15 0 1 0-2.3 0M526.28 470.91a1.15 1.15 0 1 0 2.3 0a1.15 1.15 0 1 0-2.3 0M523.69 468.91a1.15 1.15 0 1 0 2.3 0a1.15 1.15 0 1 0-2.3 0M525.41 471.89a1.15 1.15 0 1 0 2.3 0a1.15 1.15 0 1 0-2.3 0M525.79 469.32a1.15 1.15 0 1 0 2.3 0a1.15 1.15 0 1 0-2.3 0M525.36 468.33a1.15 1.15 0 1 0 2.3 0a1.15 1.15 0 1 0-2.3 0M526.03 469.95a1.15 1.15 0 1 0 2.3 0a1.15 1.15 0 1 0-2.3 0M527.34 473.34a1.15 1.15 0 1 0 2.3 0a1.15 1.15 0 1 0-2.3 0"/>
<circle cx="532" cy="494.96" r="0.9" fill="#1f7a52"/>
<line x1="211.8" y1="532.3" x2="211.8" y2="652.1" stroke="#a8a8a8" stroke-width="1.1"/>
<line x1="209.4" y1="651.7" x2="211.8" y2="651.7" stroke="#555" stroke-width="0.8"/>
<text x="208.6" y="654.1" font-family="'Liberation Serif', 'Times New Roman', serif" font-weight="bold" font-size="7.6" text-anchor="end">0.00</text>
<line x1="209.4" y1="621.85" x2="211.8" y2="621.85" stroke="#555" stroke-width="0.8"/>
<text x="208.6" y="624.25" font-family="'Liberation Serif', 'Times New Roman', serif" font-weight="bold" font-size="7.6" text-anchor="end">0.01</text>
<line x1="209.4" y1="592" x2="211.8" y2="592" stroke="#555" stroke-width="0.8"/>
<text x="208.6" y="594.4" font-family="'Liberation Serif', 'Times New Roman', serif" font-weight="bold" font-size="7.6" text-anchor="end">0.02</text>
<line x1="209.4" y1="562.15" x2="211.8" y2="562.15" stroke="#555" stroke-width="0.8"/>
<text x="208.6" y="564.55" font-family="'Liberation Serif', 'Times New Roman', serif" font-weight="bold" font-size="7.6" text-anchor="end">0.03</text>
<line x1="209.4" y1="532.3" x2="211.8" y2="532.3" stroke="#555" stroke-width="0.8"/>
<text x="208.6" y="534.7" font-family="'Liberation Serif', 'Times New Roman', serif" font-weight="bold" font-size="7.6" text-anchor="end">0.04</text>
<line x1="211.3" y1="656.3" x2="532.2" y2="656.3" stroke="#a8a8a8" stroke-width="1.1"/>
<line x1="211.7" y1="656.3" x2="211.7" y2="658.5" stroke="#555" stroke-width="0.7"/>
<line x1="222.45" y1="656.3" x2="222.45" y2="658.5" stroke="#555" stroke-width="0.7"/>
<line x1="239.45" y1="656.3" x2="239.45" y2="658.5" stroke="#555" stroke-width="0.7"/>
<line x1="254.8" y1="656.3" x2="254.8" y2="658.5" stroke="#555" stroke-width="0.7"/>
<line x1="269.25" y1="656.3" x2="269.25" y2="658.5" stroke="#555" stroke-width="0.7"/>
<line x1="283.7" y1="656.3" x2="283.7" y2="658.5" stroke="#555" stroke-width="0.7"/>
<line x1="298.1" y1="656.3" x2="298.1" y2="658.5" stroke="#555" stroke-width="0.7"/>
<line x1="311.75" y1="656.3" x2="311.75" y2="658.5" stroke="#555" stroke-width="0.7"/>
<line x1="325" y1="656.3" x2="325" y2="658.5" stroke="#555" stroke-width="0.7"/>
<line x1="337.5" y1="656.3" x2="337.5" y2="658.5" stroke="#555" stroke-width="0.7"/>
<line x1="349.8" y1="656.3" x2="349.8" y2="658.5" stroke="#555" stroke-width="0.7"/>
<line x1="362.8" y1="656.3" x2="362.8" y2="658.5" stroke="#555" stroke-width="0.7"/>
<line x1="374.8" y1="656.3" x2="374.8" y2="658.5" stroke="#555" stroke-width="0.7"/>
<line x1="385.85" y1="656.3" x2="385.85" y2="658.5" stroke="#555" stroke-width="0.7"/>
<line x1="397.3" y1="656.3" x2="397.3" y2="658.5" stroke="#555" stroke-width="0.7"/>
<line x1="408.6" y1="656.3" x2="408.6" y2="658.5" stroke="#555" stroke-width="0.7"/>
<line x1="419.1" y1="656.3" x2="419.1" y2="658.5" stroke="#555" stroke-width="0.7"/>
<line x1="429" y1="656.3" x2="429" y2="658.5" stroke="#555" stroke-width="0.7"/>
<line x1="438.3" y1="656.3" x2="438.3" y2="658.5" stroke="#555" stroke-width="0.7"/>
<line x1="447.3" y1="656.3" x2="447.3" y2="658.5" stroke="#555" stroke-width="0.7"/>
<line x1="456.5" y1="656.3" x2="456.5" y2="658.5" stroke="#555" stroke-width="0.7"/>
<line x1="465.85" y1="656.3" x2="465.85" y2="658.5" stroke="#555" stroke-width="0.7"/>
<line x1="474.75" y1="656.3" x2="474.75" y2="658.5" stroke="#555" stroke-width="0.7"/>
<line x1="482.9" y1="656.3" x2="482.9" y2="658.5" stroke="#555" stroke-width="0.7"/>
<line x1="490.8" y1="656.3" x2="490.8" y2="658.5" stroke="#555" stroke-width="0.7"/>
<line x1="498.7" y1="656.3" x2="498.7" y2="658.5" stroke="#555" stroke-width="0.7"/>
<line x1="505.65" y1="656.3" x2="505.65" y2="658.5" stroke="#555" stroke-width="0.7"/>
<line x1="513" y1="656.3" x2="513" y2="658.5" stroke="#555" stroke-width="0.7"/>
<line x1="519.8" y1="656.3" x2="519.8" y2="658.5" stroke="#555" stroke-width="0.7"/>
<line x1="527.1" y1="656.3" x2="527.1" y2="658.5" stroke="#555" stroke-width="0.7"/>
<line x1="532" y1="656.3" x2="532" y2="658.5" stroke="#555" stroke-width="0.7"/>
<text x="352.5" y="529.5" font-family="'Liberation Serif', 'Times New Roman', serif" font-weight="bold" font-size="9">HM</text>
<text x="0" y="0" font-family="'Liberation Serif', 'Times New Roman', serif" font-weight="bold" font-size="8" text-anchor="middle" transform="translate(190.1 590.3) rotate(-90)">PI</text>
<polygon fill="#3d98da" points="213.9,651.55 213.9,638.27 214.53,634.21 215.17,633.14 215.8,633.79 216.43,633.83 217.07,635.04 217.7,633.13 218.33,635.57 218.97,634.95 219.6,634.49 220.23,633.63 220.87,635.09 221.5,633.42 222.13,633.12 222.77,635.17 223.4,634.08 224.03,635.56 224.67,634.61 225.3,635.47 225.93,633.18 226.57,634.49 227.2,633.2 227.83,633.61 228.47,633.41 229.1,635.15 229.73,635.39 230.37,634.07 231,638.27 231,651.55"/>
<path fill="#3d98da" d="M224.82 633.66a1.15 1.15 0 1 0 2.3 0a1.15 1.15 0 1 0-2.3 0M221.72 631.11a1.15 1.15 0 1 0 2.3 0a1.15 1.15 0 1 0-2.3 0M221.63 634.55a1.15 1.15 0 1 0 2.3 0a1.15 1.15 0 1 0-2.3 0M216.14 633.1a1.15 1.15 0 1 0 2.3 0a1.15 1.15 0 1 0-2.3 0M221.67 632.68a1.15 1.15 0 1 0 2.3 0a1.15 1.15 0 1 0-2.3 0M219.81 632.62a1.15 1.15 0 1 0 2.3 0a1.15 1.15 0 1 0-2.3 0M219.74 632.74a1.15 1.15 0 1 0 2.3 0a1.15 1.15 0 1 0-2.3 0M225.34 634.39a1.15 1.15 0 1 0 2.3 0a1.15 1.15 0 1 0-2.3 0M219.42 633.28a1.15 1.15 0 1 0 2.3 0a1.15 1.15 0 1 0-2.3 0M224.12 634.18a1.15 1.15 0 1 0 2.3 0a1.15 1.15 0 1 0-2.3 0M222.13 632.74a1.15 1.15 0 1 0 2.3 0a1.15 1.15 0 1 0-2.3 0M227.27 633.82a1.15 1.15 0 1 0 2.3 0a1.15 1.15 0 1 0-2.3 0M223.38 634.36a1.15 1.15 0 1 0 2.3 0a1.15 1.15 0 1 0-2.3 0M221.27 634.38a1.15 1.15 0 1 0 2.3 0a1.15 1.15 0 1 0-2.3 0M227.62 633.57a1.15 1.15 0 1 0 2.3 0a1.15 1.15 0 1 0-2.3 0M226.29 633.63a1.15 1.15 0 1 0 2.3 0a1.15 1.15 0 1 0-2.3 0M227.41 633.67a1.15 1.15 0 1 0 2.3 0a1.15 1.15 0 1 0-2.3 0M218.75 632.98a1.15 1.15 0 1 0 2.3 0a1.15 1.15 0 1 0-2.3 0M226.52 631.54a1.15 1.15 0 1 0 2.3 0a1.15 1.15 0 1 0-2.3 0M222.74 634.59a1.15 1.15 0 1 0 2.3 0a1.15 1.15 0 1 0-2.3 0M222.77 634.21a1.15 1.15 0 1 0 2.3 0a1.15 1.15 0 1 0-2.3 0M224.81 631.35a1.15 1.15 0 1 0 2.3 0a1.15 1.15 0 1 0-2.3 0M224.85 631.1a1.15 1.15 0 1 0 2.3 0a1.15 1.15 0 1 0-2.3 0M224.65 633.08a1.15 1.15 0 1 0 2.3 0a1.15 1.15 0 1 0-2.3 0M224.9 633.01a1.15 1.15 0 1 0 2.3 0a1.15 1.15 0 1 0-2.3 0M224.38 633.75a1.15 1.15 0 1 0 2.3 0a1.15 1.15 0 1 0-2.3 0"/>
<polygon fill="#f5b81c" points="231.6,651.55 231.6,641.85 232.23,639.79 232.86,639.68 233.48,638.62 234.11,638.93 234.74,638.83 235.37,638.33 236,638.98 236.62,638.39 237.25,638.94 237.88,638.18 238.51,638.65 239.14,639.61 239.76,639.21 240.39,638.29 241.02,639.24 241.65,639.53 242.28,639.01 242.9,639.16 243.53,638.74 244.16,639.08 244.79,639.4 245.42,639.12 246.04,639.11 246.67,638.22 247.3,641.85 247.3,651.55"/>
<path fill="#f5b81c" d="M239.99 639.15a1.15 1.15 0 1 0 2.3 0a1.15 1.15 0 1 0-2.3 0M241.49 637.61a1.15 1.15 0 1 0 2.3 0a1.15 1.15 0 1 0-2.3 0M242.77 638.63a1.15 1.15 0 1 0 2.3 0a1.15 1.15 0 1 0-2.3 0M232.26 637.84a1.15 1.15 0 1 0 2.3 0a1.15 1.15 0 1 0-2.3 0M233.15 637.31a1.15 1.15 0 1 0 2.3 0a1.15 1.15 0 1 0-2.3 0M242.33 638.47a1.15 1.15 0 1 0 2.3 0a1.15 1.15 0 1 0-2.3 0M244.38 639.01a1.15 1.15 0 1 0 2.3 0a1.15 1.15 0 1 0-2.3 0M244.36 638.31a1.15 1.15 0 1 0 2.3 0a1.15 1.15 0 1 0-2.3 0M241.9 637.34a1.15 1.15 0 1 0 2.3 0a1.15 1.15 0 1 0-2.3 0M244.89 636.45a1.15 1.15 0 1 0 2.3 0a1.15 1.15 0 1 0-2.3 0M232 639.22a1.15 1.15 0 1 0 2.3 0a1.15 1.15 0 1 0-2.3 0M238.89 639.2a1.15 1.15 0 1 0 2.3 0a1.15 1.15 0 1 0-2.3 0M240.46 638.09a1.15 1.15 0 1 0 2.3 0a1.15 1.15 0 1 0-2.3 0M240.58 638.38a1.15 1.15 0 1 0 2.3 0a1.15 1.15 0 1 0-2.3 0M235.18 636.55a1.15 1.15 0 1 0 2.3 0a1.15 1.15 0 1 0-2.3 0M241.43 639.22a1.15 1.15 0 1 0 2.3 0a1.15 1.15 0 1 0-2.3 0M232.81 637.77a1.15 1.15 0 1 0 2.3 0a1.15 1.15 0 1 0-2.3 0M235.4 638.47a1.15 1.15 0 1 0 2.3 0a1.15 1.15 0 1 0-2.3 0M242.16 638.61a1.15 1.15 0 1 0 2.3 0a1.15 1.15 0 1 0-2.3 0M244.13 637.46a1.15 1.15 0 1 0 2.3 0a1.15 1.15 0 1 0-2.3 0M244.85 631.4a1.15 1.15 0 1 0 2.3 0a1.15 1.15 0 1 0-2.3 0M245.24 636.38a1.15 1.15 0 1 0 2.3 0a1.15 1.15 0 1 0-2.3 0M245.28 638.33a1.15 1.15 0 1 0 2.3 0a1.15 1.15 0 1 0-2.3 0M244.7 631.53a1.15 1.15 0 1 0 2.3 0a1.15 1.15 0 1 0-2.3 0M244.97 638.53a1.15 1.15 0 1 0 2.3 0a1.15 1.15 0 1 0-2.3 0"/>
<polygon fill="#3f2e98" points="247.6,651.55 247.6,641.63 248.23,639.44 248.85,638.05 249.48,638.13 250.1,638.32 250.73,638.97 251.36,638.77 251.98,638.92 252.61,638.03 253.23,638.99 253.86,639 254.49,637.85 255.11,637.88 255.74,637.79 256.37,638.09 256.99,639.45 257.62,639.44 258.24,638.56 258.87,638 259.5,637.95 260.12,638.41 260.75,637.81 261.37,639.33 262,641.63 262,651.55"/>
<path fill="#3f2e98" d="M251.57 638.55a1.15 1.15 0 1 0 2.3 0a1.15 1.15 0 1 0-2.3 0M251.32 638.82a1.15 1.15 0 1 0 2.3 0a1.15 1.15 0 1 0-2.3 0M252.1 638.92a1.15 1.15 0 1 0 2.3 0a1.15 1.15 0 1 0-2.3 0M254.12 636.22a1.15 1.15 0 1 0 2.3 0a1.15 1.15 0 1 0-2.3 0M252.97 637.48a1.15 1.15 0 1 0 2.3 0a1.15 1.15 0 1 0-2.3 0M255.04 636.27a1.15 1.15 0 1 0 2.3 0a1.15 1.15 0 1 0-2.3 0M256.56 636.73a1.15 1.15 0 1 0 2.3 0a1.15 1.15 0 1 0-2.3 0M251.61 636.38a1.15 1.15 0 1 0 2.3 0a1.15 1.15 0 1 0-2.3 0M249.75 638.17a1.15 1.15 0 1 0 2.3 0a1.15 1.15 0 1 0-2.3 0M256.59 638.37a1.15 1.15 0 1 0 2.3 0a1.15 1.15 0 1 0-2.3 0M258.44 636.58a1.15 1.15 0 1 0 2.3 0a1.15 1.15 0 1 0-2.3 0M249.5 638.61a1.15 1.15 0 1 0 2.3 0a1.15 1.15 0 1 0-2.3 0M248.1 636.59a1.15 1.15 0 1 0 2.3 0a1.15 1.15 0 1 0-2.3 0M251.66 638.21a1.15 1.15 0 1 0 2.3 0a1.15 1.15 0 1 0-2.3 0M250.8 638.81a1.15 1.15 0 1 0 2.3 0a1.15 1.15 0 1 0-2.3 0M253.12 638.6a1.15 1.15 0 1 0 2.3 0a1.15 1.15 0 1 0-2.3 0M254.43 638.67a1.15 1.15 0 1 0 2.3 0a1.15 1.15 0 1 0-2.3 0M253.79 636.21a1.15 1.15 0 1 0 2.3 0a1.15 1.15 0 1 0-2.3 0M254.05 557.37a1.15 1.15 0 1 0 2.3 0a1.15 1.15 0 1 0-2.3 0M253.87 627.08a1.15 1.15 0 1 0 2.3 0a1.15 1.15 0 1 0-2.3 0M254.07 564.61a1.15 1.15 0 1 0 2.3 0a1.15 1.15 0 1 0-2.3 0M253.85 609.17a1.15 1.15 0 1 0 2.3 0a1.15 1.15 0 1 0-2.3 0M254.06 563.44a1.15 1.15 0 1 0 2.3 0a1.15 1.15 0 1 0-2.3 0M254.29 591.61a1.15 1.15 0 1 0 2.3 0a1.15 1.15 0 1 0-2.3 0M254.04 561.23a1.15 1.15 0 1 0 2.3 0a1.15 1.15 0 1 0-2.3 0M254.27 603.04a1.15 1.15 0 1 0 2.3 0a1.15 1.15 0 1 0-2.3 0M254.37 635.65a1.15 1.15 0 1 0 2.3 0a1.15 1.15 0 1 0-2.3 0M253.99 611.31a1.15 1.15 0 1 0 2.3 0a1.15 1.15 0 1 0-2.3 0M253.95 631.95a1.15 1.15 0 1 0 2.3 0a1.15 1.15 0 1 0-2.3 0M253.91 637a1.15 1.15 0 1 0 2.3 0a1.15 1.15 0 1 0-2.3 0M253.91 633.85a1.15 1.15 0 1 0 2.3 0a1.15 1.15 0 1 0-2.3 0M254.01 581.36a1.15 1.15 0 1 0 2.3 0a1.15 1.15 0 1 0-2.3 0M254.64 625.08a1.15 1.15 0 1 0 2.3 0a1.15 1.15 0 1 0-2.3 0M254.34 636.84a1.15 1.15 0 1 0 2.3 0a1.15 1.15 0 1 0-2.3 0M254 637.71a1.15 1.15 0 1 0 2.3 0a1.15 1.15 0 1 0-2.3 0M253.78 576.32a1.15 1.15 0 1 0 2.3 0a1.15 1.15 0 1 0-2.3 0M253.71 610.65a1.15 1.15 0 1 0 2.3 0a1.15 1.15 0 1 0-2.3 0M253.93 629.07a1.15 1.15 0 1 0 2.3 0a1.15 1.15 0 1 0-2.3 0M254.08 609.71a1.15 1.15 0 1 0 2.3 0a1.15 1.15 0 1 0-2.3 0M253.95 608.16a1.15 1.15 0 1 0 2.3 0a1.15 1.15 0 1 0-2.3 0M253.65 634.03a1.15 1.15 0 1 0 2.3 0a1.15 1.15 0 1 0-2.3 0M253.95 638.23a1.15 1.15 0 1 0 2.3 0a1.15 1.15 0 1 0-2.3 0M254.41 610.69a1.15 1.15 0 1 0 2.3 0a1.15 1.15 0 1 0-2.3 0M253.99 635.06a1.15 1.15 0 1 0 2.3 0a1.15 1.15 0 1 0-2.3 0M253.89 622.56a1.15 1.15 0 1 0 2.3 0a1.15 1.15 0 1 0-2.3 0M258.35 629.31a1.15 1.15 0 1 0 2.3 0a1.15 1.15 0 1 0-2.3 0M258.41 637.14a1.15 1.15 0 1 0 2.3 0a1.15 1.15 0 1 0-2.3 0M258.14 634.05a1.15 1.15 0 1 0 2.3 0a1.15 1.15 0 1 0-2.3 0M257.96 635.28a1.15 1.15 0 1 0 2.3 0a1.15 1.15 0 1 0-2.3 0M258.27 636.77a1.15 1.15 0 1 0 2.3 0a1.15 1.15 0 1 0-2.3 0M258.71 637.94a1.15 1.15 0 1 0 2.3 0a1.15 1.15 0 1 0-2.3 0"/>
<rect x="254.4" y="626.13" width="1.6" height="12.13" fill="#3f2e98"/>
<polygon fill="#455423" points="262.5,651.55 262.5,639.39 263.14,635.94 263.79,635.76 264.43,635.43 265.07,634.76 265.71,635.07 266.36,636.64 267,634.84 267.64,635.37 268.29,636.19 268.93,635.25 269.57,635.83 270.21,635.63 270.86,635.61 271.5,636.58 272.14,636.09 272.79,635.92 273.43,636.79 274.07,635.26 274.71,636.17 275.36,635.83 276,639.39 276,651.55"/>
<path fill="#455423" d="M272.33 635.59a1.15 1.15 0 1 0 2.3 0a1.15 1.15 0 1 0-2.3 0M266.95 634.54a1.15 1.15 0 1 0 2.3 0a1.15 1.15 0 1 0-2.3 0M263.72 633.54a1.15 1.15 0 1 0 2.3 0a1.15 1.15 0 1 0-2.3 0M266.07 635.96a1.15 1.15 0 1 0 2.3 0a1.15 1.15 0 1 0-2.3 0M270.48 634.77a1.15 1.15 0 1 0 2.3 0a1.15 1.15 0 1 0-2.3 0M262.66 634.58a1.15 1.15 0 1 0 2.3 0a1.15 1.15 0 1 0-2.3 0M271.14 636.08a1.15 1.15 0 1 0 2.3 0a1.15 1.15 0 1 0-2.3 0M269.91 635.65a1.15 1.15 0 1 0 2.3 0a1.15 1.15 0 1 0-2.3 0M267.36 636.03a1.15 1.15 0 1 0 2.3 0a1.15 1.15 0 1 0-2.3 0M268.47 632.82a1.15 1.15 0 1 0 2.3 0a1.15 1.15 0 1 0-2.3 0M265.86 636.05a1.15 1.15 0 1 0 2.3 0a1.15 1.15 0 1 0-2.3 0M272.1 632.77a1.15 1.15 0 1 0 2.3 0a1.15 1.15 0 1 0-2.3 0M268 632.98a1.15 1.15 0 1 0 2.3 0a1.15 1.15 0 1 0-2.3 0M272.8 633.83a1.15 1.15 0 1 0 2.3 0a1.15 1.15 0 1 0-2.3 0M271.91 635.87a1.15 1.15 0 1 0 2.3 0a1.15 1.15 0 1 0-2.3 0M272.07 635.14a1.15 1.15 0 1 0 2.3 0a1.15 1.15 0 1 0-2.3 0M265.65 634.58a1.15 1.15 0 1 0 2.3 0a1.15 1.15 0 1 0-2.3 0M262.85 620.95a1.15 1.15 0 1 0 2.3 0a1.15 1.15 0 1 0-2.3 0M262.62 624.75a1.15 1.15 0 1 0 2.3 0a1.15 1.15 0 1 0-2.3 0M262.81 634.1a1.15 1.15 0 1 0 2.3 0a1.15 1.15 0 1 0-2.3 0M262.9 634.12a1.15 1.15 0 1 0 2.3 0a1.15 1.15 0 1 0-2.3 0M262.87 630.95a1.15 1.15 0 1 0 2.3 0a1.15 1.15 0 1 0-2.3 0M262.61 634.36a1.15 1.15 0 1 0 2.3 0a1.15 1.15 0 1 0-2.3 0M272.85 630.81a1.15 1.15 0 1 0 2.3 0a1.15 1.15 0 1 0-2.3 0M272.99 635.27a1.15 1.15 0 1 0 2.3 0a1.15 1.15 0 1 0-2.3 0M272.6 633.4a1.15 1.15 0 1 0 2.3 0a1.15 1.15 0 1 0-2.3 0"/>
<polygon fill="#e0197f" points="276.6,651.55 276.6,638.27 277.25,634.38 277.89,634.06 278.54,633.12 279.18,635.53 279.83,634.29 280.47,634.36 281.12,634.01 281.76,633.44 282.41,634.33 283.05,634.15 283.7,634.32 284.35,633.58 284.99,633.31 285.64,634.77 286.28,633.76 286.93,633.94 287.57,634.65 288.22,633.57 288.86,633.84 289.51,634.35 290.15,634.15 290.8,638.27 290.8,651.55"/>
<path fill="#e0197f" d="M284.26 632.69a1.15 1.15 0 1 0 2.3 0a1.15 1.15 0 1 0-2.3 0M281.09 631.96a1.15 1.15 0 1 0 2.3 0a1.15 1.15 0 1 0-2.3 0M287.09 634.01a1.15 1.15 0 1 0 2.3 0a1.15 1.15 0 1 0-2.3 0M280.43 632.51a1.15 1.15 0 1 0 2.3 0a1.15 1.15 0 1 0-2.3 0M279.97 634.59a1.15 1.15 0 1 0 2.3 0a1.15 1.15 0 1 0-2.3 0M279.96 632.39a1.15 1.15 0 1 0 2.3 0a1.15 1.15 0 1 0-2.3 0M282.58 632.94a1.15 1.15 0 1 0 2.3 0a1.15 1.15 0 1 0-2.3 0M284.09 633.14a1.15 1.15 0 1 0 2.3 0a1.15 1.15 0 1 0-2.3 0M288.18 631.81a1.15 1.15 0 1 0 2.3 0a1.15 1.15 0 1 0-2.3 0M288.2 632.41a1.15 1.15 0 1 0 2.3 0a1.15 1.15 0 1 0-2.3 0M286.23 632.12a1.15 1.15 0 1 0 2.3 0a1.15 1.15 0 1 0-2.3 0M287.93 633.9a1.15 1.15 0 1 0 2.3 0a1.15 1.15 0 1 0-2.3 0M280.41 634.68a1.15 1.15 0 1 0 2.3 0a1.15 1.15 0 1 0-2.3 0M277.28 630.97a1.15 1.15 0 1 0 2.3 0a1.15 1.15 0 1 0-2.3 0M282.24 634.52a1.15 1.15 0 1 0 2.3 0a1.15 1.15 0 1 0-2.3 0M277.77 633.22a1.15 1.15 0 1 0 2.3 0a1.15 1.15 0 1 0-2.3 0M284.4 631.68a1.15 1.15 0 1 0 2.3 0a1.15 1.15 0 1 0-2.3 0M283.42 633.93a1.15 1.15 0 1 0 2.3 0a1.15 1.15 0 1 0-2.3 0M286.35 611.4a1.15 1.15 0 1 0 2.3 0a1.15 1.15 0 1 0-2.3 0M285.71 622.79a1.15 1.15 0 1 0 2.3 0a1.15 1.15 0 1 0-2.3 0M286.11 633a1.15 1.15 0 1 0 2.3 0a1.15 1.15 0 1 0-2.3 0M286.25 623.42a1.15 1.15 0 1 0 2.3 0a1.15 1.15 0 1 0-2.3 0M285.9 627.27a1.15 1.15 0 1 0 2.3 0a1.15 1.15 0 1 0-2.3 0M286.25 617.85a1.15 1.15 0 1 0 2.3 0a1.15 1.15 0 1 0-2.3 0M286.28 630.27a1.15 1.15 0 1 0 2.3 0a1.15 1.15 0 1 0-2.3 0M286.48 624.7a1.15 1.15 0 1 0 2.3 0a1.15 1.15 0 1 0-2.3 0M286.23 621.61a1.15 1.15 0 1 0 2.3 0a1.15 1.15 0 1 0-2.3 0M286.22 620.7a1.15 1.15 0 1 0 2.3 0a1.15 1.15 0 1 0-2.3 0M286.1 633.61a1.15 1.15 0 1 0 2.3 0a1.15 1.15 0 1 0-2.3 0M286.34 613a1.15 1.15 0 1 0 2.3 0a1.15 1.15 0 1 0-2.3 0M286.53 618.17a1.15 1.15 0 1 0 2.3 0a1.15 1.15 0 1 0-2.3 0M286.21 621.28a1.15 1.15 0 1 0 2.3 0a1.15 1.15 0 1 0-2.3 0M286.59 633.53a1.15 1.15 0 1 0 2.3 0a1.15 1.15 0 1 0-2.3 0M285.95 622.59a1.15 1.15 0 1 0 2.3 0a1.15 1.15 0 1 0-2.3 0M286.35 631.15a1.15 1.15 0 1 0 2.3 0a1.15 1.15 0 1 0-2.3 0M281.85 624.84a1.15 1.15 0 1 0 2.3 0a1.15 1.15 0 1 0-2.3 0M281.52 628.56a1.15 1.15 0 1 0 2.3 0a1.15 1.15 0 1 0-2.3 0M281.67 631.36a1.15 1.15 0 1 0 2.3 0a1.15 1.15 0 1 0-2.3 0M281.56 628.65a1.15 1.15 0 1 0 2.3 0a1.15 1.15 0 1 0-2.3 0M281.65 631.89a1.15 1.15 0 1 0 2.3 0a1.15 1.15 0 1 0-2.3 0M282.01 629.59a1.15 1.15 0 1 0 2.3 0a1.15 1.15 0 1 0-2.3 0"/>
<polygon fill="#ee7020" points="291.2,651.55 291.2,638.27 291.83,633.36 292.45,634.83 293.08,633.29 293.71,634.11 294.34,634.84 294.96,635.5 295.59,633.91 296.22,633.2 296.85,634.14 297.47,634.83 298.1,634.75 298.73,634.35 299.35,633.11 299.98,634.5 300.61,634.61 301.24,634.34 301.86,635.03 302.49,634.85 303.12,633.55 303.75,633.34 304.37,634.65 305,638.27 305,651.55"/>
<path fill="#ee7020" d="M301.71 632.31a1.15 1.15 0 1 0 2.3 0a1.15 1.15 0 1 0-2.3 0M296.45 630.99a1.15 1.15 0 1 0 2.3 0a1.15 1.15 0 1 0-2.3 0M301.5 633.45a1.15 1.15 0 1 0 2.3 0a1.15 1.15 0 1 0-2.3 0M293.33 631.67a1.15 1.15 0 1 0 2.3 0a1.15 1.15 0 1 0-2.3 0M301.64 632.52a1.15 1.15 0 1 0 2.3 0a1.15 1.15 0 1 0-2.3 0M300.55 634.68a1.15 1.15 0 1 0 2.3 0a1.15 1.15 0 1 0-2.3 0M298.37 631.83a1.15 1.15 0 1 0 2.3 0a1.15 1.15 0 1 0-2.3 0M294.42 634.44a1.15 1.15 0 1 0 2.3 0a1.15 1.15 0 1 0-2.3 0M301.56 631.96a1.15 1.15 0 1 0 2.3 0a1.15 1.15 0 1 0-2.3 0M295.28 632.96a1.15 1.15 0 1 0 2.3 0a1.15 1.15 0 1 0-2.3 0M293.74 633.93a1.15 1.15 0 1 0 2.3 0a1.15 1.15 0 1 0-2.3 0M299.15 632.07a1.15 1.15 0 1 0 2.3 0a1.15 1.15 0 1 0-2.3 0M301.43 632.58a1.15 1.15 0 1 0 2.3 0a1.15 1.15 0 1 0-2.3 0M300.48 634.36a1.15 1.15 0 1 0 2.3 0a1.15 1.15 0 1 0-2.3 0M299.54 630.86a1.15 1.15 0 1 0 2.3 0a1.15 1.15 0 1 0-2.3 0M301.77 631.95a1.15 1.15 0 1 0 2.3 0a1.15 1.15 0 1 0-2.3 0M301.59 633.48a1.15 1.15 0 1 0 2.3 0a1.15 1.15 0 1 0-2.3 0M300.85 623.34a1.15 1.15 0 1 0 2.3 0a1.15 1.15 0 1 0-2.3 0M301.18 632.74a1.15 1.15 0 1 0 2.3 0a1.15 1.15 0 1 0-2.3 0M301.39 633.77a1.15 1.15 0 1 0 2.3 0a1.15 1.15 0 1 0-2.3 0M300.65 633.03a1.15 1.15 0 1 0 2.3 0a1.15 1.15 0 1 0-2.3 0"/>
<polygon fill="#d98ac2" points="305.5,651.55 305.5,640.51 306.16,637.48 306.82,638.01 307.47,637.4 308.13,636.86 308.79,637.28 309.45,638.23 310.11,636.33 310.76,637.74 311.42,638.25 312.08,637.34 312.74,636.49 313.39,636.32 314.05,637.99 314.71,638.12 315.37,636.52 316.03,636.5 316.68,636.36 317.34,636.62 318,640.51 318,651.55"/>
<path fill="#d98ac2" d="M313.94 637.5a1.15 1.15 0 1 0 2.3 0a1.15 1.15 0 1 0-2.3 0M307.2 637.49a1.15 1.15 0 1 0 2.3 0a1.15 1.15 0 1 0-2.3 0M305.36 634.35a1.15 1.15 0 1 0 2.3 0a1.15 1.15 0 1 0-2.3 0M315.84 636.16a1.15 1.15 0 1 0 2.3 0a1.15 1.15 0 1 0-2.3 0M306.9 637.36a1.15 1.15 0 1 0 2.3 0a1.15 1.15 0 1 0-2.3 0M314.92 634.63a1.15 1.15 0 1 0 2.3 0a1.15 1.15 0 1 0-2.3 0M311.49 635.51a1.15 1.15 0 1 0 2.3 0a1.15 1.15 0 1 0-2.3 0M311.65 635.54a1.15 1.15 0 1 0 2.3 0a1.15 1.15 0 1 0-2.3 0M315.62 636.58a1.15 1.15 0 1 0 2.3 0a1.15 1.15 0 1 0-2.3 0M306.16 637.45a1.15 1.15 0 1 0 2.3 0a1.15 1.15 0 1 0-2.3 0M312.22 637.47a1.15 1.15 0 1 0 2.3 0a1.15 1.15 0 1 0-2.3 0M306.48 634.8a1.15 1.15 0 1 0 2.3 0a1.15 1.15 0 1 0-2.3 0M315.2 637.4a1.15 1.15 0 1 0 2.3 0a1.15 1.15 0 1 0-2.3 0M307.67 634.28a1.15 1.15 0 1 0 2.3 0a1.15 1.15 0 1 0-2.3 0M315.01 635.89a1.15 1.15 0 1 0 2.3 0a1.15 1.15 0 1 0-2.3 0M310.33 635.22a1.15 1.15 0 1 0 2.3 0a1.15 1.15 0 1 0-2.3 0M315.15 619.46a1.15 1.15 0 1 0 2.3 0a1.15 1.15 0 1 0-2.3 0M315.19 632.66a1.15 1.15 0 1 0 2.3 0a1.15 1.15 0 1 0-2.3 0M315.34 620.29a1.15 1.15 0 1 0 2.3 0a1.15 1.15 0 1 0-2.3 0M315.53 636.56a1.15 1.15 0 1 0 2.3 0a1.15 1.15 0 1 0-2.3 0M315.22 627.79a1.15 1.15 0 1 0 2.3 0a1.15 1.15 0 1 0-2.3 0M315.47 631.29a1.15 1.15 0 1 0 2.3 0a1.15 1.15 0 1 0-2.3 0M314.48 628.33a1.15 1.15 0 1 0 2.3 0a1.15 1.15 0 1 0-2.3 0M315.33 630.35a1.15 1.15 0 1 0 2.3 0a1.15 1.15 0 1 0-2.3 0M314.69 636.52a1.15 1.15 0 1 0 2.3 0a1.15 1.15 0 1 0-2.3 0"/>
<polygon fill="#80d2a6" points="318.6,651.55 318.6,641.85 319.24,639.59 319.88,638.09 320.52,639.8 321.16,639.69 321.8,639.58 322.44,638.06 323.08,639.4 323.72,638.62 324.36,638.63 325,639.18 325.64,639.33 326.28,638.51 326.92,639.73 327.56,639.84 328.2,639.13 328.84,639.29 329.48,639.75 330.12,639.72 330.76,638.96 331.4,641.85 331.4,651.55"/>
<path fill="#80d2a6" d="M326.01 639a1.15 1.15 0 1 0 2.3 0a1.15 1.15 0 1 0-2.3 0M322.32 637.6a1.15 1.15 0 1 0 2.3 0a1.15 1.15 0 1 0-2.3 0M319.29 638.97a1.15 1.15 0 1 0 2.3 0a1.15 1.15 0 1 0-2.3 0M319.2 638.29a1.15 1.15 0 1 0 2.3 0a1.15 1.15 0 1 0-2.3 0M324.34 636.91a1.15 1.15 0 1 0 2.3 0a1.15 1.15 0 1 0-2.3 0M318.79 639.07a1.15 1.15 0 1 0 2.3 0a1.15 1.15 0 1 0-2.3 0M321.44 638.45a1.15 1.15 0 1 0 2.3 0a1.15 1.15 0 1 0-2.3 0M321.74 636.37a1.15 1.15 0 1 0 2.3 0a1.15 1.15 0 1 0-2.3 0M322.27 636.72a1.15 1.15 0 1 0 2.3 0a1.15 1.15 0 1 0-2.3 0M329.18 638.77a1.15 1.15 0 1 0 2.3 0a1.15 1.15 0 1 0-2.3 0M320.12 636.95a1.15 1.15 0 1 0 2.3 0a1.15 1.15 0 1 0-2.3 0M318.61 639.09a1.15 1.15 0 1 0 2.3 0a1.15 1.15 0 1 0-2.3 0M320.57 639.21a1.15 1.15 0 1 0 2.3 0a1.15 1.15 0 1 0-2.3 0M325.31 639.22a1.15 1.15 0 1 0 2.3 0a1.15 1.15 0 1 0-2.3 0M321.4 638.02a1.15 1.15 0 1 0 2.3 0a1.15 1.15 0 1 0-2.3 0M325.71 639.1a1.15 1.15 0 1 0 2.3 0a1.15 1.15 0 1 0-2.3 0M320.85 622.45a1.15 1.15 0 1 0 2.3 0a1.15 1.15 0 1 0-2.3 0M320.6 633.88a1.15 1.15 0 1 0 2.3 0a1.15 1.15 0 1 0-2.3 0M320.84 630.45a1.15 1.15 0 1 0 2.3 0a1.15 1.15 0 1 0-2.3 0"/>
<polygon fill="#8b1a36" points="332,651.55 332,640.51 332.65,638.12 333.29,637.05 333.94,638.11 334.59,636.84 335.24,637.22 335.88,636.46 336.53,637.27 337.18,636.49 337.82,637.52 338.47,637.27 339.12,637.01 339.76,636.82 340.41,637.63 341.06,638.17 341.71,636.81 342.35,636.68 343,640.51 343,651.55"/>
<path fill="#8b1a36" d="M337.32 635.18a1.15 1.15 0 1 0 2.3 0a1.15 1.15 0 1 0-2.3 0M333.49 636.86a1.15 1.15 0 1 0 2.3 0a1.15 1.15 0 1 0-2.3 0M335.44 636.88a1.15 1.15 0 1 0 2.3 0a1.15 1.15 0 1 0-2.3 0M334.79 635.83a1.15 1.15 0 1 0 2.3 0a1.15 1.15 0 1 0-2.3 0M339.36 636.27a1.15 1.15 0 1 0 2.3 0a1.15 1.15 0 1 0-2.3 0M338.42 636.03a1.15 1.15 0 1 0 2.3 0a1.15 1.15 0 1 0-2.3 0M338.2 636a1.15 1.15 0 1 0 2.3 0a1.15 1.15 0 1 0-2.3 0M333.09 634.9a1.15 1.15 0 1 0 2.3 0a1.15 1.15 0 1 0-2.3 0M333.36 637.05a1.15 1.15 0 1 0 2.3 0a1.15 1.15 0 1 0-2.3 0M336.66 635.69a1.15 1.15 0 1 0 2.3 0a1.15 1.15 0 1 0-2.3 0M340.21 637.34a1.15 1.15 0 1 0 2.3 0a1.15 1.15 0 1 0-2.3 0M332.29 635.94a1.15 1.15 0 1 0 2.3 0a1.15 1.15 0 1 0-2.3 0M337.01 635.48a1.15 1.15 0 1 0 2.3 0a1.15 1.15 0 1 0-2.3 0M333.49 635.24a1.15 1.15 0 1 0 2.3 0a1.15 1.15 0 1 0-2.3 0M339.55 620.66a1.15 1.15 0 1 0 2.3 0a1.15 1.15 0 1 0-2.3 0M339.37 636.71a1.15 1.15 0 1 0 2.3 0a1.15 1.15 0 1 0-2.3 0M339.59 636.51a1.15 1.15 0 1 0 2.3 0a1.15 1.15 0 1 0-2.3 0M339.44 621.38a1.15 1.15 0 1 0 2.3 0a1.15 1.15 0 1 0-2.3 0M339.41 633.93a1.15 1.15 0 1 0 2.3 0a1.15 1.15 0 1 0-2.3 0M339.31 635.81a1.15 1.15 0 1 0 2.3 0a1.15 1.15 0 1 0-2.3 0M339.98 628.52a1.15 1.15 0 1 0 2.3 0a1.15 1.15 0 1 0-2.3 0"/>
<polygon fill="#1f7a52" points="343.6,651.55 343.6,640.51 344.25,637.69 344.91,636.96 345.56,637.44 346.21,636.73 346.86,637.51 347.52,636.54 348.17,637.69 348.82,636.82 349.47,637.83 350.13,636.68 350.78,637.18 351.43,637.77 352.08,636.72 352.74,638.02 353.39,636.78 354.04,636.67 354.69,637.14 355.35,637.15 356,640.51 356,651.55"/>
<path fill="#1f7a52" d="M349.34 637.45a1.15 1.15 0 1 0 2.3 0a1.15 1.15 0 1 0-2.3 0M344.22 634.45a1.15 1.15 0 1 0 2.3 0a1.15 1.15 0 1 0-2.3 0M348.58 635.74a1.15 1.15 0 1 0 2.3 0a1.15 1.15 0 1 0-2.3 0M347.24 636.82a1.15 1.15 0 1 0 2.3 0a1.15 1.15 0 1 0-2.3 0M350.57 636.95a1.15 1.15 0 1 0 2.3 0a1.15 1.15 0 1 0-2.3 0M344.5 636.9a1.15 1.15 0 1 0 2.3 0a1.15 1.15 0 1 0-2.3 0M344.68 634.36a1.15 1.15 0 1 0 2.3 0a1.15 1.15 0 1 0-2.3 0M352.28 635.85a1.15 1.15 0 1 0 2.3 0a1.15 1.15 0 1 0-2.3 0M344.2 636.57a1.15 1.15 0 1 0 2.3 0a1.15 1.15 0 1 0-2.3 0M352.75 635.93a1.15 1.15 0 1 0 2.3 0a1.15 1.15 0 1 0-2.3 0M347.53 636.77a1.15 1.15 0 1 0 2.3 0a1.15 1.15 0 1 0-2.3 0M345.28 637.52a1.15 1.15 0 1 0 2.3 0a1.15 1.15 0 1 0-2.3 0M349.05 635.73a1.15 1.15 0 1 0 2.3 0a1.15 1.15 0 1 0-2.3 0M345.6 636.05a1.15 1.15 0 1 0 2.3 0a1.15 1.15 0 1 0-2.3 0M347.69 637.39a1.15 1.15 0 1 0 2.3 0a1.15 1.15 0 1 0-2.3 0M348.99 635.04a1.15 1.15 0 1 0 2.3 0a1.15 1.15 0 1 0-2.3 0M352.05 596.48a1.15 1.15 0 1 0 2.3 0a1.15 1.15 0 1 0-2.3 0M352.52 622.13a1.15 1.15 0 1 0 2.3 0a1.15 1.15 0 1 0-2.3 0M352.53 630.45a1.15 1.15 0 1 0 2.3 0a1.15 1.15 0 1 0-2.3 0M352.32 632.43a1.15 1.15 0 1 0 2.3 0a1.15 1.15 0 1 0-2.3 0M351.98 635.13a1.15 1.15 0 1 0 2.3 0a1.15 1.15 0 1 0-2.3 0M352.1 629.8a1.15 1.15 0 1 0 2.3 0a1.15 1.15 0 1 0-2.3 0M351.85 621.49a1.15 1.15 0 1 0 2.3 0a1.15 1.15 0 1 0-2.3 0M352.05 635.03a1.15 1.15 0 1 0 2.3 0a1.15 1.15 0 1 0-2.3 0M351.61 635.56a1.15 1.15 0 1 0 2.3 0a1.15 1.15 0 1 0-2.3 0M352.07 614.14a1.15 1.15 0 1 0 2.3 0a1.15 1.15 0 1 0-2.3 0M352.33 636.48a1.15 1.15 0 1 0 2.3 0a1.15 1.15 0 1 0-2.3 0M351.97 600.29a1.15 1.15 0 1 0 2.3 0a1.15 1.15 0 1 0-2.3 0M351.92 632.86a1.15 1.15 0 1 0 2.3 0a1.15 1.15 0 1 0-2.3 0M352.11 596.7a1.15 1.15 0 1 0 2.3 0a1.15 1.15 0 1 0-2.3 0M351.53 633.15a1.15 1.15 0 1 0 2.3 0a1.15 1.15 0 1 0-2.3 0M351.8 618.63a1.15 1.15 0 1 0 2.3 0a1.15 1.15 0 1 0-2.3 0M352.3 601.88a1.15 1.15 0 1 0 2.3 0a1.15 1.15 0 1 0-2.3 0M351.66 629.19a1.15 1.15 0 1 0 2.3 0a1.15 1.15 0 1 0-2.3 0M352.02 636.71a1.15 1.15 0 1 0 2.3 0a1.15 1.15 0 1 0-2.3 0M351.98 611.14a1.15 1.15 0 1 0 2.3 0a1.15 1.15 0 1 0-2.3 0M352.47 600.88a1.15 1.15 0 1 0 2.3 0a1.15 1.15 0 1 0-2.3 0M351.91 605.05a1.15 1.15 0 1 0 2.3 0a1.15 1.15 0 1 0-2.3 0M352.19 634.12a1.15 1.15 0 1 0 2.3 0a1.15 1.15 0 1 0-2.3 0M352.09 623.42a1.15 1.15 0 1 0 2.3 0a1.15 1.15 0 1 0-2.3 0M351.98 615.73a1.15 1.15 0 1 0 2.3 0a1.15 1.15 0 1 0-2.3 0M351.76 631.64a1.15 1.15 0 1 0 2.3 0a1.15 1.15 0 1 0-2.3 0M352.17 612.22a1.15 1.15 0 1 0 2.3 0a1.15 1.15 0 1 0-2.3 0M351.89 624.66a1.15 1.15 0 1 0 2.3 0a1.15 1.15 0 1 0-2.3 0M351.53 620.25a1.15 1.15 0 1 0 2.3 0a1.15 1.15 0 1 0-2.3 0M352.13 630.63a1.15 1.15 0 1 0 2.3 0a1.15 1.15 0 1 0-2.3 0M352.29 634.6a1.15 1.15 0 1 0 2.3 0a1.15 1.15 0 1 0-2.3 0"/>
<rect x="352.4" y="614.61" width="1.6" height="22.16" fill="#1f7a52"/>
<polygon fill="#3d98da" points="356.6,651.55 356.6,641.85 357.25,638.09 357.91,639.47 358.56,638.58 359.21,639.38 359.86,638.27 360.52,638.94 361.17,638.25 361.82,638.25 362.47,638.05 363.13,638.47 363.78,638.72 364.43,638.99 365.08,638.27 365.74,638.98 366.39,638.14 367.04,638.5 367.69,638.84 368.35,639.39 369,641.85 369,651.55"/>
<path fill="#3d98da" d="M358.07 637.28a1.15 1.15 0 1 0 2.3 0a1.15 1.15 0 1 0-2.3 0M363.39 637.37a1.15 1.15 0 1 0 2.3 0a1.15 1.15 0 1 0-2.3 0M361.31 636.52a1.15 1.15 0 1 0 2.3 0a1.15 1.15 0 1 0-2.3 0M358.12 638.71a1.15 1.15 0 1 0 2.3 0a1.15 1.15 0 1 0-2.3 0M361.18 639.2a1.15 1.15 0 1 0 2.3 0a1.15 1.15 0 1 0-2.3 0M363.94 638.79a1.15 1.15 0 1 0 2.3 0a1.15 1.15 0 1 0-2.3 0M358.86 637.8a1.15 1.15 0 1 0 2.3 0a1.15 1.15 0 1 0-2.3 0M365.33 639.21a1.15 1.15 0 1 0 2.3 0a1.15 1.15 0 1 0-2.3 0M361.88 638.37a1.15 1.15 0 1 0 2.3 0a1.15 1.15 0 1 0-2.3 0M366.68 638.6a1.15 1.15 0 1 0 2.3 0a1.15 1.15 0 1 0-2.3 0M357.49 636.44a1.15 1.15 0 1 0 2.3 0a1.15 1.15 0 1 0-2.3 0M361.24 638.25a1.15 1.15 0 1 0 2.3 0a1.15 1.15 0 1 0-2.3 0M361.93 638.85a1.15 1.15 0 1 0 2.3 0a1.15 1.15 0 1 0-2.3 0M363.2 637.46a1.15 1.15 0 1 0 2.3 0a1.15 1.15 0 1 0-2.3 0M362.76 637.92a1.15 1.15 0 1 0 2.3 0a1.15 1.15 0 1 0-2.3 0M360.83 637.7a1.15 1.15 0 1 0 2.3 0a1.15 1.15 0 1 0-2.3 0M358.85 634.39a1.15 1.15 0 1 0 2.3 0a1.15 1.15 0 1 0-2.3 0M358.46 638.54a1.15 1.15 0 1 0 2.3 0a1.15 1.15 0 1 0-2.3 0M358.87 638.01a1.15 1.15 0 1 0 2.3 0a1.15 1.15 0 1 0-2.3 0"/>
<polygon fill="#f5b81c" points="369.6,651.55 369.6,640.51 370.25,636.32 370.9,636.78 371.55,637.16 372.2,636.64 372.85,637.78 373.5,637.66 374.15,637.55 374.8,637.33 375.45,636.42 376.1,636.6 376.75,637.19 377.4,637.18 378.05,637.9 378.7,637.49 379.35,636.83 380,640.51 380,651.55"/>
<path fill="#f5b81c" d="M374.55 635.55a1.15 1.15 0 1 0 2.3 0a1.15 1.15 0 1 0-2.3 0M376.1 635.74a1.15 1.15 0 1 0 2.3 0a1.15 1.15 0 1 0-2.3 0M376.45 635.67a1.15 1.15 0 1 0 2.3 0a1.15 1.15 0 1 0-2.3 0M376.76 634.83a1.15 1.15 0 1 0 2.3 0a1.15 1.15 0 1 0-2.3 0M377.16 635.38a1.15 1.15 0 1 0 2.3 0a1.15 1.15 0 1 0-2.3 0M369.54 636.17a1.15 1.15 0 1 0 2.3 0a1.15 1.15 0 1 0-2.3 0M370.24 634.9a1.15 1.15 0 1 0 2.3 0a1.15 1.15 0 1 0-2.3 0M373.37 637.52a1.15 1.15 0 1 0 2.3 0a1.15 1.15 0 1 0-2.3 0M372.43 635.12a1.15 1.15 0 1 0 2.3 0a1.15 1.15 0 1 0-2.3 0M376.23 634.6a1.15 1.15 0 1 0 2.3 0a1.15 1.15 0 1 0-2.3 0M374.71 635.52a1.15 1.15 0 1 0 2.3 0a1.15 1.15 0 1 0-2.3 0M370.28 636.97a1.15 1.15 0 1 0 2.3 0a1.15 1.15 0 1 0-2.3 0M370.38 636a1.15 1.15 0 1 0 2.3 0a1.15 1.15 0 1 0-2.3 0M371.25 603.64a1.15 1.15 0 1 0 2.3 0a1.15 1.15 0 1 0-2.3 0M371.15 630.01a1.15 1.15 0 1 0 2.3 0a1.15 1.15 0 1 0-2.3 0M371.51 635.53a1.15 1.15 0 1 0 2.3 0a1.15 1.15 0 1 0-2.3 0M371.41 635.85a1.15 1.15 0 1 0 2.3 0a1.15 1.15 0 1 0-2.3 0M371.52 612.22a1.15 1.15 0 1 0 2.3 0a1.15 1.15 0 1 0-2.3 0M371.08 623.83a1.15 1.15 0 1 0 2.3 0a1.15 1.15 0 1 0-2.3 0M371.57 627.94a1.15 1.15 0 1 0 2.3 0a1.15 1.15 0 1 0-2.3 0M371.2 625.22a1.15 1.15 0 1 0 2.3 0a1.15 1.15 0 1 0-2.3 0M371.47 615.86a1.15 1.15 0 1 0 2.3 0a1.15 1.15 0 1 0-2.3 0M370.85 635.68a1.15 1.15 0 1 0 2.3 0a1.15 1.15 0 1 0-2.3 0M371.15 636.04a1.15 1.15 0 1 0 2.3 0a1.15 1.15 0 1 0-2.3 0M371.41 627.63a1.15 1.15 0 1 0 2.3 0a1.15 1.15 0 1 0-2.3 0M371.15 628.9a1.15 1.15 0 1 0 2.3 0a1.15 1.15 0 1 0-2.3 0M370.92 635.81a1.15 1.15 0 1 0 2.3 0a1.15 1.15 0 1 0-2.3 0M371.69 636.71a1.15 1.15 0 1 0 2.3 0a1.15 1.15 0 1 0-2.3 0M371.12 636.74a1.15 1.15 0 1 0 2.3 0a1.15 1.15 0 1 0-2.3 0M371.3 624.43a1.15 1.15 0 1 0 2.3 0a1.15 1.15 0 1 0-2.3 0"/>
<polygon fill="#3f2e98" points="380.7,651.55 380.7,640.51 381.34,636.42 381.99,636.64 382.63,636.93 383.27,638.13 383.92,637.38 384.56,638.14 385.21,636.3 385.85,637 386.49,637.89 387.14,637.73 387.78,637.55 388.43,636.92 389.07,637.67 389.71,636.3 390.36,637.69 391,640.51 391,651.55"/>
<path fill="#3f2e98" d="M385.09 637.39a1.15 1.15 0 1 0 2.3 0a1.15 1.15 0 1 0-2.3 0M383.45 636.96a1.15 1.15 0 1 0 2.3 0a1.15 1.15 0 1 0-2.3 0M388.78 636.63a1.15 1.15 0 1 0 2.3 0a1.15 1.15 0 1 0-2.3 0M385.8 636.85a1.15 1.15 0 1 0 2.3 0a1.15 1.15 0 1 0-2.3 0M387.55 636.4a1.15 1.15 0 1 0 2.3 0a1.15 1.15 0 1 0-2.3 0M384.87 634.86a1.15 1.15 0 1 0 2.3 0a1.15 1.15 0 1 0-2.3 0M382.34 636.63a1.15 1.15 0 1 0 2.3 0a1.15 1.15 0 1 0-2.3 0M386.22 635.92a1.15 1.15 0 1 0 2.3 0a1.15 1.15 0 1 0-2.3 0M386.16 634.42a1.15 1.15 0 1 0 2.3 0a1.15 1.15 0 1 0-2.3 0M382.71 637.02a1.15 1.15 0 1 0 2.3 0a1.15 1.15 0 1 0-2.3 0M387.56 636.46a1.15 1.15 0 1 0 2.3 0a1.15 1.15 0 1 0-2.3 0M380.6 634.74a1.15 1.15 0 1 0 2.3 0a1.15 1.15 0 1 0-2.3 0M387.93 636.74a1.15 1.15 0 1 0 2.3 0a1.15 1.15 0 1 0-2.3 0M384.75 627.22a1.15 1.15 0 1 0 2.3 0a1.15 1.15 0 1 0-2.3 0M384.73 635.34a1.15 1.15 0 1 0 2.3 0a1.15 1.15 0 1 0-2.3 0M384.51 627.87a1.15 1.15 0 1 0 2.3 0a1.15 1.15 0 1 0-2.3 0M384.64 632.43a1.15 1.15 0 1 0 2.3 0a1.15 1.15 0 1 0-2.3 0M384.9 636.12a1.15 1.15 0 1 0 2.3 0a1.15 1.15 0 1 0-2.3 0M384.47 636.72a1.15 1.15 0 1 0 2.3 0a1.15 1.15 0 1 0-2.3 0"/>
<polygon fill="#455423" points="391.6,651.55 391.6,640.51 392.27,637.78 392.94,637.51 393.61,636.31 394.28,636.97 394.95,638.25 395.62,636.34 396.29,637.58 396.96,637.97 397.64,637.73 398.31,637.1 398.98,636.68 399.65,637.13 400.32,637.26 400.99,636.69 401.66,636.32 402.33,637.24 403,640.51 403,651.55"/>
<path fill="#455423" d="M392.76 634.56a1.15 1.15 0 1 0 2.3 0a1.15 1.15 0 1 0-2.3 0M400.27 635.47a1.15 1.15 0 1 0 2.3 0a1.15 1.15 0 1 0-2.3 0M397.16 634.83a1.15 1.15 0 1 0 2.3 0a1.15 1.15 0 1 0-2.3 0M398.84 635.5a1.15 1.15 0 1 0 2.3 0a1.15 1.15 0 1 0-2.3 0M396.61 635.5a1.15 1.15 0 1 0 2.3 0a1.15 1.15 0 1 0-2.3 0M394.8 634.92a1.15 1.15 0 1 0 2.3 0a1.15 1.15 0 1 0-2.3 0M399 636.19a1.15 1.15 0 1 0 2.3 0a1.15 1.15 0 1 0-2.3 0M392.03 636.67a1.15 1.15 0 1 0 2.3 0a1.15 1.15 0 1 0-2.3 0M395.87 637.28a1.15 1.15 0 1 0 2.3 0a1.15 1.15 0 1 0-2.3 0M397.05 637.5a1.15 1.15 0 1 0 2.3 0a1.15 1.15 0 1 0-2.3 0M394.15 637.33a1.15 1.15 0 1 0 2.3 0a1.15 1.15 0 1 0-2.3 0M396.63 637.36a1.15 1.15 0 1 0 2.3 0a1.15 1.15 0 1 0-2.3 0M393.16 634.46a1.15 1.15 0 1 0 2.3 0a1.15 1.15 0 1 0-2.3 0M393.89 636.28a1.15 1.15 0 1 0 2.3 0a1.15 1.15 0 1 0-2.3 0M399.85 627.82a1.15 1.15 0 1 0 2.3 0a1.15 1.15 0 1 0-2.3 0M399.71 636.29a1.15 1.15 0 1 0 2.3 0a1.15 1.15 0 1 0-2.3 0M399.18 636.77a1.15 1.15 0 1 0 2.3 0a1.15 1.15 0 1 0-2.3 0M400.42 636.47a1.15 1.15 0 1 0 2.3 0a1.15 1.15 0 1 0-2.3 0M400.03 633.05a1.15 1.15 0 1 0 2.3 0a1.15 1.15 0 1 0-2.3 0M400.13 628.73a1.15 1.15 0 1 0 2.3 0a1.15 1.15 0 1 0-2.3 0"/>
<polygon fill="#e0197f" points="403.6,651.55 403.6,639.39 404.27,635.32 404.93,634.98 405.6,634.88 406.27,635.32 406.93,636.78 407.6,636.49 408.27,635.63 408.93,635.65 409.6,634.7 410.27,635.62 410.93,635.06 411.6,635.47 412.27,636.72 412.93,636.1 413.6,639.39 413.6,651.55"/>
<path fill="#e0197f" d="M404.63 634.95a1.15 1.15 0 1 0 2.3 0a1.15 1.15 0 1 0-2.3 0M408.15 633.53a1.15 1.15 0 1 0 2.3 0a1.15 1.15 0 1 0-2.3 0M408.72 633.27a1.15 1.15 0 1 0 2.3 0a1.15 1.15 0 1 0-2.3 0M410.33 636.04a1.15 1.15 0 1 0 2.3 0a1.15 1.15 0 1 0-2.3 0M410.87 635.09a1.15 1.15 0 1 0 2.3 0a1.15 1.15 0 1 0-2.3 0M408.47 635.56a1.15 1.15 0 1 0 2.3 0a1.15 1.15 0 1 0-2.3 0M405.79 634.85a1.15 1.15 0 1 0 2.3 0a1.15 1.15 0 1 0-2.3 0M411 635.07a1.15 1.15 0 1 0 2.3 0a1.15 1.15 0 1 0-2.3 0M411.15 632.82a1.15 1.15 0 1 0 2.3 0a1.15 1.15 0 1 0-2.3 0M409.7 635.12a1.15 1.15 0 1 0 2.3 0a1.15 1.15 0 1 0-2.3 0M406.56 633.62a1.15 1.15 0 1 0 2.3 0a1.15 1.15 0 1 0-2.3 0M406.67 636.04a1.15 1.15 0 1 0 2.3 0a1.15 1.15 0 1 0-2.3 0M410.39 635.48a1.15 1.15 0 1 0 2.3 0a1.15 1.15 0 1 0-2.3 0M407.25 585.43a1.15 1.15 0 1 0 2.3 0a1.15 1.15 0 1 0-2.3 0M407.14 612.95a1.15 1.15 0 1 0 2.3 0a1.15 1.15 0 1 0-2.3 0M407.47 605.65a1.15 1.15 0 1 0 2.3 0a1.15 1.15 0 1 0-2.3 0M407.25 635.18a1.15 1.15 0 1 0 2.3 0a1.15 1.15 0 1 0-2.3 0M407.96 624.86a1.15 1.15 0 1 0 2.3 0a1.15 1.15 0 1 0-2.3 0M407.54 632.73a1.15 1.15 0 1 0 2.3 0a1.15 1.15 0 1 0-2.3 0M406.82 602.57a1.15 1.15 0 1 0 2.3 0a1.15 1.15 0 1 0-2.3 0M407.05 610.1a1.15 1.15 0 1 0 2.3 0a1.15 1.15 0 1 0-2.3 0M407.14 635.23a1.15 1.15 0 1 0 2.3 0a1.15 1.15 0 1 0-2.3 0M407.16 630.13a1.15 1.15 0 1 0 2.3 0a1.15 1.15 0 1 0-2.3 0M407.46 595.41a1.15 1.15 0 1 0 2.3 0a1.15 1.15 0 1 0-2.3 0M407.41 624.08a1.15 1.15 0 1 0 2.3 0a1.15 1.15 0 1 0-2.3 0M407.5 591.68a1.15 1.15 0 1 0 2.3 0a1.15 1.15 0 1 0-2.3 0M407.31 629.87a1.15 1.15 0 1 0 2.3 0a1.15 1.15 0 1 0-2.3 0M407.23 589.32a1.15 1.15 0 1 0 2.3 0a1.15 1.15 0 1 0-2.3 0M407.34 633.96a1.15 1.15 0 1 0 2.3 0a1.15 1.15 0 1 0-2.3 0M407.47 587.97a1.15 1.15 0 1 0 2.3 0a1.15 1.15 0 1 0-2.3 0M407.06 591.05a1.15 1.15 0 1 0 2.3 0a1.15 1.15 0 1 0-2.3 0M407.18 635.25a1.15 1.15 0 1 0 2.3 0a1.15 1.15 0 1 0-2.3 0"/>
<polygon fill="#ee7020" points="414.2,651.55 414.2,640.51 414.85,636.48 415.51,638.1 416.16,637.82 416.81,636.63 417.47,636.8 418.12,636.68 418.77,637.19 419.43,637.7 420.08,637.55 420.73,636.77 421.39,636.2 422.04,637.62 422.69,637.78 423.35,637.59 424,640.51 424,651.55"/>
<path fill="#ee7020" d="M415.42 635.06a1.15 1.15 0 1 0 2.3 0a1.15 1.15 0 1 0-2.3 0M414.93 637.32a1.15 1.15 0 1 0 2.3 0a1.15 1.15 0 1 0-2.3 0M420.6 637.14a1.15 1.15 0 1 0 2.3 0a1.15 1.15 0 1 0-2.3 0M421.42 636.99a1.15 1.15 0 1 0 2.3 0a1.15 1.15 0 1 0-2.3 0M415.47 636.68a1.15 1.15 0 1 0 2.3 0a1.15 1.15 0 1 0-2.3 0M414.1 636.62a1.15 1.15 0 1 0 2.3 0a1.15 1.15 0 1 0-2.3 0M418.31 634.35a1.15 1.15 0 1 0 2.3 0a1.15 1.15 0 1 0-2.3 0M419.66 636.73a1.15 1.15 0 1 0 2.3 0a1.15 1.15 0 1 0-2.3 0M416.94 636.64a1.15 1.15 0 1 0 2.3 0a1.15 1.15 0 1 0-2.3 0M415.85 637.29a1.15 1.15 0 1 0 2.3 0a1.15 1.15 0 1 0-2.3 0M415.43 635.22a1.15 1.15 0 1 0 2.3 0a1.15 1.15 0 1 0-2.3 0M421.79 636.32a1.15 1.15 0 1 0 2.3 0a1.15 1.15 0 1 0-2.3 0M413.85 624.84a1.15 1.15 0 1 0 2.3 0a1.15 1.15 0 1 0-2.3 0M413.89 635.81a1.15 1.15 0 1 0 2.3 0a1.15 1.15 0 1 0-2.3 0M413.92 632.59a1.15 1.15 0 1 0 2.3 0a1.15 1.15 0 1 0-2.3 0M413.49 635.58a1.15 1.15 0 1 0 2.3 0a1.15 1.15 0 1 0-2.3 0M413.64 629.8a1.15 1.15 0 1 0 2.3 0a1.15 1.15 0 1 0-2.3 0"/>
<polygon fill="#d98ac2" points="424.6,651.55 424.6,640.51 425.28,637.55 425.95,637.73 426.63,636.51 427.31,636.29 427.98,637.72 428.66,636.59 429.34,637.61 430.02,637.38 430.69,638.27 431.37,636.93 432.05,638.14 432.72,637.24 433.4,640.51 433.4,651.55"/>
<path fill="#d98ac2" d="M430.29 637.24a1.15 1.15 0 1 0 2.3 0a1.15 1.15 0 1 0-2.3 0M427.58 636.2a1.15 1.15 0 1 0 2.3 0a1.15 1.15 0 1 0-2.3 0M427.01 637.36a1.15 1.15 0 1 0 2.3 0a1.15 1.15 0 1 0-2.3 0M425.85 636.26a1.15 1.15 0 1 0 2.3 0a1.15 1.15 0 1 0-2.3 0M425.03 634.83a1.15 1.15 0 1 0 2.3 0a1.15 1.15 0 1 0-2.3 0M430.03 637.43a1.15 1.15 0 1 0 2.3 0a1.15 1.15 0 1 0-2.3 0M424.99 636.45a1.15 1.15 0 1 0 2.3 0a1.15 1.15 0 1 0-2.3 0M424.69 634.27a1.15 1.15 0 1 0 2.3 0a1.15 1.15 0 1 0-2.3 0M425.12 636.26a1.15 1.15 0 1 0 2.3 0a1.15 1.15 0 1 0-2.3 0M427.89 636.09a1.15 1.15 0 1 0 2.3 0a1.15 1.15 0 1 0-2.3 0M427.09 636.24a1.15 1.15 0 1 0 2.3 0a1.15 1.15 0 1 0-2.3 0M424.85 621.85a1.15 1.15 0 1 0 2.3 0a1.15 1.15 0 1 0-2.3 0M425 634.22a1.15 1.15 0 1 0 2.3 0a1.15 1.15 0 1 0-2.3 0M425.35 636.66a1.15 1.15 0 1 0 2.3 0a1.15 1.15 0 1 0-2.3 0M424.6 626.05a1.15 1.15 0 1 0 2.3 0a1.15 1.15 0 1 0-2.3 0M424.96 636.57a1.15 1.15 0 1 0 2.3 0a1.15 1.15 0 1 0-2.3 0M424.58 635.46a1.15 1.15 0 1 0 2.3 0a1.15 1.15 0 1 0-2.3 0M429.85 626.33a1.15 1.15 0 1 0 2.3 0a1.15 1.15 0 1 0-2.3 0M429.28 634.31a1.15 1.15 0 1 0 2.3 0a1.15 1.15 0 1 0-2.3 0M429.62 630.87a1.15 1.15 0 1 0 2.3 0a1.15 1.15 0 1 0-2.3 0M429.79 630.91a1.15 1.15 0 1 0 2.3 0a1.15 1.15 0 1 0-2.3 0"/>
<polygon fill="#80d2a6" points="434,651.55 434,638.27 434.66,633.21 435.32,634.6 435.98,633.48 436.65,634.71 437.31,635.23 437.97,633.73 438.63,634.42 439.29,635.49 439.95,634.38 440.62,634.95 441.28,634.51 441.94,634.75 442.6,638.27 442.6,651.55"/>
<path fill="#80d2a6" d="M434.58 633.1a1.15 1.15 0 1 0 2.3 0a1.15 1.15 0 1 0-2.3 0M436.33 633.48a1.15 1.15 0 1 0 2.3 0a1.15 1.15 0 1 0-2.3 0M438.14 633.27a1.15 1.15 0 1 0 2.3 0a1.15 1.15 0 1 0-2.3 0M437.47 632.33a1.15 1.15 0 1 0 2.3 0a1.15 1.15 0 1 0-2.3 0M436.32 632.23a1.15 1.15 0 1 0 2.3 0a1.15 1.15 0 1 0-2.3 0M438.37 633.98a1.15 1.15 0 1 0 2.3 0a1.15 1.15 0 1 0-2.3 0M438.07 633.47a1.15 1.15 0 1 0 2.3 0a1.15 1.15 0 1 0-2.3 0M436.22 632.51a1.15 1.15 0 1 0 2.3 0a1.15 1.15 0 1 0-2.3 0M434.98 634.42a1.15 1.15 0 1 0 2.3 0a1.15 1.15 0 1 0-2.3 0M435.92 631.47a1.15 1.15 0 1 0 2.3 0a1.15 1.15 0 1 0-2.3 0M435.28 633.32a1.15 1.15 0 1 0 2.3 0a1.15 1.15 0 1 0-2.3 0M440.85 587.82a1.15 1.15 0 1 0 2.3 0a1.15 1.15 0 1 0-2.3 0M440.47 593.26a1.15 1.15 0 1 0 2.3 0a1.15 1.15 0 1 0-2.3 0M441.33 633.72a1.15 1.15 0 1 0 2.3 0a1.15 1.15 0 1 0-2.3 0M441.11 631.69a1.15 1.15 0 1 0 2.3 0a1.15 1.15 0 1 0-2.3 0M440.87 590.39a1.15 1.15 0 1 0 2.3 0a1.15 1.15 0 1 0-2.3 0M440.37 619.7a1.15 1.15 0 1 0 2.3 0a1.15 1.15 0 1 0-2.3 0M440.97 622.16a1.15 1.15 0 1 0 2.3 0a1.15 1.15 0 1 0-2.3 0M441.22 623.27a1.15 1.15 0 1 0 2.3 0a1.15 1.15 0 1 0-2.3 0M440.78 628.25a1.15 1.15 0 1 0 2.3 0a1.15 1.15 0 1 0-2.3 0M441.17 633.58a1.15 1.15 0 1 0 2.3 0a1.15 1.15 0 1 0-2.3 0M440.56 632.56a1.15 1.15 0 1 0 2.3 0a1.15 1.15 0 1 0-2.3 0M441.1 620.83a1.15 1.15 0 1 0 2.3 0a1.15 1.15 0 1 0-2.3 0M440.8 598.96a1.15 1.15 0 1 0 2.3 0a1.15 1.15 0 1 0-2.3 0M440.98 628.72a1.15 1.15 0 1 0 2.3 0a1.15 1.15 0 1 0-2.3 0M440.33 626.7a1.15 1.15 0 1 0 2.3 0a1.15 1.15 0 1 0-2.3 0M440.89 630.41a1.15 1.15 0 1 0 2.3 0a1.15 1.15 0 1 0-2.3 0M440.67 633.54a1.15 1.15 0 1 0 2.3 0a1.15 1.15 0 1 0-2.3 0M440.81 624.09a1.15 1.15 0 1 0 2.3 0a1.15 1.15 0 1 0-2.3 0M440.56 610.77a1.15 1.15 0 1 0 2.3 0a1.15 1.15 0 1 0-2.3 0M440.47 633.51a1.15 1.15 0 1 0 2.3 0a1.15 1.15 0 1 0-2.3 0M440.55 592.37a1.15 1.15 0 1 0 2.3 0a1.15 1.15 0 1 0-2.3 0M441 633.29a1.15 1.15 0 1 0 2.3 0a1.15 1.15 0 1 0-2.3 0M440.77 630.81a1.15 1.15 0 1 0 2.3 0a1.15 1.15 0 1 0-2.3 0M440.4 628.63a1.15 1.15 0 1 0 2.3 0a1.15 1.15 0 1 0-2.3 0M440.7 632.54a1.15 1.15 0 1 0 2.3 0a1.15 1.15 0 1 0-2.3 0M440.9 630.94a1.15 1.15 0 1 0 2.3 0a1.15 1.15 0 1 0-2.3 0M440.92 606.48a1.15 1.15 0 1 0 2.3 0a1.15 1.15 0 1 0-2.3 0M440.94 608.98a1.15 1.15 0 1 0 2.3 0a1.15 1.15 0 1 0-2.3 0M441.12 632.76a1.15 1.15 0 1 0 2.3 0a1.15 1.15 0 1 0-2.3 0M434.35 611.1a1.15 1.15 0 1 0 2.3 0a1.15 1.15 0 1 0-2.3 0M433.84 618.13a1.15 1.15 0 1 0 2.3 0a1.15 1.15 0 1 0-2.3 0M434.42 617.84a1.15 1.15 0 1 0 2.3 0a1.15 1.15 0 1 0-2.3 0M433.87 614.23a1.15 1.15 0 1 0 2.3 0a1.15 1.15 0 1 0-2.3 0M434.63 619.99a1.15 1.15 0 1 0 2.3 0a1.15 1.15 0 1 0-2.3 0M434.29 631.52a1.15 1.15 0 1 0 2.3 0a1.15 1.15 0 1 0-2.3 0M434.45 630.14a1.15 1.15 0 1 0 2.3 0a1.15 1.15 0 1 0-2.3 0M434.27 625.11a1.15 1.15 0 1 0 2.3 0a1.15 1.15 0 1 0-2.3 0M433.96 630.34a1.15 1.15 0 1 0 2.3 0a1.15 1.15 0 1 0-2.3 0"/>
<rect x="441.2" y="620" width="1.6" height="13.79" fill="#80d2a6"/>
<polygon fill="#8b1a36" points="443.2,651.55 443.2,638.27 443.88,635.24 444.57,634.85 445.25,633.34 445.93,634.39 446.62,633.15 447.3,634.05 447.98,633.74 448.67,635.06 449.35,633.27 450.03,635.2 450.72,633.76 451.4,638.27 451.4,651.55"/>
<path fill="#8b1a36" d="M443.51 632.89a1.15 1.15 0 1 0 2.3 0a1.15 1.15 0 1 0-2.3 0M446.79 631.63a1.15 1.15 0 1 0 2.3 0a1.15 1.15 0 1 0-2.3 0M446.5 631.32a1.15 1.15 0 1 0 2.3 0a1.15 1.15 0 1 0-2.3 0M447.89 634.65a1.15 1.15 0 1 0 2.3 0a1.15 1.15 0 1 0-2.3 0M447.23 633.13a1.15 1.15 0 1 0 2.3 0a1.15 1.15 0 1 0-2.3 0M446.19 631.66a1.15 1.15 0 1 0 2.3 0a1.15 1.15 0 1 0-2.3 0M445.74 633.11a1.15 1.15 0 1 0 2.3 0a1.15 1.15 0 1 0-2.3 0M448.61 633.94a1.15 1.15 0 1 0 2.3 0a1.15 1.15 0 1 0-2.3 0M448.44 634.69a1.15 1.15 0 1 0 2.3 0a1.15 1.15 0 1 0-2.3 0M444.35 631.98a1.15 1.15 0 1 0 2.3 0a1.15 1.15 0 1 0-2.3 0M448.25 612.6a1.15 1.15 0 1 0 2.3 0a1.15 1.15 0 1 0-2.3 0M448.43 627.69a1.15 1.15 0 1 0 2.3 0a1.15 1.15 0 1 0-2.3 0M448.05 628.35a1.15 1.15 0 1 0 2.3 0a1.15 1.15 0 1 0-2.3 0M448.4 629.1a1.15 1.15 0 1 0 2.3 0a1.15 1.15 0 1 0-2.3 0M448.13 632a1.15 1.15 0 1 0 2.3 0a1.15 1.15 0 1 0-2.3 0M448.39 633.79a1.15 1.15 0 1 0 2.3 0a1.15 1.15 0 1 0-2.3 0M447.57 625.35a1.15 1.15 0 1 0 2.3 0a1.15 1.15 0 1 0-2.3 0M448.26 626.08a1.15 1.15 0 1 0 2.3 0a1.15 1.15 0 1 0-2.3 0M448.27 621.02a1.15 1.15 0 1 0 2.3 0a1.15 1.15 0 1 0-2.3 0"/>
<polygon fill="#1f7a52" points="452,651.55 452,641.63 452.64,639.1 453.29,638.75 453.93,638.28 454.57,638.21 455.21,639.09 455.86,639.5 456.5,637.89 457.14,638.51 457.79,639.34 458.43,638.76 459.07,639.52 459.71,638.87 460.36,638.8 461,641.63 461,651.55"/>
<path fill="#1f7a52" d="M455.5 638.8a1.15 1.15 0 1 0 2.3 0a1.15 1.15 0 1 0-2.3 0M451.98 636.17a1.15 1.15 0 1 0 2.3 0a1.15 1.15 0 1 0-2.3 0M456.22 636.76a1.15 1.15 0 1 0 2.3 0a1.15 1.15 0 1 0-2.3 0M455.42 637.67a1.15 1.15 0 1 0 2.3 0a1.15 1.15 0 1 0-2.3 0M452.57 637.73a1.15 1.15 0 1 0 2.3 0a1.15 1.15 0 1 0-2.3 0M456.41 636.5a1.15 1.15 0 1 0 2.3 0a1.15 1.15 0 1 0-2.3 0M454.77 638.47a1.15 1.15 0 1 0 2.3 0a1.15 1.15 0 1 0-2.3 0M453.5 636.67a1.15 1.15 0 1 0 2.3 0a1.15 1.15 0 1 0-2.3 0M456.84 636.31a1.15 1.15 0 1 0 2.3 0a1.15 1.15 0 1 0-2.3 0M454.94 637.63a1.15 1.15 0 1 0 2.3 0a1.15 1.15 0 1 0-2.3 0M453.18 638.02a1.15 1.15 0 1 0 2.3 0a1.15 1.15 0 1 0-2.3 0M452.85 629.31a1.15 1.15 0 1 0 2.3 0a1.15 1.15 0 1 0-2.3 0M452.95 634.57a1.15 1.15 0 1 0 2.3 0a1.15 1.15 0 1 0-2.3 0M453.13 636.59a1.15 1.15 0 1 0 2.3 0a1.15 1.15 0 1 0-2.3 0M453.03 632.88a1.15 1.15 0 1 0 2.3 0a1.15 1.15 0 1 0-2.3 0M452.83 630.07a1.15 1.15 0 1 0 2.3 0a1.15 1.15 0 1 0-2.3 0"/>
<polygon fill="#3d98da" points="461.6,651.55 461.6,641.63 462.25,638.45 462.91,637.79 463.56,637.97 464.22,638.38 464.87,638.33 465.52,637.96 466.18,639.36 466.83,638.48 467.48,639.4 468.14,638.6 468.79,639.5 469.45,638.42 470.1,641.63 470.1,651.55"/>
<path fill="#3d98da" d="M465.69 637.04a1.15 1.15 0 1 0 2.3 0a1.15 1.15 0 1 0-2.3 0M464.98 638.23a1.15 1.15 0 1 0 2.3 0a1.15 1.15 0 1 0-2.3 0M464.47 637.94a1.15 1.15 0 1 0 2.3 0a1.15 1.15 0 1 0-2.3 0M462.19 638.55a1.15 1.15 0 1 0 2.3 0a1.15 1.15 0 1 0-2.3 0M465.06 637.53a1.15 1.15 0 1 0 2.3 0a1.15 1.15 0 1 0-2.3 0M464.96 636.38a1.15 1.15 0 1 0 2.3 0a1.15 1.15 0 1 0-2.3 0M463.38 636.82a1.15 1.15 0 1 0 2.3 0a1.15 1.15 0 1 0-2.3 0M463.92 636.74a1.15 1.15 0 1 0 2.3 0a1.15 1.15 0 1 0-2.3 0M467.62 638.41a1.15 1.15 0 1 0 2.3 0a1.15 1.15 0 1 0-2.3 0M464.99 637.93a1.15 1.15 0 1 0 2.3 0a1.15 1.15 0 1 0-2.3 0M462.28 638.94a1.15 1.15 0 1 0 2.3 0a1.15 1.15 0 1 0-2.3 0M463.85 610.21a1.15 1.15 0 1 0 2.3 0a1.15 1.15 0 1 0-2.3 0M463.86 637.98a1.15 1.15 0 1 0 2.3 0a1.15 1.15 0 1 0-2.3 0M463.58 622.22a1.15 1.15 0 1 0 2.3 0a1.15 1.15 0 1 0-2.3 0M463.66 612.46a1.15 1.15 0 1 0 2.3 0a1.15 1.15 0 1 0-2.3 0M463.41 631.61a1.15 1.15 0 1 0 2.3 0a1.15 1.15 0 1 0-2.3 0M463.72 630.17a1.15 1.15 0 1 0 2.3 0a1.15 1.15 0 1 0-2.3 0M463.86 624.51a1.15 1.15 0 1 0 2.3 0a1.15 1.15 0 1 0-2.3 0M463.74 619.07a1.15 1.15 0 1 0 2.3 0a1.15 1.15 0 1 0-2.3 0M464.28 637.77a1.15 1.15 0 1 0 2.3 0a1.15 1.15 0 1 0-2.3 0M464.27 637.5a1.15 1.15 0 1 0 2.3 0a1.15 1.15 0 1 0-2.3 0M464.01 635.78a1.15 1.15 0 1 0 2.3 0a1.15 1.15 0 1 0-2.3 0M463.69 624.19a1.15 1.15 0 1 0 2.3 0a1.15 1.15 0 1 0-2.3 0M463.63 625.17a1.15 1.15 0 1 0 2.3 0a1.15 1.15 0 1 0-2.3 0M469.05 611.1a1.15 1.15 0 1 0 2.3 0a1.15 1.15 0 1 0-2.3 0M468.42 632.05a1.15 1.15 0 1 0 2.3 0a1.15 1.15 0 1 0-2.3 0M468.69 637.3a1.15 1.15 0 1 0 2.3 0a1.15 1.15 0 1 0-2.3 0M469.14 628.71a1.15 1.15 0 1 0 2.3 0a1.15 1.15 0 1 0-2.3 0M469 611.88a1.15 1.15 0 1 0 2.3 0a1.15 1.15 0 1 0-2.3 0M468.84 635.33a1.15 1.15 0 1 0 2.3 0a1.15 1.15 0 1 0-2.3 0M469.18 629.97a1.15 1.15 0 1 0 2.3 0a1.15 1.15 0 1 0-2.3 0"/>
<polygon fill="#f5b81c" points="470.6,651.55 470.6,642.3 471.29,638.96 471.98,638.87 472.68,640.03 473.37,639.1 474.06,639.58 474.75,640.08 475.44,640.24 476.13,639.79 476.82,640.3 477.52,639.29 478.21,640.05 478.9,642.3 478.9,651.55"/>
<path fill="#f5b81c" d="M472.34 639.51a1.15 1.15 0 1 0 2.3 0a1.15 1.15 0 1 0-2.3 0M474.36 639.46a1.15 1.15 0 1 0 2.3 0a1.15 1.15 0 1 0-2.3 0M476.09 639.46a1.15 1.15 0 1 0 2.3 0a1.15 1.15 0 1 0-2.3 0M470.8 639.49a1.15 1.15 0 1 0 2.3 0a1.15 1.15 0 1 0-2.3 0M472.89 639.09a1.15 1.15 0 1 0 2.3 0a1.15 1.15 0 1 0-2.3 0M472.9 638.8a1.15 1.15 0 1 0 2.3 0a1.15 1.15 0 1 0-2.3 0M472.06 638.47a1.15 1.15 0 1 0 2.3 0a1.15 1.15 0 1 0-2.3 0M473.25 637.69a1.15 1.15 0 1 0 2.3 0a1.15 1.15 0 1 0-2.3 0M474.26 638.1a1.15 1.15 0 1 0 2.3 0a1.15 1.15 0 1 0-2.3 0M472.98 637.09a1.15 1.15 0 1 0 2.3 0a1.15 1.15 0 1 0-2.3 0"/>
<polygon fill="#3f2e98" points="479.6,651.55 479.6,640.51 480.33,636.51 481.07,637.55 481.8,636.42 482.53,636.83 483.27,637.6 484,637.68 484.73,638.12 485.47,636.66 486.2,640.51 486.2,651.55"/>
<path fill="#3f2e98" d="M483.33 637.51a1.15 1.15 0 1 0 2.3 0a1.15 1.15 0 1 0-2.3 0M480.26 635.19a1.15 1.15 0 1 0 2.3 0a1.15 1.15 0 1 0-2.3 0M480.38 637.49a1.15 1.15 0 1 0 2.3 0a1.15 1.15 0 1 0-2.3 0M483.01 637.49a1.15 1.15 0 1 0 2.3 0a1.15 1.15 0 1 0-2.3 0M482.08 634.34a1.15 1.15 0 1 0 2.3 0a1.15 1.15 0 1 0-2.3 0M480.31 636.48a1.15 1.15 0 1 0 2.3 0a1.15 1.15 0 1 0-2.3 0M481.89 637.47a1.15 1.15 0 1 0 2.3 0a1.15 1.15 0 1 0-2.3 0M480.62 634.84a1.15 1.15 0 1 0 2.3 0a1.15 1.15 0 1 0-2.3 0M482.35 562.15a1.15 1.15 0 1 0 2.3 0a1.15 1.15 0 1 0-2.3 0M483.04 572.45a1.15 1.15 0 1 0 2.3 0a1.15 1.15 0 1 0-2.3 0M482.54 636.7a1.15 1.15 0 1 0 2.3 0a1.15 1.15 0 1 0-2.3 0M482.45 626.56a1.15 1.15 0 1 0 2.3 0a1.15 1.15 0 1 0-2.3 0M482.8 602.49a1.15 1.15 0 1 0 2.3 0a1.15 1.15 0 1 0-2.3 0M482.41 586.09a1.15 1.15 0 1 0 2.3 0a1.15 1.15 0 1 0-2.3 0M481.87 598.41a1.15 1.15 0 1 0 2.3 0a1.15 1.15 0 1 0-2.3 0M482.17 635.76a1.15 1.15 0 1 0 2.3 0a1.15 1.15 0 1 0-2.3 0M482.22 636.72a1.15 1.15 0 1 0 2.3 0a1.15 1.15 0 1 0-2.3 0M481.81 636.63a1.15 1.15 0 1 0 2.3 0a1.15 1.15 0 1 0-2.3 0M482.94 630.43a1.15 1.15 0 1 0 2.3 0a1.15 1.15 0 1 0-2.3 0M482.1 621.57a1.15 1.15 0 1 0 2.3 0a1.15 1.15 0 1 0-2.3 0M482.34 601.51a1.15 1.15 0 1 0 2.3 0a1.15 1.15 0 1 0-2.3 0M482.53 611.93a1.15 1.15 0 1 0 2.3 0a1.15 1.15 0 1 0-2.3 0M482.75 593.36a1.15 1.15 0 1 0 2.3 0a1.15 1.15 0 1 0-2.3 0M482.68 625.64a1.15 1.15 0 1 0 2.3 0a1.15 1.15 0 1 0-2.3 0M482.9 631.24a1.15 1.15 0 1 0 2.3 0a1.15 1.15 0 1 0-2.3 0M483.23 616.77a1.15 1.15 0 1 0 2.3 0a1.15 1.15 0 1 0-2.3 0M481.95 636.55a1.15 1.15 0 1 0 2.3 0a1.15 1.15 0 1 0-2.3 0M482.37 607.51a1.15 1.15 0 1 0 2.3 0a1.15 1.15 0 1 0-2.3 0M482.62 635.17a1.15 1.15 0 1 0 2.3 0a1.15 1.15 0 1 0-2.3 0M482.3 631.98a1.15 1.15 0 1 0 2.3 0a1.15 1.15 0 1 0-2.3 0M482.63 577.86a1.15 1.15 0 1 0 2.3 0a1.15 1.15 0 1 0-2.3 0M482.5 629.72a1.15 1.15 0 1 0 2.3 0a1.15 1.15 0 1 0-2.3 0M482.4 566.96a1.15 1.15 0 1 0 2.3 0a1.15 1.15 0 1 0-2.3 0M483.06 590.92a1.15 1.15 0 1 0 2.3 0a1.15 1.15 0 1 0-2.3 0M482.4 599.71a1.15 1.15 0 1 0 2.3 0a1.15 1.15 0 1 0-2.3 0M481.91 635.72a1.15 1.15 0 1 0 2.3 0a1.15 1.15 0 1 0-2.3 0M481.66 628.43a1.15 1.15 0 1 0 2.3 0a1.15 1.15 0 1 0-2.3 0"/>
<rect x="482.7" y="610.66" width="1.6" height="26.12" fill="#3f2e98"/>
<polygon fill="#455423" points="486.7,651.55 486.7,640.51 487.38,636.93 488.07,638.25 488.75,636.45 489.43,636.93 490.12,636.95 490.8,637.21 491.48,637.65 492.17,636.99 492.85,637.84 493.53,636.83 494.22,637.52 494.9,640.51 494.9,651.55"/>
<path fill="#455423" d="M491.82 634.34a1.15 1.15 0 1 0 2.3 0a1.15 1.15 0 1 0-2.3 0M492.07 637.18a1.15 1.15 0 1 0 2.3 0a1.15 1.15 0 1 0-2.3 0M491.27 635.68a1.15 1.15 0 1 0 2.3 0a1.15 1.15 0 1 0-2.3 0M491.61 637.47a1.15 1.15 0 1 0 2.3 0a1.15 1.15 0 1 0-2.3 0M490.13 637.49a1.15 1.15 0 1 0 2.3 0a1.15 1.15 0 1 0-2.3 0M488.55 635.64a1.15 1.15 0 1 0 2.3 0a1.15 1.15 0 1 0-2.3 0M490.89 635.29a1.15 1.15 0 1 0 2.3 0a1.15 1.15 0 1 0-2.3 0M491.64 636.67a1.15 1.15 0 1 0 2.3 0a1.15 1.15 0 1 0-2.3 0M491.9 635.55a1.15 1.15 0 1 0 2.3 0a1.15 1.15 0 1 0-2.3 0M489.57 635.34a1.15 1.15 0 1 0 2.3 0a1.15 1.15 0 1 0-2.3 0M488.85 625.73a1.15 1.15 0 1 0 2.3 0a1.15 1.15 0 1 0-2.3 0M488.83 635.25a1.15 1.15 0 1 0 2.3 0a1.15 1.15 0 1 0-2.3 0M488.52 636.42a1.15 1.15 0 1 0 2.3 0a1.15 1.15 0 1 0-2.3 0M489.15 636.54a1.15 1.15 0 1 0 2.3 0a1.15 1.15 0 1 0-2.3 0M488.66 636.32a1.15 1.15 0 1 0 2.3 0a1.15 1.15 0 1 0-2.3 0M489.18 636.76a1.15 1.15 0 1 0 2.3 0a1.15 1.15 0 1 0-2.3 0"/>
<polygon fill="#e0197f" points="495.7,651.55 495.7,640.51 496.37,636.4 497.03,636.9 497.7,638.26 498.37,636.51 499.03,638.08 499.7,636.96 500.37,636.4 501.03,637.96 501.7,640.51 501.7,651.55"/>
<path fill="#e0197f" d="M499.52 635.5a1.15 1.15 0 1 0 2.3 0a1.15 1.15 0 1 0-2.3 0M496.86 634.71a1.15 1.15 0 1 0 2.3 0a1.15 1.15 0 1 0-2.3 0M496.85 636.66a1.15 1.15 0 1 0 2.3 0a1.15 1.15 0 1 0-2.3 0M496.19 637.27a1.15 1.15 0 1 0 2.3 0a1.15 1.15 0 1 0-2.3 0M496.71 635.07a1.15 1.15 0 1 0 2.3 0a1.15 1.15 0 1 0-2.3 0M498.39 635.74a1.15 1.15 0 1 0 2.3 0a1.15 1.15 0 1 0-2.3 0M497.46 634.49a1.15 1.15 0 1 0 2.3 0a1.15 1.15 0 1 0-2.3 0M498.35 622.45a1.15 1.15 0 1 0 2.3 0a1.15 1.15 0 1 0-2.3 0M498.34 627.82a1.15 1.15 0 1 0 2.3 0a1.15 1.15 0 1 0-2.3 0M497.86 636.12a1.15 1.15 0 1 0 2.3 0a1.15 1.15 0 1 0-2.3 0M498.23 631.43a1.15 1.15 0 1 0 2.3 0a1.15 1.15 0 1 0-2.3 0M498.43 630.81a1.15 1.15 0 1 0 2.3 0a1.15 1.15 0 1 0-2.3 0"/>
<polygon fill="#ee7020" points="502.2,651.55 502.2,639.39 502.89,635.19 503.58,636.11 504.27,635.03 504.96,635.63 505.65,635.77 506.34,635.02 507.03,636.92 507.72,634.94 508.41,635.16 509.1,639.39 509.1,651.55"/>
<path fill="#ee7020" d="M502.66 632.82a1.15 1.15 0 1 0 2.3 0a1.15 1.15 0 1 0-2.3 0M502.54 633.53a1.15 1.15 0 1 0 2.3 0a1.15 1.15 0 1 0-2.3 0M502.5 634.58a1.15 1.15 0 1 0 2.3 0a1.15 1.15 0 1 0-2.3 0M503.69 635.82a1.15 1.15 0 1 0 2.3 0a1.15 1.15 0 1 0-2.3 0M502.32 634.02a1.15 1.15 0 1 0 2.3 0a1.15 1.15 0 1 0-2.3 0M505.99 633.72a1.15 1.15 0 1 0 2.3 0a1.15 1.15 0 1 0-2.3 0M502.82 634.26a1.15 1.15 0 1 0 2.3 0a1.15 1.15 0 1 0-2.3 0M503.88 635.48a1.15 1.15 0 1 0 2.3 0a1.15 1.15 0 1 0-2.3 0M504.85 620.36a1.15 1.15 0 1 0 2.3 0a1.15 1.15 0 1 0-2.3 0M504.6 628.67a1.15 1.15 0 1 0 2.3 0a1.15 1.15 0 1 0-2.3 0M504.53 630.08a1.15 1.15 0 1 0 2.3 0a1.15 1.15 0 1 0-2.3 0M504.8 633.7a1.15 1.15 0 1 0 2.3 0a1.15 1.15 0 1 0-2.3 0M504.69 635.04a1.15 1.15 0 1 0 2.3 0a1.15 1.15 0 1 0-2.3 0M505.34 633.76a1.15 1.15 0 1 0 2.3 0a1.15 1.15 0 1 0-2.3 0M504.72 634.62a1.15 1.15 0 1 0 2.3 0a1.15 1.15 0 1 0-2.3 0"/>
<polygon fill="#d98ac2" points="509.9,651.55 509.9,638.27 510.59,635.23 511.28,633.3 511.97,635.43 512.66,635.28 513.34,634.57 514.03,635.24 514.72,633.78 515.41,633.89 516.1,638.27 516.1,651.55"/>
<path fill="#d98ac2" d="M512.62 630.82a1.15 1.15 0 1 0 2.3 0a1.15 1.15 0 1 0-2.3 0M510.49 634.55a1.15 1.15 0 1 0 2.3 0a1.15 1.15 0 1 0-2.3 0M510.23 634.22a1.15 1.15 0 1 0 2.3 0a1.15 1.15 0 1 0-2.3 0M511.8 633.79a1.15 1.15 0 1 0 2.3 0a1.15 1.15 0 1 0-2.3 0M511.55 632.03a1.15 1.15 0 1 0 2.3 0a1.15 1.15 0 1 0-2.3 0M513.46 633.99a1.15 1.15 0 1 0 2.3 0a1.15 1.15 0 1 0-2.3 0M512.9 632.48a1.15 1.15 0 1 0 2.3 0a1.15 1.15 0 1 0-2.3 0M511.13 631.28a1.15 1.15 0 1 0 2.3 0a1.15 1.15 0 1 0-2.3 0M510.85 624.24a1.15 1.15 0 1 0 2.3 0a1.15 1.15 0 1 0-2.3 0M510.99 628.53a1.15 1.15 0 1 0 2.3 0a1.15 1.15 0 1 0-2.3 0M510.71 627.36a1.15 1.15 0 1 0 2.3 0a1.15 1.15 0 1 0-2.3 0M510.78 633.18a1.15 1.15 0 1 0 2.3 0a1.15 1.15 0 1 0-2.3 0M510.49 628.24a1.15 1.15 0 1 0 2.3 0a1.15 1.15 0 1 0-2.3 0"/>
<polygon fill="#80d2a6" points="516.6,651.55 516.6,639.39 517.31,634.72 518.02,635.62 518.73,636.27 519.44,634.77 520.16,636.91 520.87,635.39 521.58,636.03 522.29,636.62 523,639.39 523,651.55"/>
<path fill="#80d2a6" d="M520.82 636.09a1.15 1.15 0 1 0 2.3 0a1.15 1.15 0 1 0-2.3 0M519.65 632.5a1.15 1.15 0 1 0 2.3 0a1.15 1.15 0 1 0-2.3 0M517.92 636.08a1.15 1.15 0 1 0 2.3 0a1.15 1.15 0 1 0-2.3 0M517.33 635.89a1.15 1.15 0 1 0 2.3 0a1.15 1.15 0 1 0-2.3 0M520.33 636a1.15 1.15 0 1 0 2.3 0a1.15 1.15 0 1 0-2.3 0M518.85 633.12a1.15 1.15 0 1 0 2.3 0a1.15 1.15 0 1 0-2.3 0M518.81 632.82a1.15 1.15 0 1 0 2.3 0a1.15 1.15 0 1 0-2.3 0M517.29 633.66a1.15 1.15 0 1 0 2.3 0a1.15 1.15 0 1 0-2.3 0"/>
<polygon fill="#8b1a36" points="523.5,651.55 523.5,637.15 524.15,632.35 524.81,633.12 525.46,633.19 526.12,633.18 526.77,633.85 527.43,633.16 528.08,632.51 528.74,633.67 529.39,632.34 530.05,632.57 530.7,637.15 530.7,651.55"/>
<path fill="#8b1a36" d="M528.21 629.26a1.15 1.15 0 1 0 2.3 0a1.15 1.15 0 1 0-2.3 0M525.76 630.69a1.15 1.15 0 1 0 2.3 0a1.15 1.15 0 1 0-2.3 0M527.36 630.51a1.15 1.15 0 1 0 2.3 0a1.15 1.15 0 1 0-2.3 0M525.31 633.23a1.15 1.15 0 1 0 2.3 0a1.15 1.15 0 1 0-2.3 0M523.86 633.04a1.15 1.15 0 1 0 2.3 0a1.15 1.15 0 1 0-2.3 0M527.46 633.17a1.15 1.15 0 1 0 2.3 0a1.15 1.15 0 1 0-2.3 0M524.42 632.7a1.15 1.15 0 1 0 2.3 0a1.15 1.15 0 1 0-2.3 0M524.52 632.37a1.15 1.15 0 1 0 2.3 0a1.15 1.15 0 1 0-2.3 0M523.51 629.94a1.15 1.15 0 1 0 2.3 0a1.15 1.15 0 1 0-2.3 0"/>
<circle cx="532" cy="649.61" r="0.9" fill="#1f7a52"/>
<text x="210.3" y="512.2" font-family="'Liberation Serif', 'Times New Roman', serif" font-weight="bold" font-size="7.6" text-anchor="middle">Chr</text>
<text x="223" y="512.2" font-family="'Liberation Serif', 'Times New Roman', serif" font-weight="bold" font-size="7.6" text-anchor="middle">1</text>
<text x="239" y="512.2" font-family="'Liberation Serif', 'Times New Roman', serif" font-weight="bold" font-size="7.6" text-anchor="middle">2</text>
<text x="254.4" y="512.2" font-family="'Liberation Serif', 'Times New Roman', serif" font-weight="bold" font-size="7.6" text-anchor="middle">3</text>
<text x="268.8" y="512.2" font-family="'Liberation Serif', 'Times New Roman', serif" font-weight="bold" font-size="7.6" text-anchor="middle">4</text>
<text x="284" y="512.2" font-family="'Liberation Serif', 'Times New Roman', serif" font-weight="bold" font-size="7.6" text-anchor="middle">5</text>
<text x="298" y="512.2" font-family="'Liberation Serif', 'Times New Roman', serif" font-weight="bold" font-size="7.6" text-anchor="middle">6</text>
<text x="311.6" y="512.2" font-family="'Liberation Serif', 'Times New Roman', serif" font-weight="bold" font-size="7.6" text-anchor="middle">7</text>
<text x="325.6" y="512.2" font-family="'Liberation Serif', 'Times New Roman', serif" font-weight="bold" font-size="7.6" text-anchor="middle">8</text>
<text x="337.6" y="512.2" font-family="'Liberation Serif', 'Times New Roman', serif" font-weight="bold" font-size="7.6" text-anchor="middle">9</text>
<text x="351" y="512.2" font-family="'Liberation Serif', 'Times New Roman', serif" font-weight="bold" font-size="7.6" text-anchor="middle">10</text>
<text x="363" y="512.2" font-family="'Liberation Serif', 'Times New Roman', serif" font-weight="bold" font-size="7.6" text-anchor="middle">11</text>
<text x="375" y="512.2" font-family="'Liberation Serif', 'Times New Roman', serif" font-weight="bold" font-size="7.6" text-anchor="middle">12</text>
<text x="386.6" y="512.2" font-family="'Liberation Serif', 'Times New Roman', serif" font-weight="bold" font-size="7.6" text-anchor="middle">13</text>
<text x="398.6" y="512.2" font-family="'Liberation Serif', 'Times New Roman', serif" font-weight="bold" font-size="7.6" text-anchor="middle">14</text>
<text x="408.6" y="512.2" font-family="'Liberation Serif', 'Times New Roman', serif" font-weight="bold" font-size="7.6" text-anchor="middle">15</text>
<text x="420" y="512.2" font-family="'Liberation Serif', 'Times New Roman', serif" font-weight="bold" font-size="7.6" text-anchor="middle">16</text>
<text x="430" y="512.2" font-family="'Liberation Serif', 'Times New Roman', serif" font-weight="bold" font-size="7.6" text-anchor="middle">17</text>
<text x="440" y="512.2" font-family="'Liberation Serif', 'Times New Roman', serif" font-weight="bold" font-size="7.6" text-anchor="middle">18</text>
<text x="449.6" y="512.2" font-family="'Liberation Serif', 'Times New Roman', serif" font-weight="bold" font-size="7.6" text-anchor="middle">19</text>
<text x="459.6" y="512.2" font-family="'Liberation Serif', 'Times New Roman', serif" font-weight="bold" font-size="7.6" text-anchor="middle">20</text>
<text x="469.6" y="512.2" font-family="'Liberation Serif', 'Times New Roman', serif" font-weight="bold" font-size="7.6" text-anchor="middle">21</text>
<text x="479.4" y="512.2" font-family="'Liberation Serif', 'Times New Roman', serif" font-weight="bold" font-size="7.6" text-anchor="middle">22</text>
<text x="493.4" y="512.2" font-family="'Liberation Serif', 'Times New Roman', serif" font-weight="bold" font-size="7.6" text-anchor="middle">24</text>
<text x="509.2" y="512.2" font-family="'Liberation Serif', 'Times New Roman', serif" font-weight="bold" font-size="7.6" text-anchor="middle">26</text>
<text x="522.8" y="512.2" font-family="'Liberation Serif', 'Times New Roman', serif" font-weight="bold" font-size="7.6" text-anchor="middle">28</text>
<text x="537.6" y="512.2" font-family="'Liberation Serif', 'Times New Roman', serif" font-weight="bold" font-size="7.6" text-anchor="middle">MT</text>
<text x="210.3" y="666.6" font-family="'Liberation Serif', 'Times New Roman', serif" font-weight="bold" font-size="7.6" text-anchor="middle">Chr</text>
<text x="223" y="666.6" font-family="'Liberation Serif', 'Times New Roman', serif" font-weight="bold" font-size="7.6" text-anchor="middle">1</text>
<text x="239" y="666.6" font-family="'Liberation Serif', 'Times New Roman', serif" font-weight="bold" font-size="7.6" text-anchor="middle">2</text>
<text x="254.4" y="666.6" font-family="'Liberation Serif', 'Times New Roman', serif" font-weight="bold" font-size="7.6" text-anchor="middle">3</text>
<text x="268.8" y="666.6" font-family="'Liberation Serif', 'Times New Roman', serif" font-weight="bold" font-size="7.6" text-anchor="middle">4</text>
<text x="284" y="666.6" font-family="'Liberation Serif', 'Times New Roman', serif" font-weight="bold" font-size="7.6" text-anchor="middle">5</text>
<text x="298" y="666.6" font-family="'Liberation Serif', 'Times New Roman', serif" font-weight="bold" font-size="7.6" text-anchor="middle">6</text>
<text x="311.6" y="666.6" font-family="'Liberation Serif', 'Times New Roman', serif" font-weight="bold" font-size="7.6" text-anchor="middle">7</text>
<text x="325.6" y="666.6" font-family="'Liberation Serif', 'Times New Roman', serif" font-weight="bold" font-size="7.6" text-anchor="middle">8</text>
<text x="337.6" y="666.6" font-family="'Liberation Serif', 'Times New Roman', serif" font-weight="bold" font-size="7.6" text-anchor="middle">9</text>
<text x="351" y="666.6" font-family="'Liberation Serif', 'Times New Roman', serif" font-weight="bold" font-size="7.6" text-anchor="middle">10</text>
<text x="363" y="666.6" font-family="'Liberation Serif', 'Times New Roman', serif" font-weight="bold" font-size="7.6" text-anchor="middle">11</text>
<text x="375" y="666.6" font-family="'Liberation Serif', 'Times New Roman', serif" font-weight="bold" font-size="7.6" text-anchor="middle">12</text>
<text x="386.6" y="666.6" font-family="'Liberation Serif', 'Times New Roman', serif" font-weight="bold" font-size="7.6" text-anchor="middle">13</text>
<text x="398.6" y="666.6" font-family="'Liberation Serif', 'Times New Roman', serif" font-weight="bold" font-size="7.6" text-anchor="middle">14</text>
<text x="408.6" y="666.6" font-family="'Liberation Serif', 'Times New Roman', serif" font-weight="bold" font-size="7.6" text-anchor="middle">15</text>
<text x="420" y="666.6" font-family="'Liberation Serif', 'Times New Roman', serif" font-weight="bold" font-size="7.6" text-anchor="middle">16</text>
<text x="430" y="666.6" font-family="'Liberation Serif', 'Times New Roman', serif" font-weight="bold" font-size="7.6" text-anchor="middle">17</text>
<text x="440" y="666.6" font-family="'Liberation Serif', 'Times New Roman', serif" font-weight="bold" font-size="7.6" text-anchor="middle">18</text>
<text x="449.6" y="666.6" font-family="'Liberation Serif', 'Times New Roman', serif" font-weight="bold" font-size="7.6" text-anchor="middle">19</text>
<text x="459.6" y="666.6" font-family="'Liberation Serif', 'Times New Roman', serif" font-weight="bold" font-size="7.6" text-anchor="middle">20</text>
<text x="469.6" y="666.6" font-family="'Liberation Serif', 'Times New Roman', serif" font-weight="bold" font-size="7.6" text-anchor="middle">21</text>
<text x="479.4" y="666.6" font-family="'Liberation Serif', 'Times New Roman', serif" font-weight="bold" font-size="7.6" text-anchor="middle">22</text>
<text x="493.4" y="666.6" font-family="'Liberation Serif', 'Times New Roman', serif" font-weight="bold" font-size="7.6" text-anchor="middle">24</text>
<text x="509.2" y="666.6" font-family="'Liberation Serif', 'Times New Roman', serif" font-weight="bold" font-size="7.6" text-anchor="middle">26</text>
<text x="522.8" y="666.6" font-family="'Liberation Serif', 'Times New Roman', serif" font-weight="bold" font-size="7.6" text-anchor="middle">28</text>
<text x="537.6" y="666.6" font-family="'Liberation Serif', 'Times New Roman', serif" font-weight="bold" font-size="7.6" text-anchor="middle">MT</text>
<text x="8.4" y="532.3" font-family="'Liberation Serif', 'Times New Roman', serif" font-weight="bold" font-size="12">G</text>
<line x1="40.2" y1="535.3" x2="40.2" y2="651.8" stroke="#333" stroke-width="1.3"/>
<line x1="37.8" y1="650.8" x2="40.2" y2="650.8" stroke="#333" stroke-width="0.9"/>
<text x="38.2" y="653.2" font-family="'Liberation Serif', 'Times New Roman', serif" font-weight="bold" font-size="7" text-anchor="end">0.0</text>
<line x1="37.8" y1="631.65" x2="40.2" y2="631.65" stroke="#333" stroke-width="0.9"/>
<text x="38.2" y="634.05" font-family="'Liberation Serif', 'Times New Roman', serif" font-weight="bold" font-size="7" text-anchor="end">0.1</text>
<line x1="37.8" y1="612.5" x2="40.2" y2="612.5" stroke="#333" stroke-width="0.9"/>
<text x="38.2" y="614.9" font-family="'Liberation Serif', 'Times New Roman', serif" font-weight="bold" font-size="7" text-anchor="end">0.2</text>
<line x1="37.8" y1="593.35" x2="40.2" y2="593.35" stroke="#333" stroke-width="0.9"/>
<text x="38.2" y="595.75" font-family="'Liberation Serif', 'Times New Roman', serif" font-weight="bold" font-size="7" text-anchor="end">0.3</text>
<line x1="37.8" y1="574.2" x2="40.2" y2="574.2" stroke="#333" stroke-width="0.9"/>
<text x="38.2" y="576.6" font-family="'Liberation Serif', 'Times New Roman', serif" font-weight="bold" font-size="7" text-anchor="end">0.4</text>
<line x1="37.8" y1="555.05" x2="40.2" y2="555.05" stroke="#333" stroke-width="0.9"/>
<text x="38.2" y="557.45" font-family="'Liberation Serif', 'Times New Roman', serif" font-weight="bold" font-size="7" text-anchor="end">0.5</text>
<line x1="37.8" y1="535.9" x2="40.2" y2="535.9" stroke="#333" stroke-width="0.9"/>
<text x="38.2" y="538.3" font-family="'Liberation Serif', 'Times New Roman', serif" font-weight="bold" font-size="7" text-anchor="end">0.6</text>
<line x1="45.5" y1="656.7" x2="161.79" y2="656.7" stroke="#333" stroke-width="1.3"/>
<line x1="45.9" y1="656.7" x2="45.9" y2="659" stroke="#333" stroke-width="0.9"/>
<text x="45.9" y="665.6" font-family="'Liberation Serif', 'Times New Roman', serif" font-weight="bold" font-size="7" text-anchor="middle">0</text>
<line x1="84.33" y1="656.7" x2="84.33" y2="659" stroke="#333" stroke-width="0.9"/>
<text x="84.33" y="665.6" font-family="'Liberation Serif', 'Times New Roman', serif" font-weight="bold" font-size="7" text-anchor="middle">100</text>
<line x1="122.76" y1="656.7" x2="122.76" y2="659" stroke="#333" stroke-width="0.9"/>
<text x="122.76" y="665.6" font-family="'Liberation Serif', 'Times New Roman', serif" font-weight="bold" font-size="7" text-anchor="middle">200</text>
<line x1="161.19" y1="656.7" x2="161.19" y2="659" stroke="#333" stroke-width="0.9"/>
<text x="161.19" y="665.6" font-family="'Liberation Serif', 'Times New Roman', serif" font-weight="bold" font-size="7" text-anchor="middle">300</text>
<text x="103.6" y="675.3" font-family="'Liberation Serif', 'Times New Roman', serif" font-weight="bold" font-size="6.8" text-anchor="middle">Distance (Kb)</text>
<text font-family="'Liberation Serif', 'Times New Roman', serif" font-weight="bold" font-size="6.4" transform="translate(26.2 591.8) rotate(-90)" text-anchor="middle">r<tspan font-size="4.2" dy="-2.6">2</tspan></text>
<polyline fill="none" stroke="#3cc43c" stroke-width="1.1" points="45.9,579.94 45.97,580.34 46.03,581.06 46.1,581.95 46.17,582.89 46.23,583.85 46.3,584.79 46.36,585.7 46.43,586.57 46.5,587.38 46.56,588.21 46.63,589.18 46.7,590.22 46.76,591.3 46.83,592.37 46.89,593.42 46.96,594.43 47.03,595.38 47.09,596.26 47.16,597.07 47.23,597.83 47.29,598.57 47.36,599.28 47.42,599.98 47.49,600.66 47.56,601.32 47.62,601.96 47.69,602.57 47.76,603.18 47.82,603.76 47.9,604.41 48.23,606.95 48.56,609.12 48.88,610.96 49.21,612.54 49.54,613.92 49.87,615.18 50.2,616.33 50.53,617.37 50.86,618.31 51.18,619.16 51.51,619.92 51.84,620.61 52.17,621.23 52.5,621.79 52.83,622.28 53.16,622.73 53.49,623.15 53.81,623.53 54.14,623.89 54.47,624.23 54.8,624.55 55.13,624.85 55.46,625.13 55.79,625.4 56.11,625.66 56.44,625.9 56.77,626.13 57.1,626.35 57.43,626.56 57.81,626.8 59.57,627.75 61.32,628.56 63.07,629.26 64.82,629.87 66.57,630.41 68.33,630.88 70.08,631.31 71.83,631.7 73.58,632.05 75.33,632.38 77.09,632.68 78.84,632.96 80.59,633.22 82.34,633.47 84.1,633.71 85.85,633.93 87.6,634.13 89.35,634.33 91.1,634.51 92.86,634.68 94.61,634.84 96.36,634.99 98.11,635.12 99.86,635.25 101.62,635.37 103.37,635.48 105.12,635.59 106.87,635.69 108.63,635.79 110.38,635.88 112.13,635.97 113.88,636.05 115.63,636.13 117.39,636.21 119.14,636.29 120.89,636.36 122.64,636.43 124.39,636.5 126.15,636.57 127.9,636.64 129.65,636.7 131.4,636.76 133.16,636.82 134.91,636.88 136.66,636.94 138.41,636.99 140.16,637.04 141.92,637.1 143.67,637.15 145.42,637.2 147.17,637.24 148.92,637.29 150.68,637.34 152.43,637.38 154.18,637.42 155.93,637.47 157.69,637.51 159.44,637.55 161.19,637.59"/>
<polyline fill="none" stroke="#ee6464" stroke-width="1.1" points="45.9,537.81 45.97,538.59 46.03,540.39 46.1,542.74 46.17,545.36 46.23,548.1 46.3,550.87 46.36,553.6 46.43,556.61 46.5,561.52 46.56,567.05 46.63,571.94 46.7,575.47 46.76,578.42 46.83,581.1 46.89,583.5 46.96,585.67 47.03,587.62 47.09,589.36 47.16,590.9 47.23,592.28 47.29,593.49 47.36,594.6 47.42,595.64 47.49,596.63 47.56,597.56 47.62,598.44 47.69,599.28 47.76,600.07 47.82,600.82 47.9,601.65 48.23,604.7 48.56,607.11 48.88,609.04 49.21,610.59 49.54,611.85 49.87,612.87 50.2,613.74 50.53,614.51 50.86,615.18 51.18,615.77 51.51,616.31 51.84,616.8 52.17,617.24 52.5,617.64 52.83,618.02 53.16,618.37 53.49,618.69 53.81,619 54.14,619.29 54.47,619.56 54.8,619.82 55.13,620.07 55.46,620.31 55.79,620.54 56.11,620.76 56.44,620.98 56.77,621.19 57.1,621.39 57.43,621.59 57.81,621.81 59.57,622.71 61.32,623.47 63.07,624.1 64.82,624.62 66.57,625.06 68.33,625.41 70.08,625.7 71.83,625.94 73.58,626.15 75.33,626.33 77.09,626.49 78.84,626.64 80.59,626.78 82.34,626.91 84.1,627.04 85.85,627.16 87.6,627.27 89.35,627.37 91.1,627.47 92.86,627.56 94.61,627.65 96.36,627.75 98.11,627.84 99.86,627.93 101.62,628.02 103.37,628.1 105.12,628.19 106.87,628.27 108.63,628.36 110.38,628.44 112.13,628.52 113.88,628.59 115.63,628.67 117.39,628.75 119.14,628.82 120.89,628.89 122.64,628.96 124.39,629.03 126.15,629.1 127.9,629.17 129.65,629.24 131.4,629.31 133.16,629.37 134.91,629.44 136.66,629.5 138.41,629.56 140.16,629.62 141.92,629.68 143.67,629.75 145.42,629.8 147.17,629.86 148.92,629.92 150.68,629.98 152.43,630.04 154.18,630.09 155.93,630.15 157.69,630.2 159.44,630.26 161.19,630.31"/>
<line x1="141.6" y1="539.3" x2="147.9" y2="539.3" stroke="#ee6464" stroke-width="1"/>
<text x="151" y="541.7" font-family="'Liberation Serif', 'Times New Roman', serif" font-weight="bold" font-size="6.8">Boer</text>
<line x1="141.6" y1="547.9" x2="147.9" y2="547.9" stroke="#3cc43c" stroke-width="1"/>
<text x="151" y="550.3" font-family="'Liberation Serif', 'Times New Roman', serif" font-weight="bold" font-size="6.8">HM</text>
</svg>
</body></html>
